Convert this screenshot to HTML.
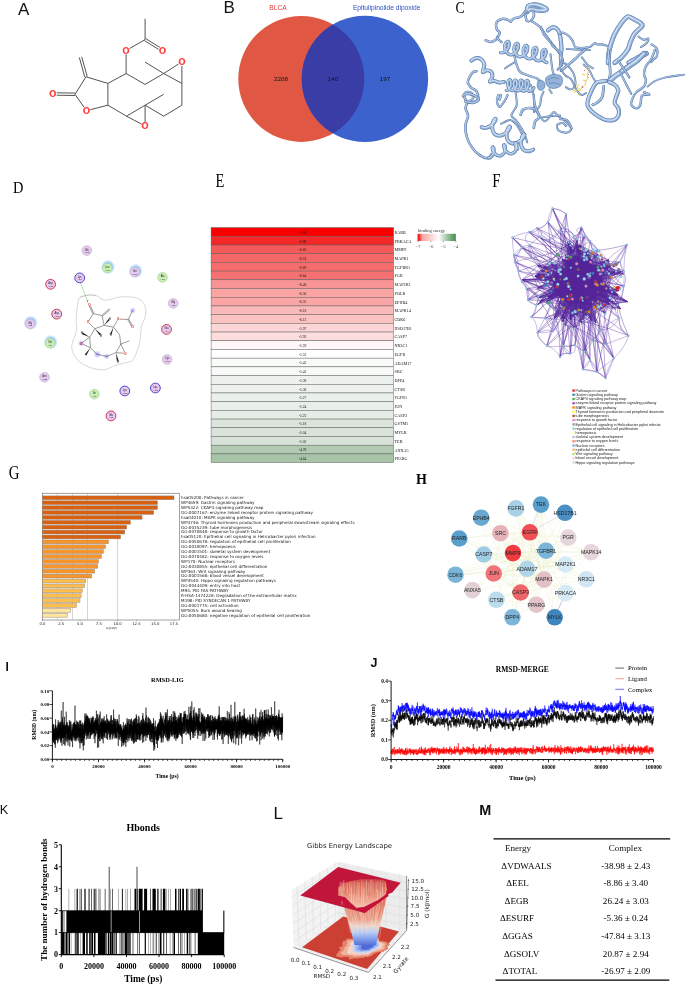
<!DOCTYPE html>
<html><head><meta charset="utf-8"><title>Figure</title>
<style>html,body{margin:0;padding:0;background:#fff;}svg{display:block;}</style>
</head><body>
<svg width="685" height="984" viewBox="0 0 685 984">
<rect width="685" height="984" fill="#fff"/>
<text x="18" y="14.8" font-size="17" font-family="'Liberation Sans',sans-serif" fill="#111">A</text>
<path d="M145.1 18.8L145.1 39.6M145.1 39.6L129.6 48.5M126.1 54.5L126.1 73.5M126.1 73.5L145.1 84.4M145.1 84.4L163.7 73.5M163.7 73.5L145.1 62.1M163.7 73.5L178.5 64M181.9 65.9L181.9 83.4M163.7 73.5L181.9 83.4M181.9 83.4L181.9 105.2M181.9 105.2L163.7 116.2M163.7 116.2L145.1 105.2M145.1 105.2L163.7 94.3M145.1 105.2L145.1 122M141.6 124.1L126.5 116.2M145.1 105.2L126.5 116.2M126.5 116.2L107.9 105.2M107.9 105.2L107.9 83.4M107.9 83.4L126.1 73.5M107.9 105.2L90.3 109.7M84.1 107.4L75 94.3M75 94.3L86 76.8M86 76.8L107.9 83.4M144.5 40.6L158.6 49.4M145.7 38.6L159.8 47.4M75 93.1L56.7 92.8M75 95.5L56.7 95.2M87.2 76.5L81.7 56.8M84.8 77.1L79.3 57.4" stroke="#4a4a4a" stroke-width="0.95" fill="none"/>
<text x="162.6" y="53.7" font-size="8.8" font-family="'DejaVu Sans',sans-serif" text-anchor="middle" font-weight="bold" fill="#ff4242">O</text>
<text x="145.1" y="129.2" font-size="8.8" font-family="'DejaVu Sans',sans-serif" text-anchor="middle" font-weight="bold" fill="#ff4242">O</text>
<text x="86.4" y="113.9" font-size="8.8" font-family="'DejaVu Sans',sans-serif" text-anchor="middle" font-weight="bold" fill="#ff4242">O</text>
<text x="52.7" y="97.1" font-size="8.8" font-family="'DejaVu Sans',sans-serif" text-anchor="middle" font-weight="bold" fill="#ff4242">O</text>
<text x="126.1" y="53.7" font-size="8.8" font-family="'DejaVu Sans',sans-serif" text-anchor="middle" font-weight="bold" fill="#ff4242">O</text>
<text x="181.9" y="65.1" font-size="8.8" font-family="'DejaVu Sans',sans-serif" text-anchor="middle" font-weight="bold" fill="#ff4242">O</text>
<text x="223.6" y="13.4" font-size="17" font-family="'Liberation Sans',sans-serif" fill="#111">B</text>
<text x="278" y="10.2" font-size="6.65" font-family="'Liberation Sans',sans-serif" text-anchor="middle" fill="#e03c36">BLCA</text>
<text x="386.7" y="10.2" font-size="6.65" font-family="'Liberation Sans',sans-serif" text-anchor="middle" fill="#2f4fc2">Epitulipinolide dipoxide</text>
<circle cx="301.3" cy="78.9" r="63" fill="#e05843"/>
<circle cx="364.9" cy="78.9" r="63.2" fill="#3c62cd"/>
<clipPath id="cr"><circle cx="301.3" cy="78.9" r="63"/></clipPath>
<circle cx="364.9" cy="78.9" r="63.2" fill="#3a3da5" clip-path="url(#cr)"/>
<text x="281" y="81.3" font-size="6.2" font-family="'Liberation Sans',sans-serif" text-anchor="middle" fill="#111">2208</text>
<text x="333" y="81.3" font-size="6.2" font-family="'Liberation Sans',sans-serif" text-anchor="middle" fill="#111">140</text>
<text x="385" y="81.3" font-size="6.2" font-family="'Liberation Sans',sans-serif" text-anchor="middle" fill="#111">197</text>
<text x="455.6" y="12.6" font-size="17.5" font-family="'Liberation Serif',serif" transform="translate(455.6 0) scale(0.78 1) translate(-455.6 0)">C</text>
<path d="M527.0 12.0C527.2 11.0 527.2 7.2 528.2 6.0C529.2 4.8 531.2 4.8 533.0 4.7C534.8 4.6 536.5 4.6 538.7 5.3C540.9 6.0 545.5 7.9 546.3 8.8C547.1 9.7 545.2 10.3 543.4 10.5C541.5 10.7 537.4 10.1 535.2 9.9C533.1 9.7 531.8 9.0 530.5 9.3C529.2 9.6 528.0 11.1 527.5 11.5" stroke="#4d6d9c" stroke-width="4.7" fill="none" stroke-linecap="round" stroke-linejoin="round"/>
<path d="M527.0 12.0C527.2 11.0 527.2 7.2 528.2 6.0C529.2 4.8 531.2 4.8 533.0 4.7C534.8 4.6 536.5 4.6 538.7 5.3C540.9 6.0 545.5 7.9 546.3 8.8C547.1 9.7 545.2 10.3 543.4 10.5C541.5 10.7 537.4 10.1 535.2 9.9C533.1 9.7 531.8 9.0 530.5 9.3C529.2 9.6 528.0 11.1 527.5 11.5" stroke="#8eaed7" stroke-width="3.9" fill="none" stroke-linecap="round" stroke-linejoin="round"/>
<path d="M527.0 12.0C527.2 11.0 527.2 7.2 528.2 6.0C529.2 4.8 531.2 4.8 533.0 4.7C534.8 4.6 536.5 4.6 538.7 5.3C540.9 6.0 545.5 7.9 546.3 8.8C547.1 9.7 545.2 10.3 543.4 10.5C541.5 10.7 537.4 10.1 535.2 9.9C533.1 9.7 531.8 9.0 530.5 9.3C529.2 9.6 528.0 11.1 527.5 11.5" stroke="#d3e2f4" stroke-width="1.36" fill="none" stroke-linecap="round" transform="translate(-0.3 -0.3)"/>
<path d="M524.7 11.7C524.8 12.4 525.1 14.4 525.5 16.0C525.9 17.6 526.0 20.4 527.0 21.0C528.0 21.6 530.5 20.9 531.7 19.9C532.9 18.9 533.8 16.7 534.0 15.2C534.2 13.7 533.2 11.7 533.0 11.0" stroke="#4d6d9c" stroke-width="2.5" fill="none" stroke-linecap="round" stroke-linejoin="round"/>
<path d="M524.7 11.7C524.8 12.4 525.1 14.4 525.5 16.0C525.9 17.6 526.0 20.4 527.0 21.0C528.0 21.6 530.5 20.9 531.7 19.9C532.9 18.9 533.8 16.7 534.0 15.2C534.2 13.7 533.2 11.7 533.0 11.0" stroke="#8eaed7" stroke-width="1.7" fill="none" stroke-linecap="round" stroke-linejoin="round"/>
<path d="M524.7 11.7C524.8 12.4 525.1 14.4 525.5 16.0C525.9 17.6 526.0 20.4 527.0 21.0C528.0 21.6 530.5 20.9 531.7 19.9C532.9 18.9 533.8 16.7 534.0 15.2C534.2 13.7 533.2 11.7 533.0 11.0" stroke="#d3e2f4" stroke-width="0.58" fill="none" stroke-linecap="round" transform="translate(-0.3 -0.3)"/>
<path d="M527.0 11.7C526.7 11.7 526.2 11.0 525.4 11.7C524.5 12.4 523.1 14.8 521.9 15.8C520.7 16.8 519.6 17.1 518.4 17.5C517.2 17.9 516.0 17.7 514.9 18.1C513.8 18.5 512.7 19.3 512.0 19.9C511.3 20.5 511.5 21.6 510.8 21.6C510.1 21.6 509.2 20.4 507.9 19.9C506.6 19.4 504.8 18.6 503.2 18.7C501.6 18.8 499.7 19.6 498.5 20.4C497.3 21.2 496.5 21.9 496.2 23.4C495.9 24.9 496.2 27.6 496.8 29.2C497.4 30.8 499.6 31.3 499.7 32.7C499.8 34.1 498.2 36.1 497.4 37.4C496.6 38.7 496.2 39.5 495.0 40.3C493.8 41.1 491.9 42.0 490.4 42.0C488.8 42.0 486.5 40.6 485.7 40.3" stroke="#4d6d9c" stroke-width="2.5" fill="none" stroke-linecap="round" stroke-linejoin="round"/>
<path d="M527.0 11.7C526.7 11.7 526.2 11.0 525.4 11.7C524.5 12.4 523.1 14.8 521.9 15.8C520.7 16.8 519.6 17.1 518.4 17.5C517.2 17.9 516.0 17.7 514.9 18.1C513.8 18.5 512.7 19.3 512.0 19.9C511.3 20.5 511.5 21.6 510.8 21.6C510.1 21.6 509.2 20.4 507.9 19.9C506.6 19.4 504.8 18.6 503.2 18.7C501.6 18.8 499.7 19.6 498.5 20.4C497.3 21.2 496.5 21.9 496.2 23.4C495.9 24.9 496.2 27.6 496.8 29.2C497.4 30.8 499.6 31.3 499.7 32.7C499.8 34.1 498.2 36.1 497.4 37.4C496.6 38.7 496.2 39.5 495.0 40.3C493.8 41.1 491.9 42.0 490.4 42.0C488.8 42.0 486.5 40.6 485.7 40.3" stroke="#8eaed7" stroke-width="1.7" fill="none" stroke-linecap="round" stroke-linejoin="round"/>
<path d="M527.0 11.7C526.7 11.7 526.2 11.0 525.4 11.7C524.5 12.4 523.1 14.8 521.9 15.8C520.7 16.8 519.6 17.1 518.4 17.5C517.2 17.9 516.0 17.7 514.9 18.1C513.8 18.5 512.7 19.3 512.0 19.9C511.3 20.5 511.5 21.6 510.8 21.6C510.1 21.6 509.2 20.4 507.9 19.9C506.6 19.4 504.8 18.6 503.2 18.7C501.6 18.8 499.7 19.6 498.5 20.4C497.3 21.2 496.5 21.9 496.2 23.4C495.9 24.9 496.2 27.6 496.8 29.2C497.4 30.8 499.6 31.3 499.7 32.7C499.8 34.1 498.2 36.1 497.4 37.4C496.6 38.7 496.2 39.5 495.0 40.3C493.8 41.1 491.9 42.0 490.4 42.0C488.8 42.0 486.5 40.6 485.7 40.3" stroke="#d3e2f4" stroke-width="0.58" fill="none" stroke-linecap="round" transform="translate(-0.3 -0.3)"/>
<path d="M497.4 37.4C497.7 37.8 498.3 39.2 499.0 40.0C499.7 40.8 501.1 41.7 501.5 42.0" stroke="#4d6d9c" stroke-width="2.5" fill="none" stroke-linecap="round" stroke-linejoin="round"/>
<path d="M497.4 37.4C497.7 37.8 498.3 39.2 499.0 40.0C499.7 40.8 501.1 41.7 501.5 42.0" stroke="#8eaed7" stroke-width="1.7" fill="none" stroke-linecap="round" stroke-linejoin="round"/>
<path d="M497.4 37.4C497.7 37.8 498.3 39.2 499.0 40.0C499.7 40.8 501.1 41.7 501.5 42.0" stroke="#d3e2f4" stroke-width="0.58" fill="none" stroke-linecap="round" transform="translate(-0.3 -0.3)"/>
<path d="M531.7 21.0C533.1 22.0 537.6 24.6 539.9 26.9C542.2 29.2 543.6 32.1 545.7 35.0C547.8 37.9 550.4 41.3 552.7 44.4C555.0 47.5 558.0 51.1 559.7 53.7C561.4 56.3 562.5 59.0 563.0 60.0" stroke="#4d6d9c" stroke-width="2.2" fill="none" stroke-linecap="round" stroke-linejoin="round"/>
<path d="M531.7 21.0C533.1 22.0 537.6 24.6 539.9 26.9C542.2 29.2 543.6 32.1 545.7 35.0C547.8 37.9 550.4 41.3 552.7 44.4C555.0 47.5 558.0 51.1 559.7 53.7C561.4 56.3 562.5 59.0 563.0 60.0" stroke="#8eaed7" stroke-width="1.4" fill="none" stroke-linecap="round" stroke-linejoin="round"/>
<path d="M531.7 21.0C533.1 22.0 537.6 24.6 539.9 26.9C542.2 29.2 543.6 32.1 545.7 35.0C547.8 37.9 550.4 41.3 552.7 44.4C555.0 47.5 558.0 51.1 559.7 53.7C561.4 56.3 562.5 59.0 563.0 60.0" stroke="#d3e2f4" stroke-width="0.50" fill="none" stroke-linecap="round" transform="translate(-0.3 -0.3)"/>
<path d="M541.0 26.9C541.4 28.1 542.2 31.8 543.4 33.9C544.6 36.0 546.7 38.2 548.0 39.7C549.3 41.2 550.5 42.5 551.0 43.0" stroke="#4d6d9c" stroke-width="2.0" fill="none" stroke-linecap="round" stroke-linejoin="round"/>
<path d="M541.0 26.9C541.4 28.1 542.2 31.8 543.4 33.9C544.6 36.0 546.7 38.2 548.0 39.7C549.3 41.2 550.5 42.5 551.0 43.0" stroke="#8eaed7" stroke-width="1.2" fill="none" stroke-linecap="round" stroke-linejoin="round"/>
<path d="M541.0 26.9C541.4 28.1 542.2 31.8 543.4 33.9C544.6 36.0 546.7 38.2 548.0 39.7C549.3 41.2 550.5 42.5 551.0 43.0" stroke="#d3e2f4" stroke-width="0.42" fill="none" stroke-linecap="round" transform="translate(-0.3 -0.3)"/>
<path d="M548.0 30.4C548.8 29.9 551.1 27.6 552.7 27.4C554.3 27.2 556.2 28.1 557.4 29.2C558.6 30.3 559.1 31.9 559.7 33.9C560.3 35.9 560.6 38.4 560.9 40.9C561.2 43.4 561.5 46.9 561.5 49.0C561.5 51.1 561.0 51.8 560.9 53.7C560.8 55.6 561.0 58.3 561.0 60.2C561.0 62.1 561.0 64.1 561.0 64.9" stroke="#4d6d9c" stroke-width="4.1" fill="none" stroke-linecap="round" stroke-linejoin="round"/>
<path d="M548.0 30.4C548.8 29.9 551.1 27.6 552.7 27.4C554.3 27.2 556.2 28.1 557.4 29.2C558.6 30.3 559.1 31.9 559.7 33.9C560.3 35.9 560.6 38.4 560.9 40.9C561.2 43.4 561.5 46.9 561.5 49.0C561.5 51.1 561.0 51.8 560.9 53.7C560.8 55.6 561.0 58.3 561.0 60.2C561.0 62.1 561.0 64.1 561.0 64.9" stroke="#8eaed7" stroke-width="3.3" fill="none" stroke-linecap="round" stroke-linejoin="round"/>
<path d="M548.0 30.4C548.8 29.9 551.1 27.6 552.7 27.4C554.3 27.2 556.2 28.1 557.4 29.2C558.6 30.3 559.1 31.9 559.7 33.9C560.3 35.9 560.6 38.4 560.9 40.9C561.2 43.4 561.5 46.9 561.5 49.0C561.5 51.1 561.0 51.8 560.9 53.7C560.8 55.6 561.0 58.3 561.0 60.2C561.0 62.1 561.0 64.1 561.0 64.9" stroke="#d3e2f4" stroke-width="1.16" fill="none" stroke-linecap="round" transform="translate(-0.3 -0.3)"/>
<path d="M559.7 33.9C560.3 33.7 561.7 32.3 563.2 32.7C564.8 33.1 567.4 34.8 569.0 36.2C570.6 37.6 571.6 39.1 572.6 40.9C573.6 42.6 573.9 45.5 574.9 46.7C575.9 47.9 576.8 47.7 578.4 47.9C580.0 48.1 582.2 48.1 584.2 47.9C586.2 47.7 588.4 47.5 590.1 46.7C591.9 45.9 593.5 43.6 594.7 43.2C595.9 42.8 596.0 44.2 597.1 44.4C598.2 44.6 600.0 44.2 601.6 44.4C603.2 44.6 605.9 45.5 606.8 45.7" stroke="#4d6d9c" stroke-width="2.1" fill="none" stroke-linecap="round" stroke-linejoin="round"/>
<path d="M559.7 33.9C560.3 33.7 561.7 32.3 563.2 32.7C564.8 33.1 567.4 34.8 569.0 36.2C570.6 37.6 571.6 39.1 572.6 40.9C573.6 42.6 573.9 45.5 574.9 46.7C575.9 47.9 576.8 47.7 578.4 47.9C580.0 48.1 582.2 48.1 584.2 47.9C586.2 47.7 588.4 47.5 590.1 46.7C591.9 45.9 593.5 43.6 594.7 43.2C595.9 42.8 596.0 44.2 597.1 44.4C598.2 44.6 600.0 44.2 601.6 44.4C603.2 44.6 605.9 45.5 606.8 45.7" stroke="#8eaed7" stroke-width="1.3" fill="none" stroke-linecap="round" stroke-linejoin="round"/>
<path d="M559.7 33.9C560.3 33.7 561.7 32.3 563.2 32.7C564.8 33.1 567.4 34.8 569.0 36.2C570.6 37.6 571.6 39.1 572.6 40.9C573.6 42.6 573.9 45.5 574.9 46.7C575.9 47.9 576.8 47.7 578.4 47.9C580.0 48.1 582.2 48.1 584.2 47.9C586.2 47.7 588.4 47.5 590.1 46.7C591.9 45.9 593.5 43.6 594.7 43.2C595.9 42.8 596.0 44.2 597.1 44.4C598.2 44.6 600.0 44.2 601.6 44.4C603.2 44.6 605.9 45.5 606.8 45.7" stroke="#d3e2f4" stroke-width="0.46" fill="none" stroke-linecap="round" transform="translate(-0.3 -0.3)"/>
<path d="M566.7 49.0C568.1 49.1 572.5 49.3 575.0 49.5C577.5 49.7 579.5 49.9 582.0 50.0C584.5 50.1 588.7 50.2 590.0 50.2" stroke="#4d6d9c" stroke-width="1.8" fill="none" stroke-linecap="round" stroke-linejoin="round"/>
<path d="M566.7 49.0C568.1 49.1 572.5 49.3 575.0 49.5C577.5 49.7 579.5 49.9 582.0 50.0C584.5 50.1 588.7 50.2 590.0 50.2" stroke="#8eaed7" stroke-width="1.0" fill="none" stroke-linecap="round" stroke-linejoin="round"/>
<path d="M566.7 49.0C568.1 49.1 572.5 49.3 575.0 49.5C577.5 49.7 579.5 49.9 582.0 50.0C584.5 50.1 588.7 50.2 590.0 50.2" stroke="#d3e2f4" stroke-width="0.35" fill="none" stroke-linecap="round" transform="translate(-0.3 -0.3)"/>
<path d="M550.5 54.3C550.7 56.1 551.3 62.0 551.7 64.9C552.1 67.8 552.5 70.4 552.9 71.9C553.3 73.5 553.8 73.8 554.0 74.2" stroke="#4d6d9c" stroke-width="2.0" fill="none" stroke-linecap="round" stroke-linejoin="round"/>
<path d="M550.5 54.3C550.7 56.1 551.3 62.0 551.7 64.9C552.1 67.8 552.5 70.4 552.9 71.9C553.3 73.5 553.8 73.8 554.0 74.2" stroke="#8eaed7" stroke-width="1.2" fill="none" stroke-linecap="round" stroke-linejoin="round"/>
<path d="M550.5 54.3C550.7 56.1 551.3 62.0 551.7 64.9C552.1 67.8 552.5 70.4 552.9 71.9C553.3 73.5 553.8 73.8 554.0 74.2" stroke="#d3e2f4" stroke-width="0.42" fill="none" stroke-linecap="round" transform="translate(-0.3 -0.3)"/>
<path d="M514.3 55.5C514.7 57.1 515.7 62.2 516.7 64.9C517.7 67.6 518.2 70.2 520.2 71.9C522.2 73.7 525.7 74.3 528.4 75.4C531.1 76.5 534.6 77.3 536.5 78.3C538.4 79.3 539.4 80.7 540.0 81.2" stroke="#4d6d9c" stroke-width="2.2" fill="none" stroke-linecap="round" stroke-linejoin="round"/>
<path d="M514.3 55.5C514.7 57.1 515.7 62.2 516.7 64.9C517.7 67.6 518.2 70.2 520.2 71.9C522.2 73.7 525.7 74.3 528.4 75.4C531.1 76.5 534.6 77.3 536.5 78.3C538.4 79.3 539.4 80.7 540.0 81.2" stroke="#8eaed7" stroke-width="1.4" fill="none" stroke-linecap="round" stroke-linejoin="round"/>
<path d="M514.3 55.5C514.7 57.1 515.7 62.2 516.7 64.9C517.7 67.6 518.2 70.2 520.2 71.9C522.2 73.7 525.7 74.3 528.4 75.4C531.1 76.5 534.6 77.3 536.5 78.3C538.4 79.3 539.4 80.7 540.0 81.2" stroke="#d3e2f4" stroke-width="0.50" fill="none" stroke-linecap="round" transform="translate(-0.3 -0.3)"/>
<path d="M505.0 68.4C505.8 67.8 508.4 66.0 510.0 65.0C511.6 64.0 513.6 62.9 514.3 62.5" stroke="#4d6d9c" stroke-width="1.8" fill="none" stroke-linecap="round" stroke-linejoin="round"/>
<path d="M505.0 68.4C505.8 67.8 508.4 66.0 510.0 65.0C511.6 64.0 513.6 62.9 514.3 62.5" stroke="#8eaed7" stroke-width="1.0" fill="none" stroke-linecap="round" stroke-linejoin="round"/>
<path d="M505.0 68.4C505.8 67.8 508.4 66.0 510.0 65.0C511.6 64.0 513.6 62.9 514.3 62.5" stroke="#d3e2f4" stroke-width="0.35" fill="none" stroke-linecap="round" transform="translate(-0.3 -0.3)"/>
<path d="M549.4 89.4C549.8 90.0 551.3 92.3 551.7 92.9" stroke="#4d6d9c" stroke-width="1.9" fill="none" stroke-linecap="round" stroke-linejoin="round"/>
<path d="M549.4 89.4C549.8 90.0 551.3 92.3 551.7 92.9" stroke="#8eaed7" stroke-width="1.1" fill="none" stroke-linecap="round" stroke-linejoin="round"/>
<path d="M549.4 89.4C549.8 90.0 551.3 92.3 551.7 92.9" stroke="#d3e2f4" stroke-width="0.39" fill="none" stroke-linecap="round" transform="translate(-0.3 -0.3)"/>
<path d="M551.7 45.0C552.2 45.5 553.6 46.8 555.0 48.0C556.4 49.2 558.7 50.4 559.9 52.0C561.1 53.6 562.0 55.6 562.2 57.8C562.4 59.9 561.8 63.0 561.0 64.9C560.2 66.9 558.2 68.7 557.6 69.5" stroke="#4d6d9c" stroke-width="2.2" fill="none" stroke-linecap="round" stroke-linejoin="round"/>
<path d="M551.7 45.0C552.2 45.5 553.6 46.8 555.0 48.0C556.4 49.2 558.7 50.4 559.9 52.0C561.1 53.6 562.0 55.6 562.2 57.8C562.4 59.9 561.8 63.0 561.0 64.9C560.2 66.9 558.2 68.7 557.6 69.5" stroke="#8eaed7" stroke-width="1.4" fill="none" stroke-linecap="round" stroke-linejoin="round"/>
<path d="M551.7 45.0C552.2 45.5 553.6 46.8 555.0 48.0C556.4 49.2 558.7 50.4 559.9 52.0C561.1 53.6 562.0 55.6 562.2 57.8C562.4 59.9 561.8 63.0 561.0 64.9C560.2 66.9 558.2 68.7 557.6 69.5" stroke="#d3e2f4" stroke-width="0.50" fill="none" stroke-linecap="round" transform="translate(-0.3 -0.3)"/>
<path d="M559.9 60.2C561.3 61.2 566.0 64.0 568.1 66.0C570.2 68.0 571.5 69.8 572.7 71.9C573.9 74.1 574.7 76.6 575.1 78.9C575.5 81.2 575.9 84.2 575.1 85.9C574.3 87.7 572.0 89.2 570.4 89.4C568.8 89.6 566.5 87.4 565.7 87.0" stroke="#4d6d9c" stroke-width="1.9" fill="none" stroke-linecap="round" stroke-linejoin="round"/>
<path d="M559.9 60.2C561.3 61.2 566.0 64.0 568.1 66.0C570.2 68.0 571.5 69.8 572.7 71.9C573.9 74.1 574.7 76.6 575.1 78.9C575.5 81.2 575.9 84.2 575.1 85.9C574.3 87.7 572.0 89.2 570.4 89.4C568.8 89.6 566.5 87.4 565.7 87.0" stroke="#8eaed7" stroke-width="1.1" fill="none" stroke-linecap="round" stroke-linejoin="round"/>
<path d="M559.9 60.2C561.3 61.2 566.0 64.0 568.1 66.0C570.2 68.0 571.5 69.8 572.7 71.9C573.9 74.1 574.7 76.6 575.1 78.9C575.5 81.2 575.9 84.2 575.1 85.9C574.3 87.7 572.0 89.2 570.4 89.4C568.8 89.6 566.5 87.4 565.7 87.0" stroke="#d3e2f4" stroke-width="0.39" fill="none" stroke-linecap="round" transform="translate(-0.3 -0.3)"/>
<path d="M561.0 70.7C562.2 69.8 565.6 67.0 568.0 65.0C570.4 63.0 573.1 60.8 575.1 59.0C577.1 57.2 578.4 55.5 580.0 54.0C581.6 52.5 584.2 50.4 585.0 49.7" stroke="#4d6d9c" stroke-width="2.6" fill="none" stroke-linecap="round" stroke-linejoin="round"/>
<path d="M561.0 70.7C562.2 69.8 565.6 67.0 568.0 65.0C570.4 63.0 573.1 60.8 575.1 59.0C577.1 57.2 578.4 55.5 580.0 54.0C581.6 52.5 584.2 50.4 585.0 49.7" stroke="#8eaed7" stroke-width="1.8" fill="none" stroke-linecap="round" stroke-linejoin="round"/>
<path d="M561.0 70.7C562.2 69.8 565.6 67.0 568.0 65.0C570.4 63.0 573.1 60.8 575.1 59.0C577.1 57.2 578.4 55.5 580.0 54.0C581.6 52.5 584.2 50.4 585.0 49.7" stroke="#d3e2f4" stroke-width="0.62" fill="none" stroke-linecap="round" transform="translate(-0.3 -0.3)"/>
<path d="M560.0 68.2C560.9 69.4 563.7 73.7 565.5 75.5C567.3 77.3 569.5 77.4 571.0 79.2C572.5 81.0 574.0 85.3 574.6 86.5" stroke="#4d6d9c" stroke-width="1.8" fill="none" stroke-linecap="round" stroke-linejoin="round"/>
<path d="M560.0 68.2C560.9 69.4 563.7 73.7 565.5 75.5C567.3 77.3 569.5 77.4 571.0 79.2C572.5 81.0 574.0 85.3 574.6 86.5" stroke="#8eaed7" stroke-width="1.0" fill="none" stroke-linecap="round" stroke-linejoin="round"/>
<path d="M560.0 68.2C560.9 69.4 563.7 73.7 565.5 75.5C567.3 77.3 569.5 77.4 571.0 79.2C572.5 81.0 574.0 85.3 574.6 86.5" stroke="#d3e2f4" stroke-width="0.35" fill="none" stroke-linecap="round" transform="translate(-0.3 -0.3)"/>
<path d="M581.9 57.3C582.8 58.5 585.6 62.8 587.4 64.6C589.2 66.4 591.9 67.6 592.8 68.2" stroke="#4d6d9c" stroke-width="2.0" fill="none" stroke-linecap="round" stroke-linejoin="round"/>
<path d="M581.9 57.3C582.8 58.5 585.6 62.8 587.4 64.6C589.2 66.4 591.9 67.6 592.8 68.2" stroke="#8eaed7" stroke-width="1.2" fill="none" stroke-linecap="round" stroke-linejoin="round"/>
<path d="M581.9 57.3C582.8 58.5 585.6 62.8 587.4 64.6C589.2 66.4 591.9 67.6 592.8 68.2" stroke="#d3e2f4" stroke-width="0.42" fill="none" stroke-linecap="round" transform="translate(-0.3 -0.3)"/>
<path d="M583.7 64.6C584.6 65.5 587.7 68.0 589.2 70.1C590.7 72.2 591.6 75.3 592.8 77.4C594.0 79.5 595.9 81.9 596.5 82.8" stroke="#4d6d9c" stroke-width="1.9" fill="none" stroke-linecap="round" stroke-linejoin="round"/>
<path d="M583.7 64.6C584.6 65.5 587.7 68.0 589.2 70.1C590.7 72.2 591.6 75.3 592.8 77.4C594.0 79.5 595.9 81.9 596.5 82.8" stroke="#8eaed7" stroke-width="1.1" fill="none" stroke-linecap="round" stroke-linejoin="round"/>
<path d="M583.7 64.6C584.6 65.5 587.7 68.0 589.2 70.1C590.7 72.2 591.6 75.3 592.8 77.4C594.0 79.5 595.9 81.9 596.5 82.8" stroke="#d3e2f4" stroke-width="0.39" fill="none" stroke-linecap="round" transform="translate(-0.3 -0.3)"/>
<path d="M608.1 62.8C608.2 61.0 608.5 55.1 609.0 52.0C609.5 48.9 609.8 47.4 610.8 44.4C611.8 41.4 613.0 37.4 614.7 33.9C616.5 30.4 619.1 26.2 621.3 23.4C623.5 20.5 625.6 17.4 627.8 16.8C630.0 16.2 632.2 18.4 634.4 19.5C636.6 20.6 639.7 22.3 641.0 23.4C642.3 24.5 642.5 25.1 642.3 26.0C642.1 26.9 641.0 27.4 639.7 28.7C638.4 30.0 635.9 31.7 634.4 33.9C632.9 36.1 631.6 39.2 630.5 41.8C629.4 44.4 629.3 47.1 627.8 49.7C626.3 52.3 623.5 55.4 621.3 57.6C619.1 59.8 615.8 61.9 614.7 62.8" stroke="#4d6d9c" stroke-width="4.7" fill="none" stroke-linecap="round" stroke-linejoin="round"/>
<path d="M608.1 62.8C608.2 61.0 608.5 55.1 609.0 52.0C609.5 48.9 609.8 47.4 610.8 44.4C611.8 41.4 613.0 37.4 614.7 33.9C616.5 30.4 619.1 26.2 621.3 23.4C623.5 20.5 625.6 17.4 627.8 16.8C630.0 16.2 632.2 18.4 634.4 19.5C636.6 20.6 639.7 22.3 641.0 23.4C642.3 24.5 642.5 25.1 642.3 26.0C642.1 26.9 641.0 27.4 639.7 28.7C638.4 30.0 635.9 31.7 634.4 33.9C632.9 36.1 631.6 39.2 630.5 41.8C629.4 44.4 629.3 47.1 627.8 49.7C626.3 52.3 623.5 55.4 621.3 57.6C619.1 59.8 615.8 61.9 614.7 62.8" stroke="#8eaed7" stroke-width="3.9" fill="none" stroke-linecap="round" stroke-linejoin="round"/>
<path d="M608.1 62.8C608.2 61.0 608.5 55.1 609.0 52.0C609.5 48.9 609.8 47.4 610.8 44.4C611.8 41.4 613.0 37.4 614.7 33.9C616.5 30.4 619.1 26.2 621.3 23.4C623.5 20.5 625.6 17.4 627.8 16.8C630.0 16.2 632.2 18.4 634.4 19.5C636.6 20.6 639.7 22.3 641.0 23.4C642.3 24.5 642.5 25.1 642.3 26.0C642.1 26.9 641.0 27.4 639.7 28.7C638.4 30.0 635.9 31.7 634.4 33.9C632.9 36.1 631.6 39.2 630.5 41.8C629.4 44.4 629.3 47.1 627.8 49.7C626.3 52.3 623.5 55.4 621.3 57.6C619.1 59.8 615.8 61.9 614.7 62.8" stroke="#d3e2f4" stroke-width="1.36" fill="none" stroke-linecap="round" transform="translate(-0.3 -0.3)"/>
<path d="M638.4 36.5C639.3 37.0 642.0 39.5 643.6 39.8C645.2 40.1 647.5 38.2 648.2 38.5C648.9 38.8 648.1 40.8 647.6 41.8C647.1 42.8 646.1 43.5 645.0 44.4C643.9 45.3 641.7 46.6 641.0 47.0" stroke="#4d6d9c" stroke-width="2.0" fill="none" stroke-linecap="round" stroke-linejoin="round"/>
<path d="M638.4 36.5C639.3 37.0 642.0 39.5 643.6 39.8C645.2 40.1 647.5 38.2 648.2 38.5C648.9 38.8 648.1 40.8 647.6 41.8C647.1 42.8 646.1 43.5 645.0 44.4C643.9 45.3 641.7 46.6 641.0 47.0" stroke="#8eaed7" stroke-width="1.2" fill="none" stroke-linecap="round" stroke-linejoin="round"/>
<path d="M638.4 36.5C639.3 37.0 642.0 39.5 643.6 39.8C645.2 40.1 647.5 38.2 648.2 38.5C648.9 38.8 648.1 40.8 647.6 41.8C647.1 42.8 646.1 43.5 645.0 44.4C643.9 45.3 641.7 46.6 641.0 47.0" stroke="#d3e2f4" stroke-width="0.42" fill="none" stroke-linecap="round" transform="translate(-0.3 -0.3)"/>
<path d="M629.2 62.8C630.3 62.2 634.0 60.1 636.0 59.0C638.0 57.9 639.3 56.9 641.0 56.0C642.7 55.1 645.3 54.0 646.2 53.6" stroke="#4d6d9c" stroke-width="5.3" fill="none" stroke-linecap="round" stroke-linejoin="round"/>
<path d="M629.2 62.8C630.3 62.2 634.0 60.1 636.0 59.0C638.0 57.9 639.3 56.9 641.0 56.0C642.7 55.1 645.3 54.0 646.2 53.6" stroke="#8eaed7" stroke-width="4.5" fill="none" stroke-linecap="round" stroke-linejoin="round"/>
<path d="M629.2 62.8C630.3 62.2 634.0 60.1 636.0 59.0C638.0 57.9 639.3 56.9 641.0 56.0C642.7 55.1 645.3 54.0 646.2 53.6" stroke="#d3e2f4" stroke-width="1.57" fill="none" stroke-linecap="round" transform="translate(-0.3 -0.3)"/>
<path d="M651.5 44.4C652.4 45.1 655.9 46.4 656.8 48.4C657.7 50.4 657.3 54.4 656.8 56.2C656.3 58.0 654.9 58.0 654.0 59.0C653.1 60.0 651.7 61.5 651.2 62.0" stroke="#4d6d9c" stroke-width="2.2" fill="none" stroke-linecap="round" stroke-linejoin="round"/>
<path d="M651.5 44.4C652.4 45.1 655.9 46.4 656.8 48.4C657.7 50.4 657.3 54.4 656.8 56.2C656.3 58.0 654.9 58.0 654.0 59.0C653.1 60.0 651.7 61.5 651.2 62.0" stroke="#8eaed7" stroke-width="1.4" fill="none" stroke-linecap="round" stroke-linejoin="round"/>
<path d="M651.5 44.4C652.4 45.1 655.9 46.4 656.8 48.4C657.7 50.4 657.3 54.4 656.8 56.2C656.3 58.0 654.9 58.0 654.0 59.0C653.1 60.0 651.7 61.5 651.2 62.0" stroke="#d3e2f4" stroke-width="0.50" fill="none" stroke-linecap="round" transform="translate(-0.3 -0.3)"/>
<path d="M608.4 50.0C608.5 51.8 609.0 57.0 609.3 61.0C609.6 65.0 610.4 70.4 610.2 73.7C610.1 77.0 608.7 79.8 608.4 81.0" stroke="#4d6d9c" stroke-width="2.6" fill="none" stroke-linecap="round" stroke-linejoin="round"/>
<path d="M608.4 50.0C608.5 51.8 609.0 57.0 609.3 61.0C609.6 65.0 610.4 70.4 610.2 73.7C610.1 77.0 608.7 79.8 608.4 81.0" stroke="#8eaed7" stroke-width="1.8" fill="none" stroke-linecap="round" stroke-linejoin="round"/>
<path d="M608.4 50.0C608.5 51.8 609.0 57.0 609.3 61.0C609.6 65.0 610.4 70.4 610.2 73.7C610.1 77.0 608.7 79.8 608.4 81.0" stroke="#d3e2f4" stroke-width="0.62" fill="none" stroke-linecap="round" transform="translate(-0.3 -0.3)"/>
<path d="M609.3 81.0C610.4 80.1 613.6 77.3 616.0 75.5C618.4 73.7 621.6 71.7 623.9 70.0C626.2 68.3 627.9 67.0 630.0 65.5C632.1 64.0 634.3 63.0 636.6 61.0C638.9 59.0 642.8 54.8 644.0 53.6" stroke="#4d6d9c" stroke-width="5.3" fill="none" stroke-linecap="round" stroke-linejoin="round"/>
<path d="M609.3 81.0C610.4 80.1 613.6 77.3 616.0 75.5C618.4 73.7 621.6 71.7 623.9 70.0C626.2 68.3 627.9 67.0 630.0 65.5C632.1 64.0 634.3 63.0 636.6 61.0C638.9 59.0 642.8 54.8 644.0 53.6" stroke="#8eaed7" stroke-width="4.5" fill="none" stroke-linecap="round" stroke-linejoin="round"/>
<path d="M609.3 81.0C610.4 80.1 613.6 77.3 616.0 75.5C618.4 73.7 621.6 71.7 623.9 70.0C626.2 68.3 627.9 67.0 630.0 65.5C632.1 64.0 634.3 63.0 636.6 61.0C638.9 59.0 642.8 54.8 644.0 53.6" stroke="#d3e2f4" stroke-width="1.57" fill="none" stroke-linecap="round" transform="translate(-0.3 -0.3)"/>
<path d="M618.4 61.0C619.3 62.3 622.2 66.3 624.0 69.0C625.8 71.7 628.4 76.0 629.3 77.4" stroke="#4d6d9c" stroke-width="2.3" fill="none" stroke-linecap="round" stroke-linejoin="round"/>
<path d="M618.4 61.0C619.3 62.3 622.2 66.3 624.0 69.0C625.8 71.7 628.4 76.0 629.3 77.4" stroke="#8eaed7" stroke-width="1.5" fill="none" stroke-linecap="round" stroke-linejoin="round"/>
<path d="M618.4 61.0C619.3 62.3 622.2 66.3 624.0 69.0C625.8 71.7 628.4 76.0 629.3 77.4" stroke="#d3e2f4" stroke-width="0.54" fill="none" stroke-linecap="round" transform="translate(-0.3 -0.3)"/>
<path d="M620.2 71.9C621.0 73.6 623.2 78.3 625.0 82.0C626.8 85.7 630.2 91.8 631.2 93.8" stroke="#4d6d9c" stroke-width="2.1" fill="none" stroke-linecap="round" stroke-linejoin="round"/>
<path d="M620.2 71.9C621.0 73.6 623.2 78.3 625.0 82.0C626.8 85.7 630.2 91.8 631.2 93.8" stroke="#8eaed7" stroke-width="1.3" fill="none" stroke-linecap="round" stroke-linejoin="round"/>
<path d="M620.2 71.9C621.0 73.6 623.2 78.3 625.0 82.0C626.8 85.7 630.2 91.8 631.2 93.8" stroke="#d3e2f4" stroke-width="0.46" fill="none" stroke-linecap="round" transform="translate(-0.3 -0.3)"/>
<path d="M605.6 81.0C604.1 81.3 598.9 81.0 596.5 82.8C594.1 84.6 592.5 88.6 591.0 92.0C589.5 95.4 587.7 100.3 587.4 103.0C587.1 105.7 588.0 106.6 589.2 108.4C590.4 110.2 592.3 112.1 594.7 113.9C597.1 115.7 600.8 118.2 603.8 119.3C606.8 120.4 610.5 120.9 612.9 120.3C615.3 119.7 617.5 117.7 618.4 115.7C619.3 113.7 619.0 110.5 618.4 108.4C617.8 106.3 615.0 105.1 614.7 103.0C614.4 100.9 616.0 97.8 616.6 95.6C617.2 93.4 618.7 91.9 618.4 90.1C618.1 88.3 616.3 86.0 614.7 84.7C613.1 83.4 610.0 82.5 609.0 82.0" stroke="#4d6d9c" stroke-width="4.0" fill="none" stroke-linecap="round" stroke-linejoin="round"/>
<path d="M605.6 81.0C604.1 81.3 598.9 81.0 596.5 82.8C594.1 84.6 592.5 88.6 591.0 92.0C589.5 95.4 587.7 100.3 587.4 103.0C587.1 105.7 588.0 106.6 589.2 108.4C590.4 110.2 592.3 112.1 594.7 113.9C597.1 115.7 600.8 118.2 603.8 119.3C606.8 120.4 610.5 120.9 612.9 120.3C615.3 119.7 617.5 117.7 618.4 115.7C619.3 113.7 619.0 110.5 618.4 108.4C617.8 106.3 615.0 105.1 614.7 103.0C614.4 100.9 616.0 97.8 616.6 95.6C617.2 93.4 618.7 91.9 618.4 90.1C618.1 88.3 616.3 86.0 614.7 84.7C613.1 83.4 610.0 82.5 609.0 82.0" stroke="#8eaed7" stroke-width="3.2" fill="none" stroke-linecap="round" stroke-linejoin="round"/>
<path d="M605.6 81.0C604.1 81.3 598.9 81.0 596.5 82.8C594.1 84.6 592.5 88.6 591.0 92.0C589.5 95.4 587.7 100.3 587.4 103.0C587.1 105.7 588.0 106.6 589.2 108.4C590.4 110.2 592.3 112.1 594.7 113.9C597.1 115.7 600.8 118.2 603.8 119.3C606.8 120.4 610.5 120.9 612.9 120.3C615.3 119.7 617.5 117.7 618.4 115.7C619.3 113.7 619.0 110.5 618.4 108.4C617.8 106.3 615.0 105.1 614.7 103.0C614.4 100.9 616.0 97.8 616.6 95.6C617.2 93.4 618.7 91.9 618.4 90.1C618.1 88.3 616.3 86.0 614.7 84.7C613.1 83.4 610.0 82.5 609.0 82.0" stroke="#d3e2f4" stroke-width="1.10" fill="none" stroke-linecap="round" transform="translate(-0.3 -0.3)"/>
<path d="M603.8 86.5C603.5 88.3 603.2 94.7 602.0 97.4C600.8 100.2 598.0 101.8 596.5 103.0C595.0 104.2 593.4 104.4 592.8 104.7" stroke="#4d6d9c" stroke-width="2.8" fill="none" stroke-linecap="round" stroke-linejoin="round"/>
<path d="M603.8 86.5C603.5 88.3 603.2 94.7 602.0 97.4C600.8 100.2 598.0 101.8 596.5 103.0C595.0 104.2 593.4 104.4 592.8 104.7" stroke="#8eaed7" stroke-width="2.0" fill="none" stroke-linecap="round" stroke-linejoin="round"/>
<path d="M603.8 86.5C603.5 88.3 603.2 94.7 602.0 97.4C600.8 100.2 598.0 101.8 596.5 103.0C595.0 104.2 593.4 104.4 592.8 104.7" stroke="#d3e2f4" stroke-width="0.69" fill="none" stroke-linecap="round" transform="translate(-0.3 -0.3)"/>
<path d="M654.9 50.0C654.3 51.5 652.7 56.4 651.2 59.1C649.7 61.8 647.0 64.0 645.8 66.4C644.6 68.8 644.0 71.6 644.0 73.7C644.0 75.8 645.5 78.0 645.8 79.2C646.1 80.4 646.1 79.8 645.8 81.0C645.5 82.2 645.5 84.7 644.0 86.5C642.5 88.3 638.4 90.2 636.6 92.0C634.8 93.8 633.9 95.3 633.0 97.4C632.1 99.5 630.6 102.9 631.2 104.7C631.8 106.5 635.1 108.4 636.6 108.4C638.1 108.4 639.4 106.8 640.3 104.7C641.2 102.6 640.6 97.3 642.1 95.6C643.6 93.9 649.1 95.3 649.4 94.7C649.7 94.1 644.9 92.5 644.0 92.0" stroke="#4d6d9c" stroke-width="2.3" fill="none" stroke-linecap="round" stroke-linejoin="round"/>
<path d="M654.9 50.0C654.3 51.5 652.7 56.4 651.2 59.1C649.7 61.8 647.0 64.0 645.8 66.4C644.6 68.8 644.0 71.6 644.0 73.7C644.0 75.8 645.5 78.0 645.8 79.2C646.1 80.4 646.1 79.8 645.8 81.0C645.5 82.2 645.5 84.7 644.0 86.5C642.5 88.3 638.4 90.2 636.6 92.0C634.8 93.8 633.9 95.3 633.0 97.4C632.1 99.5 630.6 102.9 631.2 104.7C631.8 106.5 635.1 108.4 636.6 108.4C638.1 108.4 639.4 106.8 640.3 104.7C641.2 102.6 640.6 97.3 642.1 95.6C643.6 93.9 649.1 95.3 649.4 94.7C649.7 94.1 644.9 92.5 644.0 92.0" stroke="#8eaed7" stroke-width="1.5" fill="none" stroke-linecap="round" stroke-linejoin="round"/>
<path d="M654.9 50.0C654.3 51.5 652.7 56.4 651.2 59.1C649.7 61.8 647.0 64.0 645.8 66.4C644.6 68.8 644.0 71.6 644.0 73.7C644.0 75.8 645.5 78.0 645.8 79.2C646.1 80.4 646.1 79.8 645.8 81.0C645.5 82.2 645.5 84.7 644.0 86.5C642.5 88.3 638.4 90.2 636.6 92.0C634.8 93.8 633.9 95.3 633.0 97.4C632.1 99.5 630.6 102.9 631.2 104.7C631.8 106.5 635.1 108.4 636.6 108.4C638.1 108.4 639.4 106.8 640.3 104.7C641.2 102.6 640.6 97.3 642.1 95.6C643.6 93.9 649.1 95.3 649.4 94.7C649.7 94.1 644.9 92.5 644.0 92.0" stroke="#d3e2f4" stroke-width="0.54" fill="none" stroke-linecap="round" transform="translate(-0.3 -0.3)"/>
<path d="M647.6 86.5C648.8 85.6 651.9 82.5 654.9 81.0C657.9 79.5 660.9 78.5 665.8 77.4C670.6 76.3 681.0 75.1 684.0 74.6" stroke="#4d6d9c" stroke-width="1.9" fill="none" stroke-linecap="round" stroke-linejoin="round"/>
<path d="M647.6 86.5C648.8 85.6 651.9 82.5 654.9 81.0C657.9 79.5 660.9 78.5 665.8 77.4C670.6 76.3 681.0 75.1 684.0 74.6" stroke="#8eaed7" stroke-width="1.1" fill="none" stroke-linecap="round" stroke-linejoin="round"/>
<path d="M647.6 86.5C648.8 85.6 651.9 82.5 654.9 81.0C657.9 79.5 660.9 78.5 665.8 77.4C670.6 76.3 681.0 75.1 684.0 74.6" stroke="#d3e2f4" stroke-width="0.39" fill="none" stroke-linecap="round" transform="translate(-0.3 -0.3)"/>
<path d="M471.3 60.7C472.2 60.2 474.8 58.1 476.5 58.0C478.2 57.9 480.5 58.6 481.8 59.8C483.1 61.0 484.2 63.0 484.4 65.0C484.5 67.0 482.3 71.1 482.7 72.0C483.1 72.9 485.6 70.3 487.0 70.3C488.4 70.3 490.5 70.8 491.4 72.0C492.3 73.2 492.6 75.7 492.3 77.3C492.0 78.9 489.4 81.1 489.7 81.7C490.0 82.3 492.4 80.7 494.0 80.8C495.6 80.9 497.6 82.4 499.3 82.6C501.0 82.8 503.2 82.1 504.0 82.0" stroke="#4d6d9c" stroke-width="3.8" fill="none" stroke-linecap="round" stroke-linejoin="round"/>
<path d="M471.3 60.7C472.2 60.2 474.8 58.1 476.5 58.0C478.2 57.9 480.5 58.6 481.8 59.8C483.1 61.0 484.2 63.0 484.4 65.0C484.5 67.0 482.3 71.1 482.7 72.0C483.1 72.9 485.6 70.3 487.0 70.3C488.4 70.3 490.5 70.8 491.4 72.0C492.3 73.2 492.6 75.7 492.3 77.3C492.0 78.9 489.4 81.1 489.7 81.7C490.0 82.3 492.4 80.7 494.0 80.8C495.6 80.9 497.6 82.4 499.3 82.6C501.0 82.8 503.2 82.1 504.0 82.0" stroke="#8eaed7" stroke-width="3.0" fill="none" stroke-linecap="round" stroke-linejoin="round"/>
<path d="M471.3 60.7C472.2 60.2 474.8 58.1 476.5 58.0C478.2 57.9 480.5 58.6 481.8 59.8C483.1 61.0 484.2 63.0 484.4 65.0C484.5 67.0 482.3 71.1 482.7 72.0C483.1 72.9 485.6 70.3 487.0 70.3C488.4 70.3 490.5 70.8 491.4 72.0C492.3 73.2 492.6 75.7 492.3 77.3C492.0 78.9 489.4 81.1 489.7 81.7C490.0 82.3 492.4 80.7 494.0 80.8C495.6 80.9 497.6 82.4 499.3 82.6C501.0 82.8 503.2 82.1 504.0 82.0" stroke="#d3e2f4" stroke-width="1.05" fill="none" stroke-linecap="round" transform="translate(-0.3 -0.3)"/>
<path d="M476.5 71.2C475.9 71.3 474.2 71.0 473.0 72.0C471.8 73.0 470.4 75.5 469.5 77.3C468.6 79.1 467.5 80.8 467.8 82.6C468.1 84.3 469.9 86.3 471.3 87.8C472.8 89.2 475.3 89.5 476.5 91.3C477.7 93.0 478.6 96.5 478.3 98.3C478.0 100.0 476.6 101.2 474.8 101.8C473.1 102.4 469.6 102.7 467.8 101.8C466.1 100.9 464.6 98.2 464.3 96.6C464.0 95.0 464.8 92.8 466.0 92.2C467.2 91.6 470.1 92.0 471.3 93.0C472.5 94.0 473.5 96.8 473.0 98.3C472.5 99.8 469.4 100.4 468.1 102.0C466.9 103.6 465.5 105.7 465.5 108.0C465.5 110.3 468.1 113.1 468.1 116.0C468.1 118.9 465.7 121.7 465.5 125.2C465.3 128.7 465.7 133.3 466.8 137.0C467.9 140.7 469.9 144.5 472.1 147.6C474.3 150.7 477.4 153.7 480.0 155.4C482.6 157.2 485.8 158.3 487.8 158.1C489.8 157.9 491.1 154.7 491.8 154.0" stroke="#4d6d9c" stroke-width="2.5" fill="none" stroke-linecap="round" stroke-linejoin="round"/>
<path d="M476.5 71.2C475.9 71.3 474.2 71.0 473.0 72.0C471.8 73.0 470.4 75.5 469.5 77.3C468.6 79.1 467.5 80.8 467.8 82.6C468.1 84.3 469.9 86.3 471.3 87.8C472.8 89.2 475.3 89.5 476.5 91.3C477.7 93.0 478.6 96.5 478.3 98.3C478.0 100.0 476.6 101.2 474.8 101.8C473.1 102.4 469.6 102.7 467.8 101.8C466.1 100.9 464.6 98.2 464.3 96.6C464.0 95.0 464.8 92.8 466.0 92.2C467.2 91.6 470.1 92.0 471.3 93.0C472.5 94.0 473.5 96.8 473.0 98.3C472.5 99.8 469.4 100.4 468.1 102.0C466.9 103.6 465.5 105.7 465.5 108.0C465.5 110.3 468.1 113.1 468.1 116.0C468.1 118.9 465.7 121.7 465.5 125.2C465.3 128.7 465.7 133.3 466.8 137.0C467.9 140.7 469.9 144.5 472.1 147.6C474.3 150.7 477.4 153.7 480.0 155.4C482.6 157.2 485.8 158.3 487.8 158.1C489.8 157.9 491.1 154.7 491.8 154.0" stroke="#8eaed7" stroke-width="1.7" fill="none" stroke-linecap="round" stroke-linejoin="round"/>
<path d="M476.5 71.2C475.9 71.3 474.2 71.0 473.0 72.0C471.8 73.0 470.4 75.5 469.5 77.3C468.6 79.1 467.5 80.8 467.8 82.6C468.1 84.3 469.9 86.3 471.3 87.8C472.8 89.2 475.3 89.5 476.5 91.3C477.7 93.0 478.6 96.5 478.3 98.3C478.0 100.0 476.6 101.2 474.8 101.8C473.1 102.4 469.6 102.7 467.8 101.8C466.1 100.9 464.6 98.2 464.3 96.6C464.0 95.0 464.8 92.8 466.0 92.2C467.2 91.6 470.1 92.0 471.3 93.0C472.5 94.0 473.5 96.8 473.0 98.3C472.5 99.8 469.4 100.4 468.1 102.0C466.9 103.6 465.5 105.7 465.5 108.0C465.5 110.3 468.1 113.1 468.1 116.0C468.1 118.9 465.7 121.7 465.5 125.2C465.3 128.7 465.7 133.3 466.8 137.0C467.9 140.7 469.9 144.5 472.1 147.6C474.3 150.7 477.4 153.7 480.0 155.4C482.6 157.2 485.8 158.3 487.8 158.1C489.8 157.9 491.1 154.7 491.8 154.0" stroke="#d3e2f4" stroke-width="0.58" fill="none" stroke-linecap="round" transform="translate(-0.3 -0.3)"/>
<path d="M462.9 96.0C463.4 95.7 464.5 94.2 466.0 94.0C467.5 93.8 469.9 93.7 472.0 94.5C474.1 95.3 478.0 97.7 478.7 98.9C479.4 100.2 477.1 101.3 476.0 102.0C474.9 102.7 473.9 103.0 472.1 102.9C470.4 102.8 466.6 101.8 465.5 101.6" stroke="#4d6d9c" stroke-width="2.6" fill="none" stroke-linecap="round" stroke-linejoin="round"/>
<path d="M462.9 96.0C463.4 95.7 464.5 94.2 466.0 94.0C467.5 93.8 469.9 93.7 472.0 94.5C474.1 95.3 478.0 97.7 478.7 98.9C479.4 100.2 477.1 101.3 476.0 102.0C474.9 102.7 473.9 103.0 472.1 102.9C470.4 102.8 466.6 101.8 465.5 101.6" stroke="#8eaed7" stroke-width="1.8" fill="none" stroke-linecap="round" stroke-linejoin="round"/>
<path d="M462.9 96.0C463.4 95.7 464.5 94.2 466.0 94.0C467.5 93.8 469.9 93.7 472.0 94.5C474.1 95.3 478.0 97.7 478.7 98.9C479.4 100.2 477.1 101.3 476.0 102.0C474.9 102.7 473.9 103.0 472.1 102.9C470.4 102.8 466.6 101.8 465.5 101.6" stroke="#d3e2f4" stroke-width="0.62" fill="none" stroke-linecap="round" transform="translate(-0.3 -0.3)"/>
<path d="M530.7 84.7C531.1 85.9 532.4 88.3 533.0 91.7C533.6 95.1 534.0 101.6 534.2 105.0C534.4 108.4 534.0 110.8 534.0 112.0" stroke="#4d6d9c" stroke-width="1.9" fill="none" stroke-linecap="round" stroke-linejoin="round"/>
<path d="M530.7 84.7C531.1 85.9 532.4 88.3 533.0 91.7C533.6 95.1 534.0 101.6 534.2 105.0C534.4 108.4 534.0 110.8 534.0 112.0" stroke="#8eaed7" stroke-width="1.1" fill="none" stroke-linecap="round" stroke-linejoin="round"/>
<path d="M530.7 84.7C531.1 85.9 532.4 88.3 533.0 91.7C533.6 95.1 534.0 101.6 534.2 105.0C534.4 108.4 534.0 110.8 534.0 112.0" stroke="#d3e2f4" stroke-width="0.39" fill="none" stroke-linecap="round" transform="translate(-0.3 -0.3)"/>
<path d="M543.5 91.7C543.1 92.7 541.8 95.4 541.2 97.6C540.6 99.8 540.7 102.9 540.0 105.0C539.3 107.1 537.5 109.2 537.0 110.0" stroke="#4d6d9c" stroke-width="1.9" fill="none" stroke-linecap="round" stroke-linejoin="round"/>
<path d="M543.5 91.7C543.1 92.7 541.8 95.4 541.2 97.6C540.6 99.8 540.7 102.9 540.0 105.0C539.3 107.1 537.5 109.2 537.0 110.0" stroke="#8eaed7" stroke-width="1.1" fill="none" stroke-linecap="round" stroke-linejoin="round"/>
<path d="M543.5 91.7C543.1 92.7 541.8 95.4 541.2 97.6C540.6 99.8 540.7 102.9 540.0 105.0C539.3 107.1 537.5 109.2 537.0 110.0" stroke="#d3e2f4" stroke-width="0.39" fill="none" stroke-linecap="round" transform="translate(-0.3 -0.3)"/>
<path d="M515.5 91.7C515.7 93.9 517.2 101.6 516.7 105.0C516.2 108.4 513.7 110.3 512.8 112.1C511.9 113.9 510.8 114.5 511.5 116.0C512.2 117.5 515.0 119.1 516.8 121.3C518.5 123.5 520.7 127.0 522.0 129.2C523.3 131.4 523.7 132.2 524.6 134.4C525.5 136.6 526.8 141.0 527.3 142.3" stroke="#4d6d9c" stroke-width="1.9" fill="none" stroke-linecap="round" stroke-linejoin="round"/>
<path d="M515.5 91.7C515.7 93.9 517.2 101.6 516.7 105.0C516.2 108.4 513.7 110.3 512.8 112.1C511.9 113.9 510.8 114.5 511.5 116.0C512.2 117.5 515.0 119.1 516.8 121.3C518.5 123.5 520.7 127.0 522.0 129.2C523.3 131.4 523.7 132.2 524.6 134.4C525.5 136.6 526.8 141.0 527.3 142.3" stroke="#8eaed7" stroke-width="1.1" fill="none" stroke-linecap="round" stroke-linejoin="round"/>
<path d="M515.5 91.7C515.7 93.9 517.2 101.6 516.7 105.0C516.2 108.4 513.7 110.3 512.8 112.1C511.9 113.9 510.8 114.5 511.5 116.0C512.2 117.5 515.0 119.1 516.8 121.3C518.5 123.5 520.7 127.0 522.0 129.2C523.3 131.4 523.7 132.2 524.6 134.4C525.5 136.6 526.8 141.0 527.3 142.3" stroke="#d3e2f4" stroke-width="0.39" fill="none" stroke-linecap="round" transform="translate(-0.3 -0.3)"/>
<path d="M501.0 94.8C500.8 95.7 500.1 100.0 499.7 100.0C499.3 100.0 498.8 94.7 498.4 95.0C497.9 95.3 496.8 99.6 497.0 101.6C497.2 103.6 498.4 107.0 499.7 106.8C501.0 106.6 503.6 102.3 504.9 100.3C506.2 98.3 507.2 95.9 507.6 95.0" stroke="#4d6d9c" stroke-width="2.2" fill="none" stroke-linecap="round" stroke-linejoin="round"/>
<path d="M501.0 94.8C500.8 95.7 500.1 100.0 499.7 100.0C499.3 100.0 498.8 94.7 498.4 95.0C497.9 95.3 496.8 99.6 497.0 101.6C497.2 103.6 498.4 107.0 499.7 106.8C501.0 106.6 503.6 102.3 504.9 100.3C506.2 98.3 507.2 95.9 507.6 95.0" stroke="#8eaed7" stroke-width="1.4" fill="none" stroke-linecap="round" stroke-linejoin="round"/>
<path d="M501.0 94.8C500.8 95.7 500.1 100.0 499.7 100.0C499.3 100.0 498.8 94.7 498.4 95.0C497.9 95.3 496.8 99.6 497.0 101.6C497.2 103.6 498.4 107.0 499.7 106.8C501.0 106.6 503.6 102.3 504.9 100.3C506.2 98.3 507.2 95.9 507.6 95.0" stroke="#d3e2f4" stroke-width="0.50" fill="none" stroke-linecap="round" transform="translate(-0.3 -0.3)"/>
<path d="M520.7 114.7C521.1 113.8 521.5 110.6 523.3 109.5C525.0 108.4 529.0 107.9 531.2 108.1C533.4 108.3 535.2 109.3 536.5 110.8C537.8 112.3 539.3 115.5 539.1 117.3C538.9 119.0 536.0 119.5 535.1 121.3C534.2 123.0 534.0 126.7 533.8 127.8" stroke="#4d6d9c" stroke-width="2.7" fill="none" stroke-linecap="round" stroke-linejoin="round"/>
<path d="M520.7 114.7C521.1 113.8 521.5 110.6 523.3 109.5C525.0 108.4 529.0 107.9 531.2 108.1C533.4 108.3 535.2 109.3 536.5 110.8C537.8 112.3 539.3 115.5 539.1 117.3C538.9 119.0 536.0 119.5 535.1 121.3C534.2 123.0 534.0 126.7 533.8 127.8" stroke="#8eaed7" stroke-width="1.9" fill="none" stroke-linecap="round" stroke-linejoin="round"/>
<path d="M520.7 114.7C521.1 113.8 521.5 110.6 523.3 109.5C525.0 108.4 529.0 107.9 531.2 108.1C533.4 108.3 535.2 109.3 536.5 110.8C537.8 112.3 539.3 115.5 539.1 117.3C538.9 119.0 536.0 119.5 535.1 121.3C534.2 123.0 534.0 126.7 533.8 127.8" stroke="#d3e2f4" stroke-width="0.65" fill="none" stroke-linecap="round" transform="translate(-0.3 -0.3)"/>
<path d="M533.8 95.0C534.0 96.8 534.2 102.2 535.1 105.5C536.0 108.8 537.5 112.1 539.1 114.7C540.8 117.3 542.6 121.7 545.0 121.3C547.4 120.9 551.4 113.2 553.6 112.3C555.8 111.4 556.4 114.8 558.0 116.0C559.6 117.2 560.8 117.3 563.0 119.3C565.2 121.3 570.3 125.8 571.0 128.0C571.7 130.2 569.0 132.2 567.0 132.6C565.0 133.0 560.7 132.0 559.0 130.7C557.3 129.4 556.4 126.3 557.0 125.0C557.6 123.7 561.1 122.9 562.6 123.1C564.1 123.3 565.4 125.5 566.0 126.0" stroke="#4d6d9c" stroke-width="2.0" fill="none" stroke-linecap="round" stroke-linejoin="round"/>
<path d="M533.8 95.0C534.0 96.8 534.2 102.2 535.1 105.5C536.0 108.8 537.5 112.1 539.1 114.7C540.8 117.3 542.6 121.7 545.0 121.3C547.4 120.9 551.4 113.2 553.6 112.3C555.8 111.4 556.4 114.8 558.0 116.0C559.6 117.2 560.8 117.3 563.0 119.3C565.2 121.3 570.3 125.8 571.0 128.0C571.7 130.2 569.0 132.2 567.0 132.6C565.0 133.0 560.7 132.0 559.0 130.7C557.3 129.4 556.4 126.3 557.0 125.0C557.6 123.7 561.1 122.9 562.6 123.1C564.1 123.3 565.4 125.5 566.0 126.0" stroke="#8eaed7" stroke-width="1.2" fill="none" stroke-linecap="round" stroke-linejoin="round"/>
<path d="M533.8 95.0C534.0 96.8 534.2 102.2 535.1 105.5C536.0 108.8 537.5 112.1 539.1 114.7C540.8 117.3 542.6 121.7 545.0 121.3C547.4 120.9 551.4 113.2 553.6 112.3C555.8 111.4 556.4 114.8 558.0 116.0C559.6 117.2 560.8 117.3 563.0 119.3C565.2 121.3 570.3 125.8 571.0 128.0C571.7 130.2 569.0 132.2 567.0 132.6C565.0 133.0 560.7 132.0 559.0 130.7C557.3 129.4 556.4 126.3 557.0 125.0C557.6 123.7 561.1 122.9 562.6 123.1C564.1 123.3 565.4 125.5 566.0 126.0" stroke="#d3e2f4" stroke-width="0.42" fill="none" stroke-linecap="round" transform="translate(-0.3 -0.3)"/>
<path d="M542.6 117.3C544.2 117.1 549.1 116.3 552.0 116.0C554.9 115.7 558.8 115.6 560.1 115.5" stroke="#4d6d9c" stroke-width="1.8" fill="none" stroke-linecap="round" stroke-linejoin="round"/>
<path d="M542.6 117.3C544.2 117.1 549.1 116.3 552.0 116.0C554.9 115.7 558.8 115.6 560.1 115.5" stroke="#8eaed7" stroke-width="1.0" fill="none" stroke-linecap="round" stroke-linejoin="round"/>
<path d="M542.6 117.3C544.2 117.1 549.1 116.3 552.0 116.0C554.9 115.7 558.8 115.6 560.1 115.5" stroke="#d3e2f4" stroke-width="0.35" fill="none" stroke-linecap="round" transform="translate(-0.3 -0.3)"/>
<path d="M501.0 123.9C502.5 123.2 507.6 119.8 510.2 120.0C512.8 120.2 514.8 122.8 516.8 125.2C518.8 127.6 521.1 132.9 522.0 134.4" stroke="#4d6d9c" stroke-width="1.8" fill="none" stroke-linecap="round" stroke-linejoin="round"/>
<path d="M501.0 123.9C502.5 123.2 507.6 119.8 510.2 120.0C512.8 120.2 514.8 122.8 516.8 125.2C518.8 127.6 521.1 132.9 522.0 134.4" stroke="#8eaed7" stroke-width="1.0" fill="none" stroke-linecap="round" stroke-linejoin="round"/>
<path d="M501.0 123.9C502.5 123.2 507.6 119.8 510.2 120.0C512.8 120.2 514.8 122.8 516.8 125.2C518.8 127.6 521.1 132.9 522.0 134.4" stroke="#d3e2f4" stroke-width="0.35" fill="none" stroke-linecap="round" transform="translate(-0.3 -0.3)"/>
<path d="M560.0 119.3C561.2 119.5 565.3 118.8 567.3 120.3C569.3 121.8 571.1 127.1 571.9 128.5" stroke="#4d6d9c" stroke-width="1.9" fill="none" stroke-linecap="round" stroke-linejoin="round"/>
<path d="M560.0 119.3C561.2 119.5 565.3 118.8 567.3 120.3C569.3 121.8 571.1 127.1 571.9 128.5" stroke="#8eaed7" stroke-width="1.1" fill="none" stroke-linecap="round" stroke-linejoin="round"/>
<path d="M560.0 119.3C561.2 119.5 565.3 118.8 567.3 120.3C569.3 121.8 571.1 127.1 571.9 128.5" stroke="#d3e2f4" stroke-width="0.39" fill="none" stroke-linecap="round" transform="translate(-0.3 -0.3)"/>
<path d="M574.6 86.5C575.2 87.4 576.8 90.6 578.0 92.0C579.2 93.4 580.7 94.8 582.0 95.0C583.3 95.2 585.3 93.3 586.0 93.0" stroke="#4d6d9c" stroke-width="1.8" fill="none" stroke-linecap="round" stroke-linejoin="round"/>
<path d="M574.6 86.5C575.2 87.4 576.8 90.6 578.0 92.0C579.2 93.4 580.7 94.8 582.0 95.0C583.3 95.2 585.3 93.3 586.0 93.0" stroke="#8eaed7" stroke-width="1.0" fill="none" stroke-linecap="round" stroke-linejoin="round"/>
<path d="M574.6 86.5C575.2 87.4 576.8 90.6 578.0 92.0C579.2 93.4 580.7 94.8 582.0 95.0C583.3 95.2 585.3 93.3 586.0 93.0" stroke="#d3e2f4" stroke-width="0.35" fill="none" stroke-linecap="round" transform="translate(-0.3 -0.3)"/>
<path d="M500.7 52.6C501.1 52.6 502.2 52.7 502.9 52.6C503.6 52.4 504.4 52.1 505.0 51.6C505.7 51.2 506.4 50.6 506.9 50.0C507.5 49.4 507.9 48.6 508.3 47.9C508.7 47.1 508.9 46.3 509.1 45.6C509.2 44.9 509.3 44.2 509.2 43.6C509.2 43.0 509.0 42.5 508.8 42.1C508.6 41.8 508.2 41.5 507.9 41.4C507.6 41.4 507.2 41.5 506.9 41.7C506.5 41.9 506.1 42.3 505.9 42.9C505.6 43.4 505.3 44.0 505.1 44.8C505.0 45.5 504.9 46.3 504.9 47.1C504.9 47.9 505.0 48.8 505.3 49.6C505.5 50.4 505.9 51.3 506.3 51.9C506.7 52.6 507.3 53.2 507.9 53.6C508.5 54.1 509.2 54.4 509.9 54.6C510.6 54.7 511.4 54.7 512.1 54.6C512.8 54.4 513.6 54.1 514.2 53.6C514.9 53.2 515.6 52.6 516.1 52.0C516.7 51.4 517.1 50.6 517.5 49.9C517.9 49.1 518.1 48.3 518.3 47.6C518.4 46.9 518.5 46.2 518.4 45.6C518.4 45.0 518.2 44.5 518.0 44.1C517.8 43.8 517.4 43.5 517.1 43.4C516.8 43.4 516.4 43.5 516.1 43.7C515.7 43.9 515.3 44.3 515.1 44.9C514.8 45.4 514.5 46.0 514.3 46.8C514.2 47.5 514.1 48.3 514.1 49.1C514.1 49.9 514.2 50.8 514.5 51.6C514.7 52.4 515.1 53.3 515.5 53.9C515.9 54.6 516.5 55.2 517.1 55.6C517.7 56.1 518.4 56.4 519.1 56.6C519.8 56.7 520.6 56.7 521.3 56.6C522.0 56.4 522.8 56.1 523.4 55.6C524.1 55.2 524.8 54.6 525.3 54.0C525.9 53.4 526.3 52.6 526.7 51.9C527.1 51.1 527.3 50.3 527.5 49.6C527.6 48.9 527.7 48.2 527.6 47.6C527.6 47.0 527.4 46.5 527.2 46.1C527.0 45.8 526.6 45.5 526.3 45.4C526.0 45.4 525.6 45.5 525.3 45.7C524.9 45.9 524.5 46.3 524.3 46.9C524.0 47.4 523.7 48.0 523.5 48.8C523.4 49.5 523.3 50.3 523.3 51.1C523.3 51.9 523.4 52.8 523.7 53.6C523.9 54.4 524.3 55.3 524.7 55.9C525.1 56.6 525.7 57.2 526.3 57.6C526.9 58.1 527.6 58.4 528.3 58.6C529.0 58.7 529.8 58.7 530.5 58.6C531.2 58.4 532.0 58.1 532.6 57.6C533.3 57.2 534.0 56.6 534.5 56.0C535.1 55.4 535.5 54.6 535.9 53.9C536.3 53.1 536.5 52.3 536.7 51.6C536.8 50.9 536.9 50.2 536.8 49.6C536.8 49.0 536.6 48.5 536.4 48.1C536.2 47.8 535.8 47.5 535.5 47.4C535.2 47.4 534.8 47.5 534.5 47.7C534.1 47.9 533.7 48.3 533.5 48.9C533.2 49.4 532.9 50.0 532.7 50.8C532.6 51.5 532.5 52.3 532.5 53.1C532.5 53.9 532.6 54.8 532.9 55.6C533.1 56.4 533.5 57.3 533.9 57.9C534.3 58.6 534.9 59.2 535.5 59.6C536.1 60.1 536.8 60.4 537.5 60.6C538.2 60.7 539.0 60.7 539.7 60.6C540.4 60.4 541.2 60.1 541.8 59.6C542.5 59.2 543.2 58.6 543.7 58.0C544.3 57.4 544.7 56.6 545.1 55.9C545.5 55.1 545.7 54.3 545.9 53.6C546.0 52.9 546.1 52.2 546.0 51.6C546.0 51.0 545.8 50.5 545.6 50.1C545.4 49.8 545.0 49.5 544.7 49.4C544.4 49.4 544.0 49.5 543.7 49.7C543.3 49.9 542.9 50.3 542.7 50.9C542.4 51.4 542.1 52.0 541.9 52.8C541.8 53.5 541.7 54.3 541.7 55.1C541.7 55.9 541.8 56.8 542.1 57.6C542.3 58.4 542.7 59.3 543.1 59.9C543.5 60.6 544.1 61.2 544.7 61.6C545.3 62.1 546.3 62.4 546.7 62.6" stroke="#4d6d9c" stroke-width="3.4" fill="none" stroke-linecap="round" stroke-linejoin="round"/>
<path d="M500.7 52.6C501.1 52.6 502.2 52.7 502.9 52.6C503.6 52.4 504.4 52.1 505.0 51.6C505.7 51.2 506.4 50.6 506.9 50.0C507.5 49.4 507.9 48.6 508.3 47.9C508.7 47.1 508.9 46.3 509.1 45.6C509.2 44.9 509.3 44.2 509.2 43.6C509.2 43.0 509.0 42.5 508.8 42.1C508.6 41.8 508.2 41.5 507.9 41.4C507.6 41.4 507.2 41.5 506.9 41.7C506.5 41.9 506.1 42.3 505.9 42.9C505.6 43.4 505.3 44.0 505.1 44.8C505.0 45.5 504.9 46.3 504.9 47.1C504.9 47.9 505.0 48.8 505.3 49.6C505.5 50.4 505.9 51.3 506.3 51.9C506.7 52.6 507.3 53.2 507.9 53.6C508.5 54.1 509.2 54.4 509.9 54.6C510.6 54.7 511.4 54.7 512.1 54.6C512.8 54.4 513.6 54.1 514.2 53.6C514.9 53.2 515.6 52.6 516.1 52.0C516.7 51.4 517.1 50.6 517.5 49.9C517.9 49.1 518.1 48.3 518.3 47.6C518.4 46.9 518.5 46.2 518.4 45.6C518.4 45.0 518.2 44.5 518.0 44.1C517.8 43.8 517.4 43.5 517.1 43.4C516.8 43.4 516.4 43.5 516.1 43.7C515.7 43.9 515.3 44.3 515.1 44.9C514.8 45.4 514.5 46.0 514.3 46.8C514.2 47.5 514.1 48.3 514.1 49.1C514.1 49.9 514.2 50.8 514.5 51.6C514.7 52.4 515.1 53.3 515.5 53.9C515.9 54.6 516.5 55.2 517.1 55.6C517.7 56.1 518.4 56.4 519.1 56.6C519.8 56.7 520.6 56.7 521.3 56.6C522.0 56.4 522.8 56.1 523.4 55.6C524.1 55.2 524.8 54.6 525.3 54.0C525.9 53.4 526.3 52.6 526.7 51.9C527.1 51.1 527.3 50.3 527.5 49.6C527.6 48.9 527.7 48.2 527.6 47.6C527.6 47.0 527.4 46.5 527.2 46.1C527.0 45.8 526.6 45.5 526.3 45.4C526.0 45.4 525.6 45.5 525.3 45.7C524.9 45.9 524.5 46.3 524.3 46.9C524.0 47.4 523.7 48.0 523.5 48.8C523.4 49.5 523.3 50.3 523.3 51.1C523.3 51.9 523.4 52.8 523.7 53.6C523.9 54.4 524.3 55.3 524.7 55.9C525.1 56.6 525.7 57.2 526.3 57.6C526.9 58.1 527.6 58.4 528.3 58.6C529.0 58.7 529.8 58.7 530.5 58.6C531.2 58.4 532.0 58.1 532.6 57.6C533.3 57.2 534.0 56.6 534.5 56.0C535.1 55.4 535.5 54.6 535.9 53.9C536.3 53.1 536.5 52.3 536.7 51.6C536.8 50.9 536.9 50.2 536.8 49.6C536.8 49.0 536.6 48.5 536.4 48.1C536.2 47.8 535.8 47.5 535.5 47.4C535.2 47.4 534.8 47.5 534.5 47.7C534.1 47.9 533.7 48.3 533.5 48.9C533.2 49.4 532.9 50.0 532.7 50.8C532.6 51.5 532.5 52.3 532.5 53.1C532.5 53.9 532.6 54.8 532.9 55.6C533.1 56.4 533.5 57.3 533.9 57.9C534.3 58.6 534.9 59.2 535.5 59.6C536.1 60.1 536.8 60.4 537.5 60.6C538.2 60.7 539.0 60.7 539.7 60.6C540.4 60.4 541.2 60.1 541.8 59.6C542.5 59.2 543.2 58.6 543.7 58.0C544.3 57.4 544.7 56.6 545.1 55.9C545.5 55.1 545.7 54.3 545.9 53.6C546.0 52.9 546.1 52.2 546.0 51.6C546.0 51.0 545.8 50.5 545.6 50.1C545.4 49.8 545.0 49.5 544.7 49.4C544.4 49.4 544.0 49.5 543.7 49.7C543.3 49.9 542.9 50.3 542.7 50.9C542.4 51.4 542.1 52.0 541.9 52.8C541.8 53.5 541.7 54.3 541.7 55.1C541.7 55.9 541.8 56.8 542.1 57.6C542.3 58.4 542.7 59.3 543.1 59.9C543.5 60.6 544.1 61.2 544.7 61.6C545.3 62.1 546.3 62.4 546.7 62.6" stroke="#8eaed7" stroke-width="2.6" fill="none" stroke-linecap="round" stroke-linejoin="round"/>
<path d="M500.7 52.6C501.1 52.6 502.2 52.7 502.9 52.6C503.6 52.4 504.4 52.1 505.0 51.6C505.7 51.2 506.4 50.6 506.9 50.0C507.5 49.4 507.9 48.6 508.3 47.9C508.7 47.1 508.9 46.3 509.1 45.6C509.2 44.9 509.3 44.2 509.2 43.6C509.2 43.0 509.0 42.5 508.8 42.1C508.6 41.8 508.2 41.5 507.9 41.4C507.6 41.4 507.2 41.5 506.9 41.7C506.5 41.9 506.1 42.3 505.9 42.9C505.6 43.4 505.3 44.0 505.1 44.8C505.0 45.5 504.9 46.3 504.9 47.1C504.9 47.9 505.0 48.8 505.3 49.6C505.5 50.4 505.9 51.3 506.3 51.9C506.7 52.6 507.3 53.2 507.9 53.6C508.5 54.1 509.2 54.4 509.9 54.6C510.6 54.7 511.4 54.7 512.1 54.6C512.8 54.4 513.6 54.1 514.2 53.6C514.9 53.2 515.6 52.6 516.1 52.0C516.7 51.4 517.1 50.6 517.5 49.9C517.9 49.1 518.1 48.3 518.3 47.6C518.4 46.9 518.5 46.2 518.4 45.6C518.4 45.0 518.2 44.5 518.0 44.1C517.8 43.8 517.4 43.5 517.1 43.4C516.8 43.4 516.4 43.5 516.1 43.7C515.7 43.9 515.3 44.3 515.1 44.9C514.8 45.4 514.5 46.0 514.3 46.8C514.2 47.5 514.1 48.3 514.1 49.1C514.1 49.9 514.2 50.8 514.5 51.6C514.7 52.4 515.1 53.3 515.5 53.9C515.9 54.6 516.5 55.2 517.1 55.6C517.7 56.1 518.4 56.4 519.1 56.6C519.8 56.7 520.6 56.7 521.3 56.6C522.0 56.4 522.8 56.1 523.4 55.6C524.1 55.2 524.8 54.6 525.3 54.0C525.9 53.4 526.3 52.6 526.7 51.9C527.1 51.1 527.3 50.3 527.5 49.6C527.6 48.9 527.7 48.2 527.6 47.6C527.6 47.0 527.4 46.5 527.2 46.1C527.0 45.8 526.6 45.5 526.3 45.4C526.0 45.4 525.6 45.5 525.3 45.7C524.9 45.9 524.5 46.3 524.3 46.9C524.0 47.4 523.7 48.0 523.5 48.8C523.4 49.5 523.3 50.3 523.3 51.1C523.3 51.9 523.4 52.8 523.7 53.6C523.9 54.4 524.3 55.3 524.7 55.9C525.1 56.6 525.7 57.2 526.3 57.6C526.9 58.1 527.6 58.4 528.3 58.6C529.0 58.7 529.8 58.7 530.5 58.6C531.2 58.4 532.0 58.1 532.6 57.6C533.3 57.2 534.0 56.6 534.5 56.0C535.1 55.4 535.5 54.6 535.9 53.9C536.3 53.1 536.5 52.3 536.7 51.6C536.8 50.9 536.9 50.2 536.8 49.6C536.8 49.0 536.6 48.5 536.4 48.1C536.2 47.8 535.8 47.5 535.5 47.4C535.2 47.4 534.8 47.5 534.5 47.7C534.1 47.9 533.7 48.3 533.5 48.9C533.2 49.4 532.9 50.0 532.7 50.8C532.6 51.5 532.5 52.3 532.5 53.1C532.5 53.9 532.6 54.8 532.9 55.6C533.1 56.4 533.5 57.3 533.9 57.9C534.3 58.6 534.9 59.2 535.5 59.6C536.1 60.1 536.8 60.4 537.5 60.6C538.2 60.7 539.0 60.7 539.7 60.6C540.4 60.4 541.2 60.1 541.8 59.6C542.5 59.2 543.2 58.6 543.7 58.0C544.3 57.4 544.7 56.6 545.1 55.9C545.5 55.1 545.7 54.3 545.9 53.6C546.0 52.9 546.1 52.2 546.0 51.6C546.0 51.0 545.8 50.5 545.6 50.1C545.4 49.8 545.0 49.5 544.7 49.4C544.4 49.4 544.0 49.5 543.7 49.7C543.3 49.9 542.9 50.3 542.7 50.9C542.4 51.4 542.1 52.0 541.9 52.8C541.8 53.5 541.7 54.3 541.7 55.1C541.7 55.9 541.8 56.8 542.1 57.6C542.3 58.4 542.7 59.3 543.1 59.9C543.5 60.6 544.1 61.2 544.7 61.6C545.3 62.1 546.3 62.4 546.7 62.6" stroke="#d3e2f4" stroke-width="0.91" fill="none" stroke-linecap="round" transform="translate(-0.3 -0.3)"/>
<path d="M506.3 90.4C506.5 90.3 507.3 90.3 507.8 90.0C508.3 89.8 508.8 89.4 509.2 88.9C509.6 88.4 510.0 87.8 510.3 87.2C510.6 86.6 510.8 85.8 510.9 85.2C511.1 84.5 511.1 83.7 511.1 83.1C511.1 82.5 511.1 81.8 510.9 81.3C510.8 80.8 510.6 80.4 510.4 80.1C510.2 79.9 509.9 79.7 509.6 79.7C509.4 79.7 509.1 79.9 508.8 80.1C508.6 80.4 508.4 80.8 508.2 81.3C508.0 81.8 507.9 82.4 507.8 83.1C507.8 83.7 507.8 84.4 507.9 85.1C508.0 85.8 508.2 86.6 508.4 87.2C508.7 87.9 509.0 88.5 509.4 89.0C509.8 89.5 510.2 89.9 510.7 90.2C511.2 90.5 511.7 90.6 512.2 90.6C512.7 90.6 513.2 90.5 513.7 90.2C514.2 90.0 514.7 89.6 515.1 89.1C515.5 88.6 515.8 88.0 516.1 87.3C516.4 86.7 516.6 86.0 516.8 85.3C516.9 84.6 517.0 83.9 517.0 83.2C517.0 82.6 516.9 82.0 516.7 81.5C516.6 81.0 516.4 80.6 516.2 80.3C516.0 80.1 515.7 80.0 515.4 80.0C515.2 80.0 514.9 80.1 514.6 80.4C514.4 80.7 514.2 81.1 514.0 81.6C513.8 82.1 513.7 82.7 513.7 83.4C513.6 84.0 513.7 84.8 513.8 85.5C513.9 86.2 514.1 86.9 514.3 87.6C514.6 88.2 514.9 88.8 515.3 89.3C515.7 89.8 516.1 90.2 516.6 90.5C517.1 90.7 517.6 90.9 518.1 90.9C518.6 90.9 519.1 90.7 519.6 90.4C520.1 90.2 520.6 89.7 521.0 89.3C521.4 88.8 521.7 88.1 522.0 87.5C522.3 86.9 522.5 86.1 522.6 85.4C522.8 84.7 522.8 84.0 522.8 83.4C522.8 82.8 522.7 82.1 522.6 81.7C522.4 81.2 522.2 80.8 522.0 80.5C521.8 80.3 521.5 80.2 521.2 80.2C520.9 80.2 520.7 80.4 520.4 80.7C520.2 81.0 520.0 81.4 519.8 81.9C519.7 82.4 519.5 83.1 519.5 83.7C519.5 84.4 519.5 85.1 519.6 85.8C519.7 86.5 519.9 87.3 520.2 87.9C520.4 88.5 520.8 89.1 521.2 89.6C521.6 90.1 522.0 90.5 522.5 90.8C523.0 91.0 523.5 91.1 524.0 91.1C524.5 91.1 525.0 90.9 525.5 90.6C526.0 90.4 526.5 89.9 526.9 89.4C527.3 88.9 527.6 88.3 527.9 87.6C528.2 87.0 528.4 86.3 528.5 85.6C528.6 84.9 528.7 84.2 528.6 83.5C528.6 82.9 528.5 82.3 528.4 81.8C528.2 81.4 528.0 81.0 527.8 80.8C527.5 80.5 527.3 80.4 527.0 80.4C526.7 80.5 526.5 80.7 526.2 81.0C526.0 81.3 525.8 81.7 525.6 82.2C525.5 82.7 525.4 83.4 525.3 84.1C525.3 84.7 525.3 85.5 525.5 86.2C525.6 86.8 525.8 87.6 526.1 88.2C526.3 88.8 526.7 89.5 527.1 89.9C527.5 90.4 527.9 90.8 528.4 91.0C528.9 91.3 529.4 91.4 529.9 91.3C530.4 91.3 530.9 91.1 531.4 90.8C531.9 90.5 532.4 90.1 532.7 89.6C533.1 89.1 533.6 88.1 533.8 87.8" stroke="#4d6d9c" stroke-width="3.2" fill="none" stroke-linecap="round" stroke-linejoin="round"/>
<path d="M506.3 90.4C506.5 90.3 507.3 90.3 507.8 90.0C508.3 89.8 508.8 89.4 509.2 88.9C509.6 88.4 510.0 87.8 510.3 87.2C510.6 86.6 510.8 85.8 510.9 85.2C511.1 84.5 511.1 83.7 511.1 83.1C511.1 82.5 511.1 81.8 510.9 81.3C510.8 80.8 510.6 80.4 510.4 80.1C510.2 79.9 509.9 79.7 509.6 79.7C509.4 79.7 509.1 79.9 508.8 80.1C508.6 80.4 508.4 80.8 508.2 81.3C508.0 81.8 507.9 82.4 507.8 83.1C507.8 83.7 507.8 84.4 507.9 85.1C508.0 85.8 508.2 86.6 508.4 87.2C508.7 87.9 509.0 88.5 509.4 89.0C509.8 89.5 510.2 89.9 510.7 90.2C511.2 90.5 511.7 90.6 512.2 90.6C512.7 90.6 513.2 90.5 513.7 90.2C514.2 90.0 514.7 89.6 515.1 89.1C515.5 88.6 515.8 88.0 516.1 87.3C516.4 86.7 516.6 86.0 516.8 85.3C516.9 84.6 517.0 83.9 517.0 83.2C517.0 82.6 516.9 82.0 516.7 81.5C516.6 81.0 516.4 80.6 516.2 80.3C516.0 80.1 515.7 80.0 515.4 80.0C515.2 80.0 514.9 80.1 514.6 80.4C514.4 80.7 514.2 81.1 514.0 81.6C513.8 82.1 513.7 82.7 513.7 83.4C513.6 84.0 513.7 84.8 513.8 85.5C513.9 86.2 514.1 86.9 514.3 87.6C514.6 88.2 514.9 88.8 515.3 89.3C515.7 89.8 516.1 90.2 516.6 90.5C517.1 90.7 517.6 90.9 518.1 90.9C518.6 90.9 519.1 90.7 519.6 90.4C520.1 90.2 520.6 89.7 521.0 89.3C521.4 88.8 521.7 88.1 522.0 87.5C522.3 86.9 522.5 86.1 522.6 85.4C522.8 84.7 522.8 84.0 522.8 83.4C522.8 82.8 522.7 82.1 522.6 81.7C522.4 81.2 522.2 80.8 522.0 80.5C521.8 80.3 521.5 80.2 521.2 80.2C520.9 80.2 520.7 80.4 520.4 80.7C520.2 81.0 520.0 81.4 519.8 81.9C519.7 82.4 519.5 83.1 519.5 83.7C519.5 84.4 519.5 85.1 519.6 85.8C519.7 86.5 519.9 87.3 520.2 87.9C520.4 88.5 520.8 89.1 521.2 89.6C521.6 90.1 522.0 90.5 522.5 90.8C523.0 91.0 523.5 91.1 524.0 91.1C524.5 91.1 525.0 90.9 525.5 90.6C526.0 90.4 526.5 89.9 526.9 89.4C527.3 88.9 527.6 88.3 527.9 87.6C528.2 87.0 528.4 86.3 528.5 85.6C528.6 84.9 528.7 84.2 528.6 83.5C528.6 82.9 528.5 82.3 528.4 81.8C528.2 81.4 528.0 81.0 527.8 80.8C527.5 80.5 527.3 80.4 527.0 80.4C526.7 80.5 526.5 80.7 526.2 81.0C526.0 81.3 525.8 81.7 525.6 82.2C525.5 82.7 525.4 83.4 525.3 84.1C525.3 84.7 525.3 85.5 525.5 86.2C525.6 86.8 525.8 87.6 526.1 88.2C526.3 88.8 526.7 89.5 527.1 89.9C527.5 90.4 527.9 90.8 528.4 91.0C528.9 91.3 529.4 91.4 529.9 91.3C530.4 91.3 530.9 91.1 531.4 90.8C531.9 90.5 532.4 90.1 532.7 89.6C533.1 89.1 533.6 88.1 533.8 87.8" stroke="#8eaed7" stroke-width="2.4" fill="none" stroke-linecap="round" stroke-linejoin="round"/>
<path d="M506.3 90.4C506.5 90.3 507.3 90.3 507.8 90.0C508.3 89.8 508.8 89.4 509.2 88.9C509.6 88.4 510.0 87.8 510.3 87.2C510.6 86.6 510.8 85.8 510.9 85.2C511.1 84.5 511.1 83.7 511.1 83.1C511.1 82.5 511.1 81.8 510.9 81.3C510.8 80.8 510.6 80.4 510.4 80.1C510.2 79.9 509.9 79.7 509.6 79.7C509.4 79.7 509.1 79.9 508.8 80.1C508.6 80.4 508.4 80.8 508.2 81.3C508.0 81.8 507.9 82.4 507.8 83.1C507.8 83.7 507.8 84.4 507.9 85.1C508.0 85.8 508.2 86.6 508.4 87.2C508.7 87.9 509.0 88.5 509.4 89.0C509.8 89.5 510.2 89.9 510.7 90.2C511.2 90.5 511.7 90.6 512.2 90.6C512.7 90.6 513.2 90.5 513.7 90.2C514.2 90.0 514.7 89.6 515.1 89.1C515.5 88.6 515.8 88.0 516.1 87.3C516.4 86.7 516.6 86.0 516.8 85.3C516.9 84.6 517.0 83.9 517.0 83.2C517.0 82.6 516.9 82.0 516.7 81.5C516.6 81.0 516.4 80.6 516.2 80.3C516.0 80.1 515.7 80.0 515.4 80.0C515.2 80.0 514.9 80.1 514.6 80.4C514.4 80.7 514.2 81.1 514.0 81.6C513.8 82.1 513.7 82.7 513.7 83.4C513.6 84.0 513.7 84.8 513.8 85.5C513.9 86.2 514.1 86.9 514.3 87.6C514.6 88.2 514.9 88.8 515.3 89.3C515.7 89.8 516.1 90.2 516.6 90.5C517.1 90.7 517.6 90.9 518.1 90.9C518.6 90.9 519.1 90.7 519.6 90.4C520.1 90.2 520.6 89.7 521.0 89.3C521.4 88.8 521.7 88.1 522.0 87.5C522.3 86.9 522.5 86.1 522.6 85.4C522.8 84.7 522.8 84.0 522.8 83.4C522.8 82.8 522.7 82.1 522.6 81.7C522.4 81.2 522.2 80.8 522.0 80.5C521.8 80.3 521.5 80.2 521.2 80.2C520.9 80.2 520.7 80.4 520.4 80.7C520.2 81.0 520.0 81.4 519.8 81.9C519.7 82.4 519.5 83.1 519.5 83.7C519.5 84.4 519.5 85.1 519.6 85.8C519.7 86.5 519.9 87.3 520.2 87.9C520.4 88.5 520.8 89.1 521.2 89.6C521.6 90.1 522.0 90.5 522.5 90.8C523.0 91.0 523.5 91.1 524.0 91.1C524.5 91.1 525.0 90.9 525.5 90.6C526.0 90.4 526.5 89.9 526.9 89.4C527.3 88.9 527.6 88.3 527.9 87.6C528.2 87.0 528.4 86.3 528.5 85.6C528.6 84.9 528.7 84.2 528.6 83.5C528.6 82.9 528.5 82.3 528.4 81.8C528.2 81.4 528.0 81.0 527.8 80.8C527.5 80.5 527.3 80.4 527.0 80.4C526.7 80.5 526.5 80.7 526.2 81.0C526.0 81.3 525.8 81.7 525.6 82.2C525.5 82.7 525.4 83.4 525.3 84.1C525.3 84.7 525.3 85.5 525.5 86.2C525.6 86.8 525.8 87.6 526.1 88.2C526.3 88.8 526.7 89.5 527.1 89.9C527.5 90.4 527.9 90.8 528.4 91.0C528.9 91.3 529.4 91.4 529.9 91.3C530.4 91.3 530.9 91.1 531.4 90.8C531.9 90.5 532.4 90.1 532.7 89.6C533.1 89.1 533.6 88.1 533.8 87.8" stroke="#d3e2f4" stroke-width="0.84" fill="none" stroke-linecap="round" transform="translate(-0.3 -0.3)"/>
<path d="M481.7 127.2C482.1 127.3 483.3 127.8 484.1 127.9C485.0 128.0 485.9 127.8 486.8 127.6C487.8 127.4 488.7 127.0 489.6 126.5C490.4 126.0 491.3 125.4 492.0 124.8C492.7 124.1 493.4 123.4 493.9 122.7C494.5 122.1 494.9 121.4 495.2 120.8C495.5 120.3 495.6 119.8 495.7 119.4C495.7 119.1 495.7 118.8 495.5 118.7C495.4 118.7 495.1 118.8 494.9 119.0C494.6 119.3 494.2 119.7 493.9 120.3C493.6 120.9 493.3 121.6 493.0 122.4C492.7 123.2 492.5 124.2 492.4 125.2C492.3 126.1 492.2 127.2 492.3 128.2C492.4 129.1 492.6 130.2 492.9 131.0C493.2 131.9 493.6 132.8 494.2 133.4C494.7 134.1 495.4 134.7 496.2 135.0C496.9 135.4 497.8 135.6 498.7 135.7C499.5 135.8 500.5 135.6 501.4 135.4C502.3 135.1 503.3 134.7 504.1 134.2C505.0 133.7 505.8 133.1 506.5 132.5C507.2 131.8 507.9 131.1 508.4 130.4C508.9 129.8 509.3 129.1 509.6 128.5C509.9 128.0 510.0 127.5 510.1 127.2C510.1 126.8 510.0 126.6 509.9 126.6C509.7 126.5 509.4 126.6 509.2 126.9C508.9 127.2 508.5 127.6 508.2 128.2C507.9 128.8 507.6 129.6 507.3 130.4C507.1 131.2 506.8 132.2 506.7 133.2C506.6 134.1 506.6 135.2 506.7 136.2C506.8 137.1 507.0 138.1 507.3 139.0C507.6 139.9 508.1 140.7 508.7 141.4C509.2 142.0 509.9 142.6 510.7 142.9C511.4 143.3 512.3 143.5 513.2 143.5C514.1 143.6 515.0 143.4 515.9 143.1C516.9 142.9 517.8 142.4 518.6 141.9C519.5 141.4 520.3 140.8 521.0 140.1C521.7 139.5 522.4 138.8 522.9 138.1C523.4 137.5 523.8 136.8 524.0 136.3C524.3 135.7 524.4 135.2 524.4 134.9C524.5 134.6 524.4 134.4 524.2 134.4C524.0 134.3 523.8 134.5 523.5 134.8C523.2 135.1 522.9 135.5 522.5 136.1C522.2 136.7 521.9 137.5 521.7 138.4C521.4 139.2 521.2 140.2 521.1 141.2C521.0 142.1 521.0 143.2 521.1 144.2C521.2 145.1 521.4 146.1 521.7 147.0C522.1 147.8 522.6 148.7 523.2 149.3C523.7 149.9 524.4 150.5 525.2 150.8C526.0 151.1 526.9 151.3 527.7 151.3C528.6 151.4 529.6 151.2 530.5 150.9C531.4 150.6 532.7 149.9 533.2 149.6" stroke="#4d6d9c" stroke-width="3.8" fill="none" stroke-linecap="round" stroke-linejoin="round"/>
<path d="M481.7 127.2C482.1 127.3 483.3 127.8 484.1 127.9C485.0 128.0 485.9 127.8 486.8 127.6C487.8 127.4 488.7 127.0 489.6 126.5C490.4 126.0 491.3 125.4 492.0 124.8C492.7 124.1 493.4 123.4 493.9 122.7C494.5 122.1 494.9 121.4 495.2 120.8C495.5 120.3 495.6 119.8 495.7 119.4C495.7 119.1 495.7 118.8 495.5 118.7C495.4 118.7 495.1 118.8 494.9 119.0C494.6 119.3 494.2 119.7 493.9 120.3C493.6 120.9 493.3 121.6 493.0 122.4C492.7 123.2 492.5 124.2 492.4 125.2C492.3 126.1 492.2 127.2 492.3 128.2C492.4 129.1 492.6 130.2 492.9 131.0C493.2 131.9 493.6 132.8 494.2 133.4C494.7 134.1 495.4 134.7 496.2 135.0C496.9 135.4 497.8 135.6 498.7 135.7C499.5 135.8 500.5 135.6 501.4 135.4C502.3 135.1 503.3 134.7 504.1 134.2C505.0 133.7 505.8 133.1 506.5 132.5C507.2 131.8 507.9 131.1 508.4 130.4C508.9 129.8 509.3 129.1 509.6 128.5C509.9 128.0 510.0 127.5 510.1 127.2C510.1 126.8 510.0 126.6 509.9 126.6C509.7 126.5 509.4 126.6 509.2 126.9C508.9 127.2 508.5 127.6 508.2 128.2C507.9 128.8 507.6 129.6 507.3 130.4C507.1 131.2 506.8 132.2 506.7 133.2C506.6 134.1 506.6 135.2 506.7 136.2C506.8 137.1 507.0 138.1 507.3 139.0C507.6 139.9 508.1 140.7 508.7 141.4C509.2 142.0 509.9 142.6 510.7 142.9C511.4 143.3 512.3 143.5 513.2 143.5C514.1 143.6 515.0 143.4 515.9 143.1C516.9 142.9 517.8 142.4 518.6 141.9C519.5 141.4 520.3 140.8 521.0 140.1C521.7 139.5 522.4 138.8 522.9 138.1C523.4 137.5 523.8 136.8 524.0 136.3C524.3 135.7 524.4 135.2 524.4 134.9C524.5 134.6 524.4 134.4 524.2 134.4C524.0 134.3 523.8 134.5 523.5 134.8C523.2 135.1 522.9 135.5 522.5 136.1C522.2 136.7 521.9 137.5 521.7 138.4C521.4 139.2 521.2 140.2 521.1 141.2C521.0 142.1 521.0 143.2 521.1 144.2C521.2 145.1 521.4 146.1 521.7 147.0C522.1 147.8 522.6 148.7 523.2 149.3C523.7 149.9 524.4 150.5 525.2 150.8C526.0 151.1 526.9 151.3 527.7 151.3C528.6 151.4 529.6 151.2 530.5 150.9C531.4 150.6 532.7 149.9 533.2 149.6" stroke="#8eaed7" stroke-width="3.0" fill="none" stroke-linecap="round" stroke-linejoin="round"/>
<path d="M481.7 127.2C482.1 127.3 483.3 127.8 484.1 127.9C485.0 128.0 485.9 127.8 486.8 127.6C487.8 127.4 488.7 127.0 489.6 126.5C490.4 126.0 491.3 125.4 492.0 124.8C492.7 124.1 493.4 123.4 493.9 122.7C494.5 122.1 494.9 121.4 495.2 120.8C495.5 120.3 495.6 119.8 495.7 119.4C495.7 119.1 495.7 118.8 495.5 118.7C495.4 118.7 495.1 118.8 494.9 119.0C494.6 119.3 494.2 119.7 493.9 120.3C493.6 120.9 493.3 121.6 493.0 122.4C492.7 123.2 492.5 124.2 492.4 125.2C492.3 126.1 492.2 127.2 492.3 128.2C492.4 129.1 492.6 130.2 492.9 131.0C493.2 131.9 493.6 132.8 494.2 133.4C494.7 134.1 495.4 134.7 496.2 135.0C496.9 135.4 497.8 135.6 498.7 135.7C499.5 135.8 500.5 135.6 501.4 135.4C502.3 135.1 503.3 134.7 504.1 134.2C505.0 133.7 505.8 133.1 506.5 132.5C507.2 131.8 507.9 131.1 508.4 130.4C508.9 129.8 509.3 129.1 509.6 128.5C509.9 128.0 510.0 127.5 510.1 127.2C510.1 126.8 510.0 126.6 509.9 126.6C509.7 126.5 509.4 126.6 509.2 126.9C508.9 127.2 508.5 127.6 508.2 128.2C507.9 128.8 507.6 129.6 507.3 130.4C507.1 131.2 506.8 132.2 506.7 133.2C506.6 134.1 506.6 135.2 506.7 136.2C506.8 137.1 507.0 138.1 507.3 139.0C507.6 139.9 508.1 140.7 508.7 141.4C509.2 142.0 509.9 142.6 510.7 142.9C511.4 143.3 512.3 143.5 513.2 143.5C514.1 143.6 515.0 143.4 515.9 143.1C516.9 142.9 517.8 142.4 518.6 141.9C519.5 141.4 520.3 140.8 521.0 140.1C521.7 139.5 522.4 138.8 522.9 138.1C523.4 137.5 523.8 136.8 524.0 136.3C524.3 135.7 524.4 135.2 524.4 134.9C524.5 134.6 524.4 134.4 524.2 134.4C524.0 134.3 523.8 134.5 523.5 134.8C523.2 135.1 522.9 135.5 522.5 136.1C522.2 136.7 521.9 137.5 521.7 138.4C521.4 139.2 521.2 140.2 521.1 141.2C521.0 142.1 521.0 143.2 521.1 144.2C521.2 145.1 521.4 146.1 521.7 147.0C522.1 147.8 522.6 148.7 523.2 149.3C523.7 149.9 524.4 150.5 525.2 150.8C526.0 151.1 526.9 151.3 527.7 151.3C528.6 151.4 529.6 151.2 530.5 150.9C531.4 150.6 532.7 149.9 533.2 149.6" stroke="#d3e2f4" stroke-width="1.05" fill="none" stroke-linecap="round" transform="translate(-0.3 -0.3)"/>
<path d="M488.9 157.9C489.2 157.8 490.2 157.5 490.7 157.2C491.3 156.8 491.8 156.3 492.2 155.8C492.6 155.2 493.0 154.5 493.3 153.9C493.5 153.2 493.7 152.4 493.8 151.8C493.9 151.1 494.0 150.4 493.9 149.8C493.9 149.2 493.8 148.6 493.7 148.2C493.6 147.8 493.4 147.4 493.2 147.2C493.1 147.0 492.9 147.0 492.7 147.0C492.6 147.1 492.5 147.3 492.4 147.6C492.4 147.9 492.4 148.4 492.4 148.8C492.5 149.3 492.7 149.9 492.9 150.5C493.1 151.1 493.5 151.8 493.9 152.3C494.3 152.9 494.7 153.5 495.3 154.0C495.8 154.5 496.4 154.9 497.0 155.2C497.6 155.5 498.3 155.8 499.0 155.8C499.6 155.9 500.3 155.8 500.9 155.6C501.5 155.4 502.1 155.1 502.6 154.7C503.1 154.3 503.6 153.7 504.0 153.1C504.4 152.5 504.7 151.8 504.9 151.1C505.1 150.4 505.3 149.7 505.3 149.0C505.4 148.4 505.4 147.7 505.3 147.1C505.3 146.6 505.1 146.1 505.0 145.7C504.9 145.3 504.7 145.1 504.5 145.0C504.3 144.8 504.2 144.8 504.0 145.0C503.9 145.1 503.8 145.4 503.8 145.8C503.8 146.1 503.8 146.6 504.0 147.1C504.1 147.7 504.3 148.3 504.6 148.9C504.8 149.5 505.2 150.1 505.7 150.7C506.1 151.3 506.6 151.8 507.2 152.3C507.7 152.7 508.4 153.1 509.0 153.3C509.6 153.6 510.3 153.7 511.0 153.7C511.6 153.7 512.3 153.6 512.8 153.3C513.4 153.0 514.0 152.6 514.5 152.2C515.0 151.7 515.4 151.1 515.7 150.4C516.1 149.8 516.3 149.1 516.5 148.4C516.7 147.7 516.8 147.0 516.8 146.3C516.8 145.7 516.8 145.0 516.7 144.5C516.6 144.0 516.4 143.6 516.3 143.3C516.1 143.0 515.9 142.8 515.8 142.7C515.6 142.7 515.5 142.8 515.4 143.0C515.3 143.2 515.2 143.5 515.2 144.0C515.3 144.4 515.3 144.9 515.5 145.5C515.7 146.0 515.9 146.7 516.3 147.3C516.6 147.9 517.3 148.7 517.5 149.0" stroke="#4d6d9c" stroke-width="3.4" fill="none" stroke-linecap="round" stroke-linejoin="round"/>
<path d="M488.9 157.9C489.2 157.8 490.2 157.5 490.7 157.2C491.3 156.8 491.8 156.3 492.2 155.8C492.6 155.2 493.0 154.5 493.3 153.9C493.5 153.2 493.7 152.4 493.8 151.8C493.9 151.1 494.0 150.4 493.9 149.8C493.9 149.2 493.8 148.6 493.7 148.2C493.6 147.8 493.4 147.4 493.2 147.2C493.1 147.0 492.9 147.0 492.7 147.0C492.6 147.1 492.5 147.3 492.4 147.6C492.4 147.9 492.4 148.4 492.4 148.8C492.5 149.3 492.7 149.9 492.9 150.5C493.1 151.1 493.5 151.8 493.9 152.3C494.3 152.9 494.7 153.5 495.3 154.0C495.8 154.5 496.4 154.9 497.0 155.2C497.6 155.5 498.3 155.8 499.0 155.8C499.6 155.9 500.3 155.8 500.9 155.6C501.5 155.4 502.1 155.1 502.6 154.7C503.1 154.3 503.6 153.7 504.0 153.1C504.4 152.5 504.7 151.8 504.9 151.1C505.1 150.4 505.3 149.7 505.3 149.0C505.4 148.4 505.4 147.7 505.3 147.1C505.3 146.6 505.1 146.1 505.0 145.7C504.9 145.3 504.7 145.1 504.5 145.0C504.3 144.8 504.2 144.8 504.0 145.0C503.9 145.1 503.8 145.4 503.8 145.8C503.8 146.1 503.8 146.6 504.0 147.1C504.1 147.7 504.3 148.3 504.6 148.9C504.8 149.5 505.2 150.1 505.7 150.7C506.1 151.3 506.6 151.8 507.2 152.3C507.7 152.7 508.4 153.1 509.0 153.3C509.6 153.6 510.3 153.7 511.0 153.7C511.6 153.7 512.3 153.6 512.8 153.3C513.4 153.0 514.0 152.6 514.5 152.2C515.0 151.7 515.4 151.1 515.7 150.4C516.1 149.8 516.3 149.1 516.5 148.4C516.7 147.7 516.8 147.0 516.8 146.3C516.8 145.7 516.8 145.0 516.7 144.5C516.6 144.0 516.4 143.6 516.3 143.3C516.1 143.0 515.9 142.8 515.8 142.7C515.6 142.7 515.5 142.8 515.4 143.0C515.3 143.2 515.2 143.5 515.2 144.0C515.3 144.4 515.3 144.9 515.5 145.5C515.7 146.0 515.9 146.7 516.3 147.3C516.6 147.9 517.3 148.7 517.5 149.0" stroke="#8eaed7" stroke-width="2.6" fill="none" stroke-linecap="round" stroke-linejoin="round"/>
<path d="M488.9 157.9C489.2 157.8 490.2 157.5 490.7 157.2C491.3 156.8 491.8 156.3 492.2 155.8C492.6 155.2 493.0 154.5 493.3 153.9C493.5 153.2 493.7 152.4 493.8 151.8C493.9 151.1 494.0 150.4 493.9 149.8C493.9 149.2 493.8 148.6 493.7 148.2C493.6 147.8 493.4 147.4 493.2 147.2C493.1 147.0 492.9 147.0 492.7 147.0C492.6 147.1 492.5 147.3 492.4 147.6C492.4 147.9 492.4 148.4 492.4 148.8C492.5 149.3 492.7 149.9 492.9 150.5C493.1 151.1 493.5 151.8 493.9 152.3C494.3 152.9 494.7 153.5 495.3 154.0C495.8 154.5 496.4 154.9 497.0 155.2C497.6 155.5 498.3 155.8 499.0 155.8C499.6 155.9 500.3 155.8 500.9 155.6C501.5 155.4 502.1 155.1 502.6 154.7C503.1 154.3 503.6 153.7 504.0 153.1C504.4 152.5 504.7 151.8 504.9 151.1C505.1 150.4 505.3 149.7 505.3 149.0C505.4 148.4 505.4 147.7 505.3 147.1C505.3 146.6 505.1 146.1 505.0 145.7C504.9 145.3 504.7 145.1 504.5 145.0C504.3 144.8 504.2 144.8 504.0 145.0C503.9 145.1 503.8 145.4 503.8 145.8C503.8 146.1 503.8 146.6 504.0 147.1C504.1 147.7 504.3 148.3 504.6 148.9C504.8 149.5 505.2 150.1 505.7 150.7C506.1 151.3 506.6 151.8 507.2 152.3C507.7 152.7 508.4 153.1 509.0 153.3C509.6 153.6 510.3 153.7 511.0 153.7C511.6 153.7 512.3 153.6 512.8 153.3C513.4 153.0 514.0 152.6 514.5 152.2C515.0 151.7 515.4 151.1 515.7 150.4C516.1 149.8 516.3 149.1 516.5 148.4C516.7 147.7 516.8 147.0 516.8 146.3C516.8 145.7 516.8 145.0 516.7 144.5C516.6 144.0 516.4 143.6 516.3 143.3C516.1 143.0 515.9 142.8 515.8 142.7C515.6 142.7 515.5 142.8 515.4 143.0C515.3 143.2 515.2 143.5 515.2 144.0C515.3 144.4 515.3 144.9 515.5 145.5C515.7 146.0 515.9 146.7 516.3 147.3C516.6 147.9 517.3 148.7 517.5 149.0" stroke="#d3e2f4" stroke-width="0.91" fill="none" stroke-linecap="round" transform="translate(-0.3 -0.3)"/>
<path d="M538 81C541 79 545 81 545 85C545 89 542 91 539.5 90C537 89 536.5 84 538 81Z" fill="#8fb0d9" stroke="#4f6f9c" stroke-width="0.6"/>
<path d="M545.9 77.7C549 74.5 554 73.5 559.9 75.2C563 77 563.5 82 561 85.5C558 88.5 552 89.5 548.5 87C546 85 545 81 545.9 77.7Z" fill="#93b3da" stroke="#4f6f9c" stroke-width="0.6"/>
<path d="M548 80C551 77 556 77 559 79M549 84C553 82 557 83 560 85" stroke="#5a7aa8" stroke-width="0.7" fill="none"/>
<path d="M574 93l3-3l3 1l2-4l3-2l1-4l2-3l-1-4l2-3l1-4M576 87l4 2M583 80l3 1M582 74l3 1M578 94l2 2M572 90l3 1M586 68l2-2M579 84l-2 3M587 76l2 2" stroke="#e2c84a" stroke-width="0.9" fill="none"/>
<path d="M582 86l1 2M588 74l1 1M584 70l1 1" stroke="#d84040" stroke-width="0.8" fill="none"/>
<text x="13" y="193" font-size="17" font-family="'Liberation Serif',serif" transform="translate(13 0) scale(0.85 1) translate(-13 0)">D</text>
<radialGradient id="halo"><stop offset="0.62" stop-color="#9fd0f8"/><stop offset="1" stop-color="#9fd0f8" stop-opacity="0"/></radialGradient>
<radialGradient id="bglow"><stop offset="0" stop-color="#8888ff" stop-opacity="0.8"/><stop offset="1" stop-color="#8888ff" stop-opacity="0"/></radialGradient>
<circle cx="86.8" cy="250.6" r="4.9" fill="#e6c8f0" stroke="#b0a0b8" stroke-width="0.45"/>
<text x="86.8" y="250.5" font-size="2.6" font-family="'Liberation Sans',sans-serif" text-anchor="middle" fill="#222">Gln</text>
<text x="86.8" y="253.1" font-size="2" font-family="'Liberation Sans',sans-serif" text-anchor="middle" fill="#222">A:105</text>
<circle cx="108.0" cy="266.90000000000003" r="7.2" fill="url(#halo)"/>
<circle cx="107.3" cy="268.1" r="4.9" fill="#c8eeb4" stroke="#98c088" stroke-width="0.45"/>
<text x="107.3" y="268.0" font-size="2.6" font-family="'Liberation Sans',sans-serif" text-anchor="middle" fill="#222">Leu</text>
<text x="107.3" y="270.6" font-size="2" font-family="'Liberation Sans',sans-serif" text-anchor="middle" fill="#222">A:104</text>
<circle cx="135.6" cy="270.90000000000003" r="7.2" fill="url(#halo)"/>
<circle cx="134.9" cy="272.1" r="4.9" fill="#e6c8f0" stroke="#b0a0b8" stroke-width="0.45"/>
<text x="134.9" y="272.0" font-size="2.6" font-family="'Liberation Sans',sans-serif" text-anchor="middle" fill="#222">Ser</text>
<text x="134.9" y="274.6" font-size="2" font-family="'Liberation Sans',sans-serif" text-anchor="middle" fill="#222">A:103</text>
<circle cx="162.5" cy="277.3" r="4.9" fill="#c8eeb4" stroke="#98c088" stroke-width="0.45"/>
<text x="162.5" y="277.2" font-size="2.6" font-family="'Liberation Sans',sans-serif" text-anchor="middle" fill="#222">Ala</text>
<text x="162.5" y="279.8" font-size="2" font-family="'Liberation Sans',sans-serif" text-anchor="middle" fill="#222">A:52</text>
<circle cx="79.7" cy="277.9" r="4.9" fill="#e6c8f0" stroke="#4444cc" stroke-width="0.95"/>
<text x="79.7" y="277.79999999999995" font-size="2.6" font-family="'Liberation Sans',sans-serif" text-anchor="middle" fill="#222">Lys</text>
<text x="79.7" y="280.4" font-size="2" font-family="'Liberation Sans',sans-serif" text-anchor="middle" fill="#222">A:54</text>
<circle cx="50.6" cy="284.3" r="4.9" fill="#e6c8f0" stroke="#cc3344" stroke-width="0.95"/>
<text x="50.6" y="284.2" font-size="2.6" font-family="'Liberation Sans',sans-serif" text-anchor="middle" fill="#222">Asp</text>
<text x="50.6" y="286.8" font-size="2" font-family="'Liberation Sans',sans-serif" text-anchor="middle" fill="#222">A:167</text>
<circle cx="173.2" cy="303.4" r="4.9" fill="#e6c8f0" stroke="#b0a0b8" stroke-width="0.45"/>
<text x="173.2" y="303.29999999999995" font-size="2.6" font-family="'Liberation Sans',sans-serif" text-anchor="middle" fill="#222">Gly</text>
<text x="173.2" y="305.9" font-size="2" font-family="'Liberation Sans',sans-serif" text-anchor="middle" fill="#222">A:32</text>
<circle cx="56.7" cy="314.1" r="4.9" fill="#e6c8f0" stroke="#cc3344" stroke-width="0.95"/>
<text x="56.7" y="314.0" font-size="2.6" font-family="'Liberation Sans',sans-serif" text-anchor="middle" fill="#222">Asp</text>
<text x="56.7" y="316.6" font-size="2" font-family="'Liberation Sans',sans-serif" text-anchor="middle" fill="#222">A:171</text>
<circle cx="30.7" cy="322.7" r="7.2" fill="url(#halo)"/>
<circle cx="30.0" cy="323.9" r="4.9" fill="#e6c8f0" stroke="#b0a0b8" stroke-width="0.45"/>
<text x="30.0" y="323.79999999999995" font-size="2.6" font-family="'Liberation Sans',sans-serif" text-anchor="middle" fill="#222">Gly</text>
<text x="30.0" y="326.4" font-size="2" font-family="'Liberation Sans',sans-serif" text-anchor="middle" fill="#222">A:35</text>
<circle cx="166.5" cy="329.4" r="4.9" fill="#e6c8f0" stroke="#cc3344" stroke-width="0.95"/>
<text x="166.5" y="329.29999999999995" font-size="2.6" font-family="'Liberation Sans',sans-serif" text-anchor="middle" fill="#222">Glu</text>
<text x="166.5" y="331.9" font-size="2" font-family="'Liberation Sans',sans-serif" text-anchor="middle" fill="#222">A:71</text>
<circle cx="50.7" cy="342.0" r="7.2" fill="url(#halo)"/>
<circle cx="50.0" cy="343.2" r="4.9" fill="#c8eeb4" stroke="#98c088" stroke-width="0.45"/>
<text x="50.0" y="343.09999999999997" font-size="2.6" font-family="'Liberation Sans',sans-serif" text-anchor="middle" fill="#222">Val</text>
<text x="50.0" y="345.7" font-size="2" font-family="'Liberation Sans',sans-serif" text-anchor="middle" fill="#222">A:39</text>
<circle cx="167.1" cy="359.5" r="4.9" fill="#e6c8f0" stroke="#b0a0b8" stroke-width="0.45"/>
<text x="167.1" y="359.4" font-size="2.6" font-family="'Liberation Sans',sans-serif" text-anchor="middle" fill="#222">Cys</text>
<text x="167.1" y="362.0" font-size="2" font-family="'Liberation Sans',sans-serif" text-anchor="middle" fill="#222">A:166</text>
<circle cx="44.5" cy="377.3" r="4.9" fill="#e6c8f0" stroke="#b0a0b8" stroke-width="0.45"/>
<text x="44.5" y="377.2" font-size="2.6" font-family="'Liberation Sans',sans-serif" text-anchor="middle" fill="#222">Asn</text>
<text x="44.5" y="379.8" font-size="2" font-family="'Liberation Sans',sans-serif" text-anchor="middle" fill="#222">A:155</text>
<circle cx="94.4" cy="394.1" r="4.9" fill="#c8eeb4" stroke="#98c088" stroke-width="0.45"/>
<text x="94.4" y="394.0" font-size="2.6" font-family="'Liberation Sans',sans-serif" text-anchor="middle" fill="#222">Ile</text>
<text x="94.4" y="396.6" font-size="2" font-family="'Liberation Sans',sans-serif" text-anchor="middle" fill="#222">A:84</text>
<circle cx="124.8" cy="391" r="4.9" fill="#e6c8f0" stroke="#4444cc" stroke-width="0.95"/>
<text x="124.8" y="390.9" font-size="2.6" font-family="'Liberation Sans',sans-serif" text-anchor="middle" fill="#222">Lys</text>
<text x="124.8" y="393.5" font-size="2" font-family="'Liberation Sans',sans-serif" text-anchor="middle" fill="#222">A:155</text>
<circle cx="155.4" cy="388" r="4.9" fill="#e6c8f0" stroke="#4444cc" stroke-width="0.95"/>
<text x="155.4" y="387.9" font-size="2.6" font-family="'Liberation Sans',sans-serif" text-anchor="middle" fill="#222">Lys</text>
<text x="155.4" y="390.5" font-size="2" font-family="'Liberation Sans',sans-serif" text-anchor="middle" fill="#222">A:158</text>
<circle cx="111" cy="415.9" r="4.9" fill="#e6c8f0" stroke="#cc3344" stroke-width="0.95"/>
<text x="111" y="415.79999999999995" font-size="2.6" font-family="'Liberation Sans',sans-serif" text-anchor="middle" fill="#222">Glu</text>
<text x="111" y="418.4" font-size="2" font-family="'Liberation Sans',sans-serif" text-anchor="middle" fill="#222">A:85</text>
<path d="M79.9 297.4C81.4 297.0 85.9 295.3 88.6 295.0C91.3 294.7 93.7 294.9 96.0 295.6C98.3 296.3 100.1 298.6 102.2 299.3C104.3 300.0 105.9 300.2 108.4 299.9C110.9 299.6 114.4 297.9 117.1 297.4C119.8 296.9 121.7 296.8 124.6 296.8C127.5 296.8 131.6 296.7 134.5 297.4C137.4 298.1 140.0 299.3 141.9 301.2C143.8 303.1 145.2 305.9 145.7 308.6C146.2 311.3 145.6 314.6 145.0 317.3C144.4 320.0 142.6 322.0 141.9 324.7C141.2 327.4 141.1 330.3 140.7 333.4C140.3 336.5 140.3 339.9 139.5 343.4C138.7 346.9 136.9 351.6 135.7 354.5C134.4 357.4 134.1 359.2 132.0 360.7C129.9 362.1 126.2 362.4 123.3 363.2C120.4 364.0 117.5 364.7 114.6 365.7C111.7 366.7 108.9 368.8 106.0 369.4C103.1 370.0 100.2 369.8 97.3 369.4C94.4 369.0 91.5 368.1 88.6 366.9C85.7 365.7 82.4 364.1 79.9 362.0C77.4 359.9 75.1 357.2 73.7 354.5C72.3 351.8 71.7 348.7 71.8 345.8C71.9 342.9 73.5 339.9 74.3 337.2C75.1 334.5 76.5 332.4 76.8 329.7C77.1 327.0 76.2 324.1 76.2 321.0C76.2 317.9 76.5 314.2 76.8 311.1C77.1 308.0 77.5 304.7 78.0 302.4C78.5 300.1 78.1 298.6 79.9 297.4C81.7 296.2 85.9 295.3 88.6 295.0C91.3 294.7 94.8 295.5 96.0 295.6" fill="none" stroke="#8a8a8a" stroke-width="0.35"/>
<circle cx="132.6" cy="310.5" r="3.2" fill="url(#bglow)"/>
<circle cx="81.1" cy="343.4" r="3.4" fill="url(#bglow)"/>
<circle cx="97.3" cy="354.4" r="4" fill="url(#bglow)"/>
<circle cx="106.6" cy="356.4" r="3.2" fill="url(#bglow)"/>
<path d="M93.3 313.6L102.2 315.7M102.2 315.7L104.1 325.4M93.3 313.6L88.7 320.8M89.0 323.0L94.8 328.7M94.8 328.7L104.1 325.4M104.1 325.4L113.4 327.2M113.4 327.2L117.4 320.4M119.5 319.2L128.3 319.4M128.3 319.4L132.6 310.5M113.4 327.2L119.6 334.7M119.6 334.7L120.8 344.0M120.8 344.0L129.5 340.9M120.8 344.0L124.6 352.0M123.8 353.2L115.9 352.7M120.8 344.0L115.9 352.7M115.9 352.7L106.6 356.4M106.6 356.4L97.3 354.3M97.3 354.3L90.4 347.7M90.4 347.7L82.4 344.0M82.2 342.6L89.8 337.2M90.4 347.7L89.8 337.2M89.8 337.2L94.8 328.7M93.8 313.4L90.3 305.6M92.8 313.8L89.3 306.1M102.6 316.1L110.1 309.6M101.8 315.3L109.3 308.8M127.8 319.7L131.4 326.2M128.8 319.1L132.4 325.7" stroke="#222" stroke-width="0.45" fill="none"/>
<path d="M104.1 325.4L109.7 320.1L108.3 318.9Z" fill="#222"/>
<path d="M94.8 328.7L99.7 335.3L101.1 334.1Z" fill="#222"/>
<path d="M113.4 327.2L110.1 333.7L111.7 334.3Z" fill="#222"/>
<path d="M115.9 352.7L116.8 360.9L118.6 360.5Z" fill="#222"/>
<path d="M89.8 337.2L82.8 332.6L82.0 334.2Z" fill="#222"/>
<path d="M90.4 347.7L84.7 354.6L86.3 355.6Z" fill="#222"/>
<text x="125.2" y="354.5" font-size="3.4" font-family="'Liberation Sans',sans-serif" font-weight="bold" text-anchor="middle" fill="#e82020">O</text>
<text x="88" y="323.2" font-size="3.4" font-family="'Liberation Sans',sans-serif" font-weight="bold" text-anchor="middle" fill="#e82020">O</text>
<text x="132.6" y="328.4" font-size="3.4" font-family="'Liberation Sans',sans-serif" font-weight="bold" text-anchor="middle" fill="#e82020">O</text>
<text x="118.1" y="320.4" font-size="3.4" font-family="'Liberation Sans',sans-serif" font-weight="bold" text-anchor="middle" fill="#e82020">O</text>
<text x="81.1" y="344.59999999999997" font-size="3.4" font-family="'Liberation Sans',sans-serif" font-weight="bold" text-anchor="middle" fill="#e82020">O</text>
<text x="89.2" y="305.8" font-size="3.4" font-family="'Liberation Sans',sans-serif" font-weight="bold" text-anchor="middle" fill="#e82020">O</text>
<text x="109.6" y="320" font-size="2.6" font-family="'Liberation Sans',sans-serif" font-weight="bold" text-anchor="middle" fill="#222">H</text>
<text x="101" y="336.6" font-size="2.6" font-family="'Liberation Sans',sans-serif" font-weight="bold" text-anchor="middle" fill="#222">H</text>
<text x="110.6" y="336.4" font-size="2.6" font-family="'Liberation Sans',sans-serif" font-weight="bold" text-anchor="middle" fill="#222">H</text>
<text x="117.9" y="362.8" font-size="2.6" font-family="'Liberation Sans',sans-serif" font-weight="bold" text-anchor="middle" fill="#222">H</text>
<text x="82" y="334" font-size="2.6" font-family="'Liberation Sans',sans-serif" font-weight="bold" text-anchor="middle" fill="#222">H</text>
<path d="M80.5 282.5L87.8 302" stroke="#22aa22" stroke-width="0.35" fill="none"/>
<path d="M87.8 302.5l-1.2-1.8l1.8-0.5z" fill="#22aa22"/>
<text x="215.6" y="187.2" font-size="18.5" font-family="'Liberation Serif',serif" transform="translate(215.6 0) scale(0.78 1) translate(-215.6 0)">E</text>
<rect x="211.1" y="227.60" width="182.5" height="8.70" fill="#f80000" stroke="#5a5a5a" stroke-width="0.45"/>
<text x="302.5" y="233.85" font-size="3.7" font-family="'Liberation Serif',serif" text-anchor="middle" fill="#222">-7.68</text>
<text x="394.6" y="233.95" font-size="4.15" font-family="'Liberation Serif',serif" fill="#111">RARB</text>
<rect x="211.1" y="236.30" width="182.5" height="8.70" fill="#f42828" stroke="#5a5a5a" stroke-width="0.45"/>
<text x="302.5" y="242.56" font-size="3.7" font-family="'Liberation Serif',serif" text-anchor="middle" fill="#222">-6.98</text>
<text x="394.6" y="242.66" font-size="4.15" font-family="'Liberation Serif',serif" fill="#111">PRKACA</text>
<rect x="211.1" y="245.01" width="182.5" height="8.70" fill="#f45a5a" stroke="#5a5a5a" stroke-width="0.45"/>
<text x="302.5" y="251.26" font-size="3.7" font-family="'Liberation Serif',serif" text-anchor="middle" fill="#222">-6.83</text>
<text x="394.6" y="251.36" font-size="4.15" font-family="'Liberation Serif',serif" fill="#111">MMP9</text>
<rect x="211.1" y="253.71" width="182.5" height="8.70" fill="#f56666" stroke="#5a5a5a" stroke-width="0.45"/>
<text x="302.5" y="259.96" font-size="3.7" font-family="'Liberation Serif',serif" text-anchor="middle" fill="#222">-6.74</text>
<text x="394.6" y="260.06" font-size="4.15" font-family="'Liberation Serif',serif" fill="#111">MAPK1</text>
<rect x="211.1" y="262.41" width="182.5" height="8.70" fill="#f66c6c" stroke="#5a5a5a" stroke-width="0.45"/>
<text x="302.5" y="268.67" font-size="3.7" font-family="'Liberation Serif',serif" text-anchor="middle" fill="#222">-6.69</text>
<text x="394.6" y="268.77" font-size="4.15" font-family="'Liberation Serif',serif" fill="#111">TGFBR1</text>
<rect x="211.1" y="271.12" width="182.5" height="8.70" fill="#f67272" stroke="#5a5a5a" stroke-width="0.45"/>
<text x="302.5" y="277.37" font-size="3.7" font-family="'Liberation Serif',serif" text-anchor="middle" fill="#222">-6.64</text>
<text x="394.6" y="277.47" font-size="4.15" font-family="'Liberation Serif',serif" fill="#111">PGR</text>
<rect x="211.1" y="279.82" width="182.5" height="8.70" fill="#f89494" stroke="#5a5a5a" stroke-width="0.45"/>
<text x="302.5" y="286.07" font-size="3.7" font-family="'Liberation Serif',serif" text-anchor="middle" fill="#222">-6.48</text>
<text x="394.6" y="286.17" font-size="4.15" font-family="'Liberation Serif',serif" fill="#111">MAP2K1</text>
<rect x="211.1" y="288.53" width="182.5" height="8.70" fill="#faa4a4" stroke="#5a5a5a" stroke-width="0.45"/>
<text x="302.5" y="294.78" font-size="3.7" font-family="'Liberation Serif',serif" text-anchor="middle" fill="#222">-6.36</text>
<text x="394.6" y="294.88" font-size="4.15" font-family="'Liberation Serif',serif" fill="#111">POLB</text>
<rect x="211.1" y="297.23" width="182.5" height="8.70" fill="#faa6a6" stroke="#5a5a5a" stroke-width="0.45"/>
<text x="302.5" y="303.48" font-size="3.7" font-family="'Liberation Serif',serif" text-anchor="middle" fill="#222">-6.35</text>
<text x="394.6" y="303.58" font-size="4.15" font-family="'Liberation Serif',serif" fill="#111">EPHB4</text>
<rect x="211.1" y="305.93" width="182.5" height="8.70" fill="#fbbaba" stroke="#5a5a5a" stroke-width="0.45"/>
<text x="302.5" y="312.19" font-size="3.7" font-family="'Liberation Serif',serif" text-anchor="middle" fill="#222">-6.18</text>
<text x="394.6" y="312.29" font-size="4.15" font-family="'Liberation Serif',serif" fill="#111">MAPK14</text>
<rect x="211.1" y="314.64" width="182.5" height="8.70" fill="#fbc2c2" stroke="#5a5a5a" stroke-width="0.45"/>
<text x="302.5" y="320.89" font-size="3.7" font-family="'Liberation Serif',serif" text-anchor="middle" fill="#222">-6.12</text>
<text x="394.6" y="320.99" font-size="4.15" font-family="'Liberation Serif',serif" fill="#111">CDK6</text>
<rect x="211.1" y="323.34" width="182.5" height="8.70" fill="#fcd6d6" stroke="#5a5a5a" stroke-width="0.45"/>
<text x="302.5" y="329.59" font-size="3.7" font-family="'Liberation Serif',serif" text-anchor="middle" fill="#222">-5.97</text>
<text x="394.6" y="329.69" font-size="4.15" font-family="'Liberation Serif',serif" fill="#111">HSD17B1</text>
<rect x="211.1" y="332.04" width="182.5" height="8.70" fill="#fcdcdc" stroke="#5a5a5a" stroke-width="0.45"/>
<text x="302.5" y="338.30" font-size="3.7" font-family="'Liberation Serif',serif" text-anchor="middle" fill="#222">-5.93</text>
<text x="394.6" y="338.40" font-size="4.15" font-family="'Liberation Serif',serif" fill="#111">CASP7</text>
<rect x="211.1" y="340.75" width="182.5" height="8.70" fill="#fff7f7" stroke="#5a5a5a" stroke-width="0.45"/>
<text x="302.5" y="347.00" font-size="3.7" font-family="'Liberation Serif',serif" text-anchor="middle" fill="#222">-5.59</text>
<text x="394.6" y="347.10" font-size="4.15" font-family="'Liberation Serif',serif" fill="#111">NR3C1</text>
<rect x="211.1" y="349.45" width="182.5" height="8.70" fill="#ffffff" stroke="#5a5a5a" stroke-width="0.45"/>
<text x="302.5" y="355.70" font-size="3.7" font-family="'Liberation Serif',serif" text-anchor="middle" fill="#222">-5.52</text>
<text x="394.6" y="355.80" font-size="4.15" font-family="'Liberation Serif',serif" fill="#111">EGFR</text>
<rect x="211.1" y="358.16" width="182.5" height="8.70" fill="#f9fbf9" stroke="#5a5a5a" stroke-width="0.45"/>
<text x="302.5" y="364.41" font-size="3.7" font-family="'Liberation Serif',serif" text-anchor="middle" fill="#222">-5.43</text>
<text x="394.6" y="364.51" font-size="4.15" font-family="'Liberation Serif',serif" fill="#111">ADAM17</text>
<rect x="211.1" y="366.86" width="182.5" height="8.70" fill="#f8faf8" stroke="#5a5a5a" stroke-width="0.45"/>
<text x="302.5" y="373.11" font-size="3.7" font-family="'Liberation Serif',serif" text-anchor="middle" fill="#222">-5.42</text>
<text x="394.6" y="373.21" font-size="4.15" font-family="'Liberation Serif',serif" fill="#111">SRC</text>
<rect x="211.1" y="375.56" width="182.5" height="8.70" fill="#eef2ee" stroke="#5a5a5a" stroke-width="0.45"/>
<text x="302.5" y="381.81" font-size="3.7" font-family="'Liberation Serif',serif" text-anchor="middle" fill="#222">-5.38</text>
<text x="394.6" y="381.91" font-size="4.15" font-family="'Liberation Serif',serif" fill="#111">DPP4</text>
<rect x="211.1" y="384.27" width="182.5" height="8.70" fill="#eef2ee" stroke="#5a5a5a" stroke-width="0.45"/>
<text x="302.5" y="390.52" font-size="3.7" font-family="'Liberation Serif',serif" text-anchor="middle" fill="#222">-5.38</text>
<text x="394.6" y="390.62" font-size="4.15" font-family="'Liberation Serif',serif" fill="#111">CTSB</text>
<rect x="211.1" y="392.97" width="182.5" height="8.70" fill="#eaf0ea" stroke="#5a5a5a" stroke-width="0.45"/>
<text x="302.5" y="399.22" font-size="3.7" font-family="'Liberation Serif',serif" text-anchor="middle" fill="#222">-5.27</text>
<text x="394.6" y="399.32" font-size="4.15" font-family="'Liberation Serif',serif" fill="#111">FGFR1</text>
<rect x="211.1" y="401.67" width="182.5" height="8.70" fill="#e8eee8" stroke="#5a5a5a" stroke-width="0.45"/>
<text x="302.5" y="407.93" font-size="3.7" font-family="'Liberation Serif',serif" text-anchor="middle" fill="#222">-5.24</text>
<text x="394.6" y="408.03" font-size="4.15" font-family="'Liberation Serif',serif" fill="#111">JUN</text>
<rect x="211.1" y="410.38" width="182.5" height="8.70" fill="#e6ece6" stroke="#5a5a5a" stroke-width="0.45"/>
<text x="302.5" y="416.63" font-size="3.7" font-family="'Liberation Serif',serif" text-anchor="middle" fill="#222">-5.22</text>
<text x="394.6" y="416.73" font-size="4.15" font-family="'Liberation Serif',serif" fill="#111">CASP3</text>
<rect x="211.1" y="419.08" width="182.5" height="8.70" fill="#dce5dc" stroke="#5a5a5a" stroke-width="0.45"/>
<text x="302.5" y="425.33" font-size="3.7" font-family="'Liberation Serif',serif" text-anchor="middle" fill="#222">-5.18</text>
<text x="394.6" y="425.43" font-size="4.15" font-family="'Liberation Serif',serif" fill="#111">GSTM1</text>
<rect x="211.1" y="427.79" width="182.5" height="8.70" fill="#d9e3d9" stroke="#5a5a5a" stroke-width="0.45"/>
<text x="302.5" y="434.04" font-size="3.7" font-family="'Liberation Serif',serif" text-anchor="middle" fill="#222">-5.04</text>
<text x="394.6" y="434.14" font-size="4.15" font-family="'Liberation Serif',serif" fill="#111">MYLK</text>
<rect x="211.1" y="436.49" width="182.5" height="8.70" fill="#d8e2d8" stroke="#5a5a5a" stroke-width="0.45"/>
<text x="302.5" y="442.74" font-size="3.7" font-family="'Liberation Serif',serif" text-anchor="middle" fill="#222">-5.02</text>
<text x="394.6" y="442.84" font-size="4.15" font-family="'Liberation Serif',serif" fill="#111">TEK</text>
<rect x="211.1" y="445.19" width="182.5" height="8.70" fill="#b2cab2" stroke="#5a5a5a" stroke-width="0.45"/>
<text x="302.5" y="451.44" font-size="3.7" font-family="'Liberation Serif',serif" text-anchor="middle" fill="#222">-4.78</text>
<text x="394.6" y="451.54" font-size="4.15" font-family="'Liberation Serif',serif" fill="#111">ANXA5</text>
<rect x="211.1" y="453.90" width="182.5" height="8.70" fill="#a8c4a8" stroke="#5a5a5a" stroke-width="0.45"/>
<text x="302.5" y="460.15" font-size="3.7" font-family="'Liberation Serif',serif" text-anchor="middle" fill="#222">-4.64</text>
<text x="394.6" y="460.25" font-size="4.15" font-family="'Liberation Serif',serif" fill="#111">PPARG</text>
<linearGradient id="lg" x1="0" x2="1"><stop offset="0" stop-color="#f00"/><stop offset="0.05" stop-color="#f33"/><stop offset="0.12" stop-color="#f7a4a4"/><stop offset="0.55" stop-color="#fff"/><stop offset="1" stop-color="#3d8a4a"/></linearGradient>
<rect x="417.6" y="233.8" width="38.2" height="7.2" fill="url(#lg)"/>
<text x="418" y="232.3" font-size="4.5" font-family="'Liberation Serif',serif" fill="#333">binding energy</text>
<text x="418" y="247.6" font-size="4.2" font-family="'Liberation Serif',serif" text-anchor="middle" fill="#333">&#8722;7</text>
<text x="431" y="247.6" font-size="4.2" font-family="'Liberation Serif',serif" text-anchor="middle" fill="#333">&#8722;6</text>
<text x="443.4" y="247.6" font-size="4.2" font-family="'Liberation Serif',serif" text-anchor="middle" fill="#333">&#8722;5</text>
<text x="455.8" y="247.6" font-size="4.2" font-family="'Liberation Serif',serif" text-anchor="middle" fill="#333">&#8722;4</text>
<path d="M418 241v1.2M431 241v1.2M443.4 241v1.2M455.8 241v1.2" stroke="#333" stroke-width="0.5"/>
<text x="492.2" y="187.2" font-size="18.5" font-family="'Liberation Serif',serif" transform="translate(492.2 0) scale(0.8 1) translate(-492.2 0)">F</text>
<path d="M552.5 208.3Q548.1 215.8 548.0 222.0M552.5 208.3Q561.0 209.2 566.0 214.0M552.5 208.3Q558.6 221.5 564.2 228.1M536.9 228.1Q538.9 232.2 529.0 232.0M536.9 228.1Q544.7 232.3 540.0 237.0M536.9 228.1Q541.9 229.1 548.0 222.0M512.4 237.5Q516.5 241.3 521.8 247.8M512.4 237.5Q517.2 234.6 529.0 232.0M512.4 237.5Q512.2 242.2 514.0 255.0M564.2 228.1Q558.0 231.1 560.0 232.0M564.2 228.1Q571.5 230.5 574.0 236.0M564.2 228.1Q562.8 220.2 566.0 214.0M581.4 227.4Q570.1 229.8 584.6 235.9M581.4 227.4Q581.1 234.6 574.0 236.0M581.4 227.4Q583.9 233.5 590.0 241.0M584.6 235.9Q582.1 234.6 590.0 241.0M584.6 235.9Q583.1 228.3 581.4 227.4M584.6 235.9Q584.2 239.1 574.0 236.0M626.9 244.7Q624.8 254.2 620.0 262.0M626.9 244.7Q623.5 258.2 623.8 271.4M626.9 244.7Q610.6 255.3 606.0 262.0M521.8 247.8Q527.8 249.0 529.6 245.3M521.8 247.8Q517.4 256.2 514.0 255.0M521.8 247.8Q517.3 243.2 512.4 237.5M529.6 245.3Q524.1 245.1 521.8 247.8M529.6 245.3Q526.0 250.0 532.0 258.0M529.6 245.3Q533.8 240.5 540.0 237.0M518.6 271.1Q513.5 262.2 515.0 262.0M518.6 271.1Q517.6 275.4 522.0 282.0M518.6 271.1Q519.3 260.0 514.0 255.0M526.5 288.6Q525.2 284.2 522.0 282.0M526.5 288.6Q526.1 291.3 528.0 300.0M526.5 288.6Q538.8 293.1 538.4 296.5M538.4 296.5Q537.1 302.8 536.5 305.0M538.4 296.5Q530.0 295.5 528.0 300.0M538.4 296.5Q533.0 288.9 526.5 288.6M531.2 316.9Q533.6 315.2 536.5 305.0M531.2 316.9Q534.5 317.4 545.0 318.0M531.2 316.9Q536.6 320.3 537.5 332.6M536.5 305.0Q538.3 300.8 538.4 296.5M536.5 305.0Q527.6 302.3 528.0 300.0M536.5 305.0Q535.9 313.9 531.2 316.9M623.8 271.4Q621.2 270.8 620.0 262.0M623.8 271.4Q624.4 278.8 623.8 286.1M623.8 271.4Q612.4 265.3 606.0 262.0M623.8 286.1Q619.4 289.1 612.0 292.0M623.8 286.1Q627.5 279.5 623.8 271.4M623.8 286.1Q620.6 302.4 617.5 305.0M617.5 305.0Q616.9 312.8 619.0 318.0M617.5 305.0Q619.0 299.3 612.0 292.0M617.5 305.0Q623.1 297.9 623.8 286.1M628.5 335.7Q618.8 331.6 619.0 318.0M628.5 335.7Q615.9 340.1 605.9 344.2M628.5 335.7Q625.9 346.6 613.8 358.3M537.5 332.6Q545.3 333.5 553.2 331.0M537.5 332.6Q540.2 341.2 546.9 345.8M537.5 332.6Q541.4 324.3 545.0 318.0M546.9 345.8Q547.6 340.0 553.2 331.0M546.9 345.8Q536.0 337.4 537.5 332.6M546.9 345.8Q552.9 347.4 563.5 345.8M553.2 331.0Q561.6 327.1 556.0 320.0M553.2 331.0Q552.8 320.8 545.0 318.0M553.2 331.0Q549.0 328.6 537.5 332.6M563.5 345.8Q564.9 348.8 570.4 353.6M563.5 345.8Q565.2 347.3 575.0 345.0M563.5 345.8Q564.7 353.5 560.0 357.0M570.4 353.6Q568.2 343.5 575.0 345.0M570.4 353.6Q565.6 354.8 563.5 345.8M570.4 353.6Q559.3 352.0 560.0 357.0M605.9 344.2Q603.4 344.3 592.0 340.0M605.9 344.2Q605.6 337.4 600.0 330.0M605.9 344.2Q610.7 351.7 613.8 358.3M613.8 358.3Q609.0 344.7 605.9 344.2M613.8 358.3Q608.8 371.6 605.6 378.1M613.8 358.3Q602.5 367.4 597.0 372.0M583.0 369.3Q586.0 362.7 590.0 360.0M583.0 369.3Q593.0 370.0 597.0 372.0M583.0 369.3Q579.5 356.1 584.6 351.4M605.6 378.1Q604.5 376.0 597.0 372.0M605.6 378.1Q606.7 369.9 613.8 358.3M605.6 378.1Q597.3 373.8 590.0 360.0M584.6 351.4Q584.9 351.8 590.0 360.0M584.6 351.4Q575.7 345.3 575.0 345.0M584.6 351.4Q586.3 343.4 592.0 340.0M515.0 262.0Q512.7 255.3 514.0 255.0M515.0 262.0Q519.2 270.0 518.6 271.1M515.0 262.0Q515.1 259.2 521.8 247.8M522.0 282.0Q527.4 289.1 526.5 288.6M522.0 282.0Q518.5 273.4 518.6 271.1M522.0 282.0Q528.8 284.3 528.0 300.0M532.0 258.0Q529.7 250.0 529.6 245.3M532.0 258.0Q525.1 250.3 521.8 247.8M532.0 258.0Q522.8 259.2 515.0 262.0M540.0 237.0Q544.6 235.5 548.0 240.0M540.0 237.0Q538.1 234.0 536.9 228.1M540.0 237.0Q534.7 231.4 529.0 232.0M548.0 240.0Q542.0 240.0 540.0 237.0M548.0 240.0Q553.2 235.2 560.0 232.0M548.0 240.0Q541.9 236.3 536.9 228.1M574.0 236.0Q580.5 246.1 584.6 235.9M574.0 236.0Q582.1 233.7 581.4 227.4M574.0 236.0Q571.6 230.4 564.2 228.1M598.0 250.0Q594.2 247.9 590.0 241.0M598.0 250.0Q606.2 255.8 606.0 262.0M598.0 250.0Q589.8 243.7 584.6 235.9M606.0 262.0Q612.0 260.9 620.0 262.0M606.0 262.0Q603.5 259.9 598.0 250.0M606.0 262.0Q613.1 271.9 623.8 271.4M612.0 292.0Q617.8 284.6 623.8 286.1M612.0 292.0Q616.2 299.2 617.5 305.0M612.0 292.0Q619.5 277.0 623.8 271.4M600.0 330.0Q597.9 337.8 592.0 340.0M600.0 330.0Q599.7 334.1 605.9 344.2M600.0 330.0Q612.3 330.7 619.0 318.0M592.0 340.0Q600.9 330.9 600.0 330.0M592.0 340.0Q593.4 342.3 584.6 351.4M592.0 340.0Q598.6 341.3 605.9 344.2M575.0 345.0Q576.6 353.0 570.4 353.6M575.0 345.0Q569.1 346.8 563.5 345.8M575.0 345.0Q577.2 348.7 584.6 351.4M556.0 320.0Q554.9 319.6 545.0 318.0M556.0 320.0Q553.1 329.5 553.2 331.0M556.0 320.0Q545.7 327.0 537.5 332.6M514.0 255.0Q515.6 259.3 515.0 262.0M514.0 255.0Q516.4 251.3 521.8 247.8M514.0 255.0Q515.4 262.6 518.6 271.1M560.0 232.0Q555.6 228.9 564.2 228.1M560.0 232.0Q553.0 239.9 548.0 240.0M560.0 232.0Q570.5 229.2 574.0 236.0M590.0 241.0Q583.7 240.3 584.6 235.9M590.0 241.0Q594.3 243.5 598.0 250.0M590.0 241.0Q582.9 232.7 581.4 227.4M620.0 262.0Q620.3 262.9 623.8 271.4M620.0 262.0Q614.4 266.4 606.0 262.0M620.0 262.0Q623.0 254.1 626.9 244.7M619.0 318.0Q612.2 308.4 617.5 305.0M619.0 318.0Q618.7 328.6 628.5 335.7M619.0 318.0Q612.4 320.7 600.0 330.0M560.0 357.0Q563.6 352.3 570.4 353.6M560.0 357.0Q560.4 347.1 563.5 345.8M560.0 357.0Q555.8 348.9 546.9 345.8M597.0 372.0Q597.9 371.9 605.6 378.1M597.0 372.0Q592.4 369.6 590.0 360.0M597.0 372.0Q590.7 371.0 583.0 369.3M590.0 360.0Q585.3 353.0 584.6 351.4M590.0 360.0Q587.3 367.2 583.0 369.3M590.0 360.0Q596.9 366.0 597.0 372.0M545.0 318.0Q546.9 317.1 556.0 320.0M545.0 318.0Q538.0 318.4 531.2 316.9M545.0 318.0Q549.4 327.5 553.2 331.0M528.0 300.0Q534.0 304.6 536.5 305.0M528.0 300.0Q536.7 299.1 538.4 296.5M528.0 300.0Q530.9 293.4 526.5 288.6M548.0 222.0Q541.1 230.0 536.9 228.1M548.0 222.0Q550.2 221.7 552.5 208.3M548.0 222.0Q548.2 228.0 560.0 232.0M566.0 214.0Q566.8 228.0 564.2 228.1M566.0 214.0Q562.5 210.0 552.5 208.3M566.0 214.0Q563.9 220.9 560.0 232.0M529.0 232.0Q531.1 231.8 536.9 228.1M529.0 232.0Q535.5 240.1 540.0 237.0M529.0 232.0Q521.3 238.3 529.6 245.3" stroke="#6840b0" stroke-width="0.4" fill="none" opacity="0.9"/>
<path d="M552.5 208.3Q566.5 236.9 576.8 239.6M552.5 208.3Q570.3 255.8 598.3 284.9M552.5 208.3Q577.0 265.4 580.3 311.9M552.5 208.3Q571.6 256.4 595.0 289.6M536.9 228.1Q566.6 250.7 588.8 255.9M536.9 228.1Q580.8 247.9 615.9 271.5M512.4 237.5Q535.5 261.0 547.2 277.5M512.4 237.5Q556.5 248.4 589.2 254.4M512.4 237.5Q551.9 274.9 585.9 316.3M512.4 237.5Q554.8 271.7 586.7 314.7M564.2 228.1Q568.2 260.4 561.7 285.6M564.2 228.1Q575.6 250.4 604.0 264.5M581.4 227.4Q586.0 260.1 583.6 281.5M581.4 227.4Q571.3 248.7 568.1 255.9M581.4 227.4Q578.5 242.5 568.3 241.4M581.4 227.4Q579.4 278.2 561.9 308.9M581.4 227.4Q573.2 258.2 563.5 279.5M584.6 235.9Q586.9 271.4 580.9 279.7M584.6 235.9Q579.1 260.5 568.0 273.1M584.6 235.9Q569.8 273.1 561.6 306.6M584.6 235.9Q566.6 269.5 539.9 301.7M584.6 235.9Q578.0 251.0 577.5 256.1M626.9 244.7Q609.3 267.1 603.8 272.2M626.9 244.7Q598.2 287.8 575.6 315.9M626.9 244.7Q591.8 254.1 581.2 248.2M521.8 247.8Q555.7 264.2 569.0 270.9M521.8 247.8Q545.2 258.5 552.1 264.6M521.8 247.8Q564.4 262.4 588.1 275.6M529.6 245.3Q551.4 255.5 574.8 259.3M529.6 245.3Q555.1 261.6 569.0 270.9M529.6 245.3Q552.8 282.6 554.4 318.1M529.6 245.3Q555.8 268.8 573.2 287.2M518.6 271.1Q546.3 262.9 577.0 245.5M518.6 271.1Q555.8 285.5 580.1 282.1M518.6 271.1Q560.6 278.3 569.4 282.6M526.5 288.6Q562.7 314.1 575.0 328.2M526.5 288.6Q545.1 299.3 561.8 317.8M526.5 288.6Q552.0 289.0 546.6 301.6M526.5 288.6Q555.9 283.6 577.4 282.2M538.4 296.5Q567.6 299.5 582.5 320.6M538.4 296.5Q569.6 282.0 603.8 272.2M538.4 296.5Q557.9 294.4 583.1 278.2M531.2 316.9Q549.4 303.5 539.9 301.7M531.2 316.9Q558.0 291.6 583.4 279.2M536.5 305.0Q567.0 285.2 579.9 271.8M536.5 305.0Q560.0 289.3 578.3 274.5M623.8 271.4Q594.4 273.1 551.4 273.0M623.8 271.4Q598.6 293.0 575.0 328.2M623.8 271.4Q586.5 285.1 565.1 294.1M623.8 271.4Q606.8 278.4 589.9 278.2M623.8 271.4Q591.0 269.1 568.3 241.4M623.8 286.1Q589.5 278.3 568.0 273.1M623.8 286.1Q602.7 279.8 608.7 260.1M623.8 286.1Q596.6 278.4 577.4 278.2M623.8 286.1Q610.7 276.8 608.7 260.1M617.5 305.0Q597.7 290.0 580.9 279.7M617.5 305.0Q582.2 290.8 550.6 278.5M628.5 335.7Q587.2 319.9 561.8 317.8M628.5 335.7Q591.3 305.9 567.0 297.2M628.5 335.7Q616.7 310.5 618.0 295.0M537.5 332.6Q569.7 294.5 594.8 283.3M537.5 332.6Q562.7 310.9 567.0 297.2M546.9 345.8Q562.6 299.2 576.8 239.6M546.9 345.8Q580.8 310.7 603.8 272.2M546.9 345.8Q561.9 290.4 570.3 245.4M546.9 345.8Q578.4 317.7 613.2 301.9M553.2 331.0Q578.9 287.7 597.8 254.7M553.2 331.0Q569.4 306.8 574.3 301.2M563.5 345.8Q564.2 317.0 561.6 306.6M563.5 345.8Q569.4 315.3 584.4 302.3M563.5 345.8Q561.3 303.9 552.1 264.6M563.5 345.8Q576.9 290.0 587.7 253.4M563.5 345.8Q549.8 308.6 522.4 279.7M570.4 353.6Q575.1 292.2 568.3 241.4M570.4 353.6Q566.1 302.8 555.7 268.7M570.4 353.6Q571.7 303.9 568.0 273.1M570.4 353.6Q575.5 306.5 580.1 282.1M605.9 344.2Q607.1 316.2 618.0 295.0M605.9 344.2Q598.2 309.4 588.1 283.6M613.8 358.3Q584.7 312.1 576.0 278.7M613.8 358.3Q593.7 328.9 564.8 325.2M613.8 358.3Q603.3 305.1 589.6 264.3M613.8 358.3Q590.6 328.3 575.6 315.9M613.8 358.3Q594.9 315.1 582.5 289.9M583.0 369.3Q585.4 313.1 585.5 281.9M583.0 369.3Q578.4 328.3 570.6 319.2M583.0 369.3Q588.1 323.3 605.1 289.7M583.0 369.3Q573.2 314.4 551.4 273.0M583.0 369.3Q582.9 319.1 583.6 281.5M605.6 378.1Q596.2 334.9 591.8 322.1M605.6 378.1Q593.7 320.7 577.0 266.3M605.6 378.1Q600.1 317.7 610.7 278.3M584.6 351.4Q586.3 306.1 575.9 276.6M584.6 351.4Q588.6 310.9 610.4 288.4M584.6 351.4Q592.0 298.1 604.0 264.5M584.6 351.4Q580.2 310.8 579.3 291.6M584.6 351.4Q571.8 332.7 561.8 317.8M515.0 262.0Q555.4 278.9 580.1 282.1M515.0 262.0Q535.0 270.9 537.6 288.1M515.0 262.0Q565.9 282.6 605.5 313.5M522.0 282.0Q558.7 279.2 578.1 279.6M522.0 282.0Q563.8 275.3 608.7 260.1M532.0 258.0Q554.6 254.5 576.8 239.6M532.0 258.0Q568.7 272.8 594.8 283.3M540.0 237.0Q576.8 256.6 610.7 278.3M540.0 237.0Q570.6 268.6 610.8 301.1M540.0 237.0Q552.4 254.1 550.6 278.5M540.0 237.0Q565.4 264.0 593.0 284.4M540.0 237.0Q565.3 262.9 580.9 279.7M548.0 240.0Q571.6 262.5 607.0 287.2M548.0 240.0Q566.7 247.6 577.0 245.5M574.0 236.0Q572.2 276.4 573.8 315.9M574.0 236.0Q562.0 252.8 543.8 266.6M598.0 250.0Q573.4 265.8 571.9 286.9M598.0 250.0Q584.2 272.1 580.2 278.5M598.0 250.0Q570.5 263.9 541.1 270.8M598.0 250.0Q578.7 277.4 570.6 319.2M598.0 250.0Q588.0 284.1 591.8 322.1M606.0 262.0Q586.3 262.5 568.3 241.4M606.0 262.0Q604.0 272.4 604.0 264.5M606.0 262.0Q607.5 273.4 621.0 272.0M606.0 262.0Q584.3 264.7 543.8 266.6M606.0 262.0Q595.8 288.1 585.4 308.0M612.0 292.0Q597.0 274.7 587.7 253.4M612.0 292.0Q600.4 287.0 592.5 274.6M612.0 292.0Q592.3 277.3 567.9 254.9M612.0 292.0Q592.9 289.1 581.9 287.4M600.0 330.0Q584.4 290.8 588.8 255.9M600.0 330.0Q596.4 293.6 604.2 266.0M600.0 330.0Q592.4 314.3 575.0 328.2M592.0 340.0Q583.4 305.7 577.6 280.3M592.0 340.0Q567.5 322.1 546.6 301.6M575.0 345.0Q582.1 304.7 590.5 285.3M575.0 345.0Q575.9 321.4 575.6 315.9M575.0 345.0Q578.7 313.0 575.7 308.6M556.0 320.0Q563.5 297.3 576.9 278.1M556.0 320.0Q567.3 301.8 578.1 279.6M556.0 320.0Q585.6 311.1 613.2 301.9M556.0 320.0Q565.6 304.3 583.7 295.4M514.0 255.0Q544.7 264.2 566.5 280.0M514.0 255.0Q549.5 260.7 588.1 275.6M560.0 232.0Q571.2 259.9 579.8 282.5M560.0 232.0Q584.0 273.2 602.0 308.5M560.0 232.0Q584.2 250.6 586.0 265.5M560.0 232.0Q561.3 249.1 562.6 259.1M560.0 232.0Q567.4 268.7 580.3 311.9M590.0 241.0Q585.8 268.3 581.9 287.4M590.0 241.0Q600.4 272.4 602.0 308.5M590.0 241.0Q572.6 250.9 555.7 268.7M590.0 241.0Q599.9 277.2 609.0 303.3M620.0 262.0Q607.8 262.3 608.1 267.3M620.0 262.0Q599.9 270.2 577.6 279.8M620.0 262.0Q592.3 284.3 573.8 315.9M620.0 262.0Q590.3 270.9 563.5 279.5M619.0 318.0Q594.7 293.6 576.0 278.7M619.0 318.0Q588.3 295.1 577.4 284.4M560.0 357.0Q567.3 329.9 575.6 315.9M560.0 357.0Q559.8 322.2 554.4 318.1M560.0 357.0Q564.5 322.3 564.2 298.8M560.0 357.0Q567.6 310.3 577.0 266.3M597.0 372.0Q592.7 315.8 598.3 284.9M597.0 372.0Q588.4 299.7 576.8 239.6M597.0 372.0Q590.1 311.5 590.5 285.3M597.0 372.0Q607.8 321.5 613.2 301.9M597.0 372.0Q597.0 326.9 602.0 308.5M590.0 360.0Q576.3 318.9 561.6 306.6M590.0 360.0Q587.2 300.7 587.3 251.4M590.0 360.0Q564.9 306.4 537.7 265.7M590.0 360.0Q572.5 312.0 577.2 289.1M590.0 360.0Q589.9 318.9 593.0 284.4M545.0 318.0Q559.8 284.2 568.7 242.4M545.0 318.0Q564.5 309.2 589.8 298.7M545.0 318.0Q567.1 309.8 580.3 311.9M545.0 318.0Q558.0 293.2 561.9 290.3M528.0 300.0Q561.1 274.7 577.0 245.5M528.0 300.0Q569.7 278.6 615.9 271.5M528.0 300.0Q551.2 281.4 568.3 241.4M528.0 300.0Q564.3 283.7 609.9 271.2M528.0 300.0Q578.1 300.9 620.4 308.6M548.0 222.0Q551.7 251.9 551.4 273.0M548.0 222.0Q575.5 261.3 613.2 301.9M548.0 222.0Q577.6 259.8 590.5 285.3M548.0 222.0Q565.9 270.7 561.9 308.9M548.0 222.0Q573.3 249.4 608.7 260.1M566.0 214.0Q573.4 262.3 575.6 288.7M566.0 214.0Q567.9 240.7 550.6 278.5M529.0 232.0Q561.8 250.2 587.7 253.4M529.0 232.0Q559.7 257.2 573.2 278.6M529.0 232.0Q564.7 263.3 583.6 281.5M529.0 232.0Q578.5 259.5 621.0 272.0" stroke="#5a2ca2" stroke-width="0.45" fill="none" opacity="0.9"/>
<path d="M582.1 280.9L577.0 245.5M594.5 265.6L610.8 301.1M605.1 289.7L608.7 260.1M577.6 280.0L608.1 267.3M575.2 279.4L591.8 322.1M575.9 276.6L618.6 290.6M592.4 284.9L576.8 239.6M566.7 298.8L608.1 267.3M569.0 270.9L609.9 271.2M560.7 294.3L562.6 259.1M585.9 288.3L547.2 277.5M594.8 283.3L577.0 245.5M577.6 280.3L547.2 277.5M584.2 292.8L591.8 322.1M580.9 279.7L615.4 309.2M574.3 301.7L554.4 309.4M568.1 286.2L551.4 273.0M581.4 269.7L551.4 273.0M577.4 282.2L621.0 272.0M567.9 254.9L609.9 271.2M592.4 284.9L610.8 301.1M579.8 282.5L541.1 270.8M598.3 284.9L627.4 301.7M576.7 296.0L537.7 265.7M592.4 266.3L620.4 308.6M585.9 274.6L577.0 245.5M589.8 298.7L566.6 258.8M581.0 269.4L537.7 265.7M583.4 279.2L591.8 322.1M565.1 294.1L575.6 315.9M574.1 271.8L627.4 301.7M603.9 296.9L618.6 290.6M570.2 287.2L575.6 315.9M605.1 289.7L586.3 257.1M574.8 259.3L609.9 271.2M583.4 279.2L562.5 321.5M577.4 284.4L604.0 264.5M563.5 279.5L585.9 316.3M579.9 271.8L610.8 301.1M590.5 285.3L568.7 242.4M587.3 251.4L597.8 254.7M577.9 274.5L586.3 257.1M575.3 279.5L568.3 241.4M580.6 265.0L610.3 266.2M594.8 283.3L550.6 278.5M577.5 293.6L552.1 264.6M576.4 286.3L537.7 304.5M553.8 285.1L577.0 245.5M593.0 284.4L597.8 254.7M585.4 308.0L627.4 301.7M563.5 279.5L609.9 271.2M566.0 273.2L546.6 301.6M574.9 284.9L610.3 266.2M587.3 251.4L536.9 273.7M590.5 285.3L575.6 315.9M572.2 276.2L550.6 278.5M570.1 287.9L570.3 245.4M592.5 274.6L577.0 245.5M576.3 274.4L537.7 304.5M590.5 285.3L620.4 308.6M618.0 295.0L547.2 277.5M567.0 297.2L610.4 288.4M603.9 296.9L608.7 260.1M567.0 297.2L590.6 255.9M578.5 279.6L575.6 315.9M568.0 273.1L562.6 259.1M561.7 285.6L554.4 309.4M575.0 281.0L591.8 322.1M577.6 280.0L570.3 245.4M577.5 293.6L554.4 318.1M579.7 245.1L608.7 260.1M579.9 262.7L573.8 315.9M567.9 254.9L610.3 266.2M575.7 308.6L585.9 316.3M586.0 265.5L589.2 254.4M580.1 282.1L602.0 308.5M586.0 265.5L554.4 309.4M584.4 257.3L608.1 267.3M575.2 279.4L586.3 257.1M568.0 273.1L586.3 257.1M590.5 285.3L587.7 253.4M535.2 276.2L615.9 271.5M579.7 245.1L554.4 318.1M582.9 275.6L623.6 273.9M579.0 279.9L575.6 315.9M561.9 290.3L568.3 241.4M571.4 281.7L580.3 311.9M571.9 286.9L564.8 325.2M599.7 274.1L591.8 322.1M579.9 281.5L627.4 301.7M583.6 281.5L580.3 311.9M573.9 292.3L613.2 301.9M577.6 280.3L562.6 259.1M579.3 279.7L575.6 315.9M579.3 291.6L585.9 316.3M577.1 279.3L570.3 245.4M589.9 278.2L537.7 304.5M590.5 285.3L621.0 272.0M589.8 298.7L576.8 239.6M603.9 296.9L610.4 288.4M578.2 281.9L604.0 264.5M559.2 290.9L561.6 306.6M598.3 284.9L613.2 301.9M546.6 298.7L618.6 290.6M579.9 281.5L562.6 259.1M571.6 269.2L566.6 258.8M603.9 296.9L554.4 318.1M561.7 285.6L597.8 254.7M577.6 280.0L581.2 310.1M559.2 290.9L566.6 258.8M580.6 265.0L537.6 288.1M566.0 273.2L618.6 290.6M577.4 284.4L546.6 301.6M589.8 298.7L581.2 310.1M589.9 278.2L621.0 272.0M569.5 292.0L590.6 255.9M564.3 291.9L543.8 266.6M574.8 259.3L581.2 310.1M575.0 281.0L591.8 322.1M573.9 292.3L620.4 308.6M598.3 284.9L550.6 278.5M578.3 274.5L562.5 321.5M582.1 280.9L562.5 321.5M577.6 279.8L608.7 260.1M590.5 285.3L587.7 253.4M577.6 280.0L561.6 306.6M577.2 285.0L610.3 266.2M570.6 270.0L562.5 321.5M587.3 251.4L608.1 267.3M581.0 269.4L585.9 316.3M591.0 273.5L562.6 259.1M571.6 269.2L615.9 271.5M575.9 276.6L610.8 301.1M576.4 286.3L627.4 301.7M581.4 269.7L570.3 245.4M591.0 273.5L554.4 309.4M575.2 279.4L541.1 270.8M605.1 289.7L618.6 290.6M577.6 280.3L566.6 258.8M583.6 281.5L618.6 290.6M574.1 271.8L618.6 290.6M580.6 265.0L577.0 245.5M576.3 274.4L561.8 317.8M584.3 271.7L604.2 266.0M568.0 273.1L627.4 301.7M564.3 291.9L568.1 255.9M560.7 294.3L576.8 239.6M592.4 266.3L618.6 290.6M593.0 284.4L564.8 325.2M578.2 281.9L618.6 290.6M577.1 279.3L608.1 267.3M605.1 289.7L604.0 264.5M586.7 314.7L561.8 317.8M585.9 288.3L623.6 273.9M568.0 273.1L580.3 311.9M575.7 308.6L627.4 301.7M580.6 265.0L554.4 318.1M581.9 289.8L589.2 254.4M578.9 288.7L566.6 258.8M588.1 283.6L561.9 308.9M589.8 298.7L575.6 315.9M578.5 279.6L589.2 254.4M580.6 265.0L551.4 273.0M584.4 257.3L561.6 306.6M571.9 286.9L615.9 271.5M586.0 282.9L581.2 310.1M575.0 281.0L580.3 311.9M573.2 278.6L536.9 273.7M577.4 282.2L570.3 245.4M579.6 284.2L587.7 253.4M583.6 281.5L546.6 301.6M577.0 266.3L570.3 245.4M580.1 282.1L610.4 288.4M568.0 273.1L602.0 308.5M573.2 297.3L536.9 273.7M588.8 255.9L605.5 313.5M592.5 274.6L623.6 273.9M584.2 292.8L568.7 242.4M585.9 288.3L627.4 301.7M594.5 265.6L564.8 325.2M575.6 288.7L609.9 271.2M579.9 271.8L541.1 270.8M582.9 275.6L552.1 264.6M574.1 271.8L573.8 315.9M579.6 280.4L604.0 264.5M579.7 245.1L615.9 271.5M590.1 260.9L610.3 266.2M581.9 287.4L536.9 273.7M565.4 292.1L554.4 318.1M579.6 284.2L568.1 255.9M594.5 265.6L610.7 278.3M579.9 281.5L610.8 301.1M566.7 298.8L561.9 308.9M555.7 268.7L568.1 255.9M609.0 303.3L566.6 258.8M564.3 291.9L546.6 301.6M564.2 298.8L587.7 253.4M575.0 281.0L597.8 254.7M577.2 285.0L536.9 273.7M584.2 292.8L554.4 318.1M584.4 257.3L623.6 273.9M578.1 279.6L541.1 270.8M581.0 269.4L576.8 239.6M585.9 274.6L543.8 266.6M564.3 291.9L568.7 242.4M579.4 283.8L576.8 239.6M580.6 265.0L608.7 260.1M603.8 272.2L597.8 254.7M590.5 285.3L581.2 248.2M573.9 292.3L570.3 245.4M580.2 278.5L602.0 308.5M577.2 285.0L537.7 265.7M584.4 302.3L618.6 290.6M578.1 279.6L554.4 318.1M559.2 290.9L564.8 325.2M565.1 294.1L602.0 308.5M577.6 279.8L585.9 316.3M584.2 292.8L537.6 288.1M589.6 264.3L561.8 317.8M588.1 283.6L615.4 309.2M607.0 287.2L575.0 328.2M575.6 288.7L576.8 239.6M574.1 271.8L620.4 308.6M589.8 298.7L621.0 272.0M570.5 286.2L589.2 254.4M581.4 269.7L580.3 311.9M570.5 286.2L587.7 253.4M577.6 279.8L561.9 308.9M576.4 286.3L605.5 313.5M571.4 281.7L568.1 255.9M585.9 274.6L620.4 308.6M598.5 285.8L575.6 315.9M577.2 285.0L585.9 316.3M566.5 280.0L568.1 255.9M570.6 270.0L576.8 239.6M565.1 294.1L568.7 242.4M585.9 274.6L620.4 308.6M598.5 285.8L609.9 271.2M535.2 276.2L566.6 258.8M588.9 271.7L561.8 317.8M609.0 303.3L605.5 313.5M575.3 279.5L568.1 255.9M581.9 287.4L552.1 264.6M571.4 281.7L568.1 255.9M618.0 295.0L562.6 259.1M581.9 287.4L613.2 301.9M579.8 282.5L581.2 310.1M589.6 264.3L609.9 271.2M589.6 264.3L580.3 311.9M581.4 269.7L580.3 311.9M589.6 264.3L581.2 310.1M566.5 280.0L581.2 310.1M570.1 287.9L610.7 278.3M572.4 271.2L539.9 301.7M559.2 290.9L536.9 273.7M577.4 284.4L581.2 248.2M585.4 308.0L581.2 310.1M574.3 301.7L577.0 245.5M577.6 279.8L546.6 301.6M598.5 285.8L575.0 328.2M598.5 285.8L537.7 265.7M603.8 272.2L568.1 255.9M592.5 274.6L627.4 301.7M583.1 278.2L577.0 245.5M570.1 287.9L597.8 254.7M603.9 296.9L582.5 320.6M546.6 298.7L589.2 254.4M581.9 287.4L566.6 258.8M592.5 274.6L621.0 272.0M566.0 273.2L610.7 278.3M580.2 278.5L568.3 241.4M573.9 292.3L581.2 310.1M566.5 280.0L573.8 315.9M553.8 285.1L610.3 266.2M564.2 298.8L585.9 316.3M577.2 289.1L581.2 310.1M581.9 287.4L627.4 301.7M566.0 273.2L581.2 310.1M594.5 265.6L568.1 255.9M553.8 285.1L562.5 321.5M555.7 268.7L615.9 271.5M579.7 245.1L554.4 309.4M584.3 271.7L610.4 288.4M535.2 276.2L597.8 254.7M568.0 273.1L537.6 288.1M573.2 297.3L562.5 321.5M579.8 282.5L539.9 301.7M609.0 303.3L547.2 277.5M592.4 284.9L537.7 265.7M579.6 284.2L546.6 301.6M566.7 298.8L615.9 271.5M582.5 289.9L561.6 306.6M570.1 287.9L587.7 253.4M578.2 281.9L605.5 313.5M596.4 290.5L543.8 266.6M577.1 279.3L561.8 317.8M581.9 287.4L580.3 311.9M590.7 306.6L610.7 278.3M579.3 279.7L539.9 301.7M586.0 265.5L610.8 301.1M592.5 274.6L539.9 301.7M560.7 294.3L576.8 239.6M571.9 286.9L608.7 260.1M575.3 279.5L547.2 277.5M565.1 294.1L568.7 242.4M572.4 271.2L568.3 241.4M583.1 278.2L570.3 245.4M576.4 286.3L590.6 255.9M577.6 279.8L621.0 272.0M583.1 278.2L608.7 260.1M592.4 284.9L610.3 266.2M584.4 302.3L551.4 273.0M535.2 276.2L604.2 266.0M570.8 271.1L577.0 245.5M568.1 286.2L568.1 255.9M573.2 297.3L562.5 321.5M590.7 306.6L539.9 301.7M580.6 265.0L591.8 322.1M588.8 255.9L620.4 308.6M574.1 271.8L604.0 264.5M579.3 279.7L604.2 266.0M572.2 276.2L591.8 322.1M579.6 284.2L610.3 266.2M579.4 283.8L605.5 313.5M576.9 278.1L610.8 301.1M575.0 281.0L581.2 310.1M565.1 294.1L536.9 273.7M589.8 298.7L610.4 288.4M588.8 255.9L605.5 313.5M567.0 297.2L589.2 254.4M570.6 299.8L627.4 301.7M583.4 279.2L537.6 288.1M590.5 285.3L562.6 259.1M590.5 292.1L581.2 310.1M535.2 276.2L604.2 266.0M586.0 265.5L585.9 316.3M575.3 279.5L552.1 264.6M582.1 280.9L610.4 288.4M582.5 289.9L604.2 266.0M569.5 292.0L554.4 318.1M585.9 274.6L536.9 273.7M598.3 284.9L575.6 315.9M592.4 266.3L582.5 320.6M570.2 287.2L589.2 254.4M568.1 286.2L573.8 315.9M590.7 306.6L597.8 254.7M570.6 299.8L577.0 245.5M579.9 262.7L568.1 255.9M569.0 270.9L608.1 267.3M584.4 302.3L576.8 239.6M577.4 278.2L536.9 273.7M564.2 298.8L552.1 264.6M588.9 271.7L537.6 288.1M577.5 293.6L568.3 241.4M574.3 301.7L615.4 309.2M581.9 289.8L551.4 273.0M580.1 275.8L604.2 266.0M579.3 291.6L568.3 241.4M591.0 273.5L608.1 267.3M579.8 282.5L610.8 301.1M575.6 288.7L615.9 271.5M566.0 273.2L568.1 255.9M571.6 269.2L587.7 253.4M575.9 276.6L581.2 310.1M591.0 273.5L543.8 266.6M553.8 285.1L575.6 315.9M581.9 287.4L562.5 321.5M592.5 274.6L608.1 267.3M585.9 288.3L554.4 318.1M577.5 293.6L621.0 272.0M590.5 292.1L566.6 258.8M582.1 280.9L554.4 318.1M588.9 271.7L561.8 317.8M596.4 290.5L577.0 245.5M578.9 288.7L550.6 278.5M584.4 257.3L537.7 304.5M580.1 275.8L608.7 260.1M574.3 301.7L547.2 277.5M573.2 297.3L610.8 301.1M559.2 290.9L610.3 266.2M592.4 266.3L608.7 260.1M568.2 302.9L587.7 253.4M568.2 302.9L543.8 266.6M577.6 279.8L541.1 270.8M586.0 282.9L620.4 308.6M570.6 270.0L589.2 254.4M603.8 272.2L623.6 273.9M579.3 279.7L568.7 242.4M572.4 271.2L605.5 313.5M579.9 271.8L568.7 242.4M566.0 273.2L539.9 301.7M588.8 255.9L537.7 265.7M580.1 282.1L608.1 267.3M579.9 262.7L537.7 265.7M618.0 295.0L562.5 321.5M595.8 322.8L610.7 278.3M576.9 278.1L621.0 272.0M583.6 281.5L568.1 255.9M566.7 298.8L620.4 308.6M589.6 264.3L537.6 288.1M585.5 281.9L539.9 301.7M578.5 279.6L570.3 245.4M580.2 278.5L610.4 288.4M584.2 292.8L604.2 266.0M592.4 284.9L580.3 311.9M573.9 292.3L609.9 271.2M589.8 298.7L590.6 255.9M598.5 285.8L610.4 288.4M590.5 285.3L562.5 321.5M564.2 298.8L575.6 315.9M572.2 276.2L575.0 328.2M607.0 287.2L610.3 266.2M579.3 279.7L577.0 245.5M535.2 276.2L552.1 264.6M578.9 288.7L602.0 308.5M553.8 285.1L608.7 260.1M579.3 291.6L610.8 301.1M578.9 288.7L562.5 321.5M580.9 279.7L562.6 259.1M583.6 281.5L552.1 264.6M581.0 269.4L561.8 317.8M580.9 279.7L561.8 317.8M594.5 265.6L615.9 271.5M583.7 295.4L566.6 258.8M581.4 269.7L577.0 245.5M579.7 245.1L610.3 266.2M575.9 276.6L552.1 264.6M579.7 245.1L566.6 258.8M579.8 282.5L554.4 309.4M577.6 279.8L575.6 315.9M577.6 280.3L575.6 315.9M570.1 287.9L615.9 271.5M570.6 270.0L537.6 288.1M580.6 265.0L585.9 316.3M577.6 280.3L602.0 308.5M538.9 297.6L597.8 254.7M535.2 276.2L568.7 242.4M579.3 291.6L561.9 308.9M590.7 306.6L561.8 317.8M574.8 259.3L575.0 328.2M603.9 296.9L536.9 273.7M581.5 284.3L620.4 308.6M592.4 284.9L562.6 259.1M577.4 282.2L564.8 325.2M581.5 322.8L561.6 306.6M574.3 301.2L562.6 259.1M600.6 268.8L547.2 277.5M573.2 278.6L575.0 328.2M579.3 279.7L580.3 311.9M579.6 284.2L608.7 260.1M574.9 284.9L568.7 242.4M579.3 279.7L609.9 271.2M535.2 276.2L562.5 321.5M578.9 288.7L608.1 267.3M569.4 282.6L562.6 259.1M569.0 270.9L604.0 264.5M565.1 294.1L546.6 301.6M567.0 297.2L551.4 273.0M569.5 292.0L602.0 308.5M588.9 271.7L568.3 241.4M574.3 301.7L581.2 248.2M560.7 294.3L613.2 301.9M580.6 265.0L610.8 301.1M581.0 269.4L608.7 260.1M553.8 285.1L604.0 264.5M589.9 278.2L551.4 273.0M594.5 265.6L609.9 271.2M618.0 295.0L550.6 278.5M522.4 279.7L591.8 322.1M588.9 271.7L552.1 264.6M561.7 285.6L604.0 264.5M568.1 286.2L605.5 313.5M577.4 278.2L610.7 278.3M586.7 314.7L577.0 245.5M566.0 273.2L551.4 273.0M580.1 275.8L541.1 270.8M584.4 257.3L604.0 264.5M591.0 273.5L615.9 271.5M568.0 273.1L566.6 258.8M570.2 287.2L537.6 288.1M559.2 290.9L570.3 245.4M568.2 302.9L570.3 245.4M598.3 284.9L608.1 267.3M571.6 269.2L562.6 259.1M581.4 269.7L562.6 259.1M588.1 283.6L582.5 320.6M522.4 279.7L537.7 265.7M553.8 285.1L627.4 301.7M577.6 280.3L561.8 317.8M588.1 283.6L621.0 272.0M580.1 275.8L537.7 304.5M579.0 279.9L615.9 271.5M581.9 287.4L615.4 309.2M589.6 264.3L590.6 255.9M579.0 279.9L582.5 320.6M535.2 276.2L605.5 313.5M594.8 283.3L537.7 265.7M591.0 273.5L608.1 267.3M599.7 274.1L581.2 310.1M598.5 285.8L610.8 301.1M522.4 279.7L552.1 264.6M591.0 273.5L554.4 318.1M582.9 275.6L543.8 266.6M575.7 308.6L561.8 317.8M598.5 285.8L585.9 316.3M598.5 285.8L554.4 318.1M581.4 269.7L566.6 258.8M546.6 298.7L575.0 328.2M575.9 276.6L552.1 264.6M570.6 270.0L627.4 301.7M585.9 274.6L618.6 290.6M577.6 280.3L568.1 255.9M579.7 245.1L541.1 270.8M582.5 289.9L613.2 301.9M588.1 283.6L537.7 265.7M576.7 296.0L543.8 266.6M564.3 291.9L554.4 318.1M579.6 284.2L604.0 264.5M603.8 272.2L580.3 311.9M579.7 245.1L568.1 255.9" stroke="#55259c" stroke-width="0.5" fill="none" opacity="0.9"/>
<ellipse cx="578" cy="283" rx="25" ry="21" fill="#55259a"/>
<path d="M564.3 291.9L585.5 281.9M585.4 308.0L576.7 296.0M577.5 256.1L569.4 282.6M572.2 276.2L577.6 280.3M584.3 271.7L579.9 262.7M573.2 287.2L581.4 269.7M586.0 282.9L587.3 251.4M588.1 283.6L594.8 283.3M573.2 297.3L584.4 257.3M596.4 290.5L538.9 297.6M585.5 281.9L581.5 322.8M579.7 245.1L574.3 301.2M579.7 245.1L577.9 274.5M567.9 254.9L571.4 281.7M570.8 271.1L577.6 280.3M566.7 298.8L588.1 283.6M577.6 280.0L585.9 288.3M578.3 274.5L586.0 282.9M570.1 287.9L570.1 287.9M590.1 260.9L567.9 254.9M618.0 295.0L575.3 279.5M578.5 279.6L576.3 274.4M581.4 269.7L589.8 298.7M568.2 302.9L578.3 274.5M572.4 271.2L564.3 291.9M575.9 276.6L581.9 289.8M586.0 265.5L605.1 289.7M585.4 308.0L573.2 297.3M592.4 284.9L580.1 282.1M577.6 279.8L573.2 287.2M580.1 282.1L590.5 285.3M576.3 274.4L575.7 308.6M577.4 282.2L559.2 290.9M565.4 292.1L576.4 286.3M609.0 303.3L568.2 302.9M579.4 283.8L573.2 287.2M591.0 273.5L588.8 255.9M575.2 279.4L570.5 286.2M579.9 281.5L572.2 276.2M595.8 322.8L577.0 266.3M580.1 275.8L595.8 322.8M571.6 269.2L588.1 283.6M546.6 298.7L572.2 276.2M577.4 278.2L594.5 265.6M581.0 269.4L580.9 279.7M584.3 271.7L571.6 269.2M580.1 282.1L575.3 279.5M594.5 265.6L567.9 254.9M570.5 286.2L592.4 284.9M589.6 264.3L564.2 298.8M581.5 284.3L573.2 297.3M591.0 273.5L582.9 275.6M584.3 271.7L581.0 269.4M573.2 297.3L579.9 271.8M575.9 276.6L568.0 273.1M583.1 278.2L568.0 273.1M584.3 271.7L564.2 298.8M566.5 280.0L586.0 282.9M568.1 286.2L522.4 279.7M596.4 290.5L589.6 264.3M569.5 292.0L579.4 283.8M568.1 286.2L581.0 269.4M591.0 273.5L579.9 281.5M561.9 290.3L576.9 278.1M569.4 282.6L588.1 275.6M588.8 255.9L592.5 274.6M577.6 280.3L618.0 295.0M579.8 282.5L561.9 290.3M580.9 279.7L578.1 279.6M588.8 255.9L574.8 259.3M592.4 284.9L589.9 278.2M565.4 292.1L546.6 298.7M553.8 285.1L570.6 299.8M585.9 274.6L569.4 282.6M576.4 286.3L576.3 274.4M581.0 269.4L561.9 290.3M577.6 280.0L570.1 287.9M590.1 260.9L568.0 273.1M561.7 285.6L583.6 281.5M587.3 251.4L575.7 308.6M580.1 282.1L579.8 282.5M572.4 271.2L582.9 275.6M579.6 280.4L590.5 285.3M583.4 279.2L574.3 301.7M577.5 256.1L582.1 280.9M578.3 274.5L591.0 273.5M570.1 287.9L576.3 274.4M594.5 265.6L564.2 298.8M580.1 282.1L592.4 284.9M570.5 286.2L579.0 279.9M585.5 281.9L576.9 280.8M576.9 278.1L570.6 270.0M579.3 279.7L579.6 280.4M590.1 260.9L560.7 294.3M594.8 283.3L591.0 273.5M570.1 287.9L565.4 292.1M546.6 298.7L585.9 288.3M569.5 292.0L579.3 291.6M589.6 264.3L574.3 301.2M560.7 294.3L590.7 306.6M605.1 289.7L580.9 279.7M598.5 285.8L570.6 299.8M607.0 287.2L588.9 271.7M576.7 276.8L571.4 281.7M583.4 279.2L592.4 284.9M577.0 266.3L564.2 298.8M579.9 281.5L573.2 287.2M560.7 294.3L590.5 285.3M575.0 281.0L574.9 284.9M576.4 286.3L570.6 299.8M575.3 279.5L564.2 298.8M592.4 266.3L576.9 278.1M585.5 281.9L577.4 282.2M553.8 285.1L618.0 295.0M583.4 279.2L584.2 292.8M586.0 282.9L572.4 271.2M577.4 284.4L577.4 284.4M603.9 296.9L598.5 285.8M577.4 282.2L586.7 314.7M576.9 278.1L577.2 289.1M555.7 268.7L579.9 271.8M583.4 279.2L594.8 283.3M579.0 279.9L580.2 278.5M567.0 297.2L583.4 279.2M570.1 287.9L588.8 255.9M577.5 256.1L585.9 274.6M577.9 274.5L579.9 262.7M586.0 282.9L574.3 301.7M579.3 279.7L546.6 298.7M596.4 290.5L579.4 283.8M588.1 275.6L584.4 257.3M575.3 279.5L574.8 259.3M576.9 280.8L583.7 295.4M580.2 278.5L580.2 278.5M581.5 322.8L577.4 282.2M572.4 271.2L588.1 275.6M579.7 245.1L582.9 275.6M576.7 296.0L567.9 254.9M609.0 303.3L576.7 276.8M570.1 287.9L585.5 281.9M581.9 289.8L581.5 284.3M579.6 280.4L579.0 279.9M578.1 279.6L575.3 279.5M538.9 297.6L565.4 292.1M575.7 308.6L580.1 275.8M576.7 296.0L605.1 289.7M570.6 319.2L572.4 271.2M579.9 262.7L568.0 273.1M582.9 275.6L575.6 288.7M577.9 274.5L582.9 275.6M574.9 284.9L585.5 281.9M609.0 303.3L579.3 291.6M564.3 291.9L570.1 287.9M579.9 281.5L603.8 272.2M573.9 292.3L591.0 273.5M592.5 274.6L577.6 279.8M596.4 290.5L570.2 287.2M592.5 274.6L586.7 314.7M581.0 269.4L584.4 302.3M599.7 274.1L584.3 271.7M570.8 271.1L584.2 292.8M575.7 308.6L572.4 271.2M570.6 270.0L581.5 284.3M571.4 281.7L559.2 290.9M581.5 284.3L570.6 319.2M591.0 273.5L559.2 290.9M579.9 262.7L577.1 279.3M603.9 296.9L579.9 281.5M578.3 274.5L575.3 279.5M575.0 281.0L577.2 285.0M576.7 276.8L590.7 306.6M522.4 279.7L576.9 278.1M575.3 279.5L583.6 281.5M578.5 279.6L572.2 276.2M580.6 265.0L573.9 292.3M580.1 282.1L607.0 287.2M573.2 287.2L583.6 281.5M574.3 301.7L584.4 302.3M586.0 282.9L583.1 278.2M576.9 278.1L603.8 272.2M574.3 301.2L589.9 278.2M575.2 279.4L576.4 286.3M592.5 274.6L594.5 265.6M573.2 297.3L589.8 298.7M579.6 284.2L573.2 278.6M579.9 281.5L582.5 289.9M579.6 284.2L577.6 279.8M594.8 283.3L581.9 289.8M579.4 283.8L576.7 276.8M575.2 279.4L577.6 279.8M590.5 292.1L573.2 278.6M581.9 287.4L590.5 285.3M575.9 276.6L553.8 285.1M560.7 294.3L581.4 269.7M535.2 276.2L578.1 279.6M577.1 279.3L578.3 274.5M584.4 257.3L570.6 270.0M565.1 294.1L574.9 284.9M590.1 260.9L567.0 297.2M580.2 278.5L579.0 279.9M579.8 282.5L594.8 283.3M578.5 279.6L584.3 271.7M580.1 282.1L586.0 282.9M578.2 281.9L566.0 273.2M577.6 280.0L553.8 285.1M595.0 289.6L579.9 281.5M573.2 278.6L576.4 286.3M576.7 296.0L582.1 280.9M585.4 308.0L568.0 273.1M587.3 251.4L575.6 288.7M577.0 266.3L575.0 281.0M594.5 265.6L570.1 287.9M575.2 279.4L568.1 286.2M577.4 284.4L576.9 278.1M568.0 273.1L580.1 275.8M578.5 279.6L584.4 302.3M538.9 297.6L578.5 279.6M577.1 279.3L581.5 284.3M576.7 276.8L580.2 278.5M582.1 280.9L566.5 280.0M535.2 276.2L584.2 292.8M593.0 284.4L579.9 271.8M588.1 275.6L566.5 280.0M575.3 279.5L580.6 265.0M570.8 271.1L577.4 278.2M568.0 273.1L576.7 276.8M578.1 279.6L589.8 298.7M577.2 289.1L568.0 273.1M565.4 292.1L569.5 292.0M581.0 269.4L577.2 285.0M586.0 282.9L555.7 268.7M605.1 289.7L618.0 295.0M571.6 269.2L583.4 279.2M576.7 276.8L576.4 286.3M578.1 279.6L576.7 296.0M599.7 274.1L578.3 274.5M577.6 279.8L588.8 255.9M590.5 285.3L586.0 282.9M590.7 306.6L579.6 284.2M577.5 256.1L592.4 284.9M568.0 273.1L586.0 265.5M598.3 284.9L592.4 284.9M588.1 275.6L585.5 281.9M579.9 271.8L577.5 256.1M566.5 280.0L582.9 275.6M580.9 279.7L575.9 276.6M618.0 295.0L577.6 280.0M605.1 289.7L582.1 280.9M559.2 290.9L568.0 273.1M570.6 319.2L571.4 281.7M618.0 295.0L575.3 279.5M570.6 319.2L584.2 292.8M570.1 287.9L585.9 288.3M586.0 282.9L582.5 289.9M603.9 296.9L584.3 271.7M589.9 278.2L538.9 297.6M570.8 271.1L585.9 274.6M577.2 289.1L574.8 259.3M576.7 296.0L594.5 265.6M603.9 296.9L570.6 270.0M577.5 256.1L588.9 271.7M578.1 279.6L587.3 251.4M575.3 279.5L576.9 278.1M564.3 291.9L546.6 298.7M573.9 292.3L555.7 268.7M598.3 284.9L579.0 279.9M567.0 297.2L584.4 257.3M592.4 284.9L553.8 285.1M579.4 283.8L585.4 308.0M575.7 308.6L581.5 322.8M592.4 284.9L584.3 271.7M585.9 274.6L594.8 283.3M560.7 294.3L588.8 255.9M581.5 284.3L571.4 281.7M538.9 297.6L578.2 281.9M577.5 293.6L576.3 274.4M571.9 286.9L570.6 299.8M593.0 284.4L578.1 279.6M577.5 256.1L570.6 270.0M593.0 284.4L576.0 278.7M586.7 314.7L574.1 271.8M583.7 295.4L571.6 269.2M573.2 297.3L592.5 274.6M581.9 287.4L563.5 279.5M570.1 287.9L584.3 271.7M572.4 271.2L584.3 271.7M590.1 260.9L577.0 266.3M580.1 282.1L565.4 292.1M559.2 290.9L580.1 275.8M570.6 319.2L576.3 274.4M578.5 279.6L576.7 276.8M570.6 319.2L577.6 280.3M577.6 280.0L582.5 289.9M580.1 275.8L583.6 281.5M589.9 278.2L574.3 301.7M593.0 284.4L585.4 308.0M579.0 279.9L591.0 273.5M577.1 279.3L570.6 299.8M581.9 287.4L575.6 288.7M561.9 290.3L564.2 298.8M585.9 274.6L571.4 281.7M576.7 296.0L579.4 283.8M577.1 279.3L576.4 286.3M575.6 288.7L573.9 292.3M603.9 296.9L595.0 289.6M585.9 288.3L576.0 278.7M564.2 298.8L535.2 276.2M595.8 322.8L564.2 298.8M588.8 255.9L570.2 287.2M566.7 298.8L591.0 273.5M582.9 275.6L580.1 282.1M553.8 285.1L546.6 298.7M571.6 269.2L609.0 303.3M590.7 306.6L592.4 284.9M580.1 275.8L568.0 273.1M565.1 294.1L581.4 269.7M571.9 286.9L555.7 268.7M578.2 281.9L584.4 257.3M576.0 278.7L522.4 279.7M574.8 259.3L578.5 279.6M585.5 281.9L588.1 283.6M618.0 295.0L578.3 274.5M596.4 290.5L587.3 251.4M576.3 274.4L575.3 279.5M546.6 298.7L567.9 254.9M570.6 299.8L589.9 278.2M579.4 283.8L575.9 276.6M555.7 268.7L579.6 280.4M595.8 322.8L574.3 301.7M568.2 302.9L582.1 280.9M579.3 291.6L573.2 278.6M579.9 281.5L576.7 296.0M594.5 265.6L567.9 254.9M579.3 279.7L577.6 279.8M580.1 282.1L574.3 301.7M590.1 260.9L600.6 268.8M565.1 294.1L586.0 265.5M584.4 257.3L586.0 265.5M568.2 302.9L577.4 284.4M577.5 293.6L567.0 297.2M576.0 278.7L580.2 278.5M546.6 298.7L565.1 294.1M553.8 285.1L609.0 303.3M522.4 279.7L574.3 301.7M580.6 265.0L570.8 271.1M570.6 319.2L590.7 306.6M560.7 294.3L609.0 303.3M589.8 298.7L595.8 322.8M593.0 284.4L587.3 251.4M573.2 278.6L569.0 270.9M599.7 274.1L565.4 292.1M573.2 278.6L573.2 287.2M577.4 282.2L584.4 302.3M574.8 259.3L580.9 279.7M578.3 274.5L564.2 298.8M561.7 285.6L573.2 287.2M577.4 284.4L577.0 266.3M522.4 279.7L603.8 272.2M571.6 269.2L618.0 295.0M581.0 269.4L576.7 296.0M577.4 284.4L584.2 292.8M576.9 280.8L582.5 289.9M585.9 288.3L575.6 288.7M588.8 255.9L579.7 245.1M561.7 285.6L590.7 306.6M564.2 298.8L577.6 279.8M560.7 294.3L588.9 271.7M559.2 290.9L575.6 288.7M570.2 287.2L575.3 279.5M589.8 298.7L607.0 287.2M564.2 298.8L583.4 279.2M577.2 285.0L579.7 245.1M553.8 285.1L605.1 289.7M587.3 251.4L570.2 287.2M593.0 284.4L580.1 282.1M560.7 294.3L591.0 273.5M572.2 276.2L570.6 319.2M580.2 278.5L588.8 255.9M581.4 269.7L592.5 274.6M572.2 276.2L590.5 292.1M572.4 271.2L586.7 314.7M560.7 294.3L605.1 289.7M588.9 271.7L595.0 289.6M573.2 287.2L571.4 281.7M564.2 298.8L580.9 279.7M577.2 289.1L579.9 281.5M574.8 259.3L579.6 284.2M579.7 245.1L590.5 285.3M566.0 273.2L581.5 284.3M584.3 271.7L581.9 289.8M588.9 271.7L605.1 289.7M593.0 284.4L583.6 281.5M570.2 287.2L580.6 265.0M583.6 281.5L535.2 276.2M577.2 289.1L592.4 284.9M590.5 285.3L581.5 322.8M565.4 292.1L580.6 265.0M582.9 275.6L559.2 290.9M576.0 278.7L584.4 302.3M555.7 268.7L570.6 299.8M522.4 279.7L585.4 308.0M581.4 269.7L578.3 274.5M581.0 269.4L594.8 283.3M589.8 298.7L598.3 284.9M586.0 265.5L573.2 278.6M571.9 286.9L598.3 284.9M589.8 298.7L596.4 290.5M603.9 296.9L598.3 284.9M580.9 279.7L587.3 251.4M585.5 281.9L566.7 298.8M589.8 298.7L566.5 280.0M582.5 289.9L571.6 269.2M596.4 290.5L535.2 276.2M580.6 265.0L566.5 280.0M589.6 264.3L575.6 288.7M564.2 298.8L566.0 273.2M579.9 262.7L585.9 274.6M579.7 245.1L594.8 283.3M580.1 282.1L584.3 271.7M581.0 269.4L577.2 289.1M603.9 296.9L583.7 295.4M575.2 279.4L589.9 278.2M575.7 308.6L607.0 287.2M555.7 268.7L589.8 298.7M586.0 265.5L570.6 270.0M569.4 282.6L579.3 279.7M577.9 274.5L570.2 287.2M546.6 298.7L579.4 283.8M584.4 302.3L588.1 275.6M590.5 292.1L576.3 274.4M581.0 269.4L609.0 303.3M587.3 251.4L592.4 284.9M582.1 280.9L568.1 286.2M571.6 269.2L586.0 282.9M564.3 291.9L590.1 260.9M570.8 271.1L578.2 281.9M599.7 274.1L577.0 266.3M579.8 282.5L585.4 308.0M586.7 314.7L577.9 274.5M576.7 276.8L572.2 276.2M569.4 282.6L559.2 290.9M570.5 286.2L583.7 295.4M592.4 284.9L598.5 285.8M565.4 292.1L579.9 262.7M580.9 279.7L578.9 288.7M577.2 289.1L579.4 283.8M577.6 279.8L586.7 314.7M567.0 297.2L571.9 286.9M566.5 280.0L598.3 284.9M574.8 259.3L607.0 287.2M570.2 287.2L577.4 278.2M584.4 302.3L522.4 279.7M570.2 287.2L585.9 288.3M546.6 298.7L576.7 296.0M583.4 279.2L579.9 271.8M590.1 260.9L563.5 279.5M572.4 271.2L576.9 278.1M577.1 279.3L598.5 285.8M567.9 254.9L593.0 284.4M609.0 303.3L581.5 322.8M595.0 289.6L590.5 292.1M579.6 284.2L588.8 255.9M586.0 282.9L573.2 278.6M574.1 271.8L559.2 290.9M566.5 280.0L573.2 278.6M571.6 269.2L574.9 284.9M559.2 290.9L577.6 280.0M588.1 283.6L579.3 291.6M586.7 314.7L588.8 255.9M584.3 271.7L593.0 284.4M592.4 266.3L578.2 281.9M594.5 265.6L535.2 276.2M570.6 299.8L583.7 295.4M560.7 294.3L573.2 287.2M580.2 278.5L575.2 279.4M577.0 266.3L577.6 280.3M581.5 284.3L569.4 282.6M559.2 290.9L568.0 273.1M570.5 286.2L609.0 303.3M576.7 296.0L589.8 298.7M577.4 282.2L585.5 281.9M576.0 278.7L576.7 296.0M574.9 284.9L569.4 282.6M595.0 289.6L565.4 292.1M574.8 259.3L577.4 278.2M594.8 283.3L603.9 296.9M595.8 322.8L571.6 269.2M580.2 278.5L575.6 288.7M575.6 288.7L560.7 294.3M571.4 281.7L559.2 290.9M565.4 292.1L577.2 289.1M566.0 273.2L582.9 275.6M579.3 279.7L580.6 265.0M593.0 284.4L535.2 276.2M566.5 280.0L583.6 281.5M573.9 292.3L578.2 281.9M584.3 271.7L579.7 245.1M589.8 298.7L563.5 279.5M567.0 297.2L590.1 260.9M580.9 279.7L575.3 279.5M589.9 278.2L592.4 266.3M591.0 273.5L535.2 276.2M583.7 295.4L600.6 268.8M577.6 280.3L605.1 289.7M577.4 278.2L578.5 279.6M577.0 266.3L566.0 273.2M585.9 274.6L571.4 281.7M571.9 286.9L587.3 251.4M580.9 279.7L576.7 276.8M553.8 285.1L592.4 284.9M595.0 289.6L577.6 280.3M618.0 295.0L575.2 279.4M564.3 291.9L578.3 274.5M581.0 269.4L575.0 281.0M595.8 322.8L583.7 295.4M565.4 292.1L574.3 301.2M581.5 284.3L565.1 294.1M567.9 254.9L575.0 281.0M603.9 296.9L588.9 271.7M590.1 260.9L566.5 280.0M579.9 271.8L579.6 280.4M598.3 284.9L579.8 282.5M564.2 298.8L578.2 281.9M585.4 308.0L572.2 276.2M567.0 297.2L576.9 280.8M586.0 282.9L577.5 293.6M577.9 274.5L572.2 276.2M571.4 281.7L585.9 288.3M578.9 288.7L535.2 276.2M566.5 280.0L596.4 290.5M576.4 286.3L566.5 280.0M592.4 266.3L579.6 280.4M588.1 275.6L585.9 288.3M592.4 284.9L553.8 285.1M578.9 288.7L577.0 266.3M578.3 274.5L583.7 295.4M580.2 278.5L585.5 281.9M577.6 280.3L592.4 284.9M580.2 278.5L585.9 274.6M605.1 289.7L598.5 285.8M583.1 278.2L566.7 298.8M575.2 279.4L592.4 266.3M581.0 269.4L598.3 284.9M583.4 279.2L577.9 274.5M573.2 287.2L573.2 278.6M573.2 278.6L572.4 271.2M571.9 286.9L560.7 294.3M582.1 280.9L585.9 288.3M580.1 275.8L577.4 278.2M577.5 256.1L577.4 278.2M609.0 303.3L584.3 271.7M577.4 284.4L546.6 298.7M577.5 293.6L578.9 288.7M577.4 284.4L561.7 285.6M589.8 298.7L589.8 298.7M579.7 245.1L566.0 273.2M567.9 254.9L579.6 284.2M590.5 285.3L586.0 282.9M581.9 289.8L577.2 285.0M581.9 289.8L567.9 254.9M568.2 302.9L581.4 269.7M585.4 308.0L583.1 278.2M571.9 286.9L587.3 251.4M618.0 295.0L564.2 298.8M579.6 280.4L578.5 279.6M571.4 281.7L578.2 281.9M577.6 280.0L580.2 278.5M581.5 322.8L567.0 297.2M571.9 286.9L579.3 279.7M576.7 276.8L570.2 287.2M618.0 295.0L563.5 279.5M579.3 291.6L575.6 288.7M592.4 284.9L580.9 279.7M578.2 281.9L569.4 282.6M566.7 298.8L573.2 287.2M580.6 265.0L581.5 284.3M575.3 279.5L588.9 271.7M568.1 286.2L590.5 292.1M581.4 269.7L577.2 289.1M584.3 271.7L577.1 279.3M585.5 281.9L598.5 285.8M588.1 283.6L585.5 281.9M559.2 290.9L546.6 298.7M581.9 289.8L575.3 279.5M585.9 288.3L571.6 269.2M576.7 276.8L546.6 298.7M577.2 285.0L578.2 281.9M571.9 286.9L570.6 270.0M577.6 279.8L607.0 287.2M584.3 271.7L609.0 303.3M603.9 296.9L579.9 262.7M588.9 271.7L574.9 284.9M576.3 274.4L574.1 271.8M579.7 245.1L577.4 282.2M609.0 303.3L584.2 292.8M580.9 279.7L592.4 266.3M576.7 296.0L590.5 292.1M605.1 289.7L575.3 279.5M535.2 276.2L583.4 279.2M589.6 264.3L595.8 322.8M577.1 279.3L576.7 296.0M580.9 279.7L564.2 298.8M609.0 303.3L582.5 289.9M570.2 287.2L577.6 280.0M573.9 292.3L570.6 319.2M571.6 269.2L580.1 282.1M566.7 298.8L577.4 284.4M568.1 286.2L577.4 284.4M579.9 271.8L570.6 299.8M579.6 280.4L583.4 279.2M579.8 282.5L577.4 278.2M575.2 279.4L580.9 279.7M560.7 294.3L575.9 276.6M546.6 298.7L582.1 280.9M573.9 292.3L561.9 290.3M577.6 280.3L598.5 285.8M570.6 299.8L586.7 314.7M568.2 302.9L582.9 275.6M535.2 276.2L575.7 308.6M568.2 302.9L577.6 280.3M572.4 271.2L595.0 289.6M563.5 279.5L582.5 289.9M579.0 279.9L585.4 308.0M589.9 278.2L577.2 289.1M578.3 274.5L593.0 284.4M586.0 265.5L574.3 301.7M590.5 292.1L535.2 276.2M568.1 286.2L566.5 280.0M581.9 287.4L572.4 271.2M561.9 290.3L575.0 281.0M581.5 284.3L583.7 295.4M603.9 296.9L588.9 271.7M607.0 287.2L589.9 278.2M592.4 284.9L577.6 280.0M585.4 308.0L577.2 289.1M560.7 294.3L580.9 279.7M577.5 293.6L587.3 251.4M578.9 288.7L575.6 288.7M560.7 294.3L570.8 271.1M577.2 285.0L555.7 268.7M564.2 298.8L578.3 274.5M576.9 278.1L577.6 279.8M578.5 279.6L575.2 279.4M576.0 278.7L595.0 289.6M566.5 280.0L578.2 281.9M576.0 278.7L559.2 290.9M582.9 275.6L581.4 269.7M603.9 296.9L589.6 264.3M555.7 268.7L578.9 288.7M609.0 303.3L581.4 269.7M585.9 274.6L580.1 282.1M576.7 296.0L584.4 302.3M583.6 281.5L580.6 265.0M583.6 281.5L590.5 292.1M589.9 278.2L571.9 286.9M592.5 274.6L577.4 278.2M563.5 279.5L578.1 279.6M577.2 289.1L578.5 279.6M584.4 302.3L575.6 288.7M587.3 251.4L579.9 262.7M570.5 286.2L595.8 322.8M576.4 286.3L594.5 265.6M569.4 282.6L580.6 265.0M581.0 269.4L577.0 266.3M579.8 282.5L576.7 276.8M576.9 280.8L583.1 278.2M576.0 278.7L607.0 287.2M572.4 271.2L576.7 276.8M579.8 282.5L577.2 285.0M585.5 281.9L586.0 265.5M566.7 298.8L588.1 275.6M585.5 281.9L587.3 251.4M573.2 297.3L607.0 287.2M575.9 276.6L569.4 282.6M579.9 271.8L566.7 298.8M571.4 281.7L570.6 319.2M565.1 294.1L576.7 296.0M575.7 308.6L580.1 275.8M575.6 288.7L584.4 302.3M581.5 322.8L603.8 272.2M569.4 282.6L599.7 274.1M591.0 273.5L588.9 271.7M573.2 297.3L603.8 272.2M607.0 287.2L570.2 287.2M577.5 293.6L535.2 276.2M581.0 269.4L573.9 292.3M573.9 292.3L579.0 279.9M588.1 275.6L583.4 279.2M579.9 262.7L573.2 297.3M538.9 297.6L572.4 271.2M573.2 287.2L570.1 287.9M574.1 271.8L570.5 286.2M572.4 271.2L571.4 281.7M573.9 292.3L575.2 279.4M575.3 279.5L576.7 296.0M605.1 289.7L579.3 279.7M574.9 284.9L584.4 302.3M570.1 287.9L594.5 265.6M573.2 287.2L575.7 308.6M579.7 245.1L593.0 284.4M570.6 319.2L567.9 254.9M582.9 275.6L583.7 295.4M579.3 279.7L577.4 282.2M576.7 296.0L609.0 303.3M584.3 271.7L579.3 291.6M590.5 292.1L618.0 295.0M577.5 256.1L568.0 273.1M581.0 269.4L568.2 302.9M592.4 266.3L582.5 289.9M583.7 295.4L573.2 287.2M577.2 289.1L589.6 264.3M575.3 279.5L546.6 298.7M568.0 273.1L584.4 257.3M579.0 279.9L538.9 297.6M589.9 278.2L579.4 283.8M578.5 279.6L594.8 283.3M579.9 262.7L577.6 280.0M598.5 285.8L574.3 301.2M580.6 265.0L584.2 292.8M577.6 279.8L585.4 308.0M583.7 295.4L572.4 271.2M563.5 279.5L570.5 286.2M585.5 281.9L584.4 257.3M563.5 279.5L570.6 299.8M575.6 288.7L580.6 265.0M561.9 290.3L577.6 280.0M584.4 257.3L598.5 285.8M579.6 280.4L575.7 308.6M568.1 286.2L567.0 297.2M580.6 265.0L576.0 278.7M581.0 269.4L588.9 271.7M592.4 266.3L585.9 274.6M577.0 266.3L579.6 280.4M571.9 286.9L598.5 285.8M581.0 269.4L596.4 290.5M566.0 273.2L564.3 291.9M579.9 262.7L570.1 287.9M578.1 279.6L569.5 292.0M584.2 292.8L570.2 287.2M581.9 287.4L587.3 251.4M567.0 297.2L600.6 268.8M580.2 278.5L566.0 273.2M609.0 303.3L583.7 295.4M579.0 279.9L579.7 245.1M567.0 297.2L588.1 283.6M595.0 289.6L589.9 278.2M574.3 301.7L573.2 278.6M588.1 283.6L577.6 280.0M579.9 281.5L578.5 279.6M573.2 287.2L598.5 285.8M561.7 285.6L546.6 298.7M578.1 279.6L581.9 287.4M600.6 268.8L584.4 257.3M591.0 273.5L592.5 274.6M580.2 278.5L573.2 278.6M561.9 290.3L596.4 290.5M559.2 290.9L576.4 286.3M593.0 284.4L566.5 280.0M566.7 298.8L564.2 298.8M575.3 279.5L603.9 296.9M618.0 295.0L577.2 285.0M579.0 279.9L573.2 278.6M579.6 280.4L563.5 279.5M603.8 272.2L595.0 289.6M594.8 283.3L568.1 286.2M570.6 319.2L561.7 285.6M576.7 276.8L568.2 302.9M584.3 271.7L561.9 290.3M575.7 308.6L579.4 283.8M583.6 281.5L574.3 301.7M595.0 289.6L574.9 284.9M560.7 294.3L538.9 297.6M560.7 294.3L571.4 281.7M589.9 278.2L578.2 281.9M600.6 268.8L585.5 281.9M577.6 279.8L571.6 269.2M574.3 301.2L579.6 280.4M581.5 284.3L535.2 276.2M555.7 268.7L568.2 302.9M580.2 278.5L571.4 281.7M618.0 295.0L577.0 266.3M564.3 291.9L572.4 271.2M574.3 301.2L586.0 282.9M581.5 322.8L574.1 271.8M581.4 269.7L571.4 281.7M577.2 285.0L567.9 254.9M572.2 276.2L590.5 285.3M584.4 302.3L590.5 285.3M579.3 291.6L603.9 296.9M581.5 284.3L585.5 281.9M592.5 274.6L565.1 294.1M586.7 314.7L581.9 289.8M586.7 314.7L590.7 306.6M564.3 291.9L578.5 279.6M579.8 282.5L546.6 298.7M576.9 280.8L577.6 280.0M574.9 284.9L584.3 271.7M577.0 266.3L578.3 274.5M579.8 282.5L599.7 274.1M595.0 289.6L566.5 280.0M570.2 287.2L584.4 257.3M581.5 284.3L576.9 280.8M569.4 282.6L553.8 285.1M566.5 280.0L570.6 319.2M575.6 288.7L565.1 294.1M568.2 302.9L577.2 289.1M575.9 276.6L566.0 273.2M575.3 279.5L600.6 268.8M571.6 269.2L580.6 265.0M592.4 266.3L583.1 278.2M576.4 286.3L579.3 279.7M599.7 274.1L618.0 295.0M565.1 294.1L600.6 268.8M577.5 256.1L581.4 269.7M588.1 275.6L570.5 286.2M571.4 281.7L578.9 288.7M586.0 265.5L574.8 259.3M599.7 274.1L574.3 301.2M571.9 286.9L568.2 302.9M592.4 284.9L579.6 280.4M598.3 284.9L581.9 287.4M579.4 283.8L607.0 287.2M589.8 298.7L595.8 322.8M579.9 281.5L579.6 280.4M582.1 280.9L579.9 262.7M580.9 279.7L583.1 278.2M582.9 275.6L605.1 289.7M583.4 279.2L577.6 280.0M585.9 288.3L561.7 285.6M577.2 285.0L590.5 285.3M565.4 292.1L535.2 276.2M581.5 284.3L581.5 284.3M579.4 283.8L577.4 278.2M553.8 285.1L577.6 279.8M571.4 281.7L584.4 302.3M579.7 245.1L574.9 284.9M574.8 259.3L571.4 281.7M580.1 282.1L577.2 289.1M598.5 285.8L561.9 290.3M576.7 276.8L572.4 271.2M576.7 276.8L572.4 271.2M581.4 269.7L571.4 281.7M592.4 266.3L584.4 257.3M577.2 289.1L585.5 281.9M574.1 271.8L603.8 272.2M582.9 275.6L577.4 278.2M571.4 281.7L599.7 274.1M600.6 268.8L580.1 282.1M605.1 289.7L595.0 289.6M591.0 273.5L570.8 271.1M522.4 279.7L582.1 280.9M580.1 282.1L582.1 280.9M585.5 281.9L579.6 284.2M572.2 276.2L589.9 278.2M599.7 274.1L588.1 283.6M596.4 290.5L560.7 294.3M577.9 274.5L570.5 286.2M583.1 278.2L589.8 298.7M582.9 275.6L594.8 283.3M576.9 278.1L581.4 269.7M577.6 279.8L576.0 278.7M573.2 278.6L571.6 269.2M605.1 289.7L594.8 283.3M578.1 279.6L584.4 257.3M570.5 286.2L603.8 272.2M568.2 302.9L578.9 288.7M577.2 289.1L574.3 301.7M603.8 272.2L590.5 292.1M591.0 273.5L594.5 265.6M580.6 265.0L579.6 280.4M585.5 281.9L575.9 276.6M576.9 278.1L605.1 289.7M575.2 279.4L574.3 301.2M590.5 292.1L577.6 280.0M609.0 303.3L570.2 287.2M580.2 278.5L564.3 291.9M579.8 282.5L564.2 298.8M553.8 285.1L584.4 302.3M605.1 289.7L584.4 302.3M581.5 322.8L591.0 273.5M569.0 270.9L589.9 278.2M582.1 280.9L570.8 271.1M589.6 264.3L574.9 284.9M560.7 294.3L575.9 276.6M573.2 278.6L568.2 302.9M575.9 276.6L596.4 290.5M577.2 289.1L576.4 286.3M574.8 259.3L588.1 283.6M578.3 274.5L576.9 278.1M603.8 272.2L588.1 283.6M575.0 281.0L583.4 279.2M575.6 288.7L573.2 287.2M584.2 292.8L572.4 271.2M572.4 271.2L571.6 269.2M582.5 289.9L579.4 283.8M590.5 292.1L574.1 271.8M581.5 322.8L571.9 286.9M579.4 283.8L618.0 295.0M577.4 278.2L580.9 279.7M589.8 298.7L567.0 297.2M568.2 302.9L618.0 295.0M591.0 273.5L577.5 256.1M583.6 281.5L576.7 296.0M595.8 322.8L579.3 291.6M566.0 273.2L589.6 264.3M582.1 280.9L577.0 266.3M577.6 280.0L578.2 281.9M546.6 298.7L574.8 259.3M560.7 294.3L578.5 279.6M576.7 296.0L570.1 287.9M584.2 292.8L573.2 278.6M592.5 274.6L618.0 295.0M589.6 264.3L579.9 262.7M522.4 279.7L577.6 280.3M573.9 292.3L579.9 262.7M535.2 276.2L578.1 279.6M565.4 292.1L579.3 279.7M579.3 291.6L574.3 301.7M579.6 284.2L571.4 281.7M568.2 302.9L577.4 278.2M568.0 273.1L577.2 285.0M596.4 290.5L579.4 283.8M580.9 279.7L588.1 283.6M579.4 283.8L591.0 273.5M577.2 289.1L566.0 273.2M592.4 284.9L565.1 294.1M566.5 280.0L576.4 286.3M590.1 260.9L565.1 294.1M592.4 266.3L577.9 274.5M590.1 260.9L579.6 284.2M588.1 283.6L580.1 282.1M605.1 289.7L560.7 294.3M563.5 279.5L579.3 279.7M577.1 279.3L565.1 294.1M580.1 275.8L567.9 254.9M589.9 278.2L589.8 298.7M579.8 282.5L576.0 278.7M578.3 274.5L576.7 276.8M565.1 294.1L582.9 275.6M568.2 302.9L575.2 279.4M584.4 257.3L590.7 306.6M579.7 245.1L609.0 303.3M574.3 301.7L574.3 301.2M584.4 302.3L584.2 292.8M566.7 298.8L560.7 294.3M575.3 279.5L596.4 290.5M576.9 278.1L575.0 281.0M573.2 287.2L588.9 271.7M585.4 308.0L581.9 289.8M570.6 319.2L582.5 289.9M575.7 308.6L575.9 276.6M575.3 279.5L568.1 286.2M585.5 281.9L587.3 251.4M581.9 289.8L598.3 284.9M575.2 279.4L592.5 274.6M574.3 301.2L583.1 278.2M579.4 283.8L577.4 278.2M586.0 265.5L576.3 274.4M589.8 298.7L577.4 284.4M578.2 281.9L563.5 279.5M576.7 296.0L578.1 279.6M567.0 297.2L584.2 292.8M586.0 265.5L559.2 290.9M592.4 284.9L577.5 293.6M581.5 322.8L569.0 270.9M568.2 302.9L561.9 290.3M569.0 270.9L579.3 291.6M575.6 288.7L561.7 285.6M585.4 308.0L590.1 260.9M592.5 274.6L607.0 287.2M576.9 280.8L575.9 276.6M567.0 297.2L571.9 286.9M580.2 278.5L592.5 274.6M579.3 291.6L571.6 269.2M592.4 266.3L594.5 265.6M574.3 301.7L575.6 288.7M605.1 289.7L580.1 282.1M575.3 279.5L574.9 284.9M573.2 297.3L586.0 282.9M570.8 271.1L579.9 281.5M577.9 274.5L565.1 294.1M570.5 286.2L579.3 291.6M574.8 259.3L590.7 306.6M583.1 278.2L575.7 308.6M567.0 297.2L561.7 285.6M580.6 265.0L570.6 270.0M577.5 256.1L580.6 265.0M575.9 276.6L566.7 298.8M570.6 270.0L589.9 278.2M582.9 275.6L603.8 272.2M576.3 274.4L569.0 270.9M577.6 280.3L566.0 273.2M603.9 296.9L598.5 285.8M589.8 298.7L555.7 268.7M564.2 298.8L580.6 265.0M579.3 291.6L566.5 280.0M576.7 296.0L575.6 288.7M568.2 302.9L590.1 260.9M568.0 273.1L579.9 262.7M569.0 270.9L570.1 287.9" stroke="#55259a" stroke-width="0.55" fill="none" opacity="0.9"/>
<g fill="#a8dcec" stroke="#4a90b8" stroke-width="0.35"><circle cx="552.5" cy="208.3" r="0.95"/><circle cx="536.9" cy="228.1" r="0.95"/><circle cx="512.4" cy="237.5" r="0.95"/><circle cx="564.2" cy="228.1" r="0.95"/><circle cx="581.4" cy="227.4" r="0.95"/><circle cx="584.6" cy="235.9" r="0.95"/><circle cx="626.9" cy="244.7" r="0.95"/><circle cx="521.8" cy="247.8" r="0.95"/><circle cx="529.6" cy="245.3" r="0.95"/><circle cx="518.6" cy="271.1" r="0.95"/><circle cx="526.5" cy="288.6" r="0.95"/><circle cx="538.4" cy="296.5" r="0.95"/><circle cx="531.2" cy="316.9" r="0.95"/><circle cx="536.5" cy="305.0" r="0.95"/><circle cx="623.8" cy="271.4" r="0.95"/><circle cx="623.8" cy="286.1" r="0.95"/><circle cx="617.5" cy="305.0" r="0.95"/><circle cx="628.5" cy="335.7" r="0.95"/><circle cx="537.5" cy="332.6" r="0.95"/><circle cx="546.9" cy="345.8" r="0.95"/><circle cx="553.2" cy="331.0" r="0.95"/><circle cx="563.5" cy="345.8" r="0.95"/><circle cx="570.4" cy="353.6" r="0.95"/><circle cx="605.9" cy="344.2" r="0.95"/><circle cx="613.8" cy="358.3" r="0.95"/><circle cx="583.0" cy="369.3" r="0.95"/><circle cx="605.6" cy="378.1" r="0.95"/><circle cx="584.6" cy="351.4" r="0.95"/><circle cx="515.0" cy="262.0" r="0.95"/><circle cx="522.0" cy="282.0" r="0.95"/><circle cx="532.0" cy="258.0" r="0.95"/><circle cx="540.0" cy="237.0" r="0.95"/><circle cx="548.0" cy="240.0" r="0.95"/><circle cx="574.0" cy="236.0" r="0.95"/><circle cx="598.0" cy="250.0" r="0.95"/><circle cx="606.0" cy="262.0" r="0.95"/><circle cx="612.0" cy="292.0" r="0.95"/><circle cx="600.0" cy="330.0" r="0.95"/><circle cx="592.0" cy="340.0" r="0.95"/><circle cx="575.0" cy="345.0" r="0.95"/><circle cx="556.0" cy="320.0" r="0.95"/><circle cx="514.0" cy="255.0" r="0.95"/><circle cx="560.0" cy="232.0" r="0.95"/><circle cx="590.0" cy="241.0" r="0.95"/><circle cx="620.0" cy="262.0" r="0.95"/><circle cx="619.0" cy="318.0" r="0.95"/><circle cx="560.0" cy="357.0" r="0.95"/><circle cx="597.0" cy="372.0" r="0.95"/><circle cx="590.0" cy="360.0" r="0.95"/><circle cx="545.0" cy="318.0" r="0.95"/><circle cx="528.0" cy="300.0" r="0.95"/><circle cx="548.0" cy="222.0" r="0.95"/><circle cx="566.0" cy="214.0" r="0.95"/><circle cx="529.0" cy="232.0" r="0.95"/><circle cx="576.8" cy="239.6" r="0.9"/><circle cx="610.4" cy="288.4" r="0.9"/><circle cx="581.2" cy="310.1" r="0.9"/><circle cx="551.4" cy="273.0" r="0.9"/><circle cx="604.0" cy="264.5" r="0.9"/><circle cx="586.3" cy="257.1" r="0.9"/><circle cx="615.9" cy="271.5" r="0.9"/><circle cx="575.6" cy="315.9" r="0.9"/><circle cx="568.7" cy="242.4" r="0.9"/><circle cx="566.6" cy="258.8" r="0.9"/><circle cx="554.4" cy="309.4" r="0.9"/><circle cx="575.0" cy="328.2" r="0.9"/><circle cx="570.3" cy="245.4" r="0.9"/><circle cx="582.5" cy="320.6" r="0.9"/><circle cx="585.9" cy="316.3" r="0.9"/><circle cx="587.7" cy="253.4" r="0.9"/><circle cx="568.1" cy="255.9" r="0.9"/><circle cx="590.6" cy="255.9" r="0.9"/><circle cx="604.2" cy="266.0" r="0.9"/><circle cx="591.8" cy="322.1" r="0.9"/><circle cx="561.6" cy="306.6" r="0.9"/><circle cx="605.5" cy="313.5" r="0.9"/></g>
<g stroke="#3f7fb5" stroke-width="0.35"><circle cx="598.5" cy="250.7" r="1.1" fill="#a8dcec"/><circle cx="567.2" cy="296.3" r="1.0" fill="#a8dcec"/><circle cx="547.0" cy="297.6" r="0.9" fill="#a8dcec"/><circle cx="567.6" cy="283.5" r="1.0" fill="#f781bf"/><circle cx="586.9" cy="257.5" r="1.0" fill="#a8dcec"/><circle cx="583.9" cy="256.4" r="1.3" fill="#a8dcec"/><circle cx="601.3" cy="271.0" r="1.3" fill="#a65628"/><circle cx="545.8" cy="275.8" r="0.8" fill="#a8dcec"/><circle cx="560.5" cy="274.1" r="1.4" fill="#a8dcec"/><circle cx="554.5" cy="262.9" r="1.3" fill="#a8dcec"/><circle cx="584.2" cy="278.9" r="1.6" fill="#a8dcec"/><circle cx="584.3" cy="259.9" r="1.3" fill="#a8dcec"/><circle cx="573.0" cy="254.5" r="1.0" fill="#984ea3"/><circle cx="560.3" cy="279.3" r="0.8" fill="#a65628"/><circle cx="586.0" cy="286.1" r="1.5" fill="#f781bf"/><circle cx="563.4" cy="250.3" r="1.1" fill="#f781bf"/><circle cx="601.4" cy="266.4" r="1.0" fill="#a8dcec"/><circle cx="589.0" cy="277.2" r="1.6" fill="#984ea3"/><circle cx="578.2" cy="269.5" r="1.2" fill="#a65628"/><circle cx="601.7" cy="273.7" r="0.8" fill="#a8dcec"/><circle cx="614.4" cy="287.8" r="1.0" fill="#ffff33"/><circle cx="581.3" cy="249.2" r="1.1" fill="#a8dcec"/><circle cx="549.5" cy="303.5" r="1.3" fill="#a8dcec"/><circle cx="587.3" cy="297.4" r="1.1" fill="#e41a1c"/><circle cx="596.7" cy="257.0" r="0.9" fill="#377eb8"/><circle cx="586.2" cy="311.8" r="1.1" fill="#a65628"/><circle cx="557.1" cy="286.7" r="1.5" fill="#e41a1c"/><circle cx="582.8" cy="300.7" r="0.9" fill="#a8dcec"/><circle cx="587.8" cy="274.2" r="1.3" fill="#a8dcec"/><circle cx="594.3" cy="307.3" r="1.5" fill="#ff7f00"/><circle cx="575.1" cy="311.3" r="1.5" fill="#a8dcec"/><circle cx="600.9" cy="255.3" r="1.0" fill="#ff7f00"/><circle cx="568.3" cy="283.8" r="1.2" fill="#a65628"/><circle cx="608.9" cy="273.5" r="1.2" fill="#a8dcec"/><circle cx="611.7" cy="300.2" r="0.9" fill="#a8dcec"/><circle cx="608.8" cy="264.7" r="1.0" fill="#a65628"/><circle cx="586.3" cy="257.9" r="1.1" fill="#f781bf"/><circle cx="579.0" cy="310.1" r="1.4" fill="#ff7f00"/><circle cx="590.3" cy="256.0" r="1.4" fill="#4daf4a"/><circle cx="598.6" cy="270.2" r="1.4" fill="#a8dcec"/><circle cx="604.8" cy="304.9" r="1.3" fill="#e41a1c"/><circle cx="595.7" cy="283.7" r="1.5" fill="#f781bf"/><circle cx="598.1" cy="301.5" r="1.1" fill="#ff7f00"/><circle cx="597.9" cy="256.4" r="1.0" fill="#a8dcec"/><circle cx="578.1" cy="276.1" r="1.3" fill="#a8dcec"/><circle cx="592.5" cy="252.2" r="1.6" fill="#ff7f00"/><circle cx="602.1" cy="309.9" r="1.2" fill="#f781bf"/><circle cx="589.0" cy="312.0" r="1.4" fill="#ff7f00"/><circle cx="569.0" cy="299.3" r="1.5" fill="#e41a1c"/><circle cx="563.7" cy="308.3" r="1.3" fill="#ff7f00"/><circle cx="590.6" cy="262.1" r="1.3" fill="#f781bf"/><circle cx="571.3" cy="295.0" r="0.9" fill="#4daf4a"/><circle cx="611.2" cy="277.4" r="1.3" fill="#ff7f00"/><circle cx="592.8" cy="273.2" r="1.3" fill="#377eb8"/><circle cx="602.8" cy="270.0" r="1.5" fill="#f781bf"/><circle cx="616.3" cy="264.6" r="1.3" fill="#a65628"/><circle cx="621.0" cy="276.5" r="1.1" fill="#a8dcec"/><circle cx="548.7" cy="302.7" r="1.4" fill="#4daf4a"/><circle cx="546.3" cy="271.1" r="1.3" fill="#ff7f00"/><circle cx="581.6" cy="298.0" r="1.5" fill="#a8dcec"/><circle cx="545.7" cy="285.2" r="1.4" fill="#377eb8"/><circle cx="589.9" cy="255.9" r="0.9" fill="#e41a1c"/><circle cx="543.2" cy="278.4" r="1.4" fill="#a8dcec"/><circle cx="602.1" cy="259.3" r="1.1" fill="#e41a1c"/><circle cx="564.0" cy="267.0" r="1.0" fill="#4daf4a"/><circle cx="613.7" cy="265.9" r="1.2" fill="#a65628"/><circle cx="598.0" cy="291.8" r="0.9" fill="#e41a1c"/><circle cx="597.4" cy="305.2" r="1.3" fill="#ff7f00"/><circle cx="590.2" cy="273.2" r="0.8" fill="#a8dcec"/><circle cx="580.6" cy="298.8" r="1.3" fill="#e41a1c"/><circle cx="568.7" cy="286.5" r="1.5" fill="#a8dcec"/><circle cx="570.7" cy="257.0" r="1.6" fill="#4daf4a"/><circle cx="558.0" cy="255.0" r="1.4" fill="#4daf4a"/><circle cx="570.5" cy="289.3" r="0.9" fill="#a8dcec"/><circle cx="560.3" cy="269.5" r="1.5" fill="#a8dcec"/><circle cx="605.2" cy="273.3" r="0.9" fill="#377eb8"/><circle cx="572.3" cy="312.7" r="1.3" fill="#a65628"/><circle cx="610.0" cy="297.8" r="1.4" fill="#a8dcec"/><circle cx="542.0" cy="277.0" r="1.4" fill="#e41a1c"/><circle cx="589.8" cy="275.7" r="1.3" fill="#a8dcec"/><circle cx="607.2" cy="271.8" r="0.8" fill="#a8dcec"/><circle cx="557.8" cy="284.3" r="1.5" fill="#a8dcec"/><circle cx="618.7" cy="269.7" r="1.4" fill="#984ea3"/><circle cx="600.9" cy="305.9" r="1.3" fill="#a8dcec"/><circle cx="619.1" cy="287.8" r="1.0" fill="#e41a1c"/><circle cx="554.4" cy="280.3" r="0.8" fill="#a8dcec"/><circle cx="579.7" cy="248.4" r="1.0" fill="#ff7f00"/><circle cx="566.3" cy="278.6" r="1.5" fill="#a8dcec"/><circle cx="587.0" cy="259.4" r="1.2" fill="#a8dcec"/><circle cx="601.3" cy="283.9" r="1.1" fill="#f781bf"/><circle cx="586.0" cy="250.1" r="1.5" fill="#a8dcec"/><circle cx="603.2" cy="284.2" r="1.4" fill="#ff7f00"/><circle cx="572.6" cy="312.9" r="1.1" fill="#a8dcec"/><circle cx="596.8" cy="309.1" r="1.0" fill="#ff7f00"/><circle cx="564.4" cy="279.4" r="1.0" fill="#a8dcec"/><circle cx="584.6" cy="254.1" r="1.4" fill="#a8dcec"/><circle cx="548.2" cy="274.6" r="1.2" fill="#a8dcec"/><circle cx="551.1" cy="291.2" r="1.3" fill="#377eb8"/><circle cx="619.9" cy="289.0" r="1.2" fill="#a8dcec"/><circle cx="572.4" cy="299.1" r="1.4" fill="#f781bf"/><circle cx="597.3" cy="284.9" r="1.5" fill="#ff7f00"/><circle cx="618.2" cy="287.1" r="0.8" fill="#a8dcec"/><circle cx="595.7" cy="281.7" r="1.5" fill="#e41a1c"/><circle cx="558.6" cy="271.8" r="1.3" fill="#a8dcec"/><circle cx="562.9" cy="299.3" r="1.4" fill="#ff7f00"/><circle cx="586.3" cy="258.6" r="1.0" fill="#a8dcec"/><circle cx="606.3" cy="288.4" r="1.1" fill="#f781bf"/><circle cx="570.7" cy="295.6" r="1.5" fill="#e41a1c"/><circle cx="547.8" cy="281.7" r="1.5" fill="#a8dcec"/><circle cx="549.6" cy="263.5" r="1.4" fill="#a8dcec"/><circle cx="598.6" cy="306.8" r="1.5" fill="#a8dcec"/><circle cx="598.0" cy="267.3" r="1.3" fill="#4daf4a"/><circle cx="553.8" cy="278.9" r="1.1" fill="#ffff33"/><circle cx="576.7" cy="263.7" r="1.5" fill="#f781bf"/><circle cx="600.1" cy="274.1" r="1.3" fill="#f781bf"/><circle cx="593.6" cy="250.2" r="1.6" fill="#a8dcec"/><circle cx="568.4" cy="259.0" r="1.1" fill="#e41a1c"/><circle cx="570.8" cy="267.8" r="1.0" fill="#a8dcec"/><circle cx="575.2" cy="312.0" r="1.3" fill="#a8dcec"/><circle cx="558.7" cy="269.7" r="1.2" fill="#a8dcec"/></g>
<circle cx="617.5" cy="288" r="2.1" fill="#e41a1c"/>
<rect x="572.4" y="389.40" width="2.3" height="2.3" fill="#e41a1c"/>
<text x="575.6" y="391.70" font-size="3.7" font-family="'Liberation Sans',sans-serif" fill="#1a1a1a">Pathways in cancer</text>
<rect x="572.4" y="393.63" width="2.3" height="2.3" fill="#377eb8"/>
<text x="575.6" y="395.93" font-size="3.7" font-family="'Liberation Sans',sans-serif" fill="#1a1a1a">Gastrin signaling pathway</text>
<rect x="572.4" y="397.86" width="2.3" height="2.3" fill="#4daf4a"/>
<text x="575.6" y="400.16" font-size="3.7" font-family="'Liberation Sans',sans-serif" fill="#1a1a1a">CKAP4 signaling pathway map</text>
<rect x="572.4" y="402.09" width="2.3" height="2.3" fill="#984ea3"/>
<text x="575.6" y="404.39" font-size="3.7" font-family="'Liberation Sans',sans-serif" fill="#1a1a1a">enzyme linked receptor protein signaling pathway</text>
<rect x="572.4" y="406.32" width="2.3" height="2.3" fill="#ff7f00"/>
<text x="575.6" y="408.62" font-size="3.7" font-family="'Liberation Sans',sans-serif" fill="#1a1a1a">MAPK signaling pathway</text>
<rect x="572.4" y="410.55" width="2.3" height="2.3" fill="#ffff33"/>
<text x="575.6" y="412.85" font-size="3.7" font-family="'Liberation Sans',sans-serif" fill="#1a1a1a">Thyroid hormones production and peripheral downstre</text>
<rect x="572.4" y="414.78" width="2.3" height="2.3" fill="#a65628"/>
<text x="575.6" y="417.08" font-size="3.7" font-family="'Liberation Sans',sans-serif" fill="#1a1a1a">tube morphogenesis</text>
<rect x="572.4" y="419.01" width="2.3" height="2.3" fill="#f781bf"/>
<text x="575.6" y="421.31" font-size="3.7" font-family="'Liberation Sans',sans-serif" fill="#1a1a1a">response to growth factor</text>
<rect x="572.4" y="423.24" width="2.3" height="2.3" fill="#999999"/>
<text x="575.6" y="425.54" font-size="3.7" font-family="'Liberation Sans',sans-serif" fill="#1a1a1a">Epithelial cell signaling in Helicobacter pylori infectio</text>
<rect x="572.4" y="427.47" width="2.3" height="2.3" fill="#8dd3c7"/>
<text x="575.6" y="429.77" font-size="3.7" font-family="'Liberation Sans',sans-serif" fill="#1a1a1a">regulation of epithelial cell proliferation</text>
<rect x="572.4" y="431.70" width="2.3" height="2.3" fill="#ffffb3"/>
<text x="575.6" y="434.00" font-size="3.7" font-family="'Liberation Sans',sans-serif" fill="#1a1a1a">hemopoiesis</text>
<rect x="572.4" y="435.93" width="2.3" height="2.3" fill="#bebada"/>
<text x="575.6" y="438.23" font-size="3.7" font-family="'Liberation Sans',sans-serif" fill="#1a1a1a">skeletal system development</text>
<rect x="572.4" y="440.16" width="2.3" height="2.3" fill="#fb8072"/>
<text x="575.6" y="442.46" font-size="3.7" font-family="'Liberation Sans',sans-serif" fill="#1a1a1a">response to oxygen levels</text>
<rect x="572.4" y="444.39" width="2.3" height="2.3" fill="#80b1d3"/>
<text x="575.6" y="446.69" font-size="3.7" font-family="'Liberation Sans',sans-serif" fill="#1a1a1a">Nuclear receptors</text>
<rect x="572.4" y="448.62" width="2.3" height="2.3" fill="#fdb462"/>
<text x="575.6" y="450.92" font-size="3.7" font-family="'Liberation Sans',sans-serif" fill="#1a1a1a">epithelial cell differentiation</text>
<rect x="572.4" y="452.85" width="2.3" height="2.3" fill="#b3de69"/>
<text x="575.6" y="455.15" font-size="3.7" font-family="'Liberation Sans',sans-serif" fill="#1a1a1a">Wnt signaling pathway</text>
<rect x="572.4" y="457.08" width="2.3" height="2.3" fill="#fccde5"/>
<text x="575.6" y="459.38" font-size="3.7" font-family="'Liberation Sans',sans-serif" fill="#1a1a1a">blood vessel development</text>
<rect x="572.4" y="461.31" width="2.3" height="2.3" fill="#d9d9d9"/>
<text x="575.6" y="463.61" font-size="3.7" font-family="'Liberation Sans',sans-serif" fill="#1a1a1a">Hippo signaling regulation pathways</text>
<text x="8.8" y="478.7" font-size="19" font-family="'Liberation Serif',serif" transform="translate(8.8 0) scale(0.78 1) translate(-8.8 0)">G</text>
<rect x="42.4" y="493.2" width="137.1" height="126.80000000000001" fill="#fff" stroke="#444" stroke-width="0.5"/>
<path d="M57.4 493.2V620.0M72.5 493.2V620.0M87.5 493.2V620.0M117.6 493.2V620.0" stroke="#aaa" stroke-width="0.5"/>
<rect x="42.4" y="495.90" width="131.60" height="3.8" fill="#d9600f" stroke="#8f857c" stroke-width="0.45"/>
<text x="181.1" y="499.15" font-size="4.12" font-family="'DejaVu Sans',sans-serif" fill="#222">hsa05200: Pathways in cancer</text>
<rect x="42.4" y="500.80" width="115.06" height="3.8" fill="#d9600f" stroke="#8f857c" stroke-width="0.45"/>
<text x="181.1" y="504.05" font-size="4.12" font-family="'DejaVu Sans',sans-serif" fill="#222">WP4659: Gastrin signaling pathway</text>
<rect x="42.4" y="505.69" width="115.06" height="3.8" fill="#d9600f" stroke="#8f857c" stroke-width="0.45"/>
<text x="181.1" y="508.94" font-size="4.12" font-family="'DejaVu Sans',sans-serif" fill="#222">WP5322: CKAP4 signaling pathway map</text>
<rect x="42.4" y="510.59" width="111.30" height="3.8" fill="#d9600f" stroke="#8f857c" stroke-width="0.45"/>
<text x="181.1" y="513.84" font-size="4.12" font-family="'DejaVu Sans',sans-serif" fill="#222">GO:0007167: enzyme linked receptor protein signaling pathway</text>
<rect x="42.4" y="515.48" width="99.64" height="3.8" fill="#d9600f" stroke="#8f857c" stroke-width="0.45"/>
<text x="181.1" y="518.73" font-size="4.12" font-family="'DejaVu Sans',sans-serif" fill="#222">hsa04010: MAPK signaling pathway</text>
<rect x="42.4" y="520.38" width="87.98" height="3.8" fill="#d9600f" stroke="#8f857c" stroke-width="0.45"/>
<text x="181.1" y="523.62" font-size="4.12" font-family="'DejaVu Sans',sans-serif" fill="#222">WP4746: Thyroid hormones production and peripheral downstream signaling effects</text>
<rect x="42.4" y="525.27" width="84.22" height="3.8" fill="#d9600f" stroke="#8f857c" stroke-width="0.45"/>
<text x="181.1" y="528.52" font-size="4.12" font-family="'DejaVu Sans',sans-serif" fill="#222">GO:0035239: tube morphogenesis</text>
<rect x="42.4" y="530.17" width="82.34" height="3.8" fill="#d9600f" stroke="#8f857c" stroke-width="0.45"/>
<text x="181.1" y="533.42" font-size="4.12" font-family="'DejaVu Sans',sans-serif" fill="#222">GO:0070848: response to growth factor</text>
<rect x="42.4" y="535.06" width="78.21" height="3.8" fill="#d9600f" stroke="#8f857c" stroke-width="0.45"/>
<text x="181.1" y="538.31" font-size="4.12" font-family="'DejaVu Sans',sans-serif" fill="#222">hsa05120: Epithelial cell signaling in Helicobacter pylori infection</text>
<rect x="42.4" y="539.96" width="66.18" height="3.8" fill="#f7952a" stroke="#8f857c" stroke-width="0.45"/>
<text x="181.1" y="543.21" font-size="4.12" font-family="'DejaVu Sans',sans-serif" fill="#222">GO:0050678: regulation of epithelial cell proliferation</text>
<rect x="42.4" y="544.85" width="63.17" height="3.8" fill="#f7952a" stroke="#8f857c" stroke-width="0.45"/>
<text x="181.1" y="548.10" font-size="4.12" font-family="'DejaVu Sans',sans-serif" fill="#222">GO:0030097: hemopoiesis</text>
<rect x="42.4" y="549.75" width="60.91" height="3.8" fill="#f7952a" stroke="#8f857c" stroke-width="0.45"/>
<text x="181.1" y="553.00" font-size="4.12" font-family="'DejaVu Sans',sans-serif" fill="#222">GO:0001501: skeletal system development</text>
<rect x="42.4" y="554.64" width="59.03" height="3.8" fill="#f7952a" stroke="#8f857c" stroke-width="0.45"/>
<text x="181.1" y="557.89" font-size="4.12" font-family="'DejaVu Sans',sans-serif" fill="#222">GO:0070482: response to oxygen levels</text>
<rect x="42.4" y="559.53" width="56.02" height="3.8" fill="#f7952a" stroke="#8f857c" stroke-width="0.45"/>
<text x="181.1" y="562.78" font-size="4.12" font-family="'DejaVu Sans',sans-serif" fill="#222">WP170: Nuclear receptors</text>
<rect x="42.4" y="564.43" width="55.27" height="3.8" fill="#f7952a" stroke="#8f857c" stroke-width="0.45"/>
<text x="181.1" y="567.68" font-size="4.12" font-family="'DejaVu Sans',sans-serif" fill="#222">GO:0030855: epithelial cell differentiation</text>
<rect x="42.4" y="569.33" width="52.26" height="3.8" fill="#f7952a" stroke="#8f857c" stroke-width="0.45"/>
<text x="181.1" y="572.58" font-size="4.12" font-family="'DejaVu Sans',sans-serif" fill="#222">WP363: Wnt signaling pathway</text>
<rect x="42.4" y="574.22" width="49.26" height="3.8" fill="#f7952a" stroke="#8f857c" stroke-width="0.45"/>
<text x="181.1" y="577.47" font-size="4.12" font-family="'DejaVu Sans',sans-serif" fill="#222">GO:0001568: blood vessel development</text>
<rect x="42.4" y="579.12" width="43.24" height="3.8" fill="#fdbe50" stroke="#8f857c" stroke-width="0.45"/>
<text x="181.1" y="582.37" font-size="4.12" font-family="'DejaVu Sans',sans-serif" fill="#222">WP4540: Hippo signaling regulation pathways</text>
<rect x="42.4" y="584.01" width="42.11" height="3.8" fill="#fdbe50" stroke="#8f857c" stroke-width="0.45"/>
<text x="181.1" y="587.26" font-size="4.12" font-family="'DejaVu Sans',sans-serif" fill="#222">GO:0044409: entry into host</text>
<rect x="42.4" y="588.91" width="39.86" height="3.8" fill="#fdbe50" stroke="#8f857c" stroke-width="0.45"/>
<text x="181.1" y="592.16" font-size="4.12" font-family="'DejaVu Sans',sans-serif" fill="#222">M94: PID FAS PATHWAY</text>
<rect x="42.4" y="593.80" width="38.73" height="3.8" fill="#fdbe50" stroke="#8f857c" stroke-width="0.45"/>
<text x="181.1" y="597.05" font-size="4.12" font-family="'DejaVu Sans',sans-serif" fill="#222">R-HSA-1474228: Degradation of the extracellular matrix</text>
<rect x="42.4" y="598.70" width="37.60" height="3.8" fill="#fdbe50" stroke="#8f857c" stroke-width="0.45"/>
<text x="181.1" y="601.95" font-size="4.12" font-family="'DejaVu Sans',sans-serif" fill="#222">M198: PID SYNDECAN 1 PATHWAY</text>
<rect x="42.4" y="603.59" width="34.22" height="3.8" fill="#fdbe50" stroke="#8f857c" stroke-width="0.45"/>
<text x="181.1" y="606.84" font-size="4.12" font-family="'DejaVu Sans',sans-serif" fill="#222">GO:0001775: cell activation</text>
<rect x="42.4" y="608.49" width="28.20" height="3.8" fill="#fee49c" stroke="#8f857c" stroke-width="0.45"/>
<text x="181.1" y="611.74" font-size="4.12" font-family="'DejaVu Sans',sans-serif" fill="#222">WP5055: Burn wound healing</text>
<rect x="42.4" y="613.38" width="24.82" height="3.8" fill="#fee49c" stroke="#8f857c" stroke-width="0.45"/>
<text x="181.1" y="616.63" font-size="4.12" font-family="'DejaVu Sans',sans-serif" fill="#222">GO:0050680: negative regulation of epithelial cell proliferation</text>
<text x="42.4" y="625.3" font-size="3.75" font-family="'DejaVu Sans',sans-serif" text-anchor="middle" fill="#222">0.0</text>
<text x="61.2" y="625.3" font-size="3.75" font-family="'DejaVu Sans',sans-serif" text-anchor="middle" fill="#222">2.5</text>
<text x="80" y="625.3" font-size="3.75" font-family="'DejaVu Sans',sans-serif" text-anchor="middle" fill="#222">5.0</text>
<text x="98.8" y="625.3" font-size="3.75" font-family="'DejaVu Sans',sans-serif" text-anchor="middle" fill="#222">7.5</text>
<text x="117.6" y="625.3" font-size="3.75" font-family="'DejaVu Sans',sans-serif" text-anchor="middle" fill="#222">10.0</text>
<text x="136.4" y="625.3" font-size="3.75" font-family="'DejaVu Sans',sans-serif" text-anchor="middle" fill="#222">12.5</text>
<text x="155.2" y="625.3" font-size="3.75" font-family="'DejaVu Sans',sans-serif" text-anchor="middle" fill="#222">15.0</text>
<text x="174" y="625.3" font-size="3.75" font-family="'DejaVu Sans',sans-serif" text-anchor="middle" fill="#222">17.5</text>
<path d="M42.4 620.0v1.2M61.2 620.0v1.2M80 620.0v1.2M98.8 620.0v1.2M117.6 620.0v1.2M136.4 620.0v1.2M155.2 620.0v1.2M174 620.0v1.2" stroke="#444" stroke-width="0.4"/>
<text x="111" y="629.0" font-size="2.8" font-family="'DejaVu Sans',sans-serif" text-anchor="middle" fill="#222">-log10(P)</text>
<text x="416" y="483.6" font-size="14" font-family="'Liberation Serif',serif" font-weight="bold">H</text>
<path d="M544 579.6L541 504.6M527 568.8L493.7 573.5M493.7 573.5L554.7 617.3M565.5 564.5L541 504.6M496.4 599.8L544 579.6M520.6 592.5L544 579.6M520.6 592.5L500.4 533.2M483.8 554.5L529.9 532.3M529.9 532.3L546 550.7M527 568.8L565.5 593.1M527 568.8L512.4 617.3M565.5 593.1L500.4 533.2M455.5 574.7L546 550.7M536.4 604.7L500.4 533.2M455.5 574.7L513 553.1M527 568.8L455.5 574.7M455.5 574.7L493.7 573.5M591.2 552.2L500.4 533.2M529.9 532.3L565.5 593.1M493.7 573.5L459.3 538.5M520.6 592.5L496.4 599.8M565.5 564.5L586.3 579.3M520.6 592.5L481.2 517.7M568.2 537.6L500.4 533.2M541 504.6L546 550.7M544 579.6L500.4 533.2M483.8 554.5L536.4 604.7M565.5 564.5L544 579.6M493.7 573.5L536.4 604.7M565.5 564.5L500.4 533.2M459.3 538.5L500.4 533.2M565.5 564.5L554.7 617.3M496.4 599.8L536.4 604.7M520.6 592.5L536.4 604.7M513 553.1L536.4 604.7M515.9 508.4L536.4 604.7M527 568.8L565.5 564.5M527 568.8L591.2 552.2M483.8 554.5L546 550.7M544 579.6L459.3 538.5M529.9 532.3L513 553.1M483.8 554.5L513 553.1M529.9 532.3L568.2 537.6M483.8 554.5L493.7 573.5M513 553.1L546 550.7M515.9 508.4L546 550.7M529.9 532.3L565.5 564.5M529.9 532.3L591.2 552.2M496.4 599.8L513 553.1M544 579.6L536.4 604.7M481.2 517.7L493.7 573.5M455.5 574.7L565.5 564.5M515.9 508.4L513 553.1M520.6 592.5L493.7 573.5M527 568.8L541 504.6M520.6 592.5L512.4 617.3M527 568.8L483.8 554.5M565 512.8L513 553.1M527 568.8L459.3 538.5M529.9 532.3L541 504.6M472.4 590.1L546 550.7M527 568.8L515.9 508.4M520.6 592.5L541 504.6M493.7 573.5L546 550.7M591.2 552.2L536.4 604.7M513 553.1L541 504.6M472.4 590.1L513 553.1M472.4 590.1L493.7 573.5M493.7 573.5L513 553.1M527 568.8L544 579.6M493.7 573.5L568.2 537.6M527 568.8L500.4 533.2M527 568.8L520.6 592.5M483.8 554.5L565.5 564.5M529.9 532.3L515.9 508.4M493.7 573.5L565.5 564.5M536.4 604.7L546 550.7M520.6 592.5L568.2 537.6M527 568.8L529.9 532.3M529.9 532.3L544 579.6M496.4 599.8L565.5 564.5M529.9 532.3L500.4 533.2M483.8 554.5L544 579.6M591.2 552.2L546 550.7M483.8 554.5L500.4 533.2M554.7 617.3L546 550.7M515.9 508.4L565.5 564.5M527 568.8L496.4 599.8M529.9 532.3L554.7 617.3M520.6 592.5L586.3 579.3M591.2 552.2L513 553.1M513 553.1L586.3 579.3M536.4 604.7L565.5 593.1M586.3 579.3L500.4 533.2M512.4 617.3L536.4 604.7M481.2 517.7L500.4 533.2M527 568.8L481.2 517.7M515.9 508.4L544 579.6M513 553.1L500.4 533.2M515.9 508.4L500.4 533.2M544 579.6L546 550.7M455.5 574.7L529.9 532.3M565.5 564.5L546 550.7M544 579.6L513 553.1M544 579.6L568.2 537.6M565.5 564.5L513 553.1M565 512.8L544 579.6M529.9 532.3L459.3 538.5M529.9 532.3L481.2 517.7M544 579.6L565.5 593.1M520.6 592.5L483.8 554.5M544 579.6L591.2 552.2M512.4 617.3L546 550.7M565.5 564.5L565.5 593.1M536.4 604.7L541 504.6M512.4 617.3L513 553.1M520.6 592.5L459.3 538.5M500.4 533.2L546 550.7M513 553.1L459.3 538.5M529.9 532.3L536.4 604.7M512.4 617.3L493.7 573.5M493.7 573.5L586.3 579.3M527 568.8L546 550.7M527 568.8L565 512.8M472.4 590.1L544 579.6M493.7 573.5L544 579.6M493.7 573.5L500.4 533.2" stroke="#e4ecbc" stroke-width="0.35" fill="none" opacity="0.9"/>
<path d="M541 504.6L529.9 532.3M565 512.8L529.9 532.3M565.5 593.1L554.7 617.3" stroke="#a8c0d0" stroke-width="0.4" fill="none"/>
<path d="M565.5 593.1L554.7 617.3" stroke="#c8a8d0" stroke-width="0.5" fill="none"/>
<circle cx="515.9" cy="508.4" r="8.3" fill="#a9d0e6"/>
<circle cx="541" cy="504.6" r="8.3" fill="#5a9ecb"/>
<circle cx="565" cy="512.8" r="8.3" fill="#4a90c4"/>
<circle cx="481.2" cy="517.7" r="8.3" fill="#6aa8d2"/>
<circle cx="500.4" cy="533.2" r="8.3" fill="#e6b3b8"/>
<circle cx="529.9" cy="532.3" r="8.3" fill="#f05055"/>
<circle cx="568.2" cy="537.6" r="8.3" fill="#e5d5dc"/>
<circle cx="459.3" cy="538.5" r="8.3" fill="#5a9ecb"/>
<circle cx="483.8" cy="554.5" r="8.3" fill="#a0cce4"/>
<circle cx="513" cy="553.1" r="8.3" fill="#f03c40"/>
<circle cx="546" cy="550.7" r="8.3" fill="#7ab4d8"/>
<circle cx="591.2" cy="552.2" r="8.3" fill="#e5d5dc"/>
<circle cx="565.5" cy="564.5" r="8.3" fill="#d5eaf4"/>
<circle cx="527" cy="568.8" r="8.3" fill="#b0d4e8"/>
<circle cx="493.7" cy="573.5" r="8.3" fill="#ee7478"/>
<circle cx="455.5" cy="574.7" r="8.3" fill="#7ab4d8"/>
<circle cx="544" cy="579.6" r="8.3" fill="#e2c0c6"/>
<circle cx="586.3" cy="579.3" r="8.3" fill="#d0e6f2"/>
<circle cx="472.4" cy="590.1" r="8.3" fill="#e2d0d4"/>
<circle cx="520.6" cy="592.5" r="8.3" fill="#ee6468"/>
<circle cx="565.5" cy="593.1" r="8.3" fill="#d5eaf4"/>
<circle cx="496.4" cy="599.8" r="8.3" fill="#bcdcec"/>
<circle cx="536.4" cy="604.7" r="8.3" fill="#e2c4ca"/>
<circle cx="512.4" cy="617.3" r="8.3" fill="#7db5d8"/>
<circle cx="554.7" cy="617.3" r="8.3" fill="#3f86be"/>
<text x="515.9" y="510.2" font-size="5.2" font-family="'Liberation Sans',sans-serif" text-anchor="middle" fill="#222">FGFR1</text>
<text x="541" y="506.40000000000003" font-size="5.2" font-family="'Liberation Sans',sans-serif" text-anchor="middle" fill="#222">TEK</text>
<text x="565" y="514.5999999999999" font-size="5.2" font-family="'Liberation Sans',sans-serif" text-anchor="middle" fill="#222">HSD17B1</text>
<text x="481.2" y="519.5" font-size="5.2" font-family="'Liberation Sans',sans-serif" text-anchor="middle" fill="#222">EPHB4</text>
<text x="500.4" y="535.0" font-size="5.2" font-family="'Liberation Sans',sans-serif" text-anchor="middle" fill="#222">SRC</text>
<text x="529.9" y="534.0999999999999" font-size="5.2" font-family="'Liberation Sans',sans-serif" text-anchor="middle" fill="#222">EGFR</text>
<text x="568.2" y="539.4" font-size="5.2" font-family="'Liberation Sans',sans-serif" text-anchor="middle" fill="#222">PGR</text>
<text x="459.3" y="540.3" font-size="5.2" font-family="'Liberation Sans',sans-serif" text-anchor="middle" fill="#222">RARB</text>
<text x="483.8" y="556.3" font-size="5.2" font-family="'Liberation Sans',sans-serif" text-anchor="middle" fill="#222">CASP7</text>
<text x="513" y="554.9" font-size="5.2" font-family="'Liberation Sans',sans-serif" text-anchor="middle" fill="#222">MMP9</text>
<text x="546" y="552.5" font-size="5.2" font-family="'Liberation Sans',sans-serif" text-anchor="middle" fill="#222">TGFBR1</text>
<text x="591.2" y="554.0" font-size="5.2" font-family="'Liberation Sans',sans-serif" text-anchor="middle" fill="#222">MAPK14</text>
<text x="565.5" y="566.3" font-size="5.2" font-family="'Liberation Sans',sans-serif" text-anchor="middle" fill="#222">MAP2K1</text>
<text x="527" y="570.5999999999999" font-size="5.2" font-family="'Liberation Sans',sans-serif" text-anchor="middle" fill="#222">ADAM17</text>
<text x="493.7" y="575.3" font-size="5.2" font-family="'Liberation Sans',sans-serif" text-anchor="middle" fill="#222">JUN</text>
<text x="455.5" y="576.5" font-size="5.2" font-family="'Liberation Sans',sans-serif" text-anchor="middle" fill="#222">CDK6</text>
<text x="544" y="581.4" font-size="5.2" font-family="'Liberation Sans',sans-serif" text-anchor="middle" fill="#222">MAPK1</text>
<text x="586.3" y="581.0999999999999" font-size="5.2" font-family="'Liberation Sans',sans-serif" text-anchor="middle" fill="#222">NR3C1</text>
<text x="472.4" y="591.9" font-size="5.2" font-family="'Liberation Sans',sans-serif" text-anchor="middle" fill="#222">ANXA5</text>
<text x="520.6" y="594.3" font-size="5.2" font-family="'Liberation Sans',sans-serif" text-anchor="middle" fill="#222">CASP3</text>
<text x="565.5" y="594.9" font-size="5.2" font-family="'Liberation Sans',sans-serif" text-anchor="middle" fill="#222">PRKACA</text>
<text x="496.4" y="601.5999999999999" font-size="5.2" font-family="'Liberation Sans',sans-serif" text-anchor="middle" fill="#222">CTSB</text>
<text x="536.4" y="606.5" font-size="5.2" font-family="'Liberation Sans',sans-serif" text-anchor="middle" fill="#222">PPARG</text>
<text x="512.4" y="619.0999999999999" font-size="5.2" font-family="'Liberation Sans',sans-serif" text-anchor="middle" fill="#222">DPP4</text>
<text x="554.7" y="619.0999999999999" font-size="5.2" font-family="'Liberation Sans',sans-serif" text-anchor="middle" fill="#222">MYLK</text>
<text x="5.6" y="670.9" font-size="12" font-family="'Liberation Sans',sans-serif" font-weight="bold" fill="#111">I</text>
<text x="167.4" y="682" font-size="6.4" font-family="'Liberation Serif',serif" font-weight="bold" text-anchor="middle">RMSD-LIG</text>
<text x="167" y="777.8" font-size="5.7" font-family="'Liberation Serif',serif" font-weight="bold" text-anchor="middle">Time (ps)</text>
<text transform="translate(36.3 724.8) rotate(-90)" font-size="5.7" font-family="'Liberation Serif',serif" font-weight="bold" text-anchor="middle">RMSD (nm)</text>
<path d="M52.4 737.8l.1 2.9 0-6 .1-3.8 0-4 .1 5.7 0 3.7 .1 1.3 0-8.6 .1-5 0 7.7 .1 8.4 .1-1.5 0-14.4 .1 7.9 0 10.8 .1-9.2 0 6 .1-3 0-.8 .1 1.3 .1-7.1 0 3.4 .1 3 0-5.6 .1-2.4 0 13.9 .1-7.8 0-9.8 .1 9.3 0 6.3 .1-7.4 .1 .3 0 1.5 .1 4.2 0-3.7 .1 3.9 0 1.5 .1-8.9 0 7.5 .1-3.1 0-7.1 .1 15.2 .1-12.8 0 7.8 .1-6.4 0-.1 .1 11.4 0-9.8 .1 .1 0-6.9 .1 12.1 .1-10.8 0 18.9 .1-12.9 0 2.8 .1-12.8 0 4.9 .1-10.5 0 10.1 .1-1.2 0 .1 .1 8.1 .1-3 0-8 .1 9.8 0-3.3 .1 1.2 0-3.6 .1 5.5 0-1.2 .1-2.2 0 .8 .1 5.4 .1-9.9 0 12.3 .1-.5 0 .4 .1-12.6 0 7.4 .1 3.5 0 .9 .1-8.8 .1 8.3 0 1.2 .1-10.6 0 2.6 .1 2.7 0-1.8 .1 2.5 0-2.2 .1-7.9 0 10.5 .1 4.1 .1 3.3 0-9.2 .1 .8 0-3.5 .1 4.1 0 .1 .1 1.4 0-1.2 .1-3.8 0 3 .1-2.7 .1-12 0 9.9 .1 11.5 0-18.6 .1 7.8 0 7.3 .1-10.4 0 5 .1 3.5 .1 .1 0 2 .1-5.8 0-5.8 .1 7.9 0-2.7 .1-9.7 0 17.3 .1-8.2 0 3.1 .1 4.3 .1-1.6 0-4.3 .1-2.5 0 5.4 .1-3.3 0-7.2 .1 5.8 0-3.2 .1 2.3 0-.2 .1-7.5 .1 6.8 0 2.7 .1-3.2 0 9.1 .1-3.3 0-6.3 .1 .9 0-5.2 .1 8.7 .1 8.2 0-19.1 .1 4.8 0 12.1 .1-13.7 0 7.5 .1 10.4 0-7.8 .1 .4 0-11.8 .1 13.4 .1-9 0 6.1 .1 .6 0 3 .1-6.4 0-4.8 .1-15.8 0 27.1 .1 1.2 0-7.1 .1 4.6 .1-.4 0 5.9 .1-20.4 0 5.8 .1 10.6 0-10.6 .1-2.4 0 20.9 .1-10.3 .1-.9 0-5.8 .1 4.3 0 .6 .1-1 0-10.7 .1-1.8 0 15.1 .1 2.3 0-20.4 .1 20.7 .1-2.3 0-3.5 .1-2.5 0-3 .1 3.5 0 7.1 .1-7.7 0 1.4 .1-29 0 30.5 .1 2.5 .1 3.3 0-14 .1 11.1 0 8.8 .1-8.5 0-3.3 .1-6.7 0 12.4 .1-9.5 .1-.7 0 8.4 .1-2.9 0-11 .1 .3 0 4.9 .1 2.9 0-4.5 .1 7.1 0-.2 .1 4.3 .1-4.9 0 .5 .1-16 0 16.6 .1-8.2 0-.3 .1 8.5 0-7.6 .1 18.7 .1-12.7 0-4.3 .1 18.3 0-7 .1-12.4 0 7.3 .1 4.8 0-4.1 .1 .9 0-7.1 .1 1.5 .1 4.2 0 2.1 .1-3.4 0-7.8 .1 5.5 0-1.6 .1 4.4 0 6.4 .1-14 0 3.1 .1 3.1 .1-.6 0 10.2 .1-9.7 0-19.9 .1 22.5 0-.1 .1-3.5 0 0 .1-3.8 .1 .2 0-4.6 .1 5.3 0 6.4 .1-1.6 0-3.1 .1 4.5 0-4.8 .1-3.4 0 11 .1 5.4 .1-16.6 0 6.6 .1-3.9 0 11.5 .1-17.3 0 5.6 .1 4.9 0 1.2 .1-2.6 0 1.6 .1 .6 .1 4.7 0-13.3 .1 7.3 0-.7 .1-.1 0 13.8 .1-16.2 0 4.8 .1-.2 .1-2.1 0 5.9 .1-10.2 0 8.6 .1 1.2 0-.2 .1-5.8 0-3.3 .1 7.6 0 5.1 .1-14.5 .1 12 0-12.7 .1 7 0 3.6 .1-.3 0-6.2 .1-2.4 0 6.1 .1-6.4 0-6.4 .1 12.8 .1 5.3 0-.5 .1 1.9 0-4.2 .1 .4 0 3.4 .1-10.4 0 17.6 .1-7.2 .1-18.8 0 5.5 .1 2.9 0 .4 .1-7.4 0 6.9 .1 2.6 0 7.4 .1-6.5 0 3.7 .1-.2 .1 0 0-3.7 .1 1.6 0-6.8 .1 12.4 0-6.5 .1-11.4 0 10.2 .1-6.5 0 .3 .1-1 .1 3.3 0 11.9 .1-6.3 0 .6 .1 6.6 0-6.1 .1 4.4 0 2.4 .1-10.6 .1 1.4 0 3.7 .1 1.4 0-2.3 .1-.8 0 .1 .1-2 0 2.1 .1-4.6 0-.8 .1 1 .1 5.7 0-.3 .1-5.9 0 3.6 .1-.9 0 13.8 .1 1.1 0-17 .1 0 0-6 .1 3.8 .1 2.8 0 1.2 .1 8.1 0-13 .1 8.3 0-6.2 .1 1.7 0-.4 .1-3.5 .1 7.8 0-.6 .1 2.7 0-2.7 .1-11.5 0 11.4 .1-8.7 0 2 .1 .5 0-.4 .1 10.2 .1-7.8 0-6.8 .1 12.8 0-3.6 .1 3.6 0-5.6 .1 7.8 0-15.1 .1 11.1 0 6.6 .1-18.7 .1 4.6 0 2.5 .1-.1 0 5 .1-.7 0-5.3 .1-1.1 0-.1 .1-21.2 .1 29 0-1.5 .1-7.3 0-1.9 .1 10 0 .8 .1-9 0 2.2 .1 .2 0 11.3 .1-5.3 .1 .8 0-4.1 .1 10.7 0-16.6 .1 5.4 0-.7 .1 9.1 0-6.5 .1-7.7 0 16.3 .1-10.5 .1-2.2 0 7.8 .1-8.5 0 6.5 .1-8.8 0 3.9 .1 1.7 0-10 .1 6.6 .1-2.6 0 14 .1-3.1 0-8.3 .1-.4 0 5.4 .1-4.7 0 10.3 .1-7.1 0 7.6 .1-8.3 .1 4.6 0 .9 .1-3.9 0-9.9 .1 15.9 0-2.3 .1-9.4 0 8.4 .1-12.3 0 8.7 .1 .7 .1-1.5 0-7.8 .1 6.1 0 .8 .1 1.5 0 10.2 .1-3.8 0-13.3 .1 3.7 .1 1.8 0-.8 .1 6.7 0-5 .1 7 0-7.3 .1 6.2 0-2.8 .1-3.7 0 4.3 .1-5.4 .1 1 0 .6 .1-5.4 0 15.7 .1 2.6 0-14.4 .1-1.8 0-6 .1 7.1 0-.5 .1 9.7 .1-9.2 0 .4 .1 9.7 0-2.7 .1-3.8 0-1 .1 18.2 0-17 .1-.9 .1 2.3 0-2.5 .1-10 0 17.2 .1-8 0 3.7 .1 3.9 0-6.5 .1-7.1 0 16.5 .1 1.1 .1 0 0-20.4 .1 12.5 0-1 .1 4 0 .9 .1 6.1 0-12.3 .1-.5 0 12.5 .1-5.2 .1-1.7 0-4 .1-1.5 0-5 .1-1.3 0 1.6 .1-1.5 0 14.1 .1-3.4 .1-9.6 0 4.8 .1 1.5 0 11.3 .1-.7 0-14.6 .1 2.2 0 3.6 .1 .7 0 7.4 .1-11.8 .1-3.8 0-3.4 .1 9 0 1.4 .1 5 0-13 .1 1.3 0 9 .1-5.1 0 1.2 .1 3.7 .1 10.8 0-12 .1-5.4 0 11.5 .1-3.4 0 13.7 .1-25.6 0 4.4 .1 2.5 .1 1.8 0 2.1 .1-3.2 0 1.3 .1-.3 0-1.2 .1-.9 0-8 .1 12.2 0-5 .1 5 .1 2.9 0 6.9 .1-16.7 0 9 .1-1.3 0 2 .1-.1 0-6.3 .1 .6 0-9.7 .1-1.2 .1 8.9 0-8.4 .1-8.7 0 13.2 .1 1.9 0-5.6 .1 11.2 0-8.3 .1-5.1 .1 8.2 0-13 .1 15.5 0-5.3 .1 3.9 0 .8 .1 2.8 0-3.2 .1-2.8 0 4.2 .1-9.4 .1-3.6 0 17.1 .1-13.3 0 3.7 .1-.3 0-12.5 .1 7.1 0 4.9 .1 .8 0 13.2 .1-16.5 .1 8.5 0-5.2 .1 .5 0-4.9 .1-6 0 5.9 .1-1.6 0 8.4 .1-3.8 .1-1.8 0 12.4 .1-19.5 0 15.4 .1 3.2 0-16.3 .1-2.8 0 15.9 .1-.5 0-12.2 .1 8.1 .1 11.8 0-7.7 .1-14.7 0 7.6 .1-.6 0-2.6 .1 3.1 0 5.6 .1 7.1 .1-11.4 0 8.7 .1-5.9 0-10.2 .1 6.9 0 2.7 .1-.1 0-3.7 .1-1.1 0 12.6 .1-8.4 .1-8.6 0 5.4 .1 8.5 0-.5 .1 7.8 0-7.1 .1-13.5 0 9.4 .1 4.4 0-1.5 .1-2.6 .1-.1 0 1.4 .1 2.4 0-7.9 .1-5.1 0 11.8 .1-.1 0-9.7 .1 10.6 .1-.6 0-1.2 .1-3.1 0 2.5 .1 3.5 0-6.8 .1 8.5 0 3.1 .1 1.6 0-15.6 .1 14 .1-12.3 0-1.3 .1-.7 0 5.5 .1 2.1 0-3.6 .1 3.9 0 3.9 .1 .3 0-2.5 .1-15.1 .1 7.1 0 5.5 .1-5 0-4.5 .1 14.7 0-2.5 .1 .7 0-6.9 .1-1.3 .1 2.1 0 4.3 .1-1.2 0-9.6 .1 .4 0 5.6 .1 8.1 0-16.4 .1 7.4 0 .2 .1-8.3 .1 5.1 0 10.1 .1-.1 0-13.1 .1 6.6 0-3.9 .1 5.6 0 4.8 .1-7.2 0-8.3 .1 7.9 .1 8.2 0-4.6 .1 1.1 0-3.8 .1-4.8 0-5.4 .1 9.8 0 3.7 .1-2.9 .1 .4 0 2.4 .1-2.5 0-3.1 .1 9.9 0-9.7 .1-.7 0 9.3 .1-8.3 0 5.5 .1-12.5 .1 7.1 0 2.3 .1 4.7 0-2 .1-7 0 8.6 .1-8.1 0 16.1 .1-12.9 0-3.5 .1 2.7 .1 2 0-5.7 .1 10.5 0 .7 .1-6.1 0-6.2 .1 4.4 0 3.5 .1-2.8 .1-.8 0 9.5 .1 8.8 0-10 .1 2.6 0-5.1 .1 3.5 0-1.9 .1-7.3 0 1.9 .1 .6 .1-9.4 0 11.9 .1-.5 0-9.2 .1 13.3 0 2.9 .1-16.5 0 5.5 .1-1.5 0-.2 .1-1.5 .1 7.7 0-1.3 .1-9.2 0 7 .1-.5 0 3.9 .1-6.3 0-12.9 .1 23.1 .1-11.2 0-.6 .1-.7 0 10.5 .1-11.3 0 3.1 .1 4.3 0 1.2 .1-3.3 0-3.8 .1 .2 .1-7.9 0 14.8 .1-5.4 0 5.9 .1-6.9 0 3.7 .1 21.3 0-13.1 .1-3.1 0-5.7 .1-6.9 .1 3.9 0 11.1 .1-19.5 0 12.6 .1 1 0-1 .1-3.9 0 3.2 .1 5.1 .1 7 0-8.8 .1 7.5 0-8.4 .1-2.6 0 9.3 .1-6.6 0 18.6 .1-30 0 8.2 .1 13.2 .1-13 0 .2 .1 3.5 0 1 .1-5.5 0-.3 .1 1.3 0 8.1 .1-4.2 0 7.4 .1-.3 .1-5.3 0 2.8 .1-3.5 0-16.3 .1 11.2 0 7.8 .1 7.2 0-10.3 .1 6.3 .1 4.3 0-16.4 .1 6.8 0-5.2 .1-14.8 0 15.8 .1 .9 0-1.3 .1 3.4 0 3.2 .1-3.4 .1-7.7 0 8 .1 6.2 0-.7 .1-1.3 0-5.8 .1-2.7 0 0 .1-4 0 7.8 .1-5.8 .1 2.8 0-2.2 .1 14.3 0-17.4 .1 15.7 0-2.4 .1-10.7 0 6.5 .1-12.2 .1 9 0 6.7 .1-6.7 0 3.2 .1-11 0 19.2 .1-14.7 0 6.5 .1-2.8 0-5.4 .1 10.4 .1-11 0 1.7 .1 .6 0 5.5 .1 .2 0 9.4 .1-17.6 0 7.3 .1 7.4 0-1.7 .1-1.3 .1-14.6 0 5.7 .1 11.4 0-17.9 .1 2.9 0 13.4 .1 9 0-20.3 .1 8.8 .1-2.6 0 2.2 .1-10.1 0-1.2 .1 3.8 0 5.4 .1-2.3 0-2.1 .1 12.4 0-15.8 .1 8.7 .1-3.2 0 .7 .1-4.3 0-1 .1-6.4 0 14.4 .1 3.1 0-5.8 .1 8.6 0-12.7 .1 9.3 .1 1 0-10.8 .1-.4 0 4.5 .1-6.7 0 .7 .1 16.7 0-11.5 .1 1 .1 2.7 0 1.9 .1-3.9 0-6.3 .1 5 0-6.1 .1 2.1 0 8.9 .1 .9 0-9 .1 8.7 .1-4.8 0-1.8 .1-3.1 0 2.3 .1-4.6 0 10.7 .1-6.4 0 7.5 .1-4.7 0 .3 .1-4.4 .1 14.8 0-15 .1 3.3 0 1.2 .1 4.8 0-2.1 .1-7.3 0-8.8 .1 7.7 .1 5.9 0 5.3 .1-8.1 0 7 .1-4.7 0 11.4 .1-8.2 0-5.1 .1-.8 0 4.1 .1-3.5 .1 3 0-9.7 .1 11.5 0-.4 .1-.1 0 10.2 .1-2.5 0-11.6 .1 4.9 0-9.7 .1 8.3 .1 .5 0-6.7 .1 4.2 0-7.5 .1 15 0-8.4 .1-1.4 0 .7 .1-3.3 .1 .7 0 5.5 .1 3.4 0-8.7 .1 5.2 0-5.1 .1-2.2 0 6.4 .1 6.2 0-3.7 .1-5.8 .1 5.7 0-8 .1 6.4 0-.5 .1 4.2 0-3 .1-6.7 0 8.1 .1 0 0 2.5 .1-8.7 .1 12.9 0-4.9 .1-8.7 0-2.9 .1 9.3 0-6.7 .1 16.6 0-15.4 .1 2.6 .1 8.6 0 3.1 .1-7.1 0-4.3 .1-.6 0 1.4 .1-3.7 0 .4 .1 11.7 0-5.6 .1 .8 .1-12.2 0 12.1 .1-8.4 0 5.1 .1-12.7 0 13.5 .1-.3 0 .7 .1-1.5 .1-12.8 0 16.5 .1 2 0-3.7 .1-4.9 0 9.3 .1-10 0 .2 .1 5.2 0 .5 .1 3 .1-2.8 0 2.9 .1-11.4 0-2.2 .1 10.8 0-1.4 .1 10.4 0-7.6 .1-4.9 0 .4 .1 .8 .1-4 0 4.2 .1 2.7 0-11.1 .1 17.7 0-2.2 .1-2.4 0 0 .1 .2 .1-3 0 2.7 .1-3.6 0-3.6 .1 3.1 0-.6 .1 6 0 1.2 .1-4.7 0-6.9 .1 3.1 .1-17.4 0 14 .1-.7 0 10.8 .1-11.5 0 2.7 .1-7.3 0 8.3 .1 1.5 0 2.5 .1-1.6 .1 10.1 0-7.8 .1-1.2 0-5.7 .1 9.2 0-4.6 .1-9.3 0 13.2 .1-7.7 .1 7.7 0-2.4 .1-3.1 0-2.4 .1 7.7 0 2.9 .1-14.1 0 7.4 .1-3.4 0-.6 .1 .8 .1 5.7 0-.7 .1 7.9 0-9.6 .1 3.6 0-2.5 .1-10.5 0 6.6 .1 3.5 0 7.9 .1-11.6 .1-4.4 0 13 .1-6.9 0 5.2 .1-2 0 1.2 .1 6.9 0-6.1 .1 6.1 .1-16.6 0 1.9 .1 5.5 0-1.3 .1 1.3 0-.8 .1 0 0 2.4 .1-.4 0 6.6 .1-1.9 .1-2.2 0-4.5 .1 3.2 0-12.5 .1 11.5 0 1 .1-5.6 0-2.1 .1-4.5 0 4.9 .1 8.6 .1-2.3 0-6.7 .1 4.4 0-4.3 .1 6.1 0-9.2 .1 .9 0 1.8 .1 5.3 .1 9.8 0-1.5 .1-9.2 0-1.7 .1 19.6 0-13.4 .1-8.9 0 1.1 .1 8 0-6.2 .1 3.4 .1 1.3 0-7.3 .1-.1 0 9.2 .1 2.4 0 2 .1 .6 0-15.1 .1-8.4 0 14.7 .1-4.6 .1 9.6 0-3.4 .1-5.3 0 3.3 .1 2 0 9 .1-1.2 0-5.6 .1 .8 .1-2.6 0 3.2 .1-2.3 0-1.4 .1-2.5 0 2.6 .1 3.4 0-1.4 .1-6.4 0 6.1 .1 2.4 .1 2.1 0-7 .1-1.4 0-.8 .1 5.8 0-9.3 .1 9.5 0-9.5 .1 10.9 0-5.9 .1-2.8 .1 6 0 2.6 .1 5.8 0-9.1 .1 2.7 0-.7 .1-1 0 4.9 .1-2.4 .1-4.7 0-2.7 .1 5.4 0 13.6 .1-12.5 0-.3 .1 6.9 0-12.2 .1 1.6 0-4.6 .1 11.4 .1-4 0 5.8 .1-6.3 0 2.1 .1-4.3 0 4.5 .1-4.2 0 6.2 .1-.9 0 0 .1 .8 .1-2.8 0-1.5 .1 9.7 0 .7 .1-9.3 0-4.5 .1 16.7 0-1.8 .1-5 .1-5.9 0 .7 .1-4.4 0-.9 .1-6.5 0 20.8 .1-7.6 0-6 .1 12.6 0 .9 .1-8.8 .1-4.8 0-.9 .1 16.5 0-3.1 .1-6.1 0 2.4 .1-4.7 0 1 .1-8.8 0 9.9 .1-1.4 .1 .6 0-5.7 .1 12.1 0-8.2 .1 6.3 0 3.4 .1-14.2 0 3.5 .1-4.8 .1 6.2 0-2.2 .1 2.8 0-2.5 .1 5.3 0-11.6 .1 14.1 0-14.3 .1 10.4 0-5.9 .1 3.9 .1-1.7 0-5.8 .1 7.3 0-9.3 .1 8.6 0-2.3 .1 16.9 0-18.9 .1-.7 0 15.7 .1-9 .1-5.4 0 10.8 .1-4.1 0-.6 .1-5 0-3.1 .1 6.2 0-.6 .1-4.8 .1 2 0 3.6 .1-8 0 15 .1-10.5 0 4.9 .1 .4 0-3.9 .1 .8 0-13.5 .1 10 .1 1.5 0-7.2 .1 3.4 0 11.9 .1-7 0-3.5 .1 7.4 0-5.1 .1 4.1 0-4.6 .1 11 .1 1.7 0-7.7 .1-4.4 0-6.1 .1 8.8 0 2.6 .1-16.1 0 11.7 .1-9.9 .1 10.5 0 4.5 .1-.7 0 .8 .1 2.4 0-3.4 .1-.5 0-2.3 .1 1.5 0-5.4 .1 0 .1 1.2 0-.1 .1 11.5 0-1.2 .1-4.4 0-6.3 .1 9.5 0-5.8 .1-3.7 0-9.7 .1 9.6 .1 4.4 0-9.1 .1 4.9 0 2.8 .1-7.8 0 11.2 .1-6.1 0 .6 .1-4.6 .1 11.4 0 .8 .1-5 0-.7 .1-1.7 0 2.3 .1-4.5 0-1.5 .1 2.6 0 7.1 .1-15.4 .1 18.1 0-7.4 .1-6.1 0 8.4 .1-10.6 0-3.5 .1 1.9 0 6.3 .1-3 0 8.3 .1-5.1 .1-.3 0 2 .1-.3 0 2 .1 9.8 0-13.2 .1 .5 0-9.7 .1 7.4 .1 3.6 0-4.5 .1 1.4 0 3.6 .1 2 0 6.1 .1-8.9 0-8.4 .1 19.5 0-5.1 .1-9.6 .1 3.2 0-1.3 .1 12.7 0-7 .1-6.2 0-.4 .1 1.6 0 6.6 .1-8 0 9.7 .1-1.4 .1 1.3 0-14.6 .1 10.4 0-2.7 .1 12.6 0-18.4 .1 .9 0 14.5 .1-.3 .1-18.2 0 14.5 .1-15.6 0 13 .1 11.2 0-20.1 .1 3.4 0-1 .1 6.7 0-1.7 .1-6.5 .1 9.9 0 6.5 .1-5 0-2.6 .1-10.6 0 9.8 .1-.3 0-1 .1 11.8 .1-24.3 0 14.7 .1-2.5 0-9.3 .1 7.6 0-4.4 .1 3.1 0-2.4 .1 2.8 0-5 .1 7.7 .1-3.8 0 6.6 .1-14.9 0 23.1 .1-13.2 0-1 .1 .1 0 1.9 .1-7.5 0-4.4 .1 15.2 .1 7.4 0-4.6 .1-1.6 0-3.8 .1-.4 0-6.4 .1 8.5 0-2.2 .1-.9 .1 5.6 0-3.2 .1-17.2 0 16 .1 4.9 0 6.8 .1-18.1 0 7.7 .1 1.7 0-17.3 .1 5.7 .1 17.7 0-7.7 .1-7.6 0 .9 .1 11 0-16.2 .1-.5 0 16.7 .1 3.6 0-2.1 .1-11.5 .1-2.3 0 5 .1 4.4 0-2.8 .1-3.7 0 9.9 .1 2.8 0-9.1 .1-7.4 .1 5.9 0-.1 .1 4.9 0-8.9 .1 14.7 0-9.2 .1 3 0-2.5 .1 4.3 0-9.4 .1 4.7 .1 2.9 0-6.2 .1 3.1 0 2.7 .1 .4 0-17.3 .1 19.2 0-7.8 .1-4.2 0 5 .1 2.8 .1-13.2 0 22 .1-13.2 0 3.5 .1-6.4 0 15.4 .1-16 0 14.6 .1-11.6 .1 1 0 2.7 .1 4.3 0 .4 .1-1.9 0 1.6 .1 6.7 0-.8 .1-14.7 0-.1 .1 1.7 .1 2.6 0-1.9 .1-.6 0 1.4 .1 5.8 0-.3 .1 2.3 0-7.3 .1 6.4 0-4.7 .1-8.3 .1 9.5 0-7.6 .1-3.3 0 19 .1-2.2 0-10.7 .1 6.6 0-7 .1-.9 .1 6.8 0-7.5 .1-5.2 0 4.4 .1 10.3 0-10.3 .1 8.4 0-11.9 .1 9.9 0 2.8 .1-4.1 .1-2.7 0 5 .1-2.7 0 .6 .1-4.2 0-1.3 .1 3.9 0 4.2 .1-5 0 7.3 .1-11 .1 4 0 .6 .1 15 0-26.9 .1 5.1 0 1 .1 6.4 0-3.1 .1-12.3 .1 19.9 0-8 .1 9.3 0-6 .1-1.2 0 7.5 .1 2.8 0-1 .1-17.7 0 5.8 .1 9.3 .1-3.6 0-1.8 .1-2.3 0 15.8 .1-22.4 0 7.9 .1 4.1 0 5.2 .1-7.2 0 6.3 .1-10.6 .1-2.3 0 5.7 .1-2.4 0-5.4 .1 4.5 0 4.9 .1-4.9 0 6.4 .1-5.5 .1 2.3 0 6.4 .1-9.5 0 2.9 .1-3.7 0 11.6 .1-13.7 0-.2 .1 8.4 0-1.4 .1-.8 .1 .4 0-4.8 .1 8.7 0 2.4 .1-5.1 0-12 .1 12.9 0 3.4 .1-.4 0-6.1 .1-5.7 .1 18.7 0-13 .1-.2 0-20.1 .1 20.4 0-5 .1 2 0 7.3 .1-17.1 .1 21.3 0-.2 .1-13.3 0 4.8 .1 2.5 0-2.6 .1-2.7 0 6.2 .1 1.2 0 2.4 .1-1.1 .1-.3 0-11 .1 4.9 0-1.5 .1 6.2 0-9 .1 14.7 0-11.5 .1-1.2 0 7.1 .1-1.7 .1-4.4 0 6.9 .1 1 0-4.9 .1 6.2 0-5.5 .1-12.2 0 13.9 .1-7.6 .1 11.1 0-6.4 .1 2 0-.6 .1-5.2 0-7.8 .1 12.8 0-8 .1 5.3 0-2.1 .1 6.7 .1 1.4 0-2.8 .1 3.2 0-4.3 .1 5.9 0-5.9 .1-1 0-9.2 .1 .5 0 6.9 .1 5.7 .1-6.2 0-1.2 .1 5.7 0 3.7 .1 5.3 0-9.8 .1-11 0 12 .1-3.3 .1 .1 0-.6 .1-1.6 0 15.6 .1-10.4 0-2.9 .1 2.6 0-7.3 .1 9 0-9.7 .1-2.2 .1 11.3 0-1.5 .1 1.8 0-5.9 .1 16.4 0-3.8 .1-6.5 0-6.5 .1 1.6 0 8 .1-13.6 .1 8.5 0 4.1 .1-6.4 0-4.3 .1 7.8 0 8.2 .1-5.4 0-3.5 .1-4.7 .1 8.2 0-4.3 .1 8.2 0-7 .1 8 0-4.8 .1 2.6 0 .4 .1 3.5 0 2.2 .1-17.9 .1 .4 0 4 .1 4.7 0-10.1 .1 9.9 0-3.9 .1-4 0 5.3 .1-7 0 9.2 .1 .1 .1-1.5 0 7.3 .1-.4 0-10.3 .1 14.1 0-16 .1 4.9 0-5.1 .1 2.5 .1 1 0-6.4 .1 10.3 0 .2 .1-6.8 0 10.1 .1-10.1 0-8.7 .1 18.1 0 4.4 .1 4.2 .1-21.8 0 27.7 .1-10.3 0-7.9 .1-1.4 0 1.5 .1 .8 0 2.9 .1 2.8 0-1 .1-7.5 .1-2.6 0-.6 .1 6.9 0 12.5 .1-15.5 0 3.7 .1 14.3 0-22.9 .1 6.5 .1 1.6 0-1.5 .1 .5 0-.7 .1 .6 0 .5 .1-3.1 0 1.3 .1-11.7 0 12.7 .1 3.7 .1 .4 0-5.6 .1 1.4 0-.7 .1 2.5 0-.2 .1-5.3 0-3.5 .1 5.7 0 2.4 .1 5.9 .1 0 0-6.9 .1 1.6 0-.9 .1 5.7 0-5.6 .1 10.2 0-4.3 .1-2.3 .1-7.9 0 6.7 .1 1.8 0-6.9 .1 2 0-5.8 .1 3.3 0 .6 .1 2.2 0-4.9 .1 7.8 .1 4.4 0-13.8 .1 7.7 0-7.4 .1 1.1 0-2.3 .1 22 0-10.6 .1-12.9 .1 16.5 0-12.4 .1 4.7 0 2.8 .1-4.3 0 8.7 .1-11.9 0-4.4 .1 14.6 0-4.4 .1-10.6 .1 4.6 0 3.8 .1-9.9 0 17.4 .1-8 0-2.1 .1 2.2 0-6.3 .1 13.8 0-9.7 .1 4.6 .1-11.2 0 .8 .1 10 0 1.9 .1-6 0 4.6 .1-1.7 0-5.7 .1 4.9 .1-12.8 0 9.8 .1 3.3 0 3.3 .1-3.5 0-9.2 .1 3.1 0-5 .1 .7 0 4.2 .1 7 .1-3.1 0-1.3 .1 9.7 0-11.2 .1 7.6 0-5.4 .1 2.4 0-6.2 .1-13 0 23 .1-6.7 .1-11.7 0 16.8 .1-4 0-.7 .1-2.4 0 10.9 .1-10.9 0-1.7 .1-11 .1 14.8 0 2.8 .1-4.1 0 15.5 .1-16.6 0-7 .1 9 0 0 .1 1.2 0-2.2 .1 14.1 .1-25.4 0 14.6 .1 0 0-12 .1 9.2 0 2.5 .1-11.7 0 6.9 .1-2.9 0 8.5 .1 6.7 .1-11 0-7.1 .1 10.7 0-4.7 .1-2 0 2.6 .1 1 0-3.9 .1 3.1 .1 4.2 0-9 .1 1.4 0 2.4 .1-1.9 0 18.9 .1-16.4 0 1.3 .1 11.4 0-22.9 .1 9.7 .1 4.5 0-.4 .1-3.6 0 1.6 .1 9 0-6.9 .1-4.8 0-.9 .1-1.5 0 10.9 .1-2.4 .1-5.7 0 5.5 .1-4.6 0 5.9 .1-8.1 0 3 .1-3 0 3.1 .1 4.6 .1 2.5 0-7.2 .1 3.7 0 4.9 .1-5.3 0-7.5 .1-2.6 0 2.7 .1-3.4 0 9.8 .1-1.3 .1 4.5 0-1 .1-13.5 0 6.7 .1-1.3 0-11 .1 3.8 0 15.8 .1-10.5 0 9.8 .1-9.8 .1 16.2 0-5.4 .1-.1 0-16.5 .1 21.4 0-16.4 .1 .2 0 5.4 .1-4 .1-9.9 0 13.2 .1 3 0-14.2 .1 8.2 0 10.9 .1-7.6 0-.5 .1 8.1 0-1.1 .1-1.7 .1 3.1 0-9.7 .1 1.2 0 14.3 .1-10.2 0-3.3 .1 8.6 0-6.1 .1-3.2 0 11.3 .1-7.9 .1 11.7 0-31.1 .1 21.9 0 4 .1 2.3 0-1.1 .1-16.6 0 12.1 .1-1.6 .1-.9 0 6.3 .1-12.9 0 18.6 .1-19.3 0 9.4 .1-4.5 0-1.5 .1-3.1 0 15.8 .1-14.5 .1 3.8 0 1.2 .1 .2 0-8 .1 3.7 0-4.6 .1 2 0 16.6 .1-10.8 0-6.3 .1 10.9 .1 4.5 0 3.5 .1-24.5 0 16.6 .1-6.2 0 7.1 .1-8.6 0-7 .1 17.8 .1-8 0 4 .1 6.4 0-5.6 .1-5.3 0-6.9 .1-.3 0 7.4 .1 9.4 0-13.3 .1 3.9 .1 0 0 6.5 .1-5.7 0-12.2 .1 2.8 0 1.2 .1 3.5 0 6.1 .1-2.3 0-.9 .1-1.4 .1 4.3 0 2.9 .1-11.4 0 8.6 .1-3.6 0 2.5 .1-4.9 0 .9 .1-1.3 .1 .3 0 4.3 .1 7.4 0-7.5 .1-9.8 0 14.3 .1 1.6 0-19.4 .1 21.9 0-5.6 .1-.9 .1 1.5 0-.2 .1-9.9 0 5 .1 .2 0 10.5 .1-14 0 3.6 .1 0 0-3.8 .1 2.9 .1 2 0-2.6 .1 6.4 0 1.2 .1 2.5 0-13.2 .1 9.2 0-4.7 .1-5.4 .1-4 0 12.4 .1-3 0 .4 .1 8 0-4.7 .1-18.7 0 16.3 .1-10.5 0 5.8 .1-5.7 .1 2.4 0 6.3 .1 8.4 0-15.3 .1 4.2 0 1.3 .1-2.2 0 9.5 .1-5.3 0 .8 .1 8.4 .1-1.6 0-6.1 .1 10.8 0-15.8 .1-.2 0 4.9 .1-2.1 0 12.1 .1-11.4 .1-14.7 0 12.8 .1-2.4 0 5.6 .1-11.7 0 8.9 .1-11.3 0 7.6 .1 10.6 0 2 .1-10.9 .1 11.6 0-3.7 .1-9.1 0 11.9 .1-.6 0 1.5 .1-1.2 0-16.6 .1 7.5 0-2.3 .1 16.6 .1 2.6 0-7.1 .1-12.6 0-.7 .1 18 0-1.3 .1-13.7 0 2.3 .1-1.1 .1-1.3 0 9.6 .1-6.5 0 2.3 .1-8.8 0 9 .1 9.1 0-18.1 .1-3.1 0 4.8 .1 7.4 .1 3.6 0-11.2 .1 8.8 0-6 .1-1.5 0 5.2 .1 10.7 0-14.3 .1 8.6 0 3.2 .1-8.7 .1-1 0 1.3 .1-4.1 0 14.5 .1-14.2 0-6 .1 9.8 0 2.4 .1-1.9 .1-8 0 8.1 .1 3.4 0 5.2 .1-17.8 0-.1 .1 8.1 0-11.8 .1 14.1 0-6.4 .1 11.6 .1-1.7 0-5.7 .1-2.8 0-.8 .1 8.6 0-2.1 .1-2.3 0 .9 .1-5.4 .1-3.6 0-2 .1 17.2 0-18.1 .1 6.5 0-.8 .1-.1 0-3.4 .1 1.4 0 12.7 .1-13.7 .1 11.4 0-8.7 .1 1 0 10 .1-8.9 0 1.6 .1 2.3 0-15.4 .1 10.7 0 3 .1-12 .1 10.1 0 .6 .1 10.6 0-14.8 .1-2.3 0-5.2 .1 16.7 0-11.8 .1-2 .1 3.9 0 4.1 .1 9.4 0-10.5 .1 4.3 0 6.7 .1-13.3 0 4.1 .1 .6 0-12.6 .1 14.4 .1 8.8 0 .8 .1-15.7 0 4.3 .1 3 0 7.8 .1-7.3 0 1.7 .1-5.8 0 4.3 .1 .1 .1-4.7 0 4.2 .1-2 0 17 .1-12.4 0-14 .1 5.8 0 7.3 .1-5.1 .1 2.3 0-1.2 .1-4.4 0 4.7 .1-3.6 0 6 .1-.6 0 4.6 .1-5.1 0-1.3 .1-.6 .1-2.1 0-.2 .1-3.2 0 4.9 .1-8.7 0 4.1 .1-4.5 0 8.2 .1-7.2 0 6.4 .1 9.9 .1-9.3 0-6.2 .1 14.4 0-2.7 .1-2.2 0-16.4 .1 11.2 0-8.5 .1 5 .1-.9 0 1.6 .1 13 0-15.5 .1 12.8 0-8.2 .1 3 0-9.7 .1 2.3 0-3.6 .1 7.7 .1 2.7 0-4.3 .1-9.3 0 10.7 .1 2.7 0 7.2 .1-2.8 0-3.7 .1-4.3 0 .3 .1 4.1 .1-1.3 0-8 .1-1.7 0 3.6 .1-3.8 0 3.6 .1-3.3 0 17.4 .1-4.2 .1-4.7 0-.4 .1-5.4 0 18 .1-11.2 0-.7 .1 5.3 0-3 .1-6.5 0 3.1 .1 3.3 .1-1.9 0 1.9 .1-6 0 5.8 .1-6.1 0 8.7 .1-2.9 0 6.1 .1-5.2 0-5.9 .1 10.5 .1-3.8 0-2.5 .1 2.6 0-6.8 .1 11.8 0-11.9 .1-2.6 0-1.9 .1 9.7 .1 4.2 0 4.4 .1-12.8 0-.8 .1 3 0-.3 .1-1.8 0 5.8 .1 5.3 0 .7 .1-3.6 .1 .7 0 3.9 .1-6.6 0 3.4 .1-9.5 0 4.1 .1-4.9 0 12 .1-1.3 0 2.8 .1-10.6 .1-16 0 16.3 .1 3.7 0-3.6 .1 1.4 0-5.7 .1 5.5 0 5 .1 5.8 .1-12.8 0-3.7 .1 4.9 0 5.8 .1-2.5 0-.7 .1-5.1 0 3.7 .1-7 0 7.8 .1 2.5 .1-14.1 0 16.1 .1 2.5 0-19.9 .1 10.2 0-8.6 .1 24.3 0-21.3 .1 7.2 0-2.5 .1-.3 .1 18.4 0-15 .1-3.2 0-15.7 .1 22.5 0-17.6 .1 9.8 0-2.2 .1 11.2 .1-8.9 0 8.4 .1 2 0-14.1 .1 11.2 0-1.1 .1-6.8 0 8.5 .1 2.6 0-8.4 .1-.3 .1-7.1 0 15 .1-10.4 0-19.1 .1 25.6 0-1.5 .1-1 0 5.9 .1 1.7 0-11.5 .1 10.1 .1-.6 0-10 .1 7.6 0-.8 .1 5.6 0-.8 .1 .8 0 0 .1-14.8 .1 12.5 0 7.7 .1-6.8 0-10.3 .1 10.6 0-6.3 .1 5.1 0 4.7 .1-6.8 0 2.7 .1-6.8 .1-3 0 4.4 .1-15.3 0 20.9 .1-13.6 0 5.3 .1-5.6 0 4.9 .1 15.8 0-11 .1-12.2 .1 4.4 0 13.6 .1-4.4 0-4.9 .1-16 0 21.3 .1-4 0 5.9 .1 1.5 .1-3.8 0-10.6 .1 3.5 0 5.7 .1-1.4 0-3.2 .1-6.2 0 11.8 .1-.8 0-5.3 .1 5.9 .1-6.7 0 15 .1-6.2 0-1.9 .1-5.7 0 8.5 .1-2.1 0-4.8 .1 2.4 0 3.2 .1-1.9 .1 3.3 0-9.8 .1 2.1 0-2.4 .1-7.9 0 5.7 .1 4.2 0-8.7 .1-1.4 .1 11.4 0 2.5 .1-8.6 0 4.9 .1 3.8 0-4 .1-8.6 0 10.2 .1-1.4 0 7 .1-2.3 .1-7.8 0 5.5 .1-1.2 0-5.5 .1 8 0-10.6 .1 12.4 0 .6 .1 .3 0 3.9 .1-11.6 .1 3 0-7.5 .1 11.8 0-8.3 .1-3.3 0 8.8 .1-.3 0 13.1 .1-24.9 .1 11.7 0-4.6 .1 6.8 0-4.9 .1 8.5 0-10.7 .1 3.6 0 2.7 .1-4.5 0 12.5 .1-11 .1 3.4 0-10.6 .1 3.9 0 5.4 .1 .6 0-18.4 .1 10.1 0-4 .1 5.5 0 .8 .1 15.2 .1-15.4 0 7.5 .1 2.3 0-8.5 .1 3.9 0-3.7 .1 8.5 0-8.6 .1 .9 .1 7.2 0 .7 .1-1.6 0-.8 .1 .4 0-13.8 .1-6.8 0 6.8 .1 12.4 0 2.7 .1-6.1 .1 1.9 0 3.5 .1 .1 0-1.6 .1 3.7 0-6.6 .1 5.7 0-8.1 .1 4.9 0-4.9 .1 6.3 .1 7.2 0-3.1 .1-5.8 0-3.8 .1-.1 0-.6 .1-1 0 1.8 .1-.4 .1 3.7 0-4.4 .1 3.8 0-.2 .1-2.7 0-10.7 .1 21.2 0-5.6 .1-3.1 0-2 .1 4.8 .1-11.6 0 18 .1-19 0 17.3 .1-3.1 0-7.1 .1 2.6 0 .6 .1-.5 .1-1.8 0-3.2 .1 3.1 0 9.4 .1-2.9 0-11.9 .1-3.1 0 5.6 .1-.8 0 4.3 .1-9.9 .1 14.9 0 12.1 .1-11 0-13.1 .1 11.7 0-1 .1 5.9 0 .4 .1-13.8 0 1.6 .1-.8 .1 3.6 0 2.8 .1 .7 0 3.9 .1-4.1 0-9.7 .1 8.5 0 6.5 .1-6 .1 4.1 0 .9 .1-5.8 0 3.7 .1 2.8 0-15.6 .1-1.1 0 8.9 .1-7.5 0 10.9 .1-2.4 .1-7.5 0 5.7 .1-2.9 0 20 .1-17.1 0 4.1 .1-1.8 0 7.9 .1-4.1 0-7.7 .1 .1 .1-1.1 0-.4 .1-1.4 0 4 .1 3.5 0 1.9 .1-.8 0 3 .1 .2 .1-5.1 0 12.3 .1-5.9 0-2.3 .1-7.5 0-3.1 .1 4.2 0-7 .1 11.6 0-9 .1 2.3 .1 7.7 0-3.6 .1-2.5 0-2.8 .1 7 0-10.3 .1 1.9 0 8.9 .1-1.3 0 4.1 .1-.1 .1-6.9 0-6.2 .1-.1 0 7 .1 3.1 0 1.5 .1-6 0 5 .1-6.6 .1 4.6 0-2.3 .1 4.6 0-14.3 .1 5 0 5.8 .1 5.5 0-8.1 .1-1.1 0 10.6 .1-6.8 .1-11 0 10.4 .1 3.2 0-5.5 .1-6.9 0 12.7 .1-.1 0-1.1 .1-1.7 0-6.3 .1 4.8 .1 14.3 0-14.9 .1 .2 0-1.3 .1 2 0 2.2 .1-3.5 0 6.7 .1 5.6 .1-7.5 0 4.3 .1-15.6 0 10.1 .1-9.4 0 16.3 .1-.7 0-9.1 .1 11.9 0-5.9 .1 7.3 .1-13.2 0 12 .1-8.8 0 9.1 .1-12.6 0-3.2 .1 5.3 0 6.2 .1-7.9 0-3.1 .1 1.2 .1-2.7 0-3.6 .1 9.4 0 2.7 .1 2.1 0-3.4 .1 1.2 0 1.7 .1-4.9 .1-9.2 0 15.6 .1-1.7 0-.7 .1 3.7 0-11.6 .1 6.8 0-4.2 .1 12.4 0-12.2 .1 3.9 .1 7.4 0-12.9 .1-.5 0 4 .1-1.3 0 7.9 .1-11.1 0 7.1 .1-4 0-.6 .1 .6 .1 6.8 0-5.6 .1 .7 0 5.2 .1-.2 0-9.5 .1 2.6 0 2.4 .1-10.3 .1 6.1 0 7.6 .1-4.8 0 6 .1 2.3 0-3.7 .1-.1 0-12.3 .1 5.1 0 18.1 .1-12.7 .1 3 0-3.1 .1-1.8 0 .8 .1-2.2 0 6.8 .1-12.3 0 8.7 .1-7.7 0 7.5 .1-3.3 .1 8.1 0-11.6 .1 4.6 0 3.9 .1-4.4 0-.5 .1 11.3 0-4.4 .1 1.4 .1-10.2 0 3.6 .1 4.8 0 .2 .1-3.7 0 12.7 .1-12 0-9.7 .1 16.6 0-1.1 .1-.4 .1-8.8 0 6.7 .1-14.7 0 11.6 .1 1.7 0 3.4 .1-10 0-2.2 .1 5 0-6.3 .1 .3 .1 10.1 0-3.5 .1 3.5 0-4.4 .1 3.2 0-10.2 .1 4 0 5.2 .1 1.2 .1-4.5 0-3.5 .1 4.3 0-4.2 .1 8.2 0-3.7 .1-2.5 0 2.6 .1-1.1 0-3.5 .1 5.7 .1-5.6 0 8.4 .1-5.6 0 5.1 .1-.3 0-5.5 .1-3.8 0 7.8 .1-1.2 0-6.9 .1 11.9 .1-9.6 0 11.6 .1 4 0-12.5 .1 3.6 0 1.2 .1 10.6 0-15.5 .1 4.7 .1 4 0-5.9 .1 6 0-2.3 .1 .2 0-10 .1 6.1 0-7.8 .1 11.8 0 2.2 .1-16.6 .1 17.6 0-17.5 .1 16 0-10.2 .1 8.1 0-12.6 .1-2.6 0 5.2 .1 3.9 0 4 .1-6.5 .1-7.3 0 14.3 .1 3.8 0-16.4 .1 11.3 0-5.4 .1 3 0-19 .1 21.6 .1-.7 0 8.6 .1-6.2 0 1.6 .1-11.4 0 8.3 .1-2.3 0 10 .1-9.8 0-8.2 .1 7.6 .1-4 0 6.7 .1 1.7 0-8.8 .1 7.9 0-3.3 .1 1.4 0 1.6 .1-8.1 0 1.8 .1 12.2 .1-11 0 10.4 .1-8.5 0-2.2 .1 6.1 0 .1 .1-7.3 0 6 .1 4.6 .1-15.4 0 4.2 .1 2.3 0 .7 .1-3.8 0 5.2 .1-3.9 0 2.5 .1 5.7 0-9.8 .1 5 .1 5.5 0-2.1 .1 11 0-4.1 .1-1.2 0-12 .1 .2 0-2.7 .1 4.1 0-7.3 .1 22.2 .1-8.2 0 1 .1-6.3 0 4.8 .1 1.5 0-2.1 .1-3.9 0 8.1 .1-7.1 .1 .1 0-9.5 .1 8.6 0 8 .1-16.9 0 8.7 .1 8.1 0 10.1 .1-21.4 0 5.3 .1 3 .1-3.1 0-8.1 .1-2.6 0 12.4 .1-11.2 0 8.9 .1-.3 0 .5 .1-.1 0 .4 .1 3.1 .1-4 0 5.8 .1-8.8 0 6.8 .1-6.4 0 3.4 .1 9.4 0-16.7 .1 5 .1 2 0 1.6 .1-12 0 11.5 .1-6.8 0 4.3 .1 8.6 0-11.5 .1 12.6 0-11.1 .1 .2 .1 1 0 5.5 .1-12 0-2.1 .1 15.1 0-3 .1-11.3 0 11.6 .1-7.8 .1 10.9 0-2 .1-5 0-1.1 .1 10.7 0-2.2 .1-8.8 0-4.3 .1 4.3 0 .9 .1-.5 .1 9.3 0-9.1 .1-2.8 0-1.3 .1 12.9 0-1.1 .1-11.7 0 14.1 .1-1.8 0-14.9 .1 13.9 .1-.9 0-7.7 .1-.8 0 5.3 .1 7.1 0-5.1 .1-3.8 0 6.1 .1 .3 .1-21.6 0 13.1 .1-1.4 0-.6 .1 9.8 0-7.5 .1-4 0 2.9 .1 10.3 0 2.2 .1-4.2 .1-7.6 0 4.1 .1-9.6 0 15.7 .1-11.8 0 8.8 .1-10.4 0 6.5 .1 16.6 0-15.7 .1 3.8 .1-.1 0-3.9 .1-6.9 0 1.3 .1-3.1 0 7.8 .1 10.5 0-7.3 .1 1.9 .1-1.2 0-18.8 .1 10.4 0 10 .1-12.2 0 8.4 .1 5.9 0-14.2 .1 9.3 0-3.4 .1-12.2 .1 18.6 0-11.5 .1 7.6 0 4.5 .1-4.9 0-2.4 .1 0 0 9.7 .1-13.4 0 9.5 .1-6.5 .1 .6 0 4.2 .1-6.4 0 7.4 .1 1.2 0 2.7 .1 2.5 0-6.6 .1 8.5 .1-10.3 0 1 .1-12.3 0 15.8 .1-13 0 4.4 .1-20.3 0 25.9 .1 1.1 0-2.8 .1-1.5 .1-3.5 0 6.1 .1-11.7 0-.7 .1 23.3 0-14.6 .1 1.4 0 4.9 .1 9.6 0-5.4 .1-8.7 .1-4.9 0 1.3 .1 1.8 0 2 .1-7 0 3.1 .1-3.7 0 7.1 .1 2.9 .1 4.9 0-17.3 .1 12 0 2.6 .1 6.1 0-15.2 .1 10.9 0-8.1 .1-1.2 0-6.4 .1 12 .1 6.9 0-15.8 .1 3.4 0 5.1 .1-3.4 0-10.8 .1 10.3 0 4 .1-3.3 0-3.7 .1 1.2 .1 .2 0 0 .1 8.4 0 9.7 .1-22.1 0 2.1 .1 4.1 0 .1 .1-1.5 .1 .7 0 9.6 .1-8.5 0-7.9 .1 9 0 1.1 .1-6.4 0 2.9 .1 4.4 0-4.9 .1-8.7 .1-.7 0 9.5 .1 1.7 0-25.9 .1 22.4 0-.5 .1 3.4 0 7 .1 .8 0-7.7 .1 5.7 .1-10.7 0-.7 .1-3.1 0 7.7 .1-10.3 0 3.7 .1 5 0-7.3 .1 12.6 .1 14.6 0-23.7 .1 3.1 0-6.7 .1 6.8 0 3.7 .1 1.8 0 .7 .1-4.4 0 11.2 .1-3.9 .1-11 0 16.2 .1-2.7 0-5.5 .1-1 0-2.7 .1-4.4 0 3.2 .1-1.7 0 6.6 .1-3.4 .1 4.1 0-3.3 .1-3.9 0 .4 .1 13.5 0-4.2 .1-17.7 0 22.7 .1-11.8 .1 6.9 0-5.4 .1 2.1 0-3.7 .1 6.7 0-12.2 .1-6.4 0 22 .1-4.9 0-2 .1-3.5 .1-7.2 0 .1 .1 .4 0 6.1 .1 4.4 0-9.5 .1 9.8 0 1 .1-4.8 0 7.4 .1 11.5 .1-13.2 0-5.9 .1-4.9 0 8.6 .1-5.8 0-2.8 .1 9.8 0-3.9 .1 1.6 .1-12.2 0 13 .1-3.5 0 8.6 .1-2.7 0-8.6 .1 5 0-5.8 .1 3.8 0-14.4 .1 16.1 .1-6.7 0 9.4 .1-1.6 0 6.1 .1-23.4 0 26.6 .1-12.5 0 3.2 .1-7 0 7.5 .1-13.7 .1 4.2 0 3.4 .1 .2 0-3.2 .1 3.5 0-6.6 .1 4 0 5.2 .1-2.8 .1 1.3 0-5.6 .1 8.2 0-2.1 .1 7.7 0-10.9 .1 2.4 0 5.1 .1-13.4 0 9.5 .1 6.6 .1-12.9 0 7.4 .1 16.5 0-19.4 .1 2 0-.5 .1 12.1 0-7.1 .1-5.2 0 10.2 .1-8.5 .1-5.9 0-.7 .1 8.4 0-13.7 .1 9.2 0 4.2 .1-3.4 0 4.7 .1-8.7 .1 10.2 0-1.3 .1 2.5 0-2 .1-2.9 0-12.1 .1 9.1 0-5.2 .1 6.3 0-5 .1 11.2 .1 .4 0-16.8 .1 8.4 0 11 .1-12.3 0 4.5 .1 .5 0-6.2 .1 11.6 0-13.9 .1 5.5 .1 4.2 0 4.9 .1-17.5 0 12 .1 5.7 0-6.9 .1-16.7 0-1.9 .1 9.4 .1 5.2 0 3.5 .1-12.9 0 1.2 .1 17.7 0-11.8 .1 8.8 0-11.8 .1 13.8 0-7 .1-7.3 .1 7.1 0-4.3 .1 10.1 0 3.1 .1-.4 0-10.1 .1 7.1 0-11.9 .1 10.2 0-9.5 .1 5.6 .1 8.2 0-6.5 .1-2.4 0 14.6 .1-11.3 0-6.8 .1 .8 0 .1 .1 9.8 .1 5 0-12.7 .1 8 0-1.6 .1-1.7 0-3.2 .1 11.7 0-15.8 .1-1.7 0 15.9 .1-6.6 .1-9.8 0 2.4 .1 2.3 0 2.6 .1 9 0-14.7 .1 12 0-6.1 .1 5.1 0 2.3 .1-6.6 .1-6 0 8.8 .1-3.8 0-3 .1 1.1 0 10.1 .1-4 0-5.1 .1 1.9 .1-9.8 0 6.6 .1 8.4 0-8.9 .1-2.4 0 2.6 .1 .8 0 10.9 .1-7.6 0-3.7 .1 5.6 .1-9.6 0 4.9 .1 6.2 0 1.4 .1-4.1 0-.3 .1-5.3 0 5.7 .1 5.6 .1-9.2 0 7.2 .1-8.6 0 7.4 .1-6.4 0 1.5 .1 2.8 0 6.1 .1-4.9 0-10.2 .1 7 .1-5.5 0 6.2 .1 .3 0 5.6 .1-7.6 0 6.9 .1-.1 0-8.7 .1 16.9 0-25.7 .1 13 .1 3.1 0-10.6 .1 13 0-6.2 .1 .5 0-10.2 .1 .7 0 7.9 .1 9.2 .1 .5 0-5 .1-7.3 0 3.9 .1-.8 0 3.3 .1-9.3 0 13.9 .1-17.1 0 4.1 .1 2.8 .1 4.1 0 1.6 .1-1.7 0 3.1 .1-.7 0 2.2 .1-8.8 0 3.7 .1-1.9 0 6.7 .1 2.8 .1-1.7 0-6.5 .1 8 0-11.9 .1 10.6 0-2.8 .1-3.8 0 8.1 .1 4.9 .1-18.1 0 7.5 .1 2.7 0-12.6 .1-3.2 0 12.1 .1-1.6 0-13 .1 18.2 0-10.1 .1 1.2 .1 8.7 0 2.3 .1-1.2 0-5 .1-1.2 0-12.7 .1 20.4 0-6.8 .1 5.5 0-9.3 .1 2.5 .1 9.8 0-4.9 .1-2.9 0-3.7 .1 1.1 0-.8 .1 3.6 0-3.2 .1 2.9 .1-5 0-4.2 .1 14.6 0-4.7 .1 4 0-3.6 .1-3.9 0 2.7 .1 1.1 0 2.8 .1-11.7 .1 8.2 0 5.5 .1-2.7 0-8 .1-6.1 0 4.2 .1 9 0-6.6 .1 14.1 0-14 .1 5.9 .1-2.7 0 8.3 .1-9 0 9.3 .1 2 0-17.5 .1 15.3 0-12.2 .1 8.4 .1-2.6 0-.6 .1-20.2 0 30.1 .1-5 0-2 .1-10.4 0-.1 .1 10.2 0-7.7 .1 5.4 .1-6 0 11.2 .1-10.2 0 7.7 .1 4.1 0-10.6 .1 .2 0 11.6 .1 4.5 0-12.3 .1-3.1 .1 5.4 0-3.5 .1 2.9 0 .7 .1-14.9 0 4.9 .1 4.3 0 4.4 .1 2 .1-5 0 13.5 .1-20.5 0 8.7 .1-.5 0 1.4 .1-.4 0 7 .1-11.8 0 5.4 .1-1.9 .1 2.9 0 5.4 .1-11.8 0 4.7 .1 .2 0-3.6 .1-7.4 0 9.7 .1-3.3 0-7.3 .1 12 .1-8.6 0 6.6 .1-5.5 0 5 .1-4.8 0 9.5 .1-1.4 0 .7 .1-1.8 .1-7.9 0 3.7 .1-1.3 0 4.9 .1-1.8 0-1.9 .1 .3 0 5.1 .1-.9 0 .9 .1-7.4 .1-1.7 0-4.8 .1 27.9 0-28.1 .1 7.6 0-11.7 .1 17.4 0 1.8 .1-5.6 0 9.3 .1-.2 .1-11.2 0 12.6 .1-3.1 0-12.9 .1 3.3 0 10.6 .1-15.1 0 7.3 .1 2.4 .1-2.8 0 1.4 .1-7.1 0 3.2 .1 8.2 0-2 .1-20 0 20.4 .1 2 0 8 .1-18.2 .1 4.7 0 1.2 .1 3.7 0-1.8 .1-3 0 6.2 .1-7 0-9 .1 12.5 0-3.1 .1-8.8 .1 8.3 0-8.3 .1 3.1 0 .5 .1 6.1 0 1.6 .1-10.1 0 6.7 .1 1.4 .1 11.6 0-11.5 .1-14.9 0 10.4 .1-6.5 0 8.7 .1 9.1 0-8.7 .1-9.2 0 8.9 .1 2.6 .1-.7 0 5.6 .1-4.6 0-2.8 .1-4.6 0 1 .1 10.5 0 4.7 .1-8.9 0 2.3 .1-9 .1 10.4 0-9.2 .1 5.9 0-8.9 .1 6.1 0 .3 .1-3 0 1.3 .1 15.4 .1-19.2 0 5.7 .1-15.1 0 15.1 .1 4.1 0 7 .1-14.1 0 4 .1 .6 0-17 .1 10.7 .1 9.7 0-9 .1 12.4 0-23.9 .1 10.4 0 12.2 .1-7.4 0-.4 .1-.6 0 6.4 .1 2.5 .1-7.9 0-3.7 .1 14.8 0-15.8 .1-1.6 0 4.3 .1-3.9 0 .2 .1-1.3 .1 5.2 0-.1 .1-.4 0-4.8 .1 9.6 0-11.2 .1 13.6 0-16.3 .1 7.3 0-11.6 .1 13.7 .1-2.3 0 12.6 .1-7.3 0-2.6 .1-1.3 0-1.4 .1 2.9 0 1.1 .1-5.6 0 13.8 .1-6 .1-6.4 0 4.3 .1-7.2 0 10.6 .1-1.7 0-5.7 .1-6.5 0 17.3 .1 2.4 .1-2.9 0 .3 .1-8.6 0-3.8 .1 5.4 0-1.4 .1-2.2 0 1.3 .1 .5 0 .3 .1-5.1 .1 12.8 0-3.6 .1-4.3 0-13.7 .1 20.1 0-9.3 .1 8.5 0-3.2 .1 3.5 0-15 .1 8.4 .1 5 0-8.4 .1 9.5 0-5.5 .1 9.1 0-5.9 .1-3.6 0 0 .1 6.7 .1-.5 0 5.5 .1 2.1 0-10.6 .1-7.6 0 3.6 .1-.6 0 3.2 .1 .2 0 .1 .1-9.6 .1 11.2 0-8.6 .1 14.7 0-1.9 .1-5.7 0 8 .1-17.1 0 7.4 .1-4.4 0 8.2 .1-5.3 .1-2.7 0-2.1 .1 .1 0 11.1 .1-3.6 0 8.2 .1-.3 0-15.3 .1 2.6 .1-4.5 0 5.9 .1-2.1 0 1.2 .1 6.5 0-3.9 .1 2 0-1.8 .1 6.2 0 .1 .1-22.1 .1 21.5 0-1.2 .1-4.1 0 1.1 .1-6.5 0 8 .1-6 0 3.3 .1 0 .1 1 0 4.3 .1-2 0 3.6 .1-4 0-3.1 .1-.6 0 7.6 .1-2.1 0-2.3 .1-9.3 .1 6.2 0-.9 .1-4.8 0 4.1 .1 5.6 0-12.2 .1 10.1 0-7.4 .1 4.4 0-1.3 .1-3.7 .1 9.8 0 5.5 .1-15.5 0 7.8 .1 1.2 0-8.8 .1 6.7 0 .8 .1 1.5 .1-3.2 0 2.2 .1 1.5 0-5.7 .1-2.4 0 6.6 .1 4.4 0-1 .1-10.5 0 16.1 .1-9.5 .1-1.2 0-1 .1 13.9 0-12.4 .1 13.5 0-6.7 .1 .2 0 6 .1-34.9 0 17.6 .1 15.4 .1-2.7 0-5.4 .1-4.7 0 3.8 .1 6.8 0-15.6 .1 6.8 0-7.3 .1 1.3 .1 5.9 0-5.9 .1 8.1 0-6.4 .1 14.9 0 1.1 .1-4.1 0-9 .1 2.1 0 4.8 .1-.7 .1-.2 0-3.9 .1-5.3 0 .5 .1-2.6 0 8.2 .1-3.4 0 9.3 .1-6.1 0-9.5 .1 7 .1 5 0 2.1 .1 .4 0-13 .1 7.8 0 7 .1 4.4 0-11.4 .1-8.3 .1 9.9 0 3.4 .1-.8 0-2.3 .1-1 0-2.4 .1 3.4 0-5.6 .1-.8 0 5.1 .1 2.6 .1-4.9 0 16 .1-5 0-6.1 .1-7.2 0 10.1 .1-12 0 .9 .1 2.8 0-5 .1 6.4 .1 4.3 0-5 .1 17.6 0-26.9 .1 11.2 0-5.6 .1-2.3 0 1.3 .1 7.4 .1 5.3 0-12.5 .1-3.7 0 5.8 .1-10.7 0 13.5 .1-3.9 0-2.8 .1 7.3 0-6.8 .1 7 .1 4.9 0-7.3 .1 3.1 0-3.4 .1-.7 0 4.2 .1-3.3 0 4.8 .1-7.1 0 9.7 .1 2.6 .1-13.4 0 16.8 .1-9.5 0-.3 .1-5.9 0-1.7 .1 7.8 0 8.9 .1-15.5 .1 11.3 0-5.7 .1 4.3 0-10.7 .1 11.6 0 2.3 .1-14.8 0 10.9 .1-4.9 0-1.1 .1 10.8 .1-14.1 0 11.5 .1-6.2 0-2.1 .1 3 0 4.5 .1-10.3 0 10.3 .1 2.4 0-14 .1-.3 .1 17.4 0-9.3 .1-1.2 0 15.9 .1-12.7 0-9.6 .1 12.1 0-13 .1-3.8 .1 12 0 3.2 .1-4.5 0 8.5 .1-15.3 0 4.4 .1 10.8 0-3.5 .1-2.7 0-7.9 .1-1.7" fill="none" stroke="#000" stroke-width="0.5" stroke-linejoin="bevel"/>
<path d="M52.4 690.8V759.3H282.7" stroke="#000" stroke-width="0.9" fill="none"/>
<text x="52.4" y="768" font-size="4.95" font-family="'Liberation Serif',serif" font-weight="bold" text-anchor="middle">0</text>
<text x="98.5" y="768" font-size="4.95" font-family="'Liberation Serif',serif" font-weight="bold" text-anchor="middle">20000</text>
<text x="144.5" y="768" font-size="4.95" font-family="'Liberation Serif',serif" font-weight="bold" text-anchor="middle">40000</text>
<text x="190.6" y="768" font-size="4.95" font-family="'Liberation Serif',serif" font-weight="bold" text-anchor="middle">60000</text>
<text x="236.6" y="768" font-size="4.95" font-family="'Liberation Serif',serif" font-weight="bold" text-anchor="middle">80000</text>
<text x="282.7" y="768" font-size="4.95" font-family="'Liberation Serif',serif" font-weight="bold" text-anchor="middle">100000</text>
<text x="49.1" y="761" font-size="4.9" font-family="'Liberation Serif',serif" font-weight="bold" text-anchor="end">0.00</text>
<text x="49.1" y="747.3" font-size="4.9" font-family="'Liberation Serif',serif" font-weight="bold" text-anchor="end">0.02</text>
<text x="49.1" y="733.6" font-size="4.9" font-family="'Liberation Serif',serif" font-weight="bold" text-anchor="end">0.04</text>
<text x="49.1" y="719.9" font-size="4.9" font-family="'Liberation Serif',serif" font-weight="bold" text-anchor="end">0.06</text>
<text x="49.1" y="706.2" font-size="4.9" font-family="'Liberation Serif',serif" font-weight="bold" text-anchor="end">0.08</text>
<text x="49.1" y="692.5" font-size="4.9" font-family="'Liberation Serif',serif" font-weight="bold" text-anchor="end">0.10</text>
<path d="M52.4 759.3v3.0M98.5 759.3v3.0M144.5 759.3v3.0M190.6 759.3v3.0M236.6 759.3v3.0M282.7 759.3v3.0M52.4 759.3v1.6M57 759.3v1.6M61.6 759.3v1.6M66.2 759.3v1.6M70.8 759.3v1.6M75.4 759.3v1.6M80 759.3v1.6M84.6 759.3v1.6M89.2 759.3v1.6M93.9 759.3v1.6M98.5 759.3v1.6M103.1 759.3v1.6M107.7 759.3v1.6M112.3 759.3v1.6M116.9 759.3v1.6M121.5 759.3v1.6M126.1 759.3v1.6M130.7 759.3v1.6M135.3 759.3v1.6M139.9 759.3v1.6M144.5 759.3v1.6M149.1 759.3v1.6M153.7 759.3v1.6M158.3 759.3v1.6M162.9 759.3v1.6M167.5 759.3v1.6M172.2 759.3v1.6M176.8 759.3v1.6M181.4 759.3v1.6M186 759.3v1.6M190.6 759.3v1.6M195.2 759.3v1.6M199.8 759.3v1.6M204.4 759.3v1.6M209 759.3v1.6M213.6 759.3v1.6M218.2 759.3v1.6M222.8 759.3v1.6M227.4 759.3v1.6M232 759.3v1.6M236.6 759.3v1.6M241.2 759.3v1.6M245.9 759.3v1.6M250.5 759.3v1.6M255.1 759.3v1.6M259.7 759.3v1.6M264.3 759.3v1.6M268.9 759.3v1.6M273.5 759.3v1.6M278.1 759.3v1.6M282.7 759.3v1.6M52.4 759.3h-3.0M52.4 745.6h-3.0M52.4 731.9h-3.0M52.4 718.2h-3.0M52.4 704.5h-3.0M52.4 690.8h-3.0" stroke="#000" stroke-width="0.72" fill="none"/>
<text x="370.5" y="667.2" font-size="12.5" font-family="'Liberation Sans',sans-serif" font-weight="bold" fill="#111">J</text>
<text x="522.3" y="672" font-size="7.5" font-family="'Liberation Serif',serif" font-weight="bold" text-anchor="middle">RMSD-MERGE</text>
<text x="522.3" y="780" font-size="6.6" font-family="'Liberation Serif',serif" font-weight="bold" text-anchor="middle">Time (ps)</text>
<text transform="translate(375.2 720.8) rotate(-90)" font-size="6.3" font-family="'Liberation Serif',serif" font-weight="bold" text-anchor="middle">RMSD (nm)</text>
<path d="M391.1 729.1l.1 4.1 .1-1.1 .1 .3 .1 1.8 .1-3.6 .1 .4 .1 .8 .1-1.1 .1-.5 .1 5.3 .1-5.6 .1 1.9 .1-1.7 .1 2.1 .1-1.3 .1-2.6 .1 2.6 .1 .5 .1 .1 .1-.1 .1 .7 .1 5.3 .1-2.7 .1-.8 .1-1.9 .1-2.4 .1 3.8 .1-5.5 .1 3 .1-2.5 .1 1.7 .1-.6 .1-5.7 .1 2.5 .1 0 .1-2.5 .1-1.6 .1 5.4 .1-2 .1 .3 .1-3.6 .1-.3 .1 5.5 .1-1.4 .1-1.2 .1-1.3 .1 2.6 .1-2.4 .1 2.2 .1 3 .1-2.6 .2-4.7 .1-1.6 .1 7.4 .1-1.7 .1-2.9 .1 6.8 .1-7.7 .1-.9 .1 8.4 .1-8.1 .1 1.8 .1-3 .1 .9 .1 1.4 .1-1.6 .1-1.8 .1 1.3 .1-.2 .1 2.4 .1-5.6 .1 1.9 .1-4.4 .1 3.7 .1-.2 .1 2.1 .1-3.3 .1 2.3 .1 1 .1-4.8 .1 1.4 .1 3.8 .1 2.3 .1-4.4 .1 3.1 .1-9.3 .1 7.7 .1-2.7 .1 4.5 .1-2.8 .1-3.5 .1 1.5 .1 1 .1-6.1 .1 4.4 .1 3.5 .1-.5 .1-1.3 .1-2.9 .1 5.2 .1-.8 .1 1.6 .1-4.9 .1 3 .1-1.5 .1-.6 .1 2.2 .1-3.7 .1-.7 .1 4.4 .1-3.8 .1-7 .1 7.1 .1-1.6 .1 3.6 .1-3.4 .1 2.8 .1-1.6 .1 1.9 .1 1.9 .1-6.2 .1 3.4 .1 2.4 .1-2.5 .1 1.5 .1-1.4 .1 1.3 .1-.1 .1-2.1 .1 3.8 .1-4.5 .1 5.4 .1-7.5 .1 2.1 .1 1.1 .1 .1 .1-3.1 .1 2.1 .1 .2 .1-1.9 .1 3.3 .1 .1 .1-.8 .1 .3 .1 2.6 .1-1.1 .1-.6 .1-2 .1-1.8 .1 5.3 .1-2.8 .1-.4 .1-2.4 .1-4 .1 3.6 .2-.5 .1-1.5 .1 5 .1-1.5 .1-1.1 .1 .1 .1 .9 .1 2.7 .1-3.1 .1 4.7 .1-.5 .1-2.7 .1 .6 .1 1.8 .1-.8 .1-.8 .1 1.3 .1-1.3 .1 3.2 .1-2.2 .1 3.4 .1-1.4 .1 1.7 .1-5.2 .1 4.2 .1-1 .1 2.5 .1-1.2 .1-.2 .1 1.8 .1-2.9 .1 6.1 .1-6.1 .1-3.8 .1 7.6 .1-2.1 .1 4.2 .1-4.5 .1 4.7 .1-5.4 .1 1.5 .1 3.2 .1-.5 .1 .2 .1-3.5 .1-2.5 .1 1.3 .1 2.7 .1-1.7 .1-1.6 .1 5.4 .1-6.5 .1 .2 .1 6.8 .1-6.8 .1 5.8 .1-3.4 .1-3.3 .1 6.3 .1 0 .1-1 .1-.5 .1-1.6 .1 1.8 .1-.8 .1 .7 .1 .7 .1 2.7 .1-1.9 .1 1.5 .1 1.5 .1-7 .1 6.5 .1-6.1 .1 3.4 .1-1.9 .1-.8 .1-1.8 .1-1.8 .1 4 .1-7.6 .1 6.5 .1 3.3 .1 1.9 .1-7.9 .1 .6 .1 3 .1-2.3 .1-1.2 .1 2.3 .1 .9 .1-1.7 .1-3.3 .1 1.8 .1 2.1 .1-5.5 .1 5.3 .1-.8 .1-4.7 .1 1.7 .1 .3 .1 1 .1-2.2 .1 2.7 .2 4.1 .1-3.5 .1 8 .1-3.1 .1-7.6 .1 2.5 .1 3 .1-.9 .1 1.5 .1-2.2 .1 3.8 .1-.1 .1-1.3 .1-1 .1-.3 .1 .8 .1-2.8 .1 3.4 .1-3.2 .1 .6 .1 1.4 .1-4 .1 2.5 .1 1.3 .1-1.8 .1 1.8 .1-2.4 .1-.7 .1 .2 .1 4.5 .1-1.7 .1-5.3 .1 5.4 .1-2 .1-.6 .1 6.4 .1-5.8 .1 1.8 .1-.9 .1-3.6 .1 2.4 .1 1.4 .1-1.3 .1 1 .1-.9 .1 5.7 .1-8.1 .1 4.2 .1-3 .1 2.8 .1-.3 .1-1.5 .1 .4 .1 4.2 .1-3.3 .1-4.2 .1 4.5 .1 0 .1-5.3 .1 1.4 .1-2 .1 4.2 .1 .6 .1-1.4 .1 .9 .1 1 .1 3.5 .1-2.5 .1 .8 .1-6.8 .1 5.5 .1 .3 .1-2.6 .1-.2 .1-1.8 .1 3 .1 1.1 .1-5.9 .1 5.8 .1 .4 .1 1.2 .1-.2 .1 .6 .1-1.3 .1 3.8 .1-2.9 .1 2.2 .1-4 .1 4.9 .1-1.9 .1-1.4 .1 3.7 .1-5.4 .1-.5 .1 1.5 .1-.6 .1-.7 .1 1.5 .1 1.6 .1-2.3 .1-1.3 .1-1.6 .1 2.8 .1 .9 .2-.7 .1 5.7 .1-1.6 .1 2.2 .1-6.6 .1 7 .1-5.1 .1-1.8 .1 4 .1-.9 .1-2 .1-1.7 .1 4.4 .1-4.1 .1-.3 .1 1.6 .1 .4 .1-2.1 .1 1.5 .1 1 .1 1.9 .1-2 .1 1.7 .1-.4 .1 .6 .1-2.2 .1 3.8 .1-1.3 .1-.4 .1-1.6 .1-2 .1 1.3 .1-.4 .1-3 .1 2.3 .1 3.8 .1 1.5 .1-4.6 .1 2.5 .1-.9 .1 1.3 .1-2.5 .1-.4 .1 3.9 .1-3.2 .1 .7 .1 1.8 .1-3.8 .1 1.7 .1-1.3 .1-4.2 .1 2.9 .1 1.3 .1 4.4 .1 2.2 .1-4 .1 3.8 .1-1 .1 .8 .1 .4 .1-5.1 .1 3.6 .1 .7 .1-2.7 .1 .3 .1 2.6 .1 .6 .1-1.6 .1-1.5 .1 0 .1 1.3 .1 1.2 .1-1.1 .1 .6 .1 2.2 .1-1.5 .1-1.8 .1 .1 .1 2.7 .1-2.5 .1-.9 .1-1.3 .1 3.8 .1-4.7 .1 3 .1-2.9 .1-2.2 .1 3.2 .1 .5 .1-1 .1-.9 .1 2.2 .1 2.6 .1-3 .1-2.8 .1-1.1 .1 4.5 .1 1.1 .1-.8 .1-.6 .1 1 .1-1.4 .1-2.4 .1 2.4 .2 .1 .1 1.4 .1-1.2 .1-1 .1-3.6 .1 .9 .1 1.8 .1-2.8 .1 5 .1-1.4 .1 2.8 .1-1.3 .1 1.6 .1-.6 .1-.6 .1 1.3 .1 1.3 .1-1.3 .1-.8 .1 .7 .1-1.4 .1 0 .1-.1 .1-4.4 .1 2.2 .1 1.1 .1 1.9 .1-1.2 .1-1.7 .1-.7 .1-2.8 .1 6.5 .1-.9 .1 .7 .1-1.2 .1 1.2 .1 1.3 .1-4.5 .1 1.4 .1-2.8 .1 3.1 .1-2.2 .1-.6 .1 4.8 .1-.8 .1-4.6 .1 2.2 .1 4.1 .1-.9 .1 .1 .1-1.9 .1-4.5 .1 3.9 .1-4.1 .1 4.4 .1 2 .1-4.6 .1 .6 .1-1.8 .1-.8 .1 2.2 .1 .8 .1 6.9 .1-2.2 .1-3.2 .1 0 .1-1.9 .1 2.4 .1-2.3 .1-1.6 .1 3.1 .1-.3 .1 .4 .1-1.9 .1 1.2 .1 1 .1-1.1 .1 .8 .1 2 .1-3.7 .1 .4 .1-1.9 .1 1.5 .1-1.3 .1 .4 .1 2.9 .1-2.3 .1-1.1 .1 .3 .1 4.1 .1 .8 .1-1.5 .1 2.5 .1-6.8 .1 7.4 .1 .8 .1-2.5 .1 2.9 .1 4 .1-6.3 .1 1.3 .1-1.5 .1 1.5 .1-1.5 .2-2.1 .1-.1 .1 1.6 .1-.7 .1-.3 .1-1.4 .1 1.6 .1 2.5 .1-4.6 .1 2.6 .1-2.9 .1 3.1 .1-2.2 .1 1.1 .1 .1 .1 .4 .1 .5 .1 .8 .1-.4 .1 2.8 .1-2.4 .1 3.3 .1 .4 .1-5.2 .1-.8 .1-3.8 .1-.1 .1-.9 .1 4.9 .1-2.7 .1-2.1 .1 1.9 .1-.8 .1 .8 .1 3.1 .1-1.6 .1 1.3 .1-3.8 .1-.2 .1 1 .1-1.5 .1 2.1 .1-1.5 .1-2.3 .1 3.3 .1 3.1 .1 2.3 .1-6.8 .1 4.7 .1 3.1 .1-3.5 .1 4.8 .1-3.2 .1-.5 .1 .5 .1 1.7 .1-7.7 .1 5.3 .1-2.5 .1 1.8 .1 2.6 .1-2 .1-1.9 .1-.7 .1 2.2 .1-1.5 .1 1.1 .1-2.8 .1 6.7 .1-6.7 .1 1.8 .1 .9 .1 5.8 .1-3 .1-3.7 .1-4.9 .1 6.2 .1 .5 .1-2.6 .1 2 .1 3.8 .1-2.5 .1-.7 .1-2 .1-1 .1 .2 .1 1.3 .1 .4 .1 1.3 .1-2.3 .1 2.1 .1-5.2 .1 3.4 .1-2.4 .1 4.7 .1-4.6 .1 2.1 .1 2.5 .1 .4 .1 .9 .1-4.9 .1 .8 .1 2.4 .1-.2 .2 1.4 .1 2.5 .1 .3 .1-3.7 .1-1.7 .1 1.1 .1-3.7 .1 .4 .1 1.4 .1 3.4 .1-3.1 .1-.7 .1 1.8 .1 2.5 .1-7.5 .1 2.1 .1 1 .1-3.8 .1 .5 .1-.1 .1 1.1 .1-.9 .1-2.4 .1 3 .1 1.2 .1-1.6 .1 8 .1-5.9 .1 .8 .1 .6 .1 1 .1-.9 .1 2 .1-.6 .1 .2 .1-.5 .1 .3 .1-3 .1 4.8 .1-4.7 .1-.8 .1 4 .1-2.3 .1-3.4 .1 2.1 .1 1.2 .1 4.7 .1-7.9 .1 1.9 .1-1.1 .1-3.1 .1 3.7 .1 .1 .1 1.1 .1-1.3 .1 .9 .1-1 .1 1.2 .1 2.3 .1 .4 .1-2.9 .1 4 .1-3.2 .1-.5 .1 2.8 .1 .3 .1-2.7 .1 1.8 .1 1 .1 .6 .1-3.3 .1 .9 .1-2.4 .1 3.6 .1-.3 .1 0 .1-1.2 .1 3.3 .1-4.6 .1 1.1 .1 2.7 .1 3.9 .1-2.4 .1-6.6 .1 3.2 .1 .3 .1 1.2 .1-3.4 .1 6.2 .1-1.1 .1-.4 .1-2.4 .1-1.5 .1 .5 .1 .5 .1 2 .1-3.6 .1 3.8 .1-.3 .1 1.4 .1 1 .1-.1 .1 .4 .1 2.5 .2-4.1 .1 1 .1-2.2 .1 4.2 .1-7.4 .1 2.7 .1 .3 .1 2.1 .1-.8 .1 .5 .1-3 .1 1.9 .1-3.1 .1 1.3 .1 3.6 .1-.3 .1-1.7 .1-4.2 .1 2 .1-.1 .1-1.9 .1 2.9 .1-3.7 .1 6.1 .1-3.9 .1-.5 .1 6.7 .1-3.4 .1 1.4 .1-1.3 .1 5.2 .1-4.4 .1 2.8 .1-2.6 .1-3.7 .1 4.4 .1 4.5 .1-2.5 .1-.3 .1-4.1 .1 2.6 .1 1.9 .1-5.7 .1 2.8 .1-.6 .1 .8 .1-4.4 .1 5.1 .1 4 .1-2.2 .1-.4 .1-1.3 .1-1.9 .1 1.5 .1-.3 .1-6.1 .1 3 .1 .7 .1-1.1 .1 2.7 .1-4.2 .1-.7 .1 3.4 .1-1.8 .1 3.5 .1-1.2 .1 3.3 .1 1.1 .1 1.6 .1-2.1 .1 2.4 .1 .1 .1 2.4 .1-.5 .1-1 .1-1.9 .1-.2 .1 .3 .1-2.7 .1-4.2 .1 2.8 .1-4 .1 2.1 .1-1 .1 2.7 .1-3.4 .1 5 .1-2 .1 .4 .1 3.9 .1-1.5 .1-5.4 .1 1.6 .1-2.4 .1 2.3 .1 5.7 .1-5.6 .1 1.5 .1 1.7 .1-.7 .1 1.4 .1 1 .1-4.2 .1 1 .2 2.2 .1-.2 .1-4.5 .1 1.6 .1 .8 .1 3.3 .1-2.2 .1 .2 .1 .3 .1-4.4 .1 1.5 .1-.6 .1 1.4 .1-4.4 .1-5.3 .1 2.8 .1-.6 .1 5 .1-1.1 .1-1.1 .1-1.3 .1 3.7 .1 2.1 .1-1 .1 1.3 .1-3.4 .1 .9 .1 1.6 .1-.6 .1-.7 .1 2.7 .1 1.4 .1 3.4 .1-6.3 .1 2.1 .1-1.2 .1 2.6 .1-3 .1 6.1 .1-4.8 .1 4.6 .1-.8 .1 0 .1-3.9 .1 .5 .1-.7 .1 1.3 .1 .6 .1-3.7 .1-2.1 .1 .8 .1 1.4 .1-1.2 .1 4.4 .1-2.8 .1-4.3 .1 1.1 .1 3.3 .1-4.1 .1 2 .1-1.3 .1 4.1 .1-1.2 .1-2.1 .1-.2 .1-.4 .1 1.7 .1-.8 .1-1.9 .1-.1 .1 3.7 .1-2.7 .1 .4 .1-.6 .1-.9 .1 5 .1-3.1 .1 5.1 .1-1.1 .1-.1 .1 1.3 .1-.2 .1-.5 .1 .2 .1-.9 .1 3.7 .1-2.1 .1-1.2 .1-2.6 .1-1.3 .1-5.1 .1 6.7 .1 2.6 .1-.9 .1 .2 .1 .6 .1 2.5 .1-2.9 .1 1.1 .1 4.1 .1 .2 .1-4.6 .1 6.6 .1-6.2 .2 .5 .1-2.3 .1 2.3 .1 3.1 .1-5.4 .1 2.3 .1-6.8 .1 .6 .1 3.2 .1-1 .1 1.3 .1 1.3 .1-4.8 .1 1.5 .1-1.1 .1-.5 .1 1.6 .1 2.4 .1 1.1 .1-1.3 .1-.9 .1 2.4 .1 1.2 .1-5.1 .1 4.6 .1-2.7 .1 4 .1-3.4 .1 1.7 .1 .4 .1-1.5 .1-.7 .1 .7 .1-4 .1 0 .1 2.7 .1-.5 .1-2.2 .1 1.5 .1 1.5 .1-2.7 .1 3.4 .1-2.4 .1-3.7 .1 10.2 .1-4.8 .1-2.1 .1 1.7 .1 1.5 .1 .9 .1 3.2 .1-.7 .1-3.1 .1 .8 .1-2.1 .1 .1 .1-.7 .1 4.7 .1-3.8 .1 .3 .1 1.1 .1 1 .1 2.7 .1-6.3 .1 0 .1-3 .1 3.4 .1-2.3 .1 2.6 .1 2.9 .1-3.9 .1 4.5 .1-2.8 .1 .9 .1 1.6 .1-5 .1-.1 .1 .7 .1-1.2 .1-4.2 .1 5.2 .1 1.5 .1-.8 .1-2.7 .1 1 .1 3 .1-4.9 .1 3.4 .1-3.1 .1 2.3 .1 1.5 .1-1.5 .1 1.4 .1 .1 .1-1.1 .1-.7 .1-1.4 .1 4.2 .1-2.7 .1 1.8 .1 1.8 .1-3.1 .1 2.8 .1-4.3 .2 4 .1 1.7 .1-4.1 .1 4.4 .1-.4 .1-2.1 .1-1.1 .1 1.3 .1 4.4 .1-.5 .1-3.8 .1-.7 .1 3.7 .1-2.4 .1-.4 .1-1.8 .1 4.6 .1-4 .1 3 .1-4 .1 .2 .1 4.2 .1-1.4 .1-2.1 .1-1.2 .1 4.7 .1-2.5 .1-2.1 .1 .6 .1 3.2 .1-.4 .1-2.8 .1 4 .1-1.7 .1-1.4 .1 1.4 .1 5.3 .1-9.8 .1-.9 .1-1.2 .1 1.2 .1 6 .1-8.5 .1 1.7 .1-.7 .1 2.7 .1 .3 .1 1.6 .1-2.9 .1 3.6 .1 1.4 .1 1.7 .1-3.4 .1 2.3 .1-.4 .1-.5 .1 1.1 .1 .9 .1-.5 .1 .2 .1-1.2 .1-1 .1 2 .1 .5 .1-2.8 .1-.8 .1 3.7 .1-2.2 .1 1.5 .1 3.2 .1-3.6 .1-1.2 .1 3.1 .1 1.5 .1-4.3 .1 4.6 .1-1 .1-1.2 .1-2.8 .1 .7 .1 .6 .1-.8 .1-1.2 .1-.6 .1 .4 .1-.8 .1-3.9 .1 1.6 .1-4.7 .1 5.8 .1 4.1 .1-1.7 .1-.7 .1 .3 .1 .6 .1 1.1 .1 2.3 .1-2 .1-2.9 .1 3.5 .1 .5 .1-1.8 .1-.5 .1 1.1 .2-.4 .1 2.8 .1 .4 .1-1 .1-2.4 .1-1.4 .1-.2 .1 7.1 .1-5.1 .1 4.1 .1 2.5 .1-5.9 .1 1.8 .1-.2 .1 3.9 .1-.7 .1-2.2 .1 2 .1-3.7 .1-1.4 .1-.1 .1-.5 .1-.3 .1 1.9 .1-.8 .1-1.7 .1-1.8 .1 2.5 .1 2.1 .1-1.2 .1 4.1 .1-1.8 .1 .1 .1-.7 .1-.7 .1-1.8 .1 2.5 .1-1.9 .1-2.5 .1 3.2 .1-.9 .1-1.2 .1-5.4 .1 1.7 .1 0 .1 1.6 .1 3.3 .1-.8 .1 2.3 .1-4.8 .1 .6 .1-.2 .1 1 .1 .4 .1-1 .1-1.5 .1-1.7 .1 4.1 .1 0 .1-2.5 .1-2.3 .1 1.5 .1 .5 .1-2.1 .1 2.7 .1 5.3 .1-1.8 .1 2.5 .1-1.9 .1 1.7 .1-1.8 .1-3.1 .1 5.4 .1-1.2 .1 0 .1 4.4 .1-3.8 .1-.4 .1-3 .1 2.3 .1 1.9 .1-3.8 .1 1.6 .1 .7 .1 .2 .1-.4 .1-2.5 .1-2.3 .1 6 .1-5.5 .1 1.9 .1-.7 .1-1.7 .1 4.6 .1-3.1 .1 4.3 .1-2.8 .1 2.1 .1-5.6 .1 .5 .1 2.8 .1 .5 .1 1.4 .1-3.8 .2 1 .1 .8 .1 2.9 .1-.3 .1-1.2 .1-3.2 .1 3 .1-1.3 .1-3.1 .1 1.2 .1-3.4 .1 2.3 .1 .1 .1-1.3 .1 2.5 .1 1.6 .1 2 .1 .9 .1-4.9 .1 3.6 .1 1.2 .1-2.9 .1 3.8 .1 1.8 .1-2.5 .1-2.5 .1-.7 .1-.2 .1-1.4 .1 2.7 .1-.7 .1 2.4 .1 .2 .1-2.3 .1 .7 .1-2.6 .1 2.4 .1 3.3 .1-3.5 .1 1.3 .1-4.4 .1 4.8 .1-1.2 .1 .9 .1-2 .1-.4 .1 2.5 .1-.1 .1-3.4 .1-2.5 .1 1.5 .1 4.8 .1-1.9 .1 .1 .1 1.7 .1-5.6 .1 1.8 .1 2.7 .1-1.2 .1-2 .1-.1 .1 0 .1-1.3 .1 2.1 .1-.1 .1 1.4 .1-2.7 .1 2.5 .1 2.9 .1-7.1 .1 1.6 .1 2 .1 0 .1-1.9 .1 3.1 .1-3.5 .1-.4 .1-.3 .1-1.7 .1 3 .1-1.5 .1 4.8 .1-1.6 .1 1.9 .1 2.9 .1-.8 .1-1.4 .1 1.5 .1-2.7 .1 3.3 .1-4.6 .1-.3 .1 1.7 .1-3.5 .1 4.8 .1-4.4 .1 .5 .1-.8 .1 5.1 .1-.6 .1 .2 .1-2.4 .1-.3 .1 .2 .2 .4 .1 1.2 .1 1.2 .1-1.9 .1-1.7 .1-1.7 .1 2.5 .1-1.9 .1 6.4 .1-4.7 .1 4.8 .1-2.8 .1 2.3 .1-1 .1-1.5 .1-4.2 .1 3.9 .1-3.1 .1 .8 .1-1 .1-1 .1-2.2 .1 3.2 .1-2.1 .1-1.7 .1 3.2 .1-1.4 .1 2.6 .1-5.4 .1 3 .1 1.2 .1-1.7 .1 .7 .1 3.3 .1 1.3 .1-4 .1 7.5 .1-8.8 .1 1.6 .1 4.3 .1-6.5 .1 2.4 .1-1.1 .1 6.3 .1-5 .1-.7 .1 .6 .1-.1 .1-.3 .1 6.6 .1-5.3 .1 .8 .1-1.6 .1 .2 .1 .6 .1-.7 .1-3.3 .1 4.8 .1-5.7 .1 3.9 .1 .7 .1 1.7 .1-4.2 .1 5.9 .1-6 .1 1.9 .1 1.6 .1-.2 .1-2.8 .1 .6 .1 0 .1 1.5 .1 1 .1-3.2 .1 3.8 .1-4.7 .1 1.8 .1 3 .1-.6 .1-2 .1 2.4 .1-6 .1 2 .1 4.7 .1-1.3 .1-3.6 .1 2.3 .1 3.5 .1 3.4 .1-.8 .1-5.7 .1 1.1 .1 2.3 .1-4.7 .1 1.3 .1 .3 .1 .3 .1-.5 .1-5.6 .1 5.1 .1-1.5 .1-3.9 .1 .1 .1 5.5 .2-5.6 .1 2.3 .1 5.6 .1-6.4 .1 7 .1-4.4 .1 3.5 .1 1.2 .1-6.1 .1 .9 .1 .5 .1-2 .1-.2 .1-.5 .1 2.2 .1-4 .1 2.4 .1 1.1 .1 .9 .1-1.4 .1 2.8 .1-.9 .1 2 .1-4 .1 5.3 .1 .3 .1-1.6 .1-1.1 .1 1.4 .1 1.7 .1-4 .1 4.2 .1-.7 .1-5 .1 7.3 .1-4.2 .1 .7 .1 2.4 .1-1.7 .1-3.5 .1 3.9 .1-2.5 .1-3.4 .1 2.5 .1-1.8 .1 1.2 .1 .3 .1 .8 .1-1.2 .1-1.9 .1 1.2 .1-3.8 .1 3.7 .1 .7 .1-4 .1 6 .1 1.2 .1-1.8 .1 3 .1-3.5 .1-1.7 .1 1.7 .1 1.8 .1-.9 .1-1 .1-2.2 .1 2.3 .1-1.2 .1-3.6 .1 2.8 .1-.9 .1 .1 .1 2.6 .1-.9 .1-3.8 .1 3.1 .1 .2 .1-1.2 .1 1 .1-5 .1 6.4 .1-3.4 .1-2.7 .1 3.6 .1 1 .1 3.3 .1-4 .1-.4 .1-1 .1 1.9 .1-.2 .1 1.1 .1-3.2 .1 1.9 .1-3.2 .1 4.3 .1-2.3 .1 5.9 .1-6.5 .1-1.9 .1 1.7 .1-5.7 .1 6.8 .1-2.5 .2 1.3 .1-1.6 .1-.7 .1 1.8 .1-.2 .1-7.3 .1 5.9 .1-1.2 .1 3.9 .1-2 .1-.5 .1 1.3 .1 .4 .1 .1 .1-1 .1-.8 .1-1.8 .1 4.6 .1 1.6 .1-3 .1-.6 .1-1.7 .1 .5 .1 4 .1-5.5 .1 3.5 .1 4.2 .1-5.7 .1 2.6 .1-2.2 .1 4.2 .1-2 .1-.8 .1 0 .1-2.2 .1-1.1 .1-1 .1 1 .1 1.3 .1-2.2 .1 3.1 .1-1.8 .1 1.7 .1 1.8 .1 2.6 .1-5.2 .1 2.1 .1-1.1 .1 0 .1 4.5 .1-.1 .1-3.8 .1-.1 .1 2.7 .1 1.4 .1 1.5 .1-2.5 .1 1.1 .1-2.4 .1-.2 .1 3.2 .1-1.6 .1 .2 .1-1.7 .1-2.1 .1 2.6 .1-.7 .1-.3 .1 .8 .1-1.2 .1-1 .1-1.6 .1-.6 .1-1.8 .1 7.5 .1-1.6 .1 3.3 .1-1.8 .1 2.5 .1-5.6 .1 1.8 .1 3.5 .1-3.2 .1-.9 .1-2.2 .1 1.1 .1 1.1 .1-.7 .1-.6 .1 .6 .1 .6 .1 .8 .1-4.8 .1 3.2 .1-2.3 .1-1.7 .1 2.2 .1-1.3 .1 4.8 .1-3.9 .1 5 .1 .5 .1 .6 .1-2.5 .2 2.4 .1 1.5 .1-5 .1 3.3 .1-3.9 .1 .2 .1 .8 .1-1.1 .1-.3 .1 1.4 .1-1.9 .1 3.2 .1 .3 .1-.8 .1 3.9 .1-3.6 .1 1.7 .1 .3 .1-2.8 .1 .5 .1 6 .1-4.7 .1-.6 .1-1.7 .1 2.8 .1 1.6 .1-2.9 .1-1.3 .1 6.6 .1-1.2 .1-.9 .1 2.5 .1-3.1 .1-3.6 .1 4.2 .1-2.7 .1 2 .1-2.4 .1-.9 .1-.4 .1 3.1 .1-1.8 .1 .6 .1 2.9 .1-5.5 .1 4.9 .1-1.2 .1-3.8 .1 2.2 .1 1.3 .1-2.6 .1 2.3 .1-1.2 .1 1.2 .1-1.7 .1 3.1 .1-4.7 .1 .2 .1-.5 .1-1.9 .1 7.1 .1-.5 .1-.1 .1 .6 .1-4.6 .1 2.5 .1 1.1 .1 1.1 .1-1.7 .1-.9 .1-.7 .1 2.8 .1-2.4 .1-2.6 .1 .4 .1 3.9 .1-4.5 .1-.8 .1 2 .1 4.3 .1 .3 .1-3.8 .1 2.2 .1 2.4 .1-3.9 .1-.5 .1 .1 .1-1 .1 .1 .1 3.6 .1-3.6 .1 4 .1-.2 .1-2.3 .1 2.1 .1-2.5 .1 2.8 .1 .7 .1 1.9 .1-2.4 .1 2.6 .1-4.7 .1-.3 .1 .7 .2 3.1 .1-.2 .1-6 .1 2.8 .1-5.9 .1 4.9 .1-1.9 .1 3.8 .1-1.8 .1-1 .1-1.2 .1-1.9 .1 2 .1 5.6 .1-1.5 .1 1 .1 0 .1-1.8 .1-1.6 .1 3.5 .1-2.6 .1-.5 .1 5.4 .1-5.2 .1-1 .1 2.6 .1-1.4 .1 2 .1-2.9 .1 1.1 .1 2.1 .1-2.9 .1 1 .1-.6 .1 1.3 .1 0 .1-.1 .1-5.3 .1 6.5 .1-4 .1 1.4 .1 .9 .1-4.3 .1 3 .1-4.7 .1 2.4 .1-1.2 .1 1.6 .1-1.8 .1-.9 .1 3.4 .1-.1 .1-3.5 .1 5.2 .1-4.5 .1 5.2 .1 1 .1 2 .1-1.4 .1 1.7 .1-4.2 .1-3.2 .1 1.5 .1 1 .1 .3 .1-1.5 .1 2.2 .1-.3 .1-6.4 .1 2.4 .1 4.8 .1-3.5 .1-1.7 .1 4.3 .1-.2 .1 2.4 .1-.9 .1-6.1 .1-4.8 .1 9.8 .1 1 .1-5.3 .1 .9 .1 1.8 .1-3 .1 4.5 .1 .2 .1-1 .1 1.9 .1-2.2 .1 .5 .1-2.3 .1 .7 .1 4.3 .1-2.1 .1 2.8 .1-2.4 .1 2.5 .1-3.1 .1 3.7 .1 .7 .1-3.3 .1-.8 .1 1.2 .2 3.2 .1-4.7 .1 2.1 .1-1.2 .1-2.5 .1 2.3 .1-.8 .1-1.3 .1 2.1 .1 2.9 .1-5.7 .1-.7 .1-1.8 .1 3.4 .1-.9 .1-1.4 .1 .7 .1-.4 .1 .3 .1 .1 .1 1.4 .1-.5 .1-1.4 .1 2.2 .1 1.4 .1-3.8 .1-3.8 .1 1.1 .1 7.4 .1-2.3 .1-2.6 .1 1.4 .1-1.8 .1 .5 .1-.4 .1 2.4 .1-4.2 .1 5.4 .1-2.6 .1-2.8 .1 .3 .1 2.7 .1 1.5 .1 2.5 .1-1 .1-.6 .1-1.8 .1 2.8 .1-1.7 .1 0 .1-.5 .1 2 .1-.5 .1 .3 .1 1.1 .1 .7 .1 3 .1-5.2 .1-.2 .1 2.9 .1-.2 .1-1.5 .1 1.5 .1-4.3 .1 .6 .1 .3 .1-.4 .1 6.1 .1-5 .1 1.2 .1-4.1 .1 0 .1 .2 .1 2.3 .1-5.6 .1 5.8 .1 1.6 .1-4.8 .1 5.9 .1-5.5 .1 1.8 .1 0 .1 1.2 .1 2.5 .1 2.8 .1-2.1 .1-2.1 .1 1.3 .1-1.9 .1 1.1 .1 .6 .1-2.2 .1-2 .1 1.1 .1 2.4 .1 1.7 .1-7 .1 7.1 .1 0 .1 0 .1-2.4 .1 2.6 .1-2.5 .1 .3 .2 1.7 .1-.7 .1 3 .1-.5 .1-2.3 .1 1.8 .1 .7 .1-.5 .1 .1 .1-1.9 .1 6.1 .1-2.3 .1-4.7 .1-.5 .1 .1 .1 .1 .1 1 .1 .7 .1-1.2 .1-.8 .1 1.4 .1 1.2 .1 1.4 .1-2.4 .1 2.6 .1-1 .1-1.6 .1 .5 .1-1.5 .1 .8 .1 .8 .1 1.2 .1-.8 .1 .5 .1-5.4 .1 3.1 .1 2.7 .1 .1 .1-5.9 .1 4.9 .1-2.3 .1-.3 .1-.9 .1 4.1 .1-1.7 .1 .2 .1-1.4 .1-1.3 .1 3.4 .1 .4 .1-2.4 .1 5.3 .1-3.1 .1 3.1 .1 0 .1 .1 .1-.6 .1-4.3 .1-.1 .1 1.8 .1-1.7 .1 1.7 .1 .9 .1 .4 .1-2 .1-.4 .1-.8 .1 3.4 .1-.5 .1 2.3 .1-6.5 .1 1.3 .1-.1 .1 .8 .1 .1 .1 .1 .1-1.4 .1 3.5 .1-3.5 .1 1.8 .1 3.1 .1 .5 .1-1.3 .1-1 .1 1.7 .1-3.7 .1-2.2 .1 .4 .1 4 .1 0 .1-7.1 .1-.7 .1 4.2 .1-2.6 .1 1.5 .1 .6 .1-3.9 .1 4 .1-2.5 .1-1.2 .1 4.7 .1-4.2 .1 5.7 .1-4 .2 2.3 .1-4.5 .1 6.1 .1 1.9 .1-3.7 .1 6.1 .1-4.1 .1 2.1 .1-4.1 .1 3.8 .1-3.5 .1 1.8 .1 1.8 .1 3 .1-9.7 .1 3.1 .1 2.9 .1-1.8 .1-3.3 .1 4.2 .1-5.9 .1 4.5 .1 .1 .1-4.3 .1 1.2 .1 2.6 .1-4.1 .1 .9 .1-.5 .1 3.9 .1-.2 .1-2.5 .1 2.5 .1 3.2 .1-2.1 .1-2.8 .1 2.3 .1-4.1 .1 3.1 .1-.5 .1 3.4 .1-2.6 .1-.3 .1-1.6 .1-.8 .1-.4 .1 6.2 .1-3.4 .1 .5 .1 .7 .1-3 .1 2.6 .1-2.8 .1 2.6 .1-.4 .1 2.1 .1-3.6 .1 .7 .1-2.9 .1 4.6 .1 1.5 .1-.9 .1-.3 .1 1.9 .1-2.4 .1 .3 .1 1.3 .1-.1 .1 1.6 .1-2 .1 3.3 .1-6.5 .1 3.7 .1-3 .1 4.3 .1-3.4 .1 1.2 .1-2.8 .1-.5 .1 5.7 .1-5.8 .1 4 .1-4.9 .1 3 .1 3 .1-3.4 .1 2.3 .1 3.3 .1-.3 .1-3.4 .1 3.3 .1-.6 .1-5.5 .1 4.6 .1-3 .1-.4 .1-3 .1-.6 .1 7.1 .1-4.1 .1-2.3 .1 3.4 .1-5.6 .1 3.6 .2 3.9 .1-4.4 .1-2.6 .1 5.2 .1-3.3 .1 3 .1-1.2 .1 .9 .1-1.2 .1 .4 .1 .4 .1-3.8 .1 7.1 .1 1 .1-5.3 .1 .2 .1 3.5 .1-8.3 .1 5.6 .1 .9 .1-4.5 .1-.7 .1-3.2 .1 8.8 .1 .8 .1-2.2 .1-1.8 .1-1.1 .1-.1 .1 2.1 .1-2 .1-4 .1 0 .1 2.6 .1-2.8 .1 .6 .1 3.6 .1-.2 .1 .4 .1-5.6 .1 4.4 .1 4 .1-1.4 .1 .2 .1-3.8 .1 6.5 .1-1 .1-3.8 .1 .8 .1 1.5 .1-.9 .1 3 .1-3.1 .1 4.6 .1 .9 .1-3 .1 2.3 .1-2.1 .1-3 .1 3 .1-2.9 .1-4 .1 3.1 .1-2.7 .1 0 .1 3.5 .1 .2 .1-1.2 .1 4.1 .1-4.3 .1-.5 .1 1.7 .1 1.7 .1-2.4 .1 4.2 .1-2.1 .1 1.5 .1-1.2 .1 2.1 .1-2.3 .1 3.3 .1-4 .1-1.3 .1 5.2 .1 0 .1-.9 .1-2.3 .1 1 .1-1.5 .1-2.1 .1 1.6 .1 2.4 .1 1.8 .1 .6 .1-3.9 .1-.1 .1 1.6 .1-1.5 .1 .1 .1 5.8 .1-5.2 .1-.1 .1 1.3 .1 1.9 .2-2.5 .1 .5 .1-1.5 .1 2.8 .1 1.8 .1 .6 .1 1.4 .1-2.5 .1 1.9 .1-2 .1-3.2 .1-1.3 .1-.4 .1 2.6 .1-2 .1 2.4 .1 4.3 .1-4.8 .1-.3 .1 3.2 .1-1 .1 5 .1-3.6 .1-4.4 .1 3.4 .1-4.2 .1 1.8 .1 2.6 .1 3 .1-5.3 .1-.5 .1 3 .1-2.5 .1-3.7 .1 4.2 .1-2.4 .1 4.8 .1-1.2 .1-4 .1 4.2 .1 .3 .1 1.4 .1-2.7 .1 2.9 .1-4.6 .1-1.9 .1-1.6 .1 4 .1-5.8 .1 1.8 .1 1.7 .1-2 .1-1.5 .1-.6 .1 2.3 .1 3 .1-2.8 .1 .8 .1 2 .1-.4 .1-2.9 .1 5.7 .1-2.1 .1 2.3 .1-2.8 .1-1.2 .1 1 .1 3.7 .1 0 .1-.9 .1 .7 .1 0 .1-.8 .1 .7 .1-1 .1-1.8 .1 3.8 .1-1.7 .1 .8 .1-2.6 .1 1.7 .1-1 .1-1.2 .1 4.7 .1 .5 .1-1.9 .1-2.8 .1 .3 .1 .1 .1 1.2 .1 .3 .1-3.6 .1 .4 .1 1.5 .1 1.3 .1 2.3 .1-1.6 .1-1.4 .1 1.8 .1-3.4 .1 4.1 .1-1.4 .1-1.5 .1-1.5 .2 2.2 .1-.7 .1 3.2 .1 1.6 .1-3.7 .1 5.1 .1-1 .1 2.4 .1-6.1 .1 .8 .1 .9 .1 1.1 .1-3.5 .1-.9 .1-1 .1-2.6 .1 3.7 .1 1.8 .1 .5 .1-.2 .1 3 .1-1.2 .1-2 .1 3.1 .1-2.6 .1-5.3 .1 2.9 .1-3.3 .1-.4 .1 2 .1-1.6 .1 1.8 .1 2.5 .1-2.3 .1 1.3 .1 .3 .1 0 .1 1.5 .1-3.3 .1 4 .1 1.3 .1-1.3 .1 3 .1-.8 .1-3.6 .1 2.3 .1-3 .1 2.7 .1 .3 .1-1.7 .1 .3 .1-2.2 .1 .1 .1-2.2 .1 .8 .1 1.6 .1 2.1 .1-8.3 .1 6.9 .1-4.2 .1 4.5 .1 .6 .1-3.9 .1 4.2 .1 .1 .1-2.2 .1 1 .1-1.1 .1-.9 .1-.9 .1 1.8 .1-.2 .1-1.7 .1 .7 .1 2.5 .1 3.4 .1-1.8 .1-4 .1 3.4 .1 1.1 .1-.7 .1-4.8 .1 1.7 .1 .3 .1 1.5 .1 1.1 .1-7.8 .1 6 .1-1.5 .1-.8 .1-1.7 .1 3.9 .1 2.4 .1-2.2 .1-1.5 .1-3.8 .1 6.1 .1 1.3 .1-.4 .1 2.4 .1-.6 .1-1.8 .1-1.3 .1 1.3 .2-4.4 .1 2.5 .1-1.9 .1 1.8 .1-1.8 .1 .4 .1 0 .1 2.9 .1-2.1 .1 2.3 .1-.5 .1-1.8 .1 0 .1 3.3 .1 1.3 .1-3.2 .1-3.3 .1 3.7 .1-5.9 .1 9.5 .1-7.7 .1 1.1 .1-1.5 .1 3.8 .1-4.2 .1 .8 .1 .7 .1 2.7 .1-1 .1-3.1 .1 3.4 .1 1.6 .1 2 .1-1.2 .1 3 .1-3.8 .1 1.1 .1 4.7 .1-2.7 .1-1.5 .1 .3 .1 2.3 .1-1.9 .1-3.1 .1 4.4 .1-2.8 .1-2.6 .1 1.9 .1 .8 .1-3.3 .1-1 .1 3.1" fill="none" stroke="#000" stroke-width="0.5" stroke-linejoin="bevel"/>
<path d="M391.1 752.1l.1 1.9 .1-3.8 .1 .4 .1 1 .1-.9 .1 1.9 .1-2.6 .1 2.8 .1 .8 .1-1.6 .1 .1 .1-1 .1-.6 .1-1.8 .1 5.4 .1 .5 .1-3.4 .1-1.8 .1 .5 .1 2 .1 .2 .1 .1 .1-3.7 .1 2.4 .1 .2 .1 2.8 .1-3.9 .1 1.9 .1 .2 .1 .1 .1-.3 .1-5.1 .1 3.8 .1-.1 .1 2.5 .1 1.2 .1 1 .1-2.5 .1-1.4 .1-.1 .1 3 .1-3.7 .1 2.1 .1-3 .1 2 .1-.1 .1 1.4 .1-.1 .1-1.2 .1-1 .1-.3 .2 2.6 .1 .9 .1-2.9 .1-1.6 .1 3.2 .1-.1 .1 0 .1-1.4 .1-1.1 .1 3.4 .1-2.5 .1-1.7 .1 1.4 .1 2.5 .1 1.2 .1-2.7 .1-2.3 .1 1 .1 1.2 .1 .8 .1-.7 .1 1.5 .1-2.4 .1 1.3 .1 1.1 .1-.7 .1-1.7 .1-.6 .1 .2 .1-2.8 .1 2.8 .1 3 .1-3.6 .1 3.4 .1 .5 .1-3.2 .1 2.3 .1-1.1 .1 .9 .1-.5 .1 2.7 .1-4.7 .1-.5 .1 2.5 .1-2.6 .1 .7 .1-.6 .1-.5 .1 4.8 .1-3.6 .1 1.7 .1-1.6 .1 1.8 .1-4.1 .1 .7 .1 2.9 .1-.8 .1 .4 .1-.1 .1-1.2 .1 3.4 .1 .8 .1-4.5 .1 1.4 .1 1.4 .1 .4 .1 1.4 .1-2.1 .1 2.5 .1-3.3 .1-.2 .1 1.7 .1-3 .1 .5 .1 1 .1 1.6 .1-.1 .1 .5 .1 1.8 .1-3.5 .1-1.2 .1 3.9 .1-3.3 .1 1.1 .1-.6 .1-1.1 .1-.3 .1 2.8 .1-2.5 .1 2 .1 2.9 .1-7.2 .1 3.6 .1 .6 .1-3 .1 1.6 .1 1.8 .1-1.3 .1-.2 .1 .9 .1 3.2 .1-3.8 .1 1.9 .1 .2 .2-1.9 .1-3.8 .1 6 .1-2.7 .1 3.2 .1 .2 .1-2.5 .1-2 .1 1.1 .1 0 .1-1.6 .1 1.3 .1 1.9 .1 .6 .1-1.1 .1-1.2 .1 1.2 .1-.1 .1 .5 .1 .5 .1 .7 .1-.7 .1-4.6 .1 1.2 .1-.5 .1 2.2 .1 .5 .1-1.7 .1 2.1 .1-2.7 .1 1.8 .1-1.2 .1 2.8 .1-4.6 .1 2.9 .1-.8 .1 2.5 .1-.1 .1-2.5 .1 4.7 .1-5.7 .1 3.3 .1-2.8 .1 2.9 .1-1.1 .1-.2 .1-1.5 .1 3.2 .1-2.5 .1 .4 .1-.8 .1 2.8 .1-1.5 .1 1.3 .1-.6 .1-2.6 .1-.2 .1 3.8 .1-1.4 .1-.1 .1 1.5 .1-1 .1 1.2 .1-2.8 .1 2.6 .1-4.2 .1 6 .1-4.5 .1 0 .1 2.2 .1 1.9 .1-3.4 .1 2.5 .1-4.1 .1 1.8 .1 .2 .1-.2 .1-1.2 .1 1.4 .1-1 .1 .3 .1 1.6 .1-2.9 .1-.8 .1 .8 .1 1.8 .1-1 .1 3.1 .1-.5 .1 .1 .1-.5 .1-2.5 .1 2.9 .1-.3 .1 1.6 .1-1.5 .1 1.7 .1-4.5 .1 1.9 .1-3.1 .1 .4 .1 1.6 .1 .2 .1 .4 .2 1 .1 2.7 .1-3.8 .1 1.5 .1 .5 .1-.7 .1-1 .1-1.2 .1 2.9 .1 .5 .1-4.1 .1-.4 .1 .9 .1 1.9 .1 1.9 .1-4.7 .1 .1 .1 3.3 .1-1.8 .1-1.2 .1-2.5 .1 2.3 .1 1.1 .1 1.4 .1 .4 .1-.7 .1 1 .1-2.2 .1 .8 .1 .7 .1 1.3 .1-1.9 .1 .7 .1-1.2 .1 2.3 .1-2.8 .1 1.3 .1-3.5 .1 4.7 .1-4.8 .1-1.7 .1 5.2 .1-3.7 .1 1.6 .1 4.1 .1-1.2 .1-2.7 .1 1.2 .1-1 .1 .8 .1-1.8 .1 2.9 .1 1.5 .1-.7 .1-1.1 .1 1.5 .1-1.5 .1 .3 .1 .2 .1-.5 .1 .6 .1-2.4 .1 1.6 .1-1.2 .1 3.9 .1-2.6 .1 .9 .1 2.6 .1-7 .1 5.8 .1-3.7 .1 .1 .1-.7 .1 2.8 .1 2.9 .1-4.8 .1 1.3 .1-1.3 .1 1.4 .1-2.5 .1 1.3 .1 1.5 .1-4.8 .1 5.3 .1 2.6 .1-4.3 .1-.2 .1-.2 .1 1.9 .1-.9 .1 1.5 .1-.8 .1-1.9 .1 2.1 .1-2.2 .1 1.7 .1-.5 .1 .7 .1-2.6 .1 1.8 .1 1.6 .1-1.6 .1-1.9 .1 1.6 .2 1.4 .1-.5 .1 1 .1-4.7 .1 2 .1-1.2 .1 .1 .1 2 .1-2.5 .1 2.2 .1-.8 .1 1 .1-.2 .1 .5 .1 .7 .1-1.7 .1 2.5 .1-1.7 .1 4 .1-4.1 .1 .9 .1-4.3 .1 2.7 .1-.7 .1 5.6 .1-3.8 .1 1.3 .1-4.3 .1 .6 .1 1.5 .1-.1 .1 .1 .1 .3 .1-1.2 .1 .1 .1 1.3 .1 1 .1-4.1 .1 3.5 .1 .6 .1-5.4 .1 3.9 .1 1.1 .1 1.5 .1-.6 .1-4.3 .1 3 .1-2.6 .1 3.9 .1-3.3 .1 1.1 .1 1 .1 2.4 .1-5.5 .1 2.1 .1 .3 .1-1.6 .1 3.3 .1-4.3 .1 1.1 .1 .4 .1-.1 .1 2.3 .1-.9 .1-1.1 .1 1.7 .1-3.3 .1 .9 .1-1 .1 5.1 .1-5.3 .1 3.5 .1 .5 .1-.8 .1-3 .1 1.7 .1 .1 .1-1.1 .1-.1 .1-.1 .1 .3 .1 1.1 .1-.3 .1 3.3 .1-2.1 .1 3.6 .1-3.7 .1-.4 .1 1.5 .1-.4 .1-2.7 .1 2.4 .1-.6 .1-3.3 .1 2.8 .1-1.1 .1 .8 .1-.2 .1-1 .1 2.4 .1-1.7 .1 2.2 .1-.1 .1-1.8 .2 2.1 .1 3.6 .1-4.2 .1-2.7 .1 4.1 .1-2.8 .1 1.7 .1 2 .1-2.1 .1 3.4 .1-6 .1 2.7 .1-1.3 .1 1.7 .1 1.6 .1-1.9 .1-2.8 .1 .7 .1 2 .1 .6 .1-1.1 .1 2.2 .1-2.7 .1 3.3 .1-1.6 .1-2.8 .1 1.5 .1 1.1 .1-1.4 .1 .8 .1-.9 .1-1.5 .1 2.1 .1 2.8 .1-3.7 .1 2.1 .1-3.4 .1 .3 .1 1.7 .1-.8 .1 3.3 .1 .5 .1-2.4 .1-1.2 .1-1.8 .1 3.6 .1 .4 .1-.1 .1-.2 .1-1.6 .1 2.8 .1-3.8 .1 3.6 .1-6.2 .1 2.4 .1 1.3 .1 3.1 .1-3.4 .1 3.8 .1-4.8 .1 2.6 .1-1.5 .1-.5 .1-.7 .1-.8 .1 .4 .1 .7 .1 2.4 .1 .9 .1-3.3 .1 .7 .1 1.5 .1-.8 .1-1.7 .1 0 .1 2.6 .1 1.3 .1 1 .1-2.5 .1-.3 .1 1.8 .1-4.2 .1-1.4 .1 4.6 .1-2.6 .1 1.5 .1-1.2 .1 .7 .1 .4 .1-1.8 .1 .5 .1 1.9 .1-1.6 .1 1.9 .1-1 .1-1.1 .1 .3 .1 3.5 .1-3.8 .1 3.1 .1-2.4 .1-.9 .1 3.9 .1-.8 .2-3.2 .1 .8 .1 4.2 .1-5.3 .1 2.7 .1 1 .1-2.5 .1 1.6 .1-4.3 .1 2.7 .1-3.7 .1 2.6 .1 1.1 .1 .3 .1-.4 .1-.3 .1 2 .1-2 .1 2.1 .1-.2 .1-.9 .1-1.9 .1 .3 .1 6 .1-6.6 .1 2 .1-.1 .1-2.4 .1 3.8 .1 .6 .1 1.6 .1-1.4 .1-3.4 .1 2.8 .1 .4 .1-2.5 .1 2.5 .1-.5 .1 .1 .1-2.1 .1 1.9 .1-.3 .1-.6 .1 2.9 .1-2.7 .1 2.7 .1-1.1 .1-1.2 .1-1.1 .1 .7 .1-2.3 .1 1.6 .1-.7 .1 1.8 .1 .3 .1-4.1 .1 5.8 .1-7.4 .1 5.9 .1-2.5 .1 3.4 .1-3.1 .1 .3 .1 4.2 .1-2.5 .1-2.3 .1-.6 .1 1.2 .1 1.5 .1-.9 .1 2.2 .1-.5 .1-2.1 .1 .4 .1-1.3 .1 .9 .1-.7 .1 1.2 .1-1.2 .1-3.2 .1 5.9 .1-1.9 .1 1 .1-2.7 .1 1.1 .1 2.2 .1-1.7 .1-.1 .1 .6 .1-.7 .1-1.9 .1 1.3 .1 1.5 .1-.8 .1-7.3 .1 8.8 .1-3.1 .1 3.1 .1 1.7 .1-1.6 .1-1.8 .1 1 .1 .8 .1 .1 .2 .4 .1 .1 .1-.8 .1 3.3 .1-5.1 .1 .3 .1 .3 .1-1.4 .1 2.6 .1-1 .1 4.5 .1-4.8 .1 1 .1-1.7 .1-.5 .1 1.8 .1 1.9 .1-4.4 .1 2.3 .1-1.7 .1 2.5 .1 .7 .1-1.1 .1 1.3 .1 2 .1-4.4 .1-.1 .1-.4 .1 2.6 .1-1.4 .1 2 .1 .5 .1-3.4 .1 4 .1-2.6 .1-4.6 .1 1.9 .1 1 .1 .1 .1 1.4 .1 .7 .1-4.6 .1 3.9 .1 .7 .1-2.2 .1 1.2 .1-2.3 .1 3.3 .1 .4 .1-.8 .1-3.5 .1 1.2 .1 1.1 .1 .3 .1-.4 .1 2.5 .1-2.8 .1 1.7 .1-1.2 .1 .3 .1-.4 .1 1.3 .1-2.5 .1 1.1 .1 1.9 .1-2.1 .1 1.4 .1-1.3 .1-.8 .1 2.3 .1-.8 .1-.1 .1 0 .1-3.5 .1 3 .1 2.5 .1-2.1 .1 1.1 .1-5.2 .1 5.4 .1 .8 .1-3.2 .1 2.2 .1-.3 .1-.2 .1 .7 .1-.4 .1 3.1 .1-3.7 .1-1.3 .1-2.1 .1 3.1 .1-1.3 .1 2.7 .1-3.8 .1-1.3 .1 3.3 .1 1.1 .1-.7 .1-2.6 .1 4.9 .1-4.4 .1 3.9 .1-.3 .2-1.9 .1-.6 .1-.6 .1-.8 .1 4.5 .1-2.1 .1-1.2 .1 .8 .1-1.4 .1 1.8 .1 .6 .1 3.4 .1-.6 .1-4.7 .1 3.4 .1-2.5 .1-.6 .1 1.3 .1-1.9 .1 2.8 .1-2.1 .1 1.2 .1 2.4 .1 .9 .1-3.2 .1-3.1 .1 .8 .1 1.2 .1-.6 .1-.1 .1 1.9 .1-2.7 .1 1.9 .1 1.3 .1-7.6 .1 5.6 .1 1.3 .1-1.5 .1 3.4 .1 0 .1-5.4 .1 2.2 .1 3 .1 .9 .1-2.6 .1 1.7 .1-4.2 .1 5.7 .1-5.5 .1 2.4 .1 1.9 .1-2.2 .1 2.3 .1-1.2 .1-.1 .1 3.3 .1-2.1 .1-2.7 .1 4.2 .1-1.2 .1-1.4 .1-2.6 .1 0 .1-1 .1 4.3 .1-3.1 .1 1 .1 3.7 .1-4.2 .1 .9 .1 1.2 .1 .7 .1 .9 .1-3.7 .1 .1 .1 1.3 .1 .2 .1 .4 .1-2.4 .1 1 .1 3.4 .1-3.2 .1-.7 .1 1.9 .1-.3 .1 .2 .1-2.1 .1 1.8 .1-.6 .1-.2 .1-2.6 .1 5.4 .1-6.8 .1 6.2 .1-1.7 .1 1 .1-1.6 .1-.8 .1-3.1 .1 2 .1 3.3 .1-1.6 .1 .2 .1 1.4 .2-2.2 .1 .5 .1 1.3 .1 .4 .1-2.5 .1 1.5 .1-2.3 .1 .6 .1 3.6 .1 1.6 .1-3.8 .1 1.3 .1 .6 .1-.5 .1-3.9 .1 3 .1-3.8 .1 2 .1 4.5 .1-3.9 .1-1.8 .1 5.7 .1-.9 .1-2 .1 .8 .1-4 .1 4.5 .1-4.5 .1 5.5 .1-1 .1-2.1 .1-.3 .1 .6 .1-2.6 .1-.3 .1-.3 .1 3.6 .1-1.7 .1 2 .1-3 .1 6.7 .1-3 .1-.8 .1 .5 .1-3.7 .1 5.3 .1-1 .1 .7 .1-2.1 .1 1.6 .1-7.6 .1 4.4 .1 5.3 .1 0 .1-5.2 .1 .8 .1 3.5 .1-2.8 .1 2.7 .1-4.2 .1 3.8 .1-1.2 .1-2 .1 .8 .1-1.8 .1 1.1 .1 3.4 .1-3.1 .1 2.5 .1-4.6 .1-.2 .1 .7 .1-1.8 .1 2.4 .1-1.2 .1 1 .1 .1 .1 0 .1 1 .1-2.6 .1 5.1 .1 .8 .1-1.4 .1-4.2 .1 3.3 .1 1 .1 .1 .1-2.4 .1 1 .1-2.3 .1 2.7 .1-2.1 .1 3.1 .1-2.5 .1-4.4 .1 5.5 .1 .1 .1-2 .1 3.5 .1-.9 .1 .1 .1-1.4 .1 2.9 .1-9.3 .2 5.4 .1 1.1 .1 .6 .1-.2 .1 4 .1-6.3 .1 3.8 .1-3 .1 1.7 .1 .1 .1-1.2 .1-2.1 .1 3.1 .1 .9 .1-1.9 .1 5.2 .1-2.8 .1 .2 .1-1.1 .1 1.8 .1-3.9 .1 2 .1-.8 .1 .2 .1 .6 .1 .6 .1-3.4 .1 .8 .1-1.2 .1 2.9 .1-.7 .1-.2 .1 1.2 .1-.5 .1 2.8 .1-.7 .1-.5 .1 .4 .1-2.8 .1 .1 .1-.1 .1 1.2 .1-2.2 .1 .1 .1 .6 .1 1.6 .1-3.3 .1 4.9 .1 .7 .1-.5 .1-4.5 .1 2 .1 4.7 .1-.4 .1-3.7 .1 1.3 .1 2 .1-5.7 .1 1.9 .1-2.4 .1 2.5 .1-1 .1 2.2 .1-2.3 .1 1.8 .1-1.8 .1 .7 .1 2.3 .1-2 .1-.2 .1 1.5 .1-1 .1-1.9 .1-.5 .1 2 .1 4.2 .1-5.4 .1-1.9 .1 3.7 .1 1.1 .1-2.1 .1 .2 .1-1.2 .1 2.7 .1-4.2 .1 1.4 .1 3.4 .1-3.6 .1 2.1 .1-1.5 .1 .6 .1 .5 .1-.4 .1 1.3 .1 .5 .1-.8 .1 0 .1-1.2 .1 .4 .1 3.2 .1-4.3 .1 1.5 .1-1.6 .1 .3 .2 .8 .1-.6 .1 3.6 .1-5.3 .1-.7 .1 2.3 .1 2 .1-2.1 .1 1.8 .1-3.4 .1 3.6 .1 1.3 .1-.6 .1-.2 .1-2.5 .1 1.3 .1-.6 .1 1.1 .1-2.9 .1 2.3 .1-.4 .1-2.4 .1 2.3 .1 5.1 .1-4.2 .1-2.4 .1 1.3 .1 2.1 .1-3.5 .1 4.7 .1 1.2 .1-2.1 .1 1.6 .1-2.9 .1-.4 .1 .5 .1 .5 .1 .9 .1-3.5 .1 5.1 .1-4.8 .1 .9 .1 .5 .1-.9 .1 3.6 .1-4.5 .1 .8 .1-1 .1 5.6 .1-4.1 .1 .7 .1 3.8 .1-3.5 .1-.7 .1 1.5 .1-2 .1-.4 .1 1.8 .1-.2 .1-1.9 .1 3.1 .1-2.6 .1-1.5 .1 2.4 .1-.7 .1 .6 .1-1.4 .1 4.1 .1 .3 .1-1.5 .1-.4 .1-2.8 .1-.7 .1 1.4 .1-1.2 .1 3 .1 .2 .1 1.8 .1-4.8 .1 1.1 .1-2 .1 5.3 .1-.6 .1-2.6 .1 2.1 .1-3.2 .1 1.6 .1 1.6 .1 .8 .1-2 .1-2.9 .1-.6 .1 4.8 .1-2.2 .1 2.1 .1-1.5 .1 4.8 .1-3.4 .1 2.1 .1-5.8 .1 3.3 .1-1.5 .1 .7 .1 2.4 .2-3.4 .1-.8 .1 4.9 .1-4 .1-1 .1 1 .1 1.2 .1 2.6 .1-1.3 .1-.2 .1-2.7 .1-1 .1 2.3 .1-1.7 .1 6 .1-4.7 .1 2.5 .1-3.7 .1-.6 .1 .2 .1 .6 .1-.6 .1-1.2 .1 4.1 .1-3.7 .1 4.3 .1 .9 .1-3.5 .1-.3 .1 .8 .1 1.7 .1-2.2 .1 1.4 .1-4.7 .1 3.7 .1-.1 .1 1.6 .1-1.9 .1-1.9 .1 4.2 .1-.6 .1 2.7 .1-3.2 .1-3 .1 5.1 .1-1.5 .1 .6 .1-.8 .1 .9 .1-.8 .1 1.4 .1-2.4 .1-1.3 .1 .4 .1 4.6 .1-5.6 .1 1 .1-.7 .1 3.5 .1-.4 .1-2.3 .1-1.9 .1 4.8 .1-2.2 .1-.3 .1 1.4 .1-1.2 .1 1.5 .1-3.2 .1 5.1 .1-3.3 .1 1.4 .1-2.4 .1 5 .1 1.1 .1-7.3 .1 1.4 .1 .6 .1 .7 .1-.6 .1 1.1 .1-.7 .1-2.3 .1 3.6 .1 .4 .1-4.8 .1 4.1 .1-1.2 .1 .7 .1-1.4 .1-.1 .1 1 .1 1.9 .1-.1 .1-1.8 .1-3 .1 6.3 .1-2.9 .1-1 .1 1.8 .1-1.4 .1 .6 .1-1.6 .1-1.5 .2 3.4 .1-1 .1-.3 .1 .5 .1 .3 .1 3.7 .1-3.9 .1 2.1 .1-1.1 .1-1.6 .1-.2 .1 1.8 .1 0 .1-.3 .1 1.4 .1-4.6 .1-.3 .1 3.4 .1-3.2 .1 1.5 .1 3.2 .1-3.5 .1 .5 .1 .9 .1 2.8 .1-1.5 .1 3 .1-4 .1 .4 .1 1.5 .1 .2 .1-4.5 .1 5 .1-3.9 .1 1.1 .1-2 .1 5 .1-3 .1-2 .1 2.4 .1 3.7 .1-.5 .1-2.2 .1-3 .1-.9 .1 2.5 .1-1.4 .1-.2 .1 .7 .1 2.5 .1-2.7 .1 3 .1-2 .1-1.2 .1-.5 .1 2.1 .1-1.3 .1-1.5 .1 .9 .1 1.8 .1-.6 .1 .5 .1-.1 .1-1.2 .1-.6 .1 1.9 .1-1.3 .1 .9 .1 .1 .1 2 .1-2.4 .1 .9 .1 .6 .1-2.6 .1 .5 .1 0 .1 2.2 .1 1.9 .1-2.1 .1-.7 .1-.3 .1-2.1 .1 1.9 .1-2 .1 3.2 .1 1.2 .1-3.4 .1 3.5 .1 .7 .1-1.7 .1-1.6 .1-1.3 .1 1.9 .1-1.6 .1 1.6 .1 2.9 .1-1 .1 1 .1-2.5 .1 3.3 .1-1.2 .1-2.6 .1-1.4 .1 .6 .2 1.6 .1-3.7 .1 3.5 .1-5.9 .1 8.3 .1 .7 .1-.2 .1-.9 .1-1.8 .1-2.2 .1 2 .1 .1 .1-.2 .1-.6 .1 1.9 .1-2.7 .1 1.2 .1-.5 .1-.5 .1-.1 .1-.3 .1 .1 .1 .4 .1 3.5 .1 1 .1-3 .1-2.1 .1-.2 .1 .3 .1-.9 .1 4.5 .1-2.1 .1-.5 .1 1 .1-2 .1-.4 .1 .5 .1 .3 .1-3.8 .1 3.9 .1 0 .1-2 .1-1.1 .1 4.7 .1 .2 .1-4.1 .1 .4 .1 .5 .1 1.9 .1-1.6 .1 3.6 .1-.5 .1-4.6 .1 4.8 .1-1.9 .1-1.3 .1 .5 .1 2.4 .1-.8 .1-2 .1 1.7 .1-3.6 .1 3.1 .1-3.4 .1 3.2 .1-2.2 .1 1.4 .1 .7 .1 2.4 .1-3.3 .1 .8 .1-.4 .1 1.5 .1 .7 .1 .1 .1-1.5 .1-1.8 .1 2.2 .1 1.3 .1-.4 .1-.3 .1 1.6 .1-2.1 .1 .5 .1-.5 .1-3.9 .1 1.6 .1-.9 .1 2.5 .1-.4 .1 1.8 .1 1.6 .1-.3 .1-2.1 .1-1.4 .1-3 .1 3.9 .1 2.6 .1-2 .1-1.6 .1 2.9 .1-1.2 .1-1.7 .1 .7 .2-.6 .1 .7 .1 .1 .1-2.4 .1 .8 .1 1.1 .1-.4 .1 1 .1 0 .1-.9 .1 .4 .1-4.1 .1 4 .1-.3 .1-3 .1 5.3 .1-1.8 .1-2 .1 1.8 .1 .5 .1 1.3 .1-1.5 .1 1.3 .1-3 .1 .8 .1 1.5 .1-2.5 .1 3.7 .1-.2 .1-2.8 .1 .8 .1 2.4 .1-.6 .1-.9 .1 .7 .1-1.5 .1 .6 .1-1.1 .1 1 .1-.7 .1 1.3 .1-1.4 .1 .1 .1-.6 .1 .6 .1 1.3 .1-.6 .1-2.3 .1 2.6 .1-.5 .1-1.4 .1 .4 .1-.1 .1 2.7 .1 0 .1-2 .1-3.1 .1 6.7 .1-.2 .1-3.9 .1 .6 .1 2.1 .1-3.2 .1 1.2 .1 1.1 .1-.7 .1 .8 .1-1.4 .1 1.7 .1 .7 .1-.7 .1-1.8 .1-1.3 .1 3 .1 .7 .1-2.3 .1-1.4 .1 2.6 .1-3.3 .1 3.9 .1-3.7 .1 1.2 .1 4.1 .1-3.8 .1 1.3 .1-.1 .1 1 .1-1.3 .1 1.1 .1-1.3 .1-1.6 .1-.5 .1 .4 .1 .4 .1 .8 .1 1.1 .1 1.5 .1-3.6 .1 2.5 .1-1.1 .1 2.6 .1-3 .1-1.6 .1 2.5 .2-1.7 .1 1.8 .1-.6 .1 1.1 .1 3.7 .1-5.1 .1-.2 .1-.2 .1-1.9 .1 1.3 .1 .8 .1 1.9 .1-6.1 .1 7.3 .1-1.6 .1 .1 .1-2.6 .1 1.2 .1-.3 .1 3.9 .1-2.1 .1-2.7 .1 2.7 .1 1.2 .1-2.5 .1 1.4 .1-1 .1-.6 .1 2.3 .1-1.6 .1-2.4 .1 2.7 .1-.1 .1 .6 .1-1.5 .1-.3 .1 2.4 .1-5.7 .1 1.3 .1 5.7 .1-4.5 .1 .1 .1 4.2 .1 .2 .1-1.9 .1-3.3 .1 3.5 .1-1.2 .1-.1 .1 .3 .1-3.5 .1 2.9 .1 2.5 .1-2.5 .1-.6 .1 2.9 .1-2.1 .1 1.3 .1 1.2 .1-.6 .1-3 .1 1.7 .1 2.5 .1-4 .1 1.7 .1 4.6 .1-3.2 .1 2.2 .1-3 .1-5.8 .1 1.2 .1 3 .1 2.9 .1-.4 .1-.7 .1-1.7 .1-1.8 .1 2.1 .1-2.1 .1 2.4 .1 3.4 .1-4.2 .1-1.2 .1 .8 .1-.9 .1 3.5 .1-1.2 .1-.5 .1-.5 .1-.4 .1-.7 .1 2.4 .1 1.1 .1-1.1 .1-.4 .1 .4 .1 .9 .1-3.1 .1-.2 .1 0 .1 .3 .1 .4 .1 1.8 .1-.1 .2-1.2 .1 3.7 .1-3.7 .1 3.9 .1-6.6 .1 2.1 .1 2.2 .1-1.1 .1 .9 .1-3.6 .1 .7 .1 1.8 .1 1 .1-1.9 .1 .6 .1 .5 .1 .8 .1 1.8 .1-.3 .1-1.1 .1 1.6 .1 1.2 .1-7.1 .1 3 .1-1.2 .1 2.3 .1-3.4 .1 2.1 .1-1.1 .1-.6 .1 1.2 .1-2.6 .1 4.9 .1-1 .1-1.4 .1 1 .1-.9 .1-3 .1 4.3 .1-1 .1 1.3 .1 .6 .1 1.9 .1-4.2 .1-1.6 .1 2.4 .1-2 .1 4.3 .1-1.9 .1-.1 .1-1.5 .1 1.2 .1-.9 .1-1.6 .1 4.5 .1-1.7 .1-.9 .1 1.8 .1-1.8 .1 3.7 .1-1.3 .1-1.3 .1 2.7 .1-6.9 .1 .5 .1 1.1 .1 .7 .1-.1 .1 2 .1 0 .1 3.1 .1-5.1 .1 1.9 .1 3.1 .1-2 .1-2.3 .1 3.7 .1-1.9 .1 2.9 .1-3 .1-.7 .1 4.1 .1-2.8 .1-2.1 .1 1.4 .1-3.2 .1 1 .1-.5 .1 4.2 .1-.5 .1-2.3 .1-.3 .1 1.8 .1-.5 .1 1.3 .1-.8 .1-1.6 .1-1.8 .1 1.5 .1-.5 .1 1.4 .1-.8 .1-.8 .1 3.3 .2-3.3 .1 .7 .1-.8 .1 1 .1 2 .1-.4 .1-.9 .1 4.5 .1-3 .1-.3 .1-.1 .1 .7 .1 .2 .1-1.4 .1 .6 .1-3.3 .1 2.3 .1 .1 .1-1.6 .1 1.6 .1-.1 .1-2.1 .1 .4 .1 2 .1 1.9 .1-1.2 .1-2 .1 3.8 .1-2.3 .1-.5 .1 2.5 .1-4.6 .1 2.5 .1 2.2 .1-.9 .1-2.5 .1-1.6 .1-.9 .1 2.9 .1 .7 .1-3.1 .1 .5 .1 5 .1-2.8 .1-1 .1 1.3 .1-1.1 .1-.5 .1 2.9 .1-3.8 .1 1.9 .1-1.5 .1 1.3 .1 2.6 .1-4.4 .1 1.7 .1-2.1 .1 1.7 .1-2.7 .1 5 .1-1.4 .1 1.4 .1 .6 .1-2.2 .1 2.8 .1-2.3 .1-2.4 .1 3.1 .1 0 .1-.5 .1-1.6 .1-1.5 .1 3.1 .1-.6 .1-.6 .1 1.1 .1-.9 .1 .1 .1-1.8 .1 3.3 .1-1.1 .1-.5 .1 1.8 .1-.6 .1-.6 .1 2.5 .1-1.7 .1 1.1 .1-1 .1 .3 .1-.3 .1-2.1 .1-.9 .1 .7 .1 2.8 .1-1.9 .1 2.7 .1-3.1 .1-.3 .1 1.8 .1-.6 .1-1.4 .1 .2 .1 2.2 .2 .3 .1 1.6 .1-4.9 .1 3 .1-1 .1-.9 .1 3.3 .1-1.1 .1-.7 .1 2.2 .1-2.4 .1 .5 .1-1.5 .1-.5 .1 0 .1 1.6 .1-.9 .1 .1 .1-1.4 .1 4.9 .1-2.7 .1 .8 .1-1.4 .1-1.6 .1 1.4 .1 .1 .1 1.4 .1-1.7 .1 .2 .1 2.1 .1-2.8 .1 1.8 .1 2.8 .1-3.2 .1-1.2 .1-3.6 .1 4.2 .1 .4 .1-1.2 .1 .1 .1 4.1 .1-1.9 .1-1.4 .1 .3 .1-1.5 .1-.3 .1 1.4 .1 .9 .1-3.5 .1 4.3 .1-1.3 .1-3.6 .1 2.4 .1 0 .1 1.1 .1-2.1 .1-2.9 .1 4.4 .1 .9 .1-2.3 .1-1.3 .1 2.6 .1 2 .1-2 .1 2 .1-3 .1 2 .1-1.3 .1 .8 .1-1.3 .1 4.9 .1-4 .1 .2 .1-.2 .1 3 .1-4.8 .1 3.4 .1-1.9 .1 1.7 .1-.5 .1 .4 .1 2 .1-1.7 .1-3.3 .1 4.2 .1-2.2 .1 3.2 .1-4.8 .1 4.2 .1-.4 .1-1.7 .1-1.2 .1 3.1 .1-2 .1-1.1 .1 .9 .1 1.3 .1-2 .1-1.2 .1-2 .1 1.7 .1 5.1 .1-5.1 .1 .4 .2 4.8 .1-4.2 .1-.7 .1 2.3 .1 1.7 .1-1.7 .1-1.5 .1 2 .1 .2 .1 1 .1-3 .1 2.7 .1-.6 .1 0 .1-3.4 .1 .5 .1-2.3 .1 5.2 .1 .5 .1-2.2 .1 2.8 .1-1.5 .1-2 .1 1.1 .1-1.4 .1 2.7 .1-.4 .1-.6 .1-1.7 .1-.4 .1-.2 .1 1.9 .1 1.4 .1-.5 .1-.7 .1 2.6 .1-1 .1 1.3 .1-3.4 .1 .1 .1 2 .1-3.3 .1 1.5 .1 .4 .1-1.4 .1 .6 .1 2.4 .1-.7 .1 1.3 .1-3.5 .1 1.3 .1-1.8 .1 2.8 .1 .8 .1-3.9 .1 .4 .1 4 .1-4.3 .1 3 .1-3.8 .1 1.7 .1 1.9 .1-.6 .1-.1 .1 4.7 .1-6.2 .1 1.7 .1-1.8 .1 6.1 .1-6 .1 1.1 .1 2 .1-5.3 .1 2 .1 3 .1-.3 .1-4.5 .1 .1 .1 2.2 .1 1.6 .1-3.8 .1 4.1 .1-3.3 .1-.4 .1 2.9 .1 .8 .1-.1 .1-.9 .1-2.4 .1 2.5 .1 1.4 .1-3.8 .1 .5 .1 1.6 .1-2 .1 1.8 .1-2.8 .1 3.3 .1 1.1 .1-.5 .1-1 .1 0 .1 1.2 .1-.1 .2 1.4 .1-1.3 .1-3.7 .1 3.1 .1 1.3 .1 3.4 .1-3.7 .1-1.1 .1 1.2 .1-3.4 .1 3.4 .1-1 .1-2.9 .1 2.5 .1-2.2 .1 2.5 .1-1.7 .1-2.3 .1 5.3 .1-2.5 .1 2.8 .1-1.8 .1 1 .1-1.3 .1 2.2 .1 1.6 .1-4.6 .1 .8 .1-2 .1 1.9 .1 .1 .1 1.7 .1 .9 .1-2.6 .1 2.2 .1-4.4 .1-.1 .1-.1 .1 .5 .1 2.2 .1 .8 .1-5.1 .1 4.6 .1-2.6 .1 3.6 .1-2.1 .1-.8 .1 4.4 .1-.3 .1-1.4 .1-.6 .1-.7 .1 1.4 .1 0 .1 .5 .1 0 .1-2.4 .1 1.5 .1 1 .1 .1 .1-.6 .1 1.4 .1-3.1 .1-.4 .1 3 .1-1.3 .1-.3 .1-2.1 .1 2.7 .1-.7 .1 1.2 .1-.1 .1-.5 .1-6.9 .1 3.8 .1 1.3 .1 .1 .1 3.2 .1-.8 .1-3.2 .1 1.3 .1-1.9 .1 1.9 .1-1 .1 .8 .1-.7 .1 .3 .1 1.5 .1 0 .1-.5 .1 .8 .1-1.2 .1-.8 .1 .7 .1 3.5 .1-2.2 .1-.3 .1-.3 .1 .5 .1-.5 .1-2.2 .1 .6 .1-1.5 .1 5.3 .2-1 .1 .4 .1-3.9 .1 .5 .1 2.2 .1 3.3 .1-4.8 .1-1.8 .1-.4 .1 3.8 .1-2.7 .1 1.9 .1-3.1 .1-1.7 .1 3.5 .1-.1 .1 5.6 .1-5.5 .1 4 .1-2 .1-2.5 .1 4.3 .1-6.9 .1 5 .1-2.3 .1 2.3 .1-2.1 .1 2.2 .1-.9 .1 4 .1-5.8 .1 .5 .1 1.8 .1-.1 .1 1.4 .1-.6 .1-1.7 .1-.1 .1-.8 .1-.7 .1 .3 .1 1 .1 .1 .1 .9 .1-2.5 .1 3.5 .1 .1 .1-2 .1 3.1 .1-2 .1 2.1 .1-1.1 .1-7.6 .1 9 .1-4.6 .1 2.7 .1 1 .1 .6 .1-3.7 .1 1.8 .1-.7 .1-2.9 .1 5.3 .1 1.3 .1-3.9 .1-2.2 .1 2.1 .1-2.2 .1 .5 .1 1.4 .1 1.9 .1-1.6 .1-1.7 .1 1.1 .1 .9 .1-.7 .1-1.2 .1 .4 .1 1.9 .1-3.3 .1 2.2 .1 .3 .1 3.5 .1 .6 .1-3.4 .1 .4 .1-4.1 .1 4.6 .1 .4 .1-3 .1 4.9 .1-3.7 .1 2.4 .1 2.7 .1-1.7 .1-2.9 .1-.3 .1 .5 .1 1.1 .1-1.7 .1-.4 .1 .4 .1-2.7 .1 1.1 .2 2.3 .1 .6 .1 .5 .1-1.9 .1-1.5 .1-1 .1 2.5 .1 1.3 .1 .8 .1 1 .1-5.9 .1 3.7 .1 .2 .1-4.1 .1 4.4 .1-1 .1-.9 .1 4 .1-.9 .1-8.1 .1 5.1 .1 4.1 .1-2.5 .1-.8 .1-1.3 .1 1.3 .1 1.9 .1-2.1 .1-2 .1 3.1 .1 .9 .1-.1 .1 2.1 .1-6.2 .1 1.6 .1 .8 .1-.5 .1-1.9 .1 2.9 .1 1.6 .1-4.2 .1 5.9 .1-3.4 .1-2.7 .1-.6 .1 2.8 .1 0 .1 .1 .1 .3 .1-.3 .1-2.6 .1 1.5 .1-2.1 .1 2 .1 1.6 .1-.1 .1-4.3 .1 4.9 .1-2.9 .1 3.5 .1-2.7 .1-4.2 .1 5.9 .1 .8 .1-.2 .1-1.6 .1-2.1 .1 1.7 .1 2.2 .1-2.3 .1 5.2 .1-4.3 .1 .6 .1 3.5 .1-1.1 .1-4.8 .1-1.6 .1 1.1 .1 3 .1-3.7 .1 .1 .1 3.4 .1-.8 .1 1.8 .1-1.1 .1-3 .1 4.5 .1-4.1 .1 1.4 .1 0 .1 1.7 .1-2.4 .1 1.6 .1 .1 .1 2.5 .1-2.9 .1 .7 .1-2.1 .1 1.2 .1 .4 .1 .8 .1 .2 .1 .2 .1-2.5 .2 3.8 .1 0 .1-6.8 .1 1.7 .1 1.9 .1 .9 .1-4 .1 3.2 .1 1.5 .1-1.3 .1-1.5 .1 2.5 .1-2.1 .1 2 .1-.8 .1-.3 .1 4.9 .1-6.5 .1 1.1 .1 .3 .1 .5 .1 .7 .1-2.8 .1 2.4 .1-1.5 .1 4.5 .1-6.5 .1 3.1 .1-.1 .1 2.3 .1-.2 .1-2.3 .1 5.9 .1-7.4 .1 3.6 .1 .1 .1-1.5 .1-3.3 .1 3 .1-1.5 .1 4.1 .1-1.1 .1-2.7 .1 3.6 .1 2.7 .1-3.5 .1-.5 .1-.3 .1-3.1 .1 1.6 .1 1.9 .1-1.8 .1 1.2 .1-.4 .1 1.9 .1-2.9 .1 1.8 .1-2.8 .1 4.7 .1-4.5 .1 4.1 .1-2.9 .1 2.7 .1-.3 .1-2.9 .1 4.2 .1-4.6 .1-2.1 .1 2.5 .1 4 .1-3.9 .1 1.3 .1-.4 .1 .3 .1-2 .1-1.1 .1 2.4 .1-1.9 .1 3.4 .1-5.1 .1 5.9 .1 .2 .1-1.3 .1-2.1 .1-.3 .1 4.5 .1-3.2 .1-.2 .1-3.9 .1 5.1 .1 1.9 .1 .5 .1-2.6 .1-1.3 .1 .5 .1 .6 .1 1.2 .1-1.3 .1-.1 .1-4.4 .1 4.6 .1 1.8 .1-1.1 .1-.4 .2 3.3 .1-3.7 .1-.3 .1 0 .1 2.1 .1-1.4 .1-.9 .1-1 .1 .9 .1 2.9 .1-3.6 .1-1.5 .1 3.2 .1 4.2 .1-4.3 .1-2.2 .1 1.8 .1 .7 .1-3.6 .1 1.4 .1 1.5 .1 .3 .1-.7 .1-1.5 .1 1.6 .1 2.3 .1-.9 .1-1.4 .1-.4 .1 1.7 .1-2.4 .1 2.5 .1-2.9 .1-1.2 .1 1.5 .1 1.3 .1-.8 .1 4.8 .1-6.4 .1 4.2 .1 .2 .1-1 .1 1.1 .1-1.7 .1 .5 .1-.4 .1-2.1 .1 1.3 .1 1.8 .1-.7 .1 1.1 .1-3.2" fill="none" stroke="#ff0000" stroke-width="0.5" stroke-linejoin="bevel"/>
<path d="M391.1 726.8l.1-2.1 .1 .9 .1 5.1 .1-6 .1 1.5 .1-.4 .1 .6 .1-1.4 .1-2.1 .1-3 .1-.7 .1 .1 .1-1.5 .1 1.9 .1 .1 .1-5.1 .1 1.7 .1 .6 .1-2.4 .1 1.7 .1-4.3 .1 3.9 .1-1.9 .1-1.2 .1 12.3 .1-1.7 .1 1.1 .1-.9 .1-2.1 .1 1.2 .1-1.6 .1-5.6 .1 2.9 .1 1.8 .1-.4 .1-2.1 .1-2.1 .1 .7 .1-1.3 .1 1.5 .1 2.8 .1-3.2 .1 3 .1-4.8 .1 4.4 .1-1.4 .1 .4 .1-.5 .1-2.3 .1 .4 .1-2.5 .2 .2 .1-2.5 .1 3.7 .1-2.9 .1 .7 .1 2.4 .1-4.7 .1 1.9 .1 1.9 .1 1.1 .1-.4 .1 .4 .1-2 .1 2.8 .1-2.9 .1 1.1 .1-4.5 .1 1.3 .1-2.3 .1-2.7 .1 4.4 .1-3.5 .1 3 .1-.8 .1 3.7 .1-2.4 .1-2.2 .1 1.7 .1 1.6 .1 .7 .1 .7 .1 .8 .1 1.4 .1-5.5 .1-1.4 .1 3.5 .1 2 .1-2.2 .1-4.5 .1 5.3 .1-1.4 .1-.8 .1-2.4 .1 4.6 .1-1.8 .1 1.1 .1-1.4 .1 1.9 .1-2.6 .1 2.6 .1 0 .1-3.6 .1 1.4 .1-3.3 .1 2.6 .1 .5 .1-.9 .1-5.1 .1 2.9 .1 2.8 .1-2 .1 .9 .1-2 .1 1.8 .1 .3 .1-1.3 .1-.8 .1 1.1 .1-.2 .1 .1 .1 5.1 .1-3.5 .1-.2 .1-1.9 .1-1.1 .1 2 .1 4.2 .1-3.3 .1 .2 .1-1.6 .1 .8 .1 3.5 .1-2.6 .1-1 .1 2.5 .1-4 .1 .8 .1-2.3 .1 2.6 .1 1.2 .1-.6 .1 .2 .1-.4 .1 3.7 .1 2.1 .1-10.2 .1 3.4 .1 1.2 .1-4.3 .1 5.8 .1-.8 .1-1.5 .1-3.5 .1 2.2 .2-2.3 .1 2.5 .1-3 .1 1.1 .1 3.7 .1-2.2 .1 3.1 .1-.9 .1 1.1 .1-4.6 .1 5.1 .1 2.6 .1-3.2 .1 2.5 .1-5.6 .1 2.2 .1-2 .1 3.8 .1 1.2 .1-2.5 .1 3 .1-.7 .1 .6 .1-1.3 .1 3.1 .1 1.5 .1-6.6 .1 3.9 .1-.9 .1-1 .1 .9 .1 2.7 .1-1.4 .1-3.5 .1 .9 .1 .7 .1-1 .1 5.7 .1-2.9 .1 .4 .1 2.4 .1-3.9 .1-.1 .1 .4 .1 3.3 .1-3.1 .1-1.8 .1 1.6 .1-1.7 .1-.1 .1-1.7 .1 2.1 .1-4.7 .1 5.2 .1 .6 .1-1 .1 1.2 .1 .2 .1-2.7 .1 6.1 .1-.3 .1-7.7 .1 2.9 .1 1.1 .1-.1 .1 .6 .1 3.4 .1-.2 .1 1.8 .1-3.4 .1 .4 .1-.1 .1-.2 .1-.6 .1 2.2 .1-5.1 .1 1.6 .1 .7 .1-1.9 .1-1.9 .1 .3 .1 2 .1 .3 .1 2.6 .1-3 .1 0 .1-.4 .1 3.7 .1-3.7 .1-.2 .1-.5 .1 5.8 .1-2.5 .1-4 .1 1.9 .1-3.6 .1 .9 .1-.8 .1 2.3 .1 .7 .1-2.8 .1 2.1 .1 1.4 .1 1.9 .2-9.6 .1 7.5 .1 .6 .1 2.5 .1-1.7 .1-.6 .1-1 .1-1 .1 4.4 .1-2.6 .1-1.2 .1 2.9 .1-1.5 .1 3.9 .1-2 .1 .6 .1-4.2 .1 1.4 .1-4.4 .1 2.2 .1-.7 .1 1.2 .1-.1 .1 2.3 .1-4.9 .1 3.1 .1 4.1 .1-2.5 .1 1.4 .1-4.3 .1 .5 .1-1.9 .1-.4 .1 6.3 .1 2.3 .1-1.5 .1-2.9 .1 6.6 .1-4.5 .1-4.3 .1 3.1 .1-1 .1 1.4 .1-5.9 .1 .3 .1 6.1 .1-.5 .1-2.4 .1-1.7 .1 2.4 .1-1.1 .1-1.8 .1-.3 .1-.8 .1 2.5 .1 .8 .1-.9 .1-4.5 .1 3.8 .1-.2 .1-2.2 .1 .9 .1-1.2 .1 5.8 .1-1.5 .1-1.4 .1 .4 .1 1.6 .1 1.7 .1-2.9 .1 1.9 .1-.5 .1-3.7 .1 .2 .1 3 .1-.3 .1-2.4 .1-1 .1 2.8 .1 .2 .1 3.8 .1-1.7 .1 2 .1-1.8 .1 1 .1 1.2 .1 .5 .1-2.6 .1 1.6 .1-2.7 .1 1.8 .1 .3 .1-4.1 .1 3.7 .1-4.4 .1 3.6 .1-1.3 .1 2.7 .1 .7 .1 .3 .1-3.7 .1-.7 .1 5.1 .1-5.5 .2 4.3 .1 1.6 .1-7.1 .1 4.9 .1-3.7 .1 8.7 .1-9.9 .1 3.7 .1 0 .1-.2 .1 2 .1-3.8 .1 .7 .1 .1 .1 2.1 .1 1.5 .1-2.6 .1-.7 .1 .8 .1 1 .1 1.7 .1-2.4 .1-1.6 .1 4.3 .1 1 .1-6.5 .1 7.7 .1-3.2 .1 .9 .1-3.9 .1 2.4 .1 2.7 .1-.4 .1-3.1 .1 .3 .1 1.1 .1 .4 .1 1.7 .1 .2 .1-1.3 .1 .4 .1-.6 .1 1.5 .1-6 .1 6.1 .1-5.3 .1 .3 .1-1.8 .1 .4 .1 5.2 .1-3.3 .1-.3 .1 .3 .1 1.9 .1 2.6 .1-2.8 .1 3.2 .1 .4 .1-1.3 .1 2.3 .1 .2 .1-3.2 .1-4.1 .1 2.9 .1 .9 .1 .7 .1-2 .1 3.6 .1-3.8 .1-.6 .1 1 .1 .4 .1 1.3 .1-.7 .1-.5 .1 .5 .1 1.2 .1-2.4 .1 2.1 .1-3.2 .1 2.6 .1-2.5 .1 1.1 .1 .5 .1 2.4 .1-4.3 .1-.4 .1 .5 .1-.1 .1 .8 .1 2.6 .1 .2 .1-2.8 .1-.3 .1-3 .1-.6 .1 3.1 .1 1.6 .1-.3 .1 .4 .1 .9 .1 3.5 .1-7.2 .1 2 .2 1 .1-.7 .1-1.8 .1-1 .1 1.3 .1 2.3 .1-2 .1-.6 .1-1.8 .1 4.8 .1-2.1 .1 4.2 .1-.7 .1-5 .1 5.5 .1-.7 .1 .4 .1-1.9 .1 1.7 .1 3.1 .1-3.5 .1-2.8 .1 1.5 .1-.6 .1 2.3 .1-.5 .1-1.7 .1 2 .1-1.3 .1 1.3 .1-1.2 .1-1.1 .1 1.6 .1-2.6 .1 1.3 .1 1.1 .1 1.5 .1-2.2 .1 2.1 .1-4 .1 3.6 .1-.5 .1-.8 .1 1.3 .1-3.2 .1 1.4 .1 .1 .1-1.9 .1 6.4 .1-4.1 .1-1.8 .1-1.5 .1 1.3 .1 2.6 .1-3.3 .1 .8 .1-2.4 .1-.4 .1 3.8 .1-2.7 .1 2.5 .1 3.2 .1-2.5 .1-1.4 .1 6.4 .1-7.4 .1 3.5 .1-4.7 .1 3.3 .1 .4 .1-2.2 .1 3.4 .1-4.8 .1 5 .1-.9 .1 .6 .1-2.9 .1 1.7 .1-2.7 .1-.7 .1 .5 .1-1.7 .1-.1 .1 3 .1 1.7 .1 .7 .1-3.5 .1 2.3 .1 1 .1 .3 .1-.6 .1-.4 .1 1.2 .1 1.8 .1-2.5 .1 6 .1-3.4 .1-2 .1 1.6 .1-3.2 .1 1.7 .1-1.4 .1 .5 .1 .8 .2-1.9 .1-1.1 .1 5.2 .1-2.2 .1 2 .1-1.7 .1 1.5 .1-1.4 .1-.9 .1-2.5 .1-1.1 .1 4.3 .1-.4 .1-1.9 .1 2.8 .1 .6 .1 3 .1-4.8 .1 .6 .1 2.3 .1 .7 .1-1.3 .1-2.6 .1 .7 .1 .9 .1-1.9 .1-3.7 .1-.8 .1 1.5 .1 1.3 .1-.7 .1 .4 .1-1.7 .1 .4 .1 3.8 .1-1.7 .1-.5 .1-2.1 .1 1 .1 .7 .1-3 .1-.6 .1 5.9 .1-1.9 .1-2.1 .1 3.5 .1-1.9 .1 4.6 .1-1 .1-1.9 .1-.8 .1 .6 .1 4.2 .1-.2 .1-1 .1-3.2 .1-.2 .1-1 .1 0 .1 3.3 .1-.9 .1 1.1 .1-3.6 .1 4.6 .1-2.9 .1-.3 .1-2.2 .1 3.1 .1-1.8 .1 2.3 .1-4.4 .1 3.4 .1 .8 .1 1.7 .1-.9 .1-1 .1-.1 .1-2.9 .1 4 .1-1.1 .1 .5 .1 2.4 .1 1 .1-4.9 .1 3.5 .1 .1 .1-1.7 .1-.8 .1 1.3 .1 .2 .1-4.6 .1 2.4 .1-3.5 .1 5.3 .1-1.5 .1-.8 .1-.4 .1 1.6 .1 0 .1-3.4 .1 4.5 .1-1.4 .1 .5 .1 1.5 .2-2.9 .1 5.1 .1-5.4 .1 4.1 .1-3 .1-1.5 .1 1.4 .1-.2 .1-2.6 .1-2.7 .1 2.6 .1 1.3 .1 1 .1 .7 .1-3 .1 .1 .1-1.6 .1 .8 .1-1 .1 2.5 .1 .8 .1 .7 .1-2.7 .1 .4 .1-.1 .1 2.6 .1-1.9 .1-1.1 .1 1.3 .1 6.3 .1-4.5 .1 .8 .1-1.3 .1 1.5 .1-1.7 .1 2.5 .1-2.6 .1-1.2 .1 1.8 .1-1.7 .1 0 .1-.5 .1 .9 .1-.9 .1 3.6 .1-3.3 .1-1.7 .1-.5 .1 4.2 .1-.4 .1-2.4 .1-.3 .1 .1 .1 .2 .1-.1 .1-.9 .1 4.2 .1 1.5 .1-4.9 .1 4.2 .1-2 .1 1.9 .1 1.1 .1-4 .1 3.7 .1 2 .1-2.5 .1-.3 .1 .3 .1-.5 .1 2 .1-1.7 .1-1.8 .1-.6 .1 .8 .1 1.5 .1 2.4 .1-5.5 .1 3.9 .1-1.4 .1-.8 .1-1 .1 .9 .1 1.5 .1-1.3 .1-3.4 .1-.8 .1 3.7 .1-.5 .1 3.5 .1-3.4 .1 0 .1 1.7 .1-3.9 .1 1.2 .1 .1 .1 6.5 .1-2.4 .1-2.3 .1 3.3 .1 2.5 .1-2.7 .1-3.4 .1 2.4 .2-1.1 .1 1.4 .1-2.5 .1 7 .1-3.9 .1-5.7 .1 1.7 .1 2.2 .1 .4 .1 2.1 .1-1.1 .1-.8 .1 .5 .1-3.1 .1 1.5 .1 2.6 .1-3.7 .1 .6 .1-.4 .1 1.4 .1-6.1 .1 8.4 .1-2 .1-2.1 .1 .5 .1 4.7 .1 0 .1-1 .1 1.5 .1-.3 .1 0 .1-1.3 .1-2.1 .1 4.2 .1-5.2 .1 3.4 .1-1.4 .1 1.2 .1-4.9 .1 8.1 .1-6.3 .1 3.2 .1-.6 .1-2.2 .1 2.6 .1-3.2 .1-.9 .1 5.4 .1-4.7 .1 1 .1 3 .1-.8 .1 1.8 .1-3.1 .1-1.1 .1-.5 .1 .4 .1 1 .1 .2 .1 .7 .1-1.7 .1-1.4 .1 2.3 .1 1.4 .1 1.4 .1-3 .1 2.5 .1 3.2 .1-5 .1 1.3 .1 3.1 .1 .7 .1-.1 .1 1.2 .1-3.6 .1-.4 .1 .3 .1 0 .1-.5 .1-1.5 .1-2.7 .1 4.6 .1-2.4 .1 1.9 .1 .1 .1-2.8 .1-1.4 .1 4.8 .1-4.4 .1 .9 .1 .2 .1-1.9 .1 4 .1-4.8 .1 3.7 .1-2.3 .1 4.6 .1-4.8 .1 3.1 .1 .7 .1 1.4 .1-1.8 .1-1.8 .1 1 .2 1.5 .1 1 .1-.8 .1-1 .1 2.7 .1-2.1 .1-3.2 .1 1.2 .1-.9 .1 2 .1-3.4 .1-.4 .1-1.3 .1 3.3 .1-1.3 .1-1.2 .1 1.2 .1-1.8 .1 2.2 .1 0 .1-.5 .1-1.4 .1 .6 .1 3.1 .1-.8 .1-.1 .1-1.3 .1 2.7 .1 1 .1-2.5 .1 2.4 .1-.7 .1 1 .1-2.2 .1 3.1 .1-1.9 .1 1.8 .1 .8 .1-2.1 .1 2.3 .1-1.5 .1 .5 .1 2.6 .1-1.3 .1 2.5 .1-5.7 .1-.6 .1 .6 .1 .3 .1-.9 .1 .3 .1-1.2 .1-.3 .1 1.7 .1-4.3 .1-.2 .1 2.3 .1-4.3 .1-.9 .1 2.2 .1 .4 .1 3.1 .1 0 .1 2 .1-2.3 .1-2.5 .1 3 .1 1.4 .1-6.5 .1-.1 .1-.1 .1 5.4 .1-3.8 .1 3.1 .1-.5 .1-1.5 .1-.9 .1 4.4 .1 .2 .1 2 .1-.9 .1 1.1 .1-1.1 .1-1.9 .1 .8 .1 .1 .1-1.2 .1-.4 .1-1.5 .1 4.5 .1-.2 .1-3.1 .1 .2 .1-.4 .1 2.1 .1-2.2 .1 2.4 .1 1.3 .1-2 .1 4.5 .1 .1 .1-1.8 .1 .9 .1-3.2 .2 2.1 .1-3.2 .1 5.9 .1-3.1 .1 1.2 .1-4.6 .1 2.4 .1-2.5 .1 7 .1-3.9 .1-4.4 .1 2 .1-.4 .1-1.4 .1-3 .1 6.6 .1-.1 .1 2 .1-3.1 .1 1.8 .1 1.5 .1 .9 .1-3.2 .1 .2 .1 .2 .1 4.7 .1-2.5 .1-2.1 .1-2 .1 1.2 .1 .1 .1 1.3 .1-2.2 .1 1.7 .1-4.4 .1-1.7 .1 3 .1 2.6 .1-5.7 .1 2.6 .1 .5 .1-.3 .1-.5 .1 .8 .1 .8 .1 3.4 .1-1.3 .1-1.6 .1-.3 .1 .4 .1 .3 .1 4.8 .1-1.7 .1-1 .1-2.3 .1 .5 .1-3.9 .1 4.9 .1-1 .1 2.6 .1-5.4 .1 3.1 .1 .5 .1 .5 .1-1 .1 .9 .1-2.9 .1 3.5 .1-.4 .1 1 .1-3.9 .1 1.4 .1-1.1 .1 .9 .1-.3 .1 .7 .1-1.8 .1 .2 .1 0 .1 1.5 .1-.8 .1-.4 .1 2.1 .1-5.3 .1-.2 .1 .3 .1 1.6 .1-.8 .1 5.7 .1-4.5 .1 4.9 .1-4.4 .1-.2 .1-.8 .1-.2 .1 .6 .1 2.9 .1-.3 .1 .7 .1-1.5 .1 2 .1 2 .1-5 .1 3.4 .2-.8 .1 .8 .1-.4 .1-2.6 .1 2.5 .1 1.3 .1-2 .1 1.3 .1 1.7 .1-4 .1-.4 .1 4.3 .1-5.2 .1-.3 .1 5.6 .1-3.5 .1 2.1 .1-1.6 .1 6.5 .1-7 .1 1.2 .1-1.4 .1-.7 .1 5.4 .1-4.2 .1-.2 .1-1.7 .1-.8 .1 .9 .1 3 .1-2.9 .1 2.7 .1-2.1 .1 2.5 .1 0 .1-.9 .1 3 .1-3.9 .1 .9 .1-4.5 .1-.6 .1 5.8 .1-.3 .1-5 .1 1.9 .1 1 .1-5.9 .1 6.4 .1 1.8 .1-.7 .1-.7 .1-2.8 .1 2.5 .1 4 .1-1.5 .1-3.4 .1 7.1 .1-3.5 .1-2.4 .1 1.6 .1 1 .1 .4 .1-1.2 .1-1.9 .1 1.1 .1-2 .1 1.2 .1-1.4 .1 2.1 .1-1.8 .1 2.8 .1-3.1 .1 .6 .1 2.3 .1 2.6 .1-2.1 .1 5.3 .1-4.7 .1-1.7 .1 2.5 .1-3.3 .1-1.2 .1-2.5 .1 2.1 .1 2.5 .1 .4 .1-4.2 .1-2.2 .1 .8 .1 2.9 .1 2.4 .1 0 .1-1.1 .1-.1 .1-.4 .1 1.8 .1-2.7 .1 3.2 .1-.5 .1-2.5 .1 .7 .1 3.3 .1 2.3 .1-.4 .2-2.8 .1-.2 .1 .4 .1-.2 .1-2.8 .1 4.4 .1-6.6 .1 0 .1 3.7 .1 2.6 .1-1.1 .1 2.4 .1-2.1 .1 1.1 .1 .3 .1 .2 .1-4.9 .1 5 .1-2.8 .1 .5 .1-4.2 .1 1.3 .1 4 .1-1.3 .1-2.8 .1 2.2 .1-2.1 .1 1.4 .1 2.7 .1-1.2 .1-1.5 .1 .9 .1 .7 .1-.4 .1-.1 .1-4.1 .1 5.3 .1-3.7 .1 1.2 .1-2.6 .1-.5 .1 .8 .1-1.4 .1-.1 .1 1.9 .1 2.4 .1-2.2 .1-.4 .1 .2 .1 1.1 .1-.2 .1 3.8 .1-1.3 .1-1.2 .1-3.4 .1-1.4 .1 2.1 .1 2.4 .1-3.5 .1-1.2 .1 .5 .1 2.4 .1 .4 .1-.3 .1 1.3 .1-2.9 .1 1.3 .1-3.3 .1 2.5 .1 2.2 .1 3.2 .1-2.2 .1 .2 .1 3.5 .1-.9 .1-1.4 .1-3.5 .1 2.9 .1 1.1 .1-2.8 .1-.1 .1 3.4 .1-5.7 .1 4.2 .1-3 .1 1.2 .1 2.4 .1-1.9 .1 0 .1 .4 .1-2.4 .1 1.3 .1 2.9 .1-2.9 .1 2.9 .1-1.8 .1-1.8 .1 1.7 .1-2.5 .1 2.4 .1 1.6 .1-4.1 .1 1.2 .1 2.3 .2-.1 .1 .7 .1-.3 .1 1.3 .1-5.6 .1 .8 .1 5.1 .1-1.6 .1-1.7 .1 .8 .1 1.5 .1-5.7 .1 3.7 .1-3 .1 1.2 .1-1.2 .1 4.8 .1-6 .1 6.7 .1-5.4 .1 1.3 .1 1.4 .1 3.1 .1-4.4 .1 .8 .1 3.4 .1 1.8 .1-3.4 .1 0 .1-2.6 .1 1.3 .1 .8 .1 .8 .1-2.8 .1 3.3 .1 2.2 .1 1.5 .1-5 .1 1.5 .1 1.7 .1-2.2 .1-2.3 .1-1.4 .1 6 .1-3.5 .1-2.9 .1 .1 .1-1.1 .1-1.7 .1 5.5 .1 .7 .1-2.4 .1-1.1 .1 .3 .1 1.7 .1 1.4 .1-2.8 .1 1 .1 1.6 .1-.5 .1-.2 .1-4 .1 1.3 .1-1.3 .1-1 .1 2.6 .1-1.1 .1 0 .1 .3 .1 2.8 .1-1.7 .1-1.8 .1 1.2 .1 .9 .1-1.4 .1-4.4 .1 5.2 .1-.5 .1-3.3 .1 2.9 .1 2.6 .1 1 .1-1.8 .1 1.8 .1-2.8 .1 4.8 .1 1 .1-.9 .1 1.1 .1-4.5 .1 2.6 .1-4.9 .1 1 .1-2.3 .1 3.4 .1-2.2 .1 5.1 .1-2.5 .1 .8 .1-3.5 .1 3.2 .1-2.1 .1 2.4 .1 1.2 .2-2.4 .1-2.4 .1 2.4 .1-3 .1 3.7 .1-.5 .1-.4 .1 .8 .1 2 .1-1.1 .1 1.8 .1 .4 .1-4.9 .1 .3 .1 1.8 .1 .4 .1 1.5 .1-4.4 .1 2.2 .1-5.5 .1 6.1 .1-5.1 .1-2 .1 3.6 .1-5.8 .1 3 .1 .4 .1 3.5 .1-5.1 .1 .1 .1 3.2 .1-2.7 .1 3.7 .1 4.9 .1-4 .1-3.2 .1 4.2 .1-2.8 .1 3.8 .1-1.6 .1 3.6 .1-1.1 .1-3.6 .1 1.1 .1 1.3 .1-4.8 .1 .7 .1 2.3 .1 2.2 .1-3.9 .1 2.1 .1-2.5 .1-1.1 .1 2.4 .1 1 .1-2 .1 1.7 .1 3 .1-5.5 .1 .6 .1 1.2 .1-1.6 .1 2.1 .1 .9 .1-3.1 .1 4.7 .1 .3 .1-3.1 .1 1.8 .1-4.2 .1 4 .1 1.9 .1-2.6 .1 2.6 .1-6.6 .1 2.2 .1-1.2 .1 .8 .1 .3 .1 1.9 .1-4 .1 2.5 .1 1.7 .1 2.9 .1-5.8 .1 2.9 .1 .1 .1 3.3 .1-4.4 .1 2.1 .1-2.1 .1 1.4 .1 .8 .1-3.2 .1 3.4 .1-.3 .1-2.4 .1-1.8 .1-1.7 .1 2 .1-.2 .1-.9 .1 1.1 .1 .9 .2-1.4 .1 2.2 .1-.3 .1-2.4 .1 2 .1 1.5 .1-2.5 .1 1.5 .1-2.2 .1 3 .1-.6 .1 0 .1-5.4 .1-1.2 .1 .8 .1 1.1 .1 1.3 .1 1.3 .1-1.4 .1 .8 .1 1.8 .1-2.6 .1 .7 .1 1.2 .1 1.7 .1 1.6 .1-1.4 .1 .2 .1 3.2 .1-.7 .1 1.4 .1-4.3 .1 4.6 .1-.3 .1-.7 .1-2.3 .1 1.8 .1-6 .1 1.7 .1 5.4 .1-5.5 .1-.2 .1 2.1 .1-2.1 .1-1 .1 .9 .1-.7 .1-.2 .1 1.1 .1-.8 .1 2.1 .1-3.3 .1 1.8 .1-3.3 .1-1.6 .1 1.6 .1 3.9 .1-1.6 .1 1.7 .1-1.6 .1 2.4 .1 .6 .1-2.1 .1 1 .1-3.5 .1 .3 .1-.1 .1-.1 .1-.4 .1-1.3 .1 1.2 .1 .4 .1-3.5 .1 3.5 .1-.3 .1 .4 .1-2.7 .1 3.2 .1 .9 .1-3.5 .1-.5 .1-1.6 .1 5.1 .1-2.8 .1 3.2 .1-2.2 .1 4.5 .1-3.1 .1-3.3 .1 1.6 .1 5.6 .1-6.3 .1 .1 .1 1.3 .1-1.7 .1 .6 .1-3 .1 2.7 .1 2.2 .1-1.4 .1-5 .1 .6 .1 .6 .1 2 .2-2.4 .1-1.6 .1 1.3 .1-1.5 .1 0 .1-.8 .1 2.1 .1 .8 .1 2.8 .1-1.5 .1-1.5 .1-1.7 .1 2.6 .1-1.1 .1 1.5 .1 2.6 .1-3.6 .1-.4 .1 2.6 .1 .5 .1-1.9 .1 .9 .1-1 .1 3.9 .1-4.1 .1 2.6 .1-1.8 .1 3.5 .1-3.7 .1-.4 .1-3.3 .1 7.6 .1 .4 .1-5.2 .1-.7 .1 5 .1-4.6 .1-.5 .1-2.1 .1 3.7 .1 3.3 .1 .2 .1-8 .1 2.8 .1-.5 .1 2.4 .1 0 .1 .2 .1 2.9 .1-1.6 .1 1.1 .1-1.1 .1-2.7 .1 3.2 .1 1.9 .1-4.9 .1 1.2 .1 2.2 .1 3.3 .1-5 .1 .1 .1 3.8 .1-3.9 .1 3.7 .1-1.4 .1 1 .1-1.6 .1 .5 .1-4.3 .1 3 .1-1.6 .1 .9 .1-.8 .1 2.2 .1-1 .1-2.2 .1 1 .1 4.2 .1-1.2 .1 1.2 .1 .3 .1-.3 .1 .7 .1-3.2 .1-.9 .1 .8 .1 .9 .1-2.1 .1 2.5 .1-3.5 .1-3.2 .1 8.8 .1-5.8 .1 .3 .1-1.4 .1 1.3 .1 2.6 .1-1.7 .1 .8 .1-.6 .1 .4 .1 1 .1-4 .1 6.6 .2-1 .1 1.7 .1-1.9 .1-4.1 .1 1.3 .1 2.2 .1 .4 .1-3 .1 2.5 .1-2.6 .1 2.8 .1-.4 .1-1.3 .1 4.3 .1-4 .1 3.6 .1-1.8 .1-.9 .1-4.1 .1 3.8 .1-1.6 .1 3.1 .1-.4 .1-1 .1-1.5 .1 4.2 .1-2.9 .1-4.7 .1 7.9 .1 1.6 .1-1.7 .1-2 .1-2.6 .1 1.7 .1-.9 .1 3.2 .1-1.3 .1-.4 .1 1.8 .1-1.4 .1 1.6 .1-.9 .1 2.5 .1 2.1 .1-7.6 .1 3 .1 .5 .1-4.3 .1 2.1 .1-.6 .1 1.8 .1-1.5 .1 0 .1-.4 .1-1.7 .1 .9 .1-.3 .1 2.7 .1 .2 .1-2.6 .1 .9 .1 1.8 .1-1.3 .1 1.7 .1-.4 .1-.5 .1-1.3 .1 .8 .1 1.7 .1-.6 .1-2 .1 2.5 .1-1.8 .1-.5 .1 2.1 .1 2.5 .1-3.1 .1-2.2 .1 .8 .1-1.4 .1 2.2 .1-.4 .1-.9 .1 2.9 .1-3.4 .1 3.9 .1 .2 .1-.4 .1-3.8 .1 2.9 .1 1.2 .1-1 .1-.7 .1 3 .1-2.3 .1 2.4 .1-4 .1 4.4 .1-.5 .1-.7 .1 .5 .1-2.7 .1-1.8 .1 2.8 .2-5.5 .1 3.1 .1-.3 .1 1.6 .1-2.2 .1-1.3 .1 3.8 .1-.5 .1 .1 .1 .8 .1-3.2 .1 2.9 .1-4.1 .1 5.8 .1-.4 .1-.2 .1 1.1 .1 2.8 .1-2.5 .1-1.7 .1 2.2 .1-2.2 .1 4.2 .1-3.4 .1-4.3 .1 1.9 .1 1.1 .1 1.7 .1-.7 .1-2.8 .1 1.9 .1-2.3 .1 3.1 .1-3.6 .1 .4 .1 5 .1-4.7 .1-1.6 .1 .1 .1 .5 .1-1.7 .1 2.2 .1 1.1 .1-3.2 .1-2.7 .1 4.2 .1-3.6 .1 3.7 .1 2.3 .1-1.4 .1 .4 .1-3.2 .1 2.1 .1 1.6 .1-.9 .1-1.9 .1 3.3 .1 .9 .1-1.8 .1 2.2 .1-3.9 .1-1.4 .1 1.4 .1 1 .1-1.4 .1 2.2 .1-5.1 .1-1.4 .1 4.6 .1 2.9 .1-.6 .1 1.2 .1 .9 .1-3.4 .1 .8 .1 .9 .1-4.5 .1 2 .1 1.4 .1-1.6 .1 2.5 .1-1 .1 1.1 .1-1.7 .1 .3 .1 1.2 .1-.4 .1-.3 .1 .1 .1-2.1 .1 3.2 .1-3.3 .1-2.3 .1 3 .1 5.9 .1-6.2 .1 1.2 .1-1 .1 2.4 .1 .3 .1-.6 .1 2.1 .1-2.7 .1 3.3 .2-1.3 .1-.7 .1-3 .1 3.3 .1-1.1 .1-2.2 .1 2.5 .1 1.9 .1 2.5 .1-4.8 .1 2.4 .1-3.8 .1-.6 .1 2.4 .1-3 .1 5.1 .1-4.2 .1 .9 .1-2.6 .1-.2 .1 .6 .1-1.2 .1 3 .1 2.1 .1-1.1 .1-4.8 .1 3.4 .1-.9 .1-1 .1 1.1 .1 2.2 .1 2.1 .1-7.2 .1 2.9 .1 1.9 .1-1.6 .1-1.1 .1 4.5 .1-4.5 .1 .7 .1-1.3 .1 1.2 .1 3.1 .1 2.2 .1-3.4 .1 .6 .1-2.7 .1 2.8 .1-1 .1 .5 .1 2.9 .1-4.3 .1 3.6 .1 1.1 .1-2.6 .1-1.9 .1 2.1 .1 1 .1 .5 .1-.2 .1-2.4 .1 1.4 .1-1.4 .1-1 .1 7 .1-5.3 .1-.9 .1 .9 .1 3.1 .1-1.9 .1-3.4 .1 .4 .1-.3 .1 3.3 .1-2.4 .1-2.2 .1 2.3 .1-3 .1 1.7 .1 1.2 .1 2.7 .1 .5 .1 .6 .1-2.4 .1-.8 .1 3.7 .1 .8 .1-2.9 .1-2.8 .1 1.1 .1-.3 .1 .2 .1-1 .1 1 .1-.8 .1-.2 .1 1.9 .1-2.8 .1 5.6 .1-1 .1 1.5 .1-4.1 .1 .1 .1 3.2 .2-2.5 .1 2.6 .1 1.8 .1 .2 .1-2.4 .1-.6 .1 1.9 .1-.9 .1-1.1 .1-1.7 .1 2.5 .1 1 .1 1.5 .1-4.4 .1 .9 .1 .9 .1 .5 .1-.2 .1-1.3 .1-.8 .1 3.4 .1-4.5 .1 .2 .1 3.2 .1-1.2 .1-2.3 .1 4.6 .1-.1 .1 .3 .1 1 .1-3.1 .1 1.3 .1-.7 .1 .1 .1-.6 .1-2.8 .1 3.5 .1 1 .1-.3 .1-.8 .1-1.4 .1-.6 .1 .6 .1 1.4 .1-.7 .1-.4 .1 3 .1-3.1 .1 .6 .1 1.1 .1-2.7 .1 2.5 .1 1.6 .1-2.6 .1-1.9 .1 4.9 .1-2.6 .1-1.1 .1 .4 .1-.5 .1-.4 .1 5.4 .1-4.7 .1 3.7 .1 .1 .1 .1 .1-2.9 .1 3.4 .1-2.9 .1 3.1 .1-7.6 .1 5 .1-1.4 .1 2 .1-1.3 .1-3.7 .1 3.1 .1 2.7 .1-1.6 .1-.1 .1-3.2 .1 3.1 .1-.9 .1-.8 .1-3.1 .1 3.4 .1 2.2 .1-.8 .1-5.4 .1 1.3 .1 3.8 .1-2.1 .1 .2 .1-.8 .1-1.9 .1-.2 .1-1.7 .1 6.7 .1-3.8 .1 1.4 .1 2.3 .1-3.6 .1 3.4 .1 .5 .2-5.2 .1 2.8 .1 0 .1-.8 .1 5.9 .1-5.2 .1 2.3 .1-1.1 .1-.3 .1 .9 .1 .7 .1-.7 .1-.7 .1-1 .1 4.8 .1-6.8 .1 4.4 .1-5.9 .1 2.7 .1-3.1 .1 5.1 .1-4.2 .1 2.4 .1-.8 .1-.8 .1 5.6 .1-2 .1 .2 .1-2.5 .1 .3 .1-2.4 .1 1.7 .1-1.4 .1 3.4 .1-1.1 .1 1.4 .1 .8 .1 1.1 .1-3.5 .1 1.8 .1-.5 .1 0 .1 1 .1-7.3 .1 4 .1 3.6 .1-2.4 .1 .5 .1 2.8 .1-5.6 .1 3 .1-1.9 .1 1.6 .1 1.5 .1-6.5 .1 6.6 .1 2.4 .1-2.8 .1 .9 .1-3.4 .1 1.8 .1 3.4 .1-6.8 .1 4.4 .1 1.8 .1-4.5 .1 1 .1 3.4 .1 .6 .1-1.6 .1 1.2 .1-2.6 .1 .8 .1 1.8 .1-.2 .1-1.8 .1-2.7 .1 3.2 .1-2.9 .1 2.7 .1-2.1 .1 .8 .1-1.1 .1 2.6 .1 .2 .1-4.7 .1 2.7 .1 5 .1-4.4 .1 1.8 .1-3.3 .1 5.5 .1-2.3 .1 0 .1 0 .1 .6 .1-7.4 .1 3.1 .1 .6 .1 2.6 .1-4.4 .1-.5 .1 2.3 .1 2.5 .2-3 .1 .6 .1 2.9 .1-6.9 .1 2 .1 3.2 .1-.8 .1-1.2 .1-1 .1 1.1 .1 .3 .1 2.2 .1-4.7 .1 3.9 .1-1.2 .1-.7 .1 1.3 .1-3.4 .1-1 .1 6.6 .1-4.4 .1-2.9 .1 0 .1 4.1 .1-1.1 .1 .8 .1-1.6 .1 1.1 .1-4.2 .1-.1 .1-.5 .1 1.2 .1 .4 .1-2.2 .1-4.4 .1 6.9 .1 1.1 .1-3.4 .1 6.4 .1 2.7 .1-7.4 .1 .6 .1 .2 .1 .2 .1-.5 .1 3.1 .1-2.3 .1 4 .1 1 .1-2 .1 2.4 .1-1.3 .1-.5 .1 .7 .1-.5 .1 2.8 .1-1.2 .1-1.7 .1-1.3 .1-1 .1-.1 .1 .6 .1-2 .1-.7 .1 1 .1-.9 .1 2 .1-.8 .1-1.7 .1 3.3 .1-3.7 .1 5.1 .1-1.6 .1-1.6 .1 3.3 .1 2.4 .1-1.8 .1 .6 .1 1.6 .1-3.7 .1 5.4 .1-6.1 .1 2.9 .1-2.1 .1 2.3 .1-4.8 .1 3.8 .1 4.7 .1-10.1 .1 5.5 .1 1.2 .1-.6 .1 1 .1-2.1 .1 2.3 .1-6.1 .1 5.4 .1-3.6 .1-1.1 .1 3.5 .1-2 .1 3.2 .1 1.1 .1-.3 .2-3.7 .1 1.2 .1 4.6 .1-2.6 .1 4.3 .1-2.6 .1-2 .1 4.7 .1-5.1 .1 2.2 .1 1.7 .1-5.1 .1 .1 .1 .5 .1 1.2 .1 .6 .1 1.8 .1-2.3 .1 1.1 .1-1.6 .1-.4 .1 .1 .1 1.1 .1-.4 .1 .7 .1-2.4 .1-.8 .1 3.6 .1 .5 .1 1.1 .1-1.9 .1-.9 .1-4.7 .1 .7 .1 5.4 .1-4.1 .1 1.9 .1 3.5 .1-4.1 .1 1.9 .1-2.1 .1 .9 .1 1.7 .1-3.8 .1 1.4 .1 1.3 .1 1.9 .1-7.2 .1 4.4 .1-1.9 .1-.4 .1-1.5 .1 4.7 .1 1.5 .1-4.2 .1 4.1 .1-3.1 .1-4.8 .1 6.5 .1-2.5 .1 3.7 .1-8.3 .1 6.6 .1-1.3 .1 2 .1 .4 .1-2 .1 2.6 .1 2 .1-.3 .1-.8 .1-.6 .1-.8 .1 2.4 .1-2 .1-5.4 .1 4.3 .1-2.6 .1 2.5 .1-1.5 .1 2.1 .1 3.9 .1-2.5 .1-3 .1 .4 .1 .7 .1 2.7 .1-1.3 .1 1.1 .1-2.6 .1-1.4 .1-.4 .1 2.4 .1-1.6 .1 .4 .1-.6 .1 1.2 .1-1 .1 1.9 .1 0 .1 3.5 .1-4.4 .1-.1 .1 1.7 .2-3.9 .1 1.6 .1-1.3 .1 4.4 .1 .4 .1-.3 .1-.7 .1-1.9 .1 4.6 .1-1.5 .1 1.8 .1-4.1 .1-1.8 .1-.3 .1-2.4 .1 2.3 .1 2.3 .1 1.3 .1-1.6 .1-2.9 .1 6.2 .1-.8 .1-2.2 .1 .7 .1-3.8 .1 2.5 .1-1.8 .1-.1 .1-.2 .1-2.4 .1 5.1 .1 .6 .1 .4 .1-2.8 .1 .5 .1-.5 .1 .3 .1 .8 .1 3.4 .1-1 .1-1.4 .1 4.4 .1-2.2 .1 .9 .1-2.2 .1 2.1 .1 1.3 .1-3 .1-.3 .1-2.9 .1 2.3 .1-2.2 .1 .5 .1 .2 .1-4.9 .1 9.1 .1-5.1 .1 2.5 .1-1.8 .1 2.4 .1-4 .1 3.1 .1-2.4 .1-2 .1 5.1 .1 .5 .1-5.5 .1-1.7 .1 3.7 .1 4.4 .1-.6 .1-4.8 .1-1.2 .1 4.4 .1 1.3 .1-4.5 .1 4.8 .1-1.1 .1 .1 .1 .5 .1-2.4 .1 2.4 .1-3.3 .1-2.3 .1 .7 .1-.2 .1 3.4 .1 2.6 .1-4.5 .1-1.4 .1 .8 .1 1 .1-1.2 .1 3.3 .1-3.2 .1-1.7 .1 4.1 .1-.1 .1-.4 .1 1.2 .1-.6 .1 .7 .1 .3 .1-4 .2 4.6 .1-4.4 .1 2.5 .1-2.1 .1 2.8 .1 1.5 .1-.6 .1-.2 .1-3.7 .1 3.6 .1 .9 .1 .1 .1-.5 .1-.6 .1-1.1 .1 1.8 .1 .1 .1-1.7 .1-1.9 .1 .6 .1 2.8 .1-.6 .1-2.8 .1 1.5 .1 1.8 .1-2.6 .1 1.7 .1-1.6 .1-1.8 .1 2.6 .1 2.3 .1-.6 .1-2 .1 2.1 .1-1.6 .1 2.3 .1-1.9 .1 3.3 .1 1.4 .1-1.1 .1-1.2 .1-.5 .1-.9 .1-1.7 .1 3 .1 1.3 .1-3.7 .1-3.5 .1 1.7 .1 3.9 .1-2.6 .1-.8" fill="none" stroke="#0000ff" stroke-width="0.5" stroke-linejoin="bevel"/>
<path d="M391.1 681.1V759.5H653.5" stroke="#000" stroke-width="0.9" fill="none"/>
<text x="391.1" y="769.4" font-size="5.5" font-family="'Liberation Serif',serif" font-weight="bold" text-anchor="middle">0</text>
<text x="443.6" y="769.4" font-size="5.5" font-family="'Liberation Serif',serif" font-weight="bold" text-anchor="middle">20000</text>
<text x="496.1" y="769.4" font-size="5.5" font-family="'Liberation Serif',serif" font-weight="bold" text-anchor="middle">40000</text>
<text x="548.5" y="769.4" font-size="5.5" font-family="'Liberation Serif',serif" font-weight="bold" text-anchor="middle">60000</text>
<text x="601" y="769.4" font-size="5.5" font-family="'Liberation Serif',serif" font-weight="bold" text-anchor="middle">80000</text>
<text x="653.5" y="769.4" font-size="5.5" font-family="'Liberation Serif',serif" font-weight="bold" text-anchor="middle">100000</text>
<text x="387.8" y="761.4" font-size="5.3" font-family="'Liberation Serif',serif" font-weight="bold" text-anchor="end">0.0</text>
<text x="387.8" y="741.8" font-size="5.3" font-family="'Liberation Serif',serif" font-weight="bold" text-anchor="end">0.1</text>
<text x="387.8" y="722.2" font-size="5.3" font-family="'Liberation Serif',serif" font-weight="bold" text-anchor="end">0.2</text>
<text x="387.8" y="702.6" font-size="5.3" font-family="'Liberation Serif',serif" font-weight="bold" text-anchor="end">0.3</text>
<text x="387.8" y="683" font-size="5.3" font-family="'Liberation Serif',serif" font-weight="bold" text-anchor="end">0.4</text>
<path d="M391.1 759.5v3.0M443.6 759.5v3.0M496.1 759.5v3.0M548.5 759.5v3.0M601 759.5v3.0M653.5 759.5v3.0M391.1 759.5v1.6M396.3 759.5v1.6M401.6 759.5v1.6M406.8 759.5v1.6M412.1 759.5v1.6M417.3 759.5v1.6M422.6 759.5v1.6M427.8 759.5v1.6M433.1 759.5v1.6M438.3 759.5v1.6M443.6 759.5v1.6M448.8 759.5v1.6M454.1 759.5v1.6M459.3 759.5v1.6M464.6 759.5v1.6M469.8 759.5v1.6M475.1 759.5v1.6M480.3 759.5v1.6M485.6 759.5v1.6M490.8 759.5v1.6M496.1 759.5v1.6M501.3 759.5v1.6M506.6 759.5v1.6M511.8 759.5v1.6M517.1 759.5v1.6M522.3 759.5v1.6M527.5 759.5v1.6M532.8 759.5v1.6M538 759.5v1.6M543.3 759.5v1.6M548.5 759.5v1.6M553.8 759.5v1.6M559 759.5v1.6M564.3 759.5v1.6M569.5 759.5v1.6M574.8 759.5v1.6M580 759.5v1.6M585.3 759.5v1.6M590.5 759.5v1.6M595.8 759.5v1.6M601 759.5v1.6M606.3 759.5v1.6M611.5 759.5v1.6M616.8 759.5v1.6M622 759.5v1.6M627.3 759.5v1.6M632.5 759.5v1.6M637.8 759.5v1.6M643 759.5v1.6M648.3 759.5v1.6M653.5 759.5v1.6M391.1 759.5h-3.0M391.1 739.9h-3.0M391.1 720.3h-3.0M391.1 700.7h-3.0M391.1 681.1h-3.0" stroke="#000" stroke-width="0.72" fill="none"/>
<path d="M615.3 668.1h8.7" stroke="#222" stroke-width="0.7"/>
<text x="627.9" y="670.3" font-size="6.7" font-family="'Liberation Serif',serif">Protein</text>
<path d="M615.3 678.7h8.7" stroke="#f07070" stroke-width="0.7"/>
<text x="627.9" y="680.9" font-size="6.7" font-family="'Liberation Serif',serif">Ligand</text>
<path d="M615.3 689.3h8.7" stroke="#3030ff" stroke-width="0.7"/>
<text x="627.9" y="691.5" font-size="6.7" font-family="'Liberation Serif',serif">Complex</text>
<text x="-0.3" y="814" font-size="12.7" font-family="'Liberation Sans',sans-serif" fill="#111">K</text>
<text x="143.2" y="831" font-size="10" font-family="'Liberation Serif',serif" font-weight="bold" text-anchor="middle">Hbonds</text>
<text x="143.3" y="981.5" font-size="9.4" font-family="'Liberation Serif',serif" font-weight="bold" text-anchor="middle">Time (ps)</text>
<text transform="translate(47.2 899.7) rotate(-90)" font-size="9.1" font-family="'Liberation Serif',serif" font-weight="bold" text-anchor="middle">The number of hydrogen bonds</text>
<path d="M61.30 932.6h3.30v22.0h-3.30zM65.50 932.6h2.10v22.0h-2.10zM68.50 932.6h1.50v22.0h-1.50zM70.90 932.6h0.30v22.0h-0.30zM74.80 932.6h0.30v22.0h-0.30zM75.40 932.6h0.90v22.0h-0.90zM76.60 932.6h0.30v22.0h-0.30zM77.20 932.6h1.50v22.0h-1.50zM80.20 932.6h0.30v22.0h-0.30zM82.60 932.6h2.40v22.0h-2.40zM86.20 932.6h1.50v22.0h-1.50zM89.20 932.6h1.50v22.0h-1.50zM91.30 932.6h1.80v22.0h-1.80zM94.00 932.6h1.50v22.0h-1.50zM97.90 932.6h7.50v22.0h-7.50zM105.70 932.6h0.90v22.0h-0.90zM107.80 932.6h1.50v22.0h-1.50zM109.90 932.6h1.50v22.0h-1.50zM111.70 932.6h1.80v22.0h-1.80zM114.40 932.6h0.90v22.0h-0.90zM115.90 932.6h0.90v22.0h-0.90zM119.20 932.6h0.30v22.0h-0.30zM120.70 932.6h0.90v22.0h-0.90zM122.50 932.6h0.90v22.0h-0.90zM124.60 932.6h2.70v22.0h-2.70zM127.60 932.6h0.90v22.0h-0.90zM128.80 932.6h0.60v22.0h-0.60zM129.70 932.6h0.30v22.0h-0.30zM130.30 932.6h0.60v22.0h-0.60zM132.70 932.6h0.60v22.0h-0.60zM137.50 932.6h0.60v22.0h-0.60zM139.00 932.6h0.60v22.0h-0.60zM144.70 932.6h1.20v22.0h-1.20zM148.00 932.6h0.30v22.0h-0.30zM150.70 932.6h0.30v22.0h-0.30zM152.80 932.6h0.60v22.0h-0.60zM154.90 932.6h0.30v22.0h-0.30zM156.10 932.6h0.30v22.0h-0.30zM156.70 932.6h0.30v22.0h-0.30zM158.50 932.6h0.30v22.0h-0.30zM159.70 932.6h1.80v22.0h-1.80zM163.30 932.6h0.90v22.0h-0.90zM166.00 932.6h0.60v22.0h-0.60zM169.90 932.6h0.30v22.0h-0.30zM172.60 932.6h0.30v22.0h-0.30zM173.50 932.6h1.50v22.0h-1.50zM178.30 932.6h0.60v22.0h-0.60zM180.40 932.6h0.90v22.0h-0.90zM182.20 932.6h0.30v22.0h-0.30zM184.30 932.6h0.30v22.0h-0.30zM186.70 932.6h1.50v22.0h-1.50zM189.40 932.6h0.90v22.0h-0.90zM190.90 932.6h0.30v22.0h-0.30zM194.80 932.6h0.60v22.0h-0.60zM197.80 932.6h26.40v22.0h-26.40zM61.30 910.7h1.50v22.0h-1.50zM63.70 910.7h0.60v22.0h-0.60zM66.40 910.7h44.40v22.0h-44.40zM111.40 910.7h27.90v22.0h-27.90zM139.90 910.7h63.00v22.0h-63.00zM223.60 910.7h0.60v22.0h-0.60zM68.80 888.7h0.30v22.0h-0.30zM74.80 888.7h0.30v22.0h-0.30zM76.60 888.7h1.20v22.0h-1.20zM79.60 888.7h0.30v22.0h-0.30zM80.20 888.7h0.30v22.0h-0.30zM81.10 888.7h0.60v22.0h-0.60zM84.10 888.7h0.60v22.0h-0.60zM85.30 888.7h0.60v22.0h-0.60zM88.60 888.7h0.90v22.0h-0.90zM91.30 888.7h0.60v22.0h-0.60zM93.70 888.7h0.60v22.0h-0.60zM94.60 888.7h0.90v22.0h-0.90zM96.70 888.7h0.30v22.0h-0.30zM98.20 888.7h0.30v22.0h-0.30zM99.70 888.7h0.60v22.0h-0.60zM104.80 888.7h0.60v22.0h-0.60zM110.50 888.7h0.30v22.0h-0.30zM112.30 888.7h0.60v22.0h-0.60zM118.60 888.7h0.30v22.0h-0.30zM121.90 888.7h0.90v22.0h-0.90zM125.80 888.7h0.30v22.0h-0.30zM127.60 888.7h0.30v22.0h-0.30zM130.60 888.7h0.30v22.0h-0.30zM134.50 888.7h1.50v22.0h-1.50zM136.30 888.7h0.30v22.0h-0.30zM137.20 888.7h0.60v22.0h-0.60zM138.70 888.7h3.90v22.0h-3.90zM144.10 888.7h3.00v22.0h-3.00zM150.10 888.7h0.60v22.0h-0.60zM152.50 888.7h3.30v22.0h-3.30zM157.00 888.7h0.30v22.0h-0.30zM157.60 888.7h0.90v22.0h-0.90zM160.30 888.7h0.30v22.0h-0.30zM161.50 888.7h0.60v22.0h-0.60zM163.00 888.7h2.40v22.0h-2.40zM166.00 888.7h0.30v22.0h-0.30zM168.40 888.7h0.30v22.0h-0.30zM170.50 888.7h0.30v22.0h-0.30zM175.00 888.7h1.20v22.0h-1.20zM176.50 888.7h0.30v22.0h-0.30zM178.00 888.7h0.30v22.0h-0.30zM178.60 888.7h0.60v22.0h-0.60zM179.80 888.7h1.20v22.0h-1.20zM182.20 888.7h1.80v22.0h-1.80zM186.10 888.7h1.50v22.0h-1.50zM188.50 888.7h0.30v22.0h-0.30zM190.60 888.7h0.90v22.0h-0.90zM192.10 888.7h0.60v22.0h-0.60zM193.60 888.7h0.30v22.0h-0.30zM194.50 888.7h0.90v22.0h-0.90zM196.30 888.7h0.90v22.0h-0.90zM197.80 888.7h2.10v22.0h-2.10zM200.50 888.7h0.90v22.0h-0.90zM202.00 888.7h0.90v22.0h-0.90z" fill="#000"/>
<path d="M61.3 932.6H224.2M61.3 910.7H202.9M62 888.7h0M109.2 910.7V866.8M137 910.7V866.8M223.8 932.6V910.7" stroke="#000" stroke-width="0.7" fill="none"/>
<path d="M61.3 844.8V954.6H224.2" stroke="#000" stroke-width="1.1" fill="none"/>
<text x="61.3" y="969.1" font-size="8" font-family="'Liberation Serif',serif" font-weight="bold" text-anchor="middle">0</text>
<text x="93.9" y="969.1" font-size="8" font-family="'Liberation Serif',serif" font-weight="bold" text-anchor="middle">20000</text>
<text x="126.5" y="969.1" font-size="8" font-family="'Liberation Serif',serif" font-weight="bold" text-anchor="middle">40000</text>
<text x="159" y="969.1" font-size="8" font-family="'Liberation Serif',serif" font-weight="bold" text-anchor="middle">60000</text>
<text x="191.6" y="969.1" font-size="8" font-family="'Liberation Serif',serif" font-weight="bold" text-anchor="middle">80000</text>
<text x="224.2" y="969.1" font-size="8" font-family="'Liberation Serif',serif" font-weight="bold" text-anchor="middle">100000</text>
<text x="58.1" y="957.4" font-size="8" font-family="'Liberation Serif',serif" font-weight="bold" text-anchor="end">0</text>
<text x="58.1" y="935.4" font-size="8" font-family="'Liberation Serif',serif" font-weight="bold" text-anchor="end">1</text>
<text x="58.1" y="913.5" font-size="8" font-family="'Liberation Serif',serif" font-weight="bold" text-anchor="end">2</text>
<text x="58.1" y="891.5" font-size="8" font-family="'Liberation Serif',serif" font-weight="bold" text-anchor="end">3</text>
<text x="58.1" y="869.6" font-size="8" font-family="'Liberation Serif',serif" font-weight="bold" text-anchor="end">4</text>
<text x="58.1" y="847.6" font-size="8" font-family="'Liberation Serif',serif" font-weight="bold" text-anchor="end">5</text>
<path d="M61.3 954.6v2.5M93.9 954.6v2.5M126.5 954.6v2.5M159 954.6v2.5M191.6 954.6v2.5M224.2 954.6v2.5M61.3 954.6h-2.5M61.3 932.6h-2.5M61.3 910.7h-2.5M61.3 888.7h-2.5M61.3 866.8h-2.5M61.3 844.8h-2.5" stroke="#000" stroke-width="0.9" fill="none"/>
<text x="273.5" y="818.6" font-size="17" font-family="'Liberation Sans',sans-serif" fill="#111">L</text>
<text x="349.5" y="847.5" font-size="6.9" font-family="'DejaVu Sans',sans-serif" text-anchor="middle" fill="#222">Gibbs Energy Landscape</text>
<polygon points="291.6,890 337.3,861.8 337.5,918.5 293.5,947.5" fill="#f3f3f3" />
<polygon points="337.3,861.8 406.6,876 406.6,930.5 337.5,918.5" fill="#ececec" />
<polygon points="293.5,947.5 337.5,918.5 406.6,930.5 368.5,972.5" fill="#f0f0f0" />
<path d="M297.1 886.6L298.8 944M304.7 881.9L306.1 939.2M312.3 877.3L313.4 934.4M319.8 872.6L320.7 929.6M327.4 867.9L328 924.8M335 863.2L335.3 920M291.8 896.9L337.3 868.6M337.3 868.6L406.6 882.5M292.1 905.9L337.4 877.4M337.4 877.4L406.6 891M292.4 914.8L337.4 886.3M337.4 886.3L406.6 899.5M292.7 923.8L337.4 895.1M337.4 895.1L406.6 908M293 932.8L337.4 904M337.4 904L406.6 916.5M293.3 941.8L337.5 912.8M337.5 912.8L406.6 925M344.2 863.2L344.4 919.7M358.1 866.1L358.2 922.1M372 868.9L372.1 924.5M385.8 871.7L385.9 926.9M399.7 874.6L399.7 929.3M297.9 944.6L372.3 968.3M344.4 919.7L301 950M306.7 938.8L379.9 959.9M358.2 922.1L316 955M315.5 933L387.6 951.5M372.1 924.5L331 960M324.3 927.2L395.2 943.1M385.9 926.9L346 965M333.1 921.4L402.8 934.7M399.7 929.3L361 970" stroke="#d4d4d4" stroke-width="0.45" fill="none"/>
<polygon points="302.1,947.3 343.2,916.6 398.9,931.6 367.1,968.9" fill="#cc3f33" />
<polygon points="387.9,947.5 388.3,948.6 386.9,949.7 384.6,950.6 383.7,951.7 380.1,952.1 377.6,952.6 375.3,953 374.4,954 372.8,954.7 371.6,955.9 369.4,956.4 367.6,957.2 365.2,957.1 363.1,958 360.9,957.9 358.7,958.2 356.4,958.6 354.5,958.2 351.7,959.1 349,959.4 349.1,957.4 347.5,957 345.5,956.8 341.6,957.5 339.8,957 337,956.8 336.1,955.9 336.5,954.6 337.1,953.4 338.6,952.1 338.3,951.2 340.7,950 340,949.2 339.5,948.4 338.4,947.5 341.6,946.6 342.7,945.8 342.8,944.9 341.8,943.6 343,942.7 342.5,941.1 345.8,940.8 346.1,939.1 348.7,938.5 352.3,939 354.2,938.2 356.2,937.3 358.6,937.2 360.8,936.3 363.2,935.3 365.5,936.1 367.5,936.5 369.3,937 371.7,936.6 373.4,937.1 375.5,937.2 377.4,937.5 379.3,937.7 378.9,939.2 378.9,940.3 378.6,941.3 382.7,940.8 383.3,941.6 386.8,941.7 387.4,942.6 388,943.4 389.8,944.2 389.1,945.4 387.5,946.5" fill="#e4836a" />
<polygon points="384.1,947 385.6,948 383.7,948.9 382.5,949.8 380.2,950.4 377.8,950.9 376.6,951.7 374.3,951.9 372.7,952.3 371.8,953.2 370.4,953.8 369.2,954.9 367.7,955.7 365.5,955.3 363.8,956.3 362,955.6 360.1,956.2 358.4,956.1 356.4,956.6 354.4,956.7 352.9,956.3 351.6,955.9 350.2,955.5 348.7,955.2 347.4,954.9 344.6,955.1 342.5,954.9 341.2,954.3 341.3,953.2 340.4,952.5 343,951 344.3,950 342.7,949.5 345.2,948.5 343.6,947.8 345.6,947 345.2,946.2 347.6,945.6 346,944.6 347,943.8 347.7,942.9 346.7,941.4 348.3,940.6 350.4,940 352.8,939.8 354.7,939.3 356.7,939 358.4,938.4 360.3,937.9 362.2,937.9 364.1,937.6 366,937.5 367.6,937.9 369.3,937.9 371.1,937.9 373,937.7 375.1,937.6 375.6,938.6 377.5,938.6 377.6,939.6 379.7,939.7 378.6,941 379.8,941.4 380.1,942.1 381.9,942.4 384.4,942.7 385.1,943.4 386.1,944.2 384.4,945.2 385.8,946" fill="#f0b39c" />
<polygon points="381.2,946.5 382.4,947.5 380.3,948.3 379.8,949.3 376.6,949.7 375.7,950.5 373.4,950.7 372.4,951.4 371.5,952.3 370.1,953 368.7,953.8 367,954.2 365.2,954.4 363.4,954.3 361.8,954.1 360,954.6 358.1,954.9 357,954.1 354.6,954.7 353.6,954 352,953.8 349.6,953.9 348,953.5 347.2,952.7 347.7,951.6 347.2,950.8 347.8,949.8 349,948.8 347.7,948.1 348.2,947.3 350.1,946.5 349.3,945.7 350.7,945 349.7,944 350.2,943 351.6,942.3 352.4,941.3 353.6,940.4 355.6,940 357.1,939.2 359.2,939.1 361.1,938.9 362.8,938.2 364.6,938.8 366.5,938 368.3,937.9 369.7,938.5 371.1,938.8 373.2,938.5 375.3,938.4 375.6,939.4 375.6,940.5 377.5,940.6 376.2,942 378.9,941.9 379.8,942.5 382.2,942.8 381.8,943.8 383.4,944.5 382.4,945.6" fill="#f5d6c8" />
<polygon points="378.9,946 378.3,946.9 378.4,947.9 377.8,948.9 375.6,949.4 374,950 372.7,950.6 371.8,951.6 370.3,952.2 368.6,952.7 366.8,952.5 365.2,953.3 363.3,953.6 361.9,953 359.5,954 358.3,953.2 357.2,952.5 356.2,951.9 353.6,952.2 352.4,951.5 352.4,950.4 353.2,949.3 351.9,948.7 352.9,947.7 352.9,946.8 351.3,946 352.2,945.1 353.4,944.2 354.4,943.4 354.4,942.3 356.4,941.8 357.1,940.6 359.1,940.4 361,940.1 362.6,939.8 364,938.8 365.8,938.6 367.6,938.6 369.3,938.6 370.6,939.2 372.1,939.4 373.3,939.9 374.8,940.1 375.9,940.6 376.2,941.5 377.7,941.8 378.1,942.6 379.5,943.2 379.8,944.1 379.4,945.1" fill="#c9d6f0" />
<polygon points="378.5,945.5 377.6,946.4 376.3,947.1 375.2,947.8 374.1,948.5 372.4,948.8 371.9,949.6 370.6,950 369.7,950.8 368.3,951 366.9,951.3 365.6,951.3 364.3,951.4 362.8,951.7 361.5,951.7 360.2,951.6 358.9,951.3 357.2,951.4 356.1,950.9 355.5,950.2 354.7,949.6 355.4,948.5 354.7,947.9 355.2,947 356.1,946.2 355.3,945.5 355.7,944.7 357.6,944.2 357.2,943.3 357.4,942.4 358.6,941.7 359.6,941 361,940.6 362.2,940 363.6,939.6 364.9,938.6 366.5,939.1 368,938.8 369.2,939.2 370.5,939.3 371.5,939.7 372.4,940.2 373.6,940.4 374.6,940.8 375.5,941.2 376.1,941.9 377.1,942.4 377.3,943.1 378.7,943.7 378.5,944.6" fill="#9fb8f4" />
<polygon points="375.3,945.5 375.1,946.4 373.9,947.2 373.3,948 371.8,948.5 370.7,949.1 369.7,949.9 368.5,950.4 367.1,950.4 365.8,950.4 364.4,950.6 363.2,950.6 361.7,950.8 360.2,950.8 359.9,949.8 358.3,949.7 357.7,948.9 358.4,947.8 358.2,947.1 358.7,946.3 358.1,945.5 359.2,944.7 359.4,943.9 359.6,942.9 360.6,942.1 362.1,941.7 363.3,941.2 364.5,940.5 365.9,940.3 367.3,940 368.6,940.3 369.9,940.2 371.3,940.2 372.2,940.7 373.4,941 373.3,942 373.8,942.6 374.6,943.2 376.2,943.7 375.8,944.6" fill="#7b98ee" />
<polygon points="373.6,945.5 373,946.4 372.1,947.3 370.8,947.9 369.6,948.4 368.6,949.2 367.3,949.6 366,949.4 364.5,950 363.4,949.7 362.3,949.4 361.4,948.8 360.7,948.1 361.3,947.1 361.2,946.3 361.5,945.5 361.8,944.7 362.3,943.8 362.8,942.8 364,942.1 365.5,942 366.7,941.3 368,941.6 369.1,941.8 370.4,941.6 371.4,941.9 371.9,942.6 372.1,943.3 373.4,943.7 373.7,944.6" fill="#4f69d4" />
<path d="M293.5 947.5L368.5 972.5L406.6 930.5" stroke="#333" stroke-width="0.5" fill="none"/>
<linearGradient id="fun" x1="0" y1="0" x2="0" y2="1"><stop offset="0" stop-color="#dc705a"/><stop offset="0.45" stop-color="#eea48c"/><stop offset="0.6" stop-color="#ecd6cc"/><stop offset="0.72" stop-color="#bccff2"/><stop offset="0.85" stop-color="#8aa6f0"/><stop offset="1" stop-color="#5570d8"/></linearGradient>
<path d="M343.5 904C346 915 349.5 926 352 935L354.5 945L376 945L378 935C380 925 383.5 912 386.5 898Z" fill="url(#fun)"/>
<path d="M345.5 905l4.9 28M346.5 905.5l4.6 20.8M349 906.6l4 28.9M350.8 905.7l3.6 28.2M352.5 906.6l3.1 15.1M354.5 906.9l2.6 23.2M355.7 906.6l2.3 29.9M357.4 905.6l1.9 9.2M359.3 907.2l1.4 8.5M361.3 907l0.9 27.4M363.2 906.9l0.5 13.7M365.5 906.4l-0.1 12.8M367.4 905.4l-0.6 28.3M368.9 905.3l-1 12.2M371.4 906.1l-1.6 13.7M372.8 907l-2 20.5M374 905.5l-2.3 24.6M376.6 907.5l-2.9 24.4M378.1 905.1l-3.3 22.2M380 905.3l-3.7 17M382.5 906.4l-4.4 26.7M384.3 907.4l-4.8 29.9" stroke="#f7e2d8" stroke-width="0.55" fill="none" opacity="0.65"/>
<path d="M345.8 905.8l4.2 14.9M347.9 905.6l3.8 16.3M350.4 905.4l3.2 12.2M354.2 906.7l2.4 14.3M355.5 906.1l2.1 9.8M358 905.1l1.5 14.2M360.7 905.1l0.9 5.2M363.4 906.8l0.4 7.5M366.3 905.8l-0.3 12.3M367.9 905.7l-0.6 17.4M372.5 906.9l-1.7 13.7M373.3 906l-1.8 11.6M375.6 905l-2.3 15.7M378.6 906.9l-3 5.6M381.4 906.5l-3.6 12.6M382.9 906.6l-3.9 9.5" stroke="#d8604c" stroke-width="0.5" fill="none" opacity="0.55"/>
<polygon points="300.2,895.6 338.2,866.9 400.7,882.7 392.3,892.5 387.2,894.5 364.7,912.9" fill="#c0163a" />
<linearGradient id="hol" x1="0" y1="0" x2="0" y2="1"><stop offset="0" stop-color="#d04a48"/><stop offset="0.3" stop-color="#e07a64"/><stop offset="0.7" stop-color="#eea58e"/><stop offset="1" stop-color="#f4cbb8"/></linearGradient>
<polygon points="338.2,887.4 343.3,883.3 350.4,881.2 360.7,879.2 372.9,879.2 383.1,879.7 385.7,881.2 387.2,890.4 385.7,895.5 378,900.7 370.9,904.7 363.7,907.8 356.6,908.8 350.4,903.7 345.3,898.6 338.2,895.5" fill="url(#hol)" />
<path d="M340.3 882.1l-0.5 9.5M342.1 882l-0.1 22.8M343.8 880.2l0.1 10.3M346.9 882.7l0.6 10.4M349.9 881.7l-0.2 14.7M351.8 882.5l-0.5 21.9M354.2 881.4l-0.5 21.5M357.1 881.6l-0.3 18.9M359.3 882.3l-0.6 17.5M361.9 880.7l-0.2 21M364.1 882.3l-0.7 21.6M366.5 880.7l0.5 18.5M368.9 882.8l0.3 10.3M371 880l-0.3 10.8M372.8 881.5l-0.4 11.4M376 882.3l0.8 10.3M377.8 881.5l-0.2 23.6M380.5 881.3l-0.2 19.1M382.5 882.8l0 19.4M385.5 882.6l0.2 21" stroke="#f8dcd0" stroke-width="0.7" fill="none" opacity="0.7"/>
<path d="M341.8 880.9l0 6.5M344.4 881.3l0.1 5.3M346 879.9l-0.1 15.2M348.7 881l0.2 13.3M351.1 880.2l0.5 7M353.8 879.9l-0.6 14.3M356.5 880.7l-0.4 13.9M360 881.4l0.3 15.2M361.7 881l1 4.5M364.2 880.8l-0.3 7.7M367.8 881.1l-0.7 14.2M369.8 881.2l-0.6 14.8M372.3 881.3l0.2 11.1M375.7 880.8l0.7 8.3M377.3 880.5l0.3 10.5M379.8 879.9l0.7 11.4M382.3 880.2l-0.2 6.9M385.3 880.6l-0.4 12" stroke="#cf4a44" stroke-width="0.6" fill="none" opacity="0.6"/>
<path d="M338.2 895.5L345.1 897.3L350.8 903L356.4 907.8L364 906.9L370.9 903.6L378.1 900L385.5 894.8L387.2 889.4L388.5 896L364.7 912.9L340 900Z" fill="#c4123a"/>
<path d="M406.6 876L406.6 928.5" stroke="#333" stroke-width="0.5" fill="none"/>
<text x="411.6" y="882.6" font-size="5.6" font-family="'DejaVu Sans',sans-serif" fill="#222">15.0</text>
<text x="411.3" y="891.2" font-size="5.6" font-family="'DejaVu Sans',sans-serif" fill="#222">12.5</text>
<text x="410.9" y="899.8" font-size="5.6" font-family="'DejaVu Sans',sans-serif" fill="#222">10.0</text>
<text x="410.6" y="908.4" font-size="5.6" font-family="'DejaVu Sans',sans-serif" fill="#222">7.5</text>
<text x="410.3" y="917" font-size="5.6" font-family="'DejaVu Sans',sans-serif" fill="#222">5.0</text>
<text x="409.9" y="925.5" font-size="5.6" font-family="'DejaVu Sans',sans-serif" fill="#222">2.5</text>
<path d="M408.5 878.6L406.6 930.8M407.8 880.6h1.6M407.5 889.2h1.6M407.1 897.8h1.6M406.8 906.3h1.6M406.5 914.9h1.6M406.1 923.5h1.6" stroke="#333" stroke-width="0.5" fill="none"/>
<text transform="translate(428.8 903.7) rotate(-90)" font-size="5.8" font-family="'DejaVu Sans',sans-serif" text-anchor="middle" fill="#222">G (kJ/mol)</text>
<text x="295.2" y="961.5" font-size="5.6" font-family="'DejaVu Sans',sans-serif" text-anchor="middle" fill="#222">0.0</text>
<text x="306" y="965" font-size="5.6" font-family="'DejaVu Sans',sans-serif" text-anchor="middle" fill="#222">0.1</text>
<text x="317.7" y="968.7" font-size="5.6" font-family="'DejaVu Sans',sans-serif" text-anchor="middle" fill="#222">0.1</text>
<text x="329.6" y="972.8" font-size="5.6" font-family="'DejaVu Sans',sans-serif" text-anchor="middle" fill="#222">0.2</text>
<text x="341.8" y="976.4" font-size="5.6" font-family="'DejaVu Sans',sans-serif" text-anchor="middle" fill="#222">0.2</text>
<text x="353.9" y="980.3" font-size="5.6" font-family="'DejaVu Sans',sans-serif" text-anchor="middle" fill="#222">0.3</text>
<text x="321.8" y="978" font-size="5.6" font-family="'DejaVu Sans',sans-serif" text-anchor="middle" fill="#222">RMSD</text>
<text x="405.2" y="949.3" font-size="5.6" font-family="'DejaVu Sans',sans-serif" text-anchor="middle" fill="#222">2.2</text>
<text x="396.4" y="958.5" font-size="5.6" font-family="'DejaVu Sans',sans-serif" text-anchor="middle" fill="#222">2.2</text>
<text x="387.2" y="968.3" font-size="5.6" font-family="'DejaVu Sans',sans-serif" text-anchor="middle" fill="#222">2.1</text>
<text x="377.4" y="978.5" font-size="5.6" font-family="'DejaVu Sans',sans-serif" text-anchor="middle" fill="#222">2.1</text>
<text transform="translate(402.4 966.4) rotate(-50)" font-size="5.8" font-family="'DejaVu Sans',sans-serif" text-anchor="middle" fill="#222">Gyrate</text>
<text x="479.3" y="814.9" font-size="14.4" font-family="'Liberation Sans',sans-serif" font-weight="bold" fill="#111">M</text>
<path d="M493.5 838.9H670.2" stroke="#000" stroke-width="1.1"/>
<path d="M495.5 980.1H669.3" stroke="#000" stroke-width="1.1"/>
<text x="518" y="851" font-size="9.1" font-family="'Liberation Serif',serif" text-anchor="middle" fill="#111">Energy</text>
<text x="625.3" y="851" font-size="9.1" font-family="'Liberation Serif',serif" text-anchor="middle" fill="#111">Complex</text>
<text x="526.5" y="868.5" font-size="9.1" font-family="'Liberation Serif',serif" text-anchor="middle" fill="#000">ΔVDWAALS</text>
<text x="625.8" y="868.5" font-size="9.1" font-family="'Liberation Serif',serif" text-anchor="middle" fill="#000">-38.98 ± 2.43</text>
<text x="517.5" y="886.1" font-size="9.1" font-family="'Liberation Serif',serif" text-anchor="middle" fill="#000">ΔEEL</text>
<text x="625.8" y="886.1" font-size="9.1" font-family="'Liberation Serif',serif" text-anchor="middle" fill="#000">-8.86 ± 3.40</text>
<text x="516.6" y="903.8" font-size="9.1" font-family="'Liberation Serif',serif" text-anchor="middle" fill="#000">ΔEGB</text>
<text x="625.8" y="903.8" font-size="9.1" font-family="'Liberation Serif',serif" text-anchor="middle" fill="#000">26.24 ± 3.03</text>
<text x="517" y="921.4" font-size="9.1" font-family="'Liberation Serif',serif" text-anchor="middle" fill="#000">ΔESURF</text>
<text x="625.8" y="921.4" font-size="9.1" font-family="'Liberation Serif',serif" text-anchor="middle" fill="#000">-5.36 ± 0.24</text>
<text x="517.5" y="939.0" font-size="9.1" font-family="'Liberation Serif',serif" text-anchor="middle" fill="#000">ΔGGAS</text>
<text x="625.8" y="939.0" font-size="9.1" font-family="'Liberation Serif',serif" text-anchor="middle" fill="#000">-47.84 ± 3.13</text>
<text x="521.6" y="956.6" font-size="9.1" font-family="'Liberation Serif',serif" text-anchor="middle" fill="#000">ΔGSOLV</text>
<text x="625.8" y="956.6" font-size="9.1" font-family="'Liberation Serif',serif" text-anchor="middle" fill="#000">20.87 ± 2.94</text>
<text x="520" y="974.3" font-size="9.1" font-family="'Liberation Serif',serif" text-anchor="middle" fill="#000">ΔTOTAL</text>
<text x="625.8" y="974.3" font-size="9.1" font-family="'Liberation Serif',serif" text-anchor="middle" fill="#000">-26.97 ± 2.09</text>
</svg>
</body></html>
